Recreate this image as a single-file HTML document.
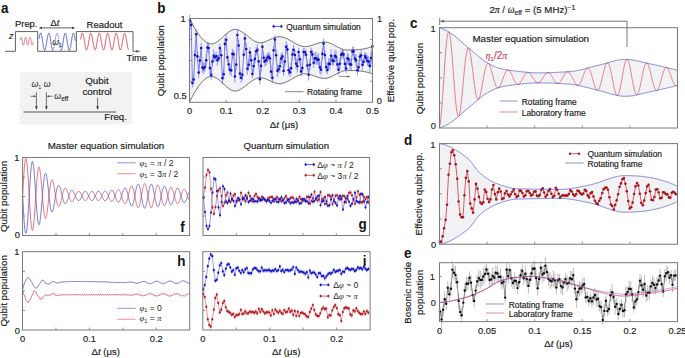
<!DOCTYPE html>
<html><head><meta charset="utf-8"><style>
html,body{margin:0;padding:0;background:#fff;width:685px;height:358px;overflow:hidden}
svg{display:block}
text{font-family:"Liberation Sans", sans-serif}
</style></head><body>
<svg width="685" height="358" viewBox="0 0 685 358">
<rect width="685" height="358" fill="#fff"/>
<text transform="translate(1.00,13.30) scale(0.9,1)" font-size="15" font-weight="bold" fill="#111">a</text>
<path d="M5,51.3 H15.4 V31.6 H37.7 V51.3 H76.4 V31.6 H133 V51.3 H138.5" fill="none" stroke="#606060" stroke-width="1"/>
<path d="M136.2,49.9 L140.6,51.3 L136.2,52.7 Z" fill="#606060"/>
<text x="15.00" y="27.20" font-size="9.4" text-anchor="start" fill="#1e1e1e" font-weight="normal" stroke="#1e1e1e" stroke-width="0.18" >Prep.</text>
<text x="86.60" y="28.00" font-size="9.5" text-anchor="start" fill="#1e1e1e" font-weight="normal" stroke="#1e1e1e" stroke-width="0.18" >Readout</text>
<text x="126.50" y="61.30" font-size="9.4" text-anchor="start" fill="#1e1e1e" font-weight="normal" stroke="#1e1e1e" stroke-width="0.18" >Time</text>
<text x="8.8" y="39.0" font-size="9.5" fill="#1e1e1e" font-style="italic">z</text>
<line x1="40.5" y1="27.9" x2="73.5" y2="27.9" stroke="#333" stroke-width="0.8"/>
<path d="M38.6,27.9 L42,26.7 L42,29.1 Z" fill="#333"/><path d="M75.4,27.9 L72,26.7 L72,29.1 Z" fill="#333"/>
<text x="50.6" y="25.6" font-size="9.3" fill="#1e1e1e" stroke="#1e1e1e" stroke-width="0.18">Δ<tspan font-style="italic">t</tspan></text>
<path d="M20.3,40.1 L20.4,39.6 L20.5,39.1 L20.6,38.7 L20.7,38.3 L20.8,38.0 L20.9,37.7 L20.9,37.5 L21.0,37.3 L21.1,37.2 L21.2,37.2 L21.3,37.3 L21.4,37.4 L21.5,37.6 L21.6,37.8 L21.7,38.1 L21.8,38.5 L21.9,38.9 L22.0,39.4 L22.1,39.9 L22.2,40.4 L22.2,40.9 L22.3,41.4 L22.4,42.0 L22.5,42.5 L22.6,43.0 L22.7,43.4 L22.8,43.8 L22.9,44.2 L23.0,44.5 L23.1,44.8 L23.2,45.0 L23.3,45.1 L23.4,45.2 L23.5,45.2 L23.5,45.1 L23.6,45.0 L23.7,44.8 L23.8,44.5 L23.9,44.1 L24.0,43.8 L24.1,43.3 L24.2,42.9 L24.3,42.4 L24.4,41.9 L24.5,41.3 L24.6,40.8 L24.7,40.3 L24.8,39.8 L24.8,39.3 L24.9,38.8 L25.0,38.4 L25.1,38.1 L25.2,37.8 L25.3,37.5 L25.4,37.4 L25.5,37.2 L25.6,37.2 L25.7,37.2 L25.8,37.3 L25.9,37.5 L26.0,37.7 L26.1,38.0 L26.1,38.4 L26.2,38.8 L26.3,39.2 L26.4,39.7 L26.5,40.2 L26.6,40.7 L26.7,41.2 L26.8,41.7 L26.9,42.3 L27.0,42.8 L27.1,43.2 L27.2,43.7 L27.3,44.1 L27.4,44.4 L27.4,44.7 L27.5,44.9 L27.6,45.1 L27.7,45.2 L27.8,45.2 L27.9,45.2 L28.0,45.0 L28.1,44.8 L28.2,44.6 L28.3,44.3 L28.4,43.9 L28.5,43.5 L28.6,43.1 L28.7,42.6 L28.7,42.1 L28.8,41.6 L28.9,41.0 L29.0,40.5 L29.1,40.0 L29.2,39.5 L29.3,39.0 L29.4,38.6 L29.5,38.2 L29.6,37.9 L29.7,37.6 L29.8,37.4 L29.9,37.3 L30.0,37.2 L30.0,37.2 L30.1,37.3 L30.2,37.4 L30.3,37.6 L30.4,37.9 L30.5,38.2 L30.6,38.6 L30.7,39.0 L30.8,39.5 L30.9,40.0 L31.0,40.5 L31.1,41.0 L31.2,41.5 L31.3,42.1 L31.3,42.6 L31.4,43.0 L31.5,43.5 L31.6,43.9 L31.7,44.3 L31.8,44.6 L31.9,44.8 L32.0,45.0 L32.1,45.1 L32.2,45.2 L32.3,45.2 L32.4,45.1 L32.5,44.9 L32.6,44.7 L32.6,44.4 L32.7,44.1 L32.8,43.7 L32.9,43.3 L33.0,42.8 L33.1,42.3 L33.2,41.8" fill="none" stroke="#d0505a" stroke-width="0.75" />
<path d="M39.0,38.9 L39.1,38.3 L39.2,37.8 L39.3,37.3 L39.4,36.8 L39.5,36.3 L39.5,35.9 L39.6,35.4 L39.7,35.1 L39.8,34.7 L39.9,34.4 L40.0,34.1 L40.1,33.8 L40.2,33.6 L40.3,33.5 L40.4,33.3 L40.5,33.3 L40.5,33.2 L40.6,33.2 L40.7,33.2 L40.8,33.3 L40.9,33.4 L41.0,33.6 L41.1,33.8 L41.2,34.0 L41.3,34.3 L41.4,34.6 L41.5,35.0 L41.5,35.4 L41.6,35.8 L41.7,36.2 L41.8,36.7 L41.9,37.2 L42.0,37.7 L42.1,38.2 L42.2,38.8 L42.3,39.4 L42.4,39.9 L42.5,40.5 L42.5,41.1 L42.6,41.7 L42.7,42.3 L42.8,42.9 L42.9,43.5 L43.0,44.1 L43.1,44.7 L43.2,45.2 L43.3,45.8 L43.4,46.3 L43.5,46.8 L43.5,47.3 L43.6,47.7 L43.7,48.1 L43.8,48.5 L43.9,48.9 L44.0,49.2 L44.1,49.5 L44.2,49.7 L44.3,50.0 L44.4,50.1 L44.5,50.3 L44.5,50.3 L44.6,50.4 L44.7,50.4 L44.8,50.4 L44.9,50.3 L45.0,50.2 L45.1,50.0 L45.2,49.8 L45.3,49.6 L45.4,49.3 L45.5,49.0 L45.6,48.6 L45.6,48.3 L45.7,47.8 L45.8,47.4 L45.9,46.9 L46.0,46.4 L46.1,45.9 L46.2,45.4 L46.3,44.8 L46.4,44.3 L46.5,43.7 L46.6,43.1 L46.6,42.5 L46.7,41.9 L46.8,41.3 L46.9,40.7 L47.0,40.1 L47.1,39.5 L47.2,39.0 L47.3,38.4 L47.4,37.9 L47.5,37.3 L47.6,36.8 L47.6,36.4 L47.7,35.9 L47.8,35.5 L47.9,35.1 L48.0,34.7 L48.1,34.4 L48.2,34.1 L48.3,33.9 L48.4,33.7 L48.5,33.5 L48.6,33.4 L48.6,33.3 L48.7,33.2 L48.8,33.2 L48.9,33.2 L49.0,33.3 L49.1,33.4 L49.2,33.6 L49.3,33.8 L49.4,34.0 L49.5,34.3 L49.6,34.6 L49.6,34.9 L49.7,35.3 L49.8,35.7 L49.9,36.2 L50.0,36.6 L50.1,37.1 L50.2,37.6 L50.3,38.2 L50.4,38.7 L50.5,39.3 L50.6,39.9 L50.6,40.5 L50.7,41.1 L50.8,41.6 L50.9,42.2 L51.0,42.8 L51.1,43.4 L51.2,44.0 L51.3,44.6 L51.4,45.2 L51.5,45.7 L51.6,46.2 L51.6,46.7 L51.7,47.2 L51.8,47.7 L51.9,48.1 L52.0,48.5 L52.1,48.8 L52.2,49.2 L52.3,49.5 L52.4,49.7 L52.5,49.9 L52.6,50.1 L52.6,50.2 L52.7,50.3" fill="none" stroke="#4448c4" stroke-width="0.9" />
<path d="M52.8,50.4 L52.9,50.4 L53.0,50.4 L53.1,50.3 L53.2,50.2 L53.3,50.0 L53.4,49.8 L53.5,49.6 L53.6,49.3 L53.6,49.0 L53.7,48.7 L53.8,48.3 L53.9,47.9 L54.0,47.5 L54.1,47.0 L54.2,46.5 L54.3,46.0 L54.4,45.5 L54.5,44.9 L54.6,44.3 L54.6,43.8 L54.7,43.2 L54.8,42.6 L54.9,42.0 L55.0,41.4 L55.1,40.8 L55.2,40.2 L55.3,39.6 L55.4,39.0 L55.5,38.5 L55.6,37.9 L55.6,37.4 L55.7,36.9 L55.8,36.4 L55.9,36.0 L56.0,35.5 L56.1,35.1 L56.2,34.8 L56.3,34.5 L56.4,34.2 L56.5,33.9 L56.6,33.7 L56.6,33.5 L56.7,33.4 L56.8,33.3 L56.9,33.2 L57.0,33.2 L57.1,33.2 L57.2,33.3 L57.3,33.4 L57.4,33.6 L57.5,33.7 L57.6,34.0 L57.7,34.2 L57.7,34.6 L57.8,34.9 L57.9,35.3 L58.0,35.7 L58.1,36.1 L58.2,36.6 L58.3,37.1 L58.4,37.6 L58.5,38.1 L58.6,38.6 L58.7,39.2 L58.7,39.8 L58.8,40.4 L58.9,41.0 L59.0,41.6 L59.1,42.2 L59.2,42.8 L59.3,43.4 L59.4,43.9 L59.5,44.5 L59.6,45.1 L59.7,45.6 L59.7,46.2 L59.8,46.7 L59.9,47.1 L60.0,47.6 L60.1,48.0 L60.2,48.4 L60.3,48.8 L60.4,49.1 L60.5,49.4" fill="none" stroke="#4448c4" stroke-width="0.9" stroke-dasharray="1.3,1"/>
<path d="M60.6,49.7 L60.7,49.9 L60.7,50.1 L60.8,50.2 L60.9,50.3 L61.0,50.4 L61.1,50.4 L61.2,50.4 L61.3,50.3 L61.4,50.2 L61.5,50.1 L61.6,49.9 L61.7,49.6 L61.7,49.4 L61.8,49.1 L61.9,48.7 L62.0,48.4 L62.1,48.0 L62.2,47.5 L62.3,47.1 L62.4,46.6 L62.5,46.1 L62.6,45.5 L62.7,45.0 L62.7,44.4 L62.8,43.8 L62.9,43.3 L63.0,42.7 L63.1,42.1 L63.2,41.5 L63.3,40.9 L63.4,40.3 L63.5,39.7 L63.6,39.1 L63.7,38.6 L63.7,38.0 L63.8,37.5 L63.9,37.0 L64.0,36.5 L64.1,36.0 L64.2,35.6 L64.3,35.2 L64.4,34.8 L64.5,34.5 L64.6,34.2 L64.7,33.9 L64.7,33.7 L64.8,33.5 L64.9,33.4 L65.0,33.3 L65.1,33.2 L65.2,33.2 L65.3,33.2 L65.4,33.3 L65.5,33.4 L65.6,33.5 L65.7,33.7 L65.7,33.9 L65.8,34.2 L65.9,34.5 L66.0,34.8 L66.1,35.2 L66.2,35.6 L66.3,36.0 L66.4,36.5 L66.5,37.0 L66.6,37.5 L66.7,38.0 L66.7,38.6 L66.8,39.1 L66.9,39.7 L67.0,40.3 L67.1,40.9 L67.2,41.5 L67.3,42.1 L67.4,42.7 L67.5,43.3 L67.6,43.9 L67.7,44.4 L67.7,45.0 L67.8,45.6 L67.9,46.1 L68.0,46.6 L68.1,47.1 L68.2,47.5 L68.3,48.0 L68.4,48.4 L68.5,48.7 L68.6,49.1 L68.7,49.4 L68.7,49.6 L68.8,49.9 L68.9,50.1 L69.0,50.2 L69.1,50.3 L69.2,50.4 L69.3,50.4 L69.4,50.4 L69.5,50.3 L69.6,50.2 L69.7,50.1 L69.8,49.9 L69.8,49.7 L69.9,49.4 L70.0,49.1 L70.1,48.8 L70.2,48.4 L70.3,48.0 L70.4,47.6 L70.5,47.1 L70.6,46.6 L70.7,46.1 L70.8,45.6 L70.8,45.1 L70.9,44.5 L71.0,43.9 L71.1,43.3 L71.2,42.7 L71.3,42.1 L71.4,41.5 L71.5,41.0 L71.6,40.4 L71.7,39.8 L71.8,39.2 L71.8,38.6 L71.9,38.1 L72.0,37.5 L72.1,37.0 L72.2,36.6 L72.3,36.1 L72.4,35.7 L72.5,35.3 L72.6,34.9 L72.7,34.5 L72.8,34.2 L72.8,34.0 L72.9,33.7 L73.0,33.6 L73.1,33.4 L73.2,33.3 L73.3,33.2 L73.4,33.2 L73.5,33.2 L73.6,33.3 L73.7,33.4 L73.8,33.5 L73.8,33.7 L73.9,33.9 L74.0,34.2 L74.1,34.5 L74.2,34.8 L74.3,35.2 L74.4,35.6 L74.5,36.0 L74.6,36.4 L74.7,36.9 L74.8,37.4 L74.8,38.0 L74.9,38.5 L75.0,39.1 L75.1,39.6 L75.2,40.2 L75.3,40.8" fill="none" stroke="#4448c4" stroke-width="0.9" />
<text x="52.2" y="45.2" font-size="8.6" fill="#1e1e1e" font-family="Liberation Serif" font-style="italic">ω<tspan font-size="5.5" dy="1.6" font-family="Liberation Sans" font-style="normal">1</tspan></text>
<path d="M80.6,39.5 L80.7,38.8 L80.8,38.1 L81.0,37.4 L81.1,36.8 L81.2,36.2 L81.3,35.6 L81.4,35.1 L81.6,34.7 L81.7,34.3 L81.8,33.9 L81.9,33.7 L82.0,33.4 L82.2,33.3 L82.3,33.2 L82.4,33.2 L82.5,33.3 L82.7,33.4 L82.8,33.6 L82.9,33.8 L83.0,34.1 L83.1,34.5 L83.3,34.9 L83.4,35.4 L83.5,36.0 L83.6,36.5 L83.7,37.2 L83.9,37.8 L84.0,38.5 L84.1,39.2 L84.2,40.0 L84.3,40.7 L84.5,41.5 L84.6,42.2 L84.7,43.0 L84.8,43.7 L84.9,44.4 L85.1,45.1 L85.2,45.8 L85.3,46.4 L85.4,47.0 L85.6,47.6 L85.7,48.1 L85.8,48.5 L85.9,48.9 L86.0,49.3 L86.2,49.5 L86.3,49.8 L86.4,49.9 L86.5,50.0 L86.6,50.0 L86.8,49.9 L86.9,49.8 L87.0,49.6 L87.1,49.4 L87.2,49.1 L87.4,48.7 L87.5,48.2 L87.6,47.8 L87.7,47.2 L87.8,46.6 L88.0,46.0 L88.1,45.4 L88.2,44.7 L88.3,44.0 L88.5,43.2 L88.6,42.5 L88.7,41.7 L88.8,41.0 L88.9,40.2 L89.1,39.5 L89.2,38.8 L89.3,38.1 L89.4,37.4 L89.5,36.8 L89.7,36.2 L89.8,35.6 L89.9,35.1 L90.0,34.7 L90.1,34.3 L90.3,33.9 L90.4,33.6 L90.5,33.4 L90.6,33.3 L90.7,33.2 L90.9,33.2 L91.0,33.3 L91.1,33.4 L91.2,33.6 L91.4,33.8 L91.5,34.2 L91.6,34.5 L91.7,35.0 L91.8,35.5 L92.0,36.0 L92.1,36.6 L92.2,37.2 L92.3,37.9 L92.4,38.5 L92.6,39.3 L92.7,40.0 L92.8,40.7 L92.9,41.5 L93.0,42.2 L93.2,43.0 L93.3,43.7 L93.4,44.5 L93.5,45.2 L93.6,45.8 L93.8,46.5 L93.9,47.0 L94.0,47.6 L94.1,48.1 L94.3,48.6 L94.4,48.9 L94.5,49.3 L94.6,49.6 L94.7,49.8 L94.9,49.9 L95.0,50.0 L95.1,50.0 L95.2,49.9 L95.3,49.8 L95.5,49.6 L95.6,49.4 L95.7,49.0 L95.8,48.7 L95.9,48.2 L96.1,47.7 L96.2,47.2 L96.3,46.6 L96.4,46.0 L96.5,45.3 L96.7,44.6 L96.8,43.9 L96.9,43.2 L97.0,42.4 L97.1,41.7 L97.3,40.9 L97.4,40.2 L97.5,39.4 L97.6,38.7 L97.8,38.0 L97.9,37.4 L98.0,36.7 L98.1,36.1 L98.2,35.6 L98.4,35.1 L98.5,34.6 L98.6,34.2 L98.7,33.9 L98.8,33.6 L99.0,33.4 L99.1,33.3 L99.2,33.2 L99.3,33.2 L99.4,33.3 L99.6,33.4 L99.7,33.6 L99.8,33.8 L99.9,34.2 L100.0,34.5 L100.2,35.0 L100.3,35.5 L100.4,36.0 L100.5,36.6 L100.7,37.2 L100.8,37.9 L100.9,38.6 L101.0,39.3 L101.1,40.0 L101.3,40.8 L101.4,41.5 L101.5,42.3 L101.6,43.0 L101.7,43.8 L101.9,44.5 L102.0,45.2 L102.1,45.9 L102.2,46.5 L102.3,47.1 L102.5,47.6 L102.6,48.1 L102.7,48.6 L102.8,49.0 L102.9,49.3 L103.1,49.6 L103.2,49.8 L103.3,49.9 L103.4,50.0 L103.6,50.0 L103.7,49.9 L103.8,49.8 L103.9,49.6 L104.0,49.3 L104.2,49.0 L104.3,48.6 L104.4,48.2 L104.5,47.7 L104.6,47.2 L104.8,46.6 L104.9,46.0 L105.0,45.3 L105.1,44.6 L105.2,43.9 L105.4,43.1 L105.5,42.4 L105.6,41.6 L105.7,40.9 L105.8,40.1 L106.0,39.4 L106.1,38.7 L106.2,38.0 L106.3,37.3 L106.5,36.7 L106.6,36.1 L106.7,35.6 L106.8,35.1 L106.9,34.6 L107.1,34.2 L107.2,33.9 L107.3,33.6 L107.4,33.4 L107.5,33.3 L107.7,33.2 L107.8,33.2 L107.9,33.3 L108.0,33.4 L108.1,33.6 L108.3,33.9 L108.4,34.2 L108.5,34.6 L108.6,35.0 L108.7,35.5 L108.9,36.0 L109.0,36.6 L109.1,37.3 L109.2,37.9 L109.4,38.6 L109.5,39.3 L109.6,40.1 L109.7,40.8 L109.8,41.6 L110.0,42.3 L110.1,43.1 L110.2,43.8 L110.3,44.5 L110.4,45.2 L110.6,45.9 L110.7,46.5 L110.8,47.1 L110.9,47.7 L111.0,48.2 L111.2,48.6 L111.3,49.0 L111.4,49.3 L111.5,49.6 L111.6,49.8 L111.8,49.9 L111.9,50.0 L112.0,50.0 L112.1,49.9 L112.3,49.8 L112.4,49.6 L112.5,49.3 L112.6,49.0 L112.7,48.6 L112.9,48.2 L113.0,47.7 L113.1,47.1 L113.2,46.5 L113.3,45.9 L113.5,45.3 L113.6,44.6 L113.7,43.8 L113.8,43.1 L113.9,42.4 L114.1,41.6 L114.2,40.9 L114.3,40.1 L114.4,39.4 L114.5,38.7 L114.7,38.0 L114.8,37.3 L114.9,36.7 L115.0,36.1 L115.1,35.5 L115.3,35.0 L115.4,34.6 L115.5,34.2 L115.6,33.9 L115.8,33.6 L115.9,33.4 L116.0,33.3 L116.1,33.2 L116.2,33.2 L116.4,33.3 L116.5,33.4 L116.6,33.6 L116.7,33.9 L116.8,34.2 L117.0,34.6 L117.1,35.0 L117.2,35.5 L117.3,36.1 L117.4,36.7 L117.6,37.3 L117.7,38.0 L117.8,38.7 L117.9,39.4 L118.0,40.1 L118.2,40.9 L118.3,41.6 L118.4,42.4 L118.5,43.1 L118.7,43.8 L118.8,44.6 L118.9,45.3 L119.0,45.9 L119.1,46.5 L119.3,47.1 L119.4,47.7 L119.5,48.2 L119.6,48.6 L119.7,49.0 L119.9,49.3 L120.0,49.6 L120.1,49.8 L120.2,49.9 L120.3,50.0 L120.5,50.0 L120.6,49.9 L120.7,49.8 L120.8,49.6 L120.9,49.3 L121.1,49.0 L121.2,48.6 L121.3,48.2 L121.4,47.7 L121.6,47.1 L121.7,46.5 L121.8,45.9 L121.9,45.2 L122.0,44.5 L122.2,43.8 L122.3,43.1 L122.4,42.3 L122.5,41.6 L122.6,40.8 L122.8,40.1 L122.9,39.3 L123.0,38.6 L123.1,37.9 L123.2,37.3 L123.4,36.6 L123.5,36.0 L123.6,35.5 L123.7,35.0 L123.8,34.6 L124.0,34.2 L124.1,33.9 L124.2,33.6 L124.3,33.4 L124.5,33.3 L124.6,33.2 L124.7,33.2 L124.8,33.3 L124.9,33.4 L125.1,33.6 L125.2,33.9 L125.3,34.2 L125.4,34.6 L125.5,35.1 L125.7,35.6 L125.8,36.1 L125.9,36.7 L126.0,37.3 L126.1,38.0 L126.3,38.7 L126.4,39.4 L126.5,40.1 L126.6,40.9 L126.7,41.6 L126.9,42.4 L127.0,43.1 L127.1,43.9 L127.2,44.6 L127.4,45.3 L127.5,46.0 L127.6,46.6 L127.7,47.2 L127.8,47.7 L128.0,48.2 L128.1,48.6 L128.2,49.0 L128.3,49.3 L128.4,49.6 L128.6,49.8 L128.7,49.9 L128.8,50.0" fill="none" stroke="#d83c4a" stroke-width="0.9" />
<rect x="19.5" y="71.8" width="112" height="52.8" fill="#f2f2f2"/>
<text x="31.5" y="87.2" font-size="8.8" fill="#1e1e1e" font-family="Liberation Serif" font-style="italic">ω<tspan font-size="5.5" dy="1.6" font-family="Liberation Sans" font-style="normal">1</tspan><tspan dy="-1.6"> ω</tspan></text>
<line x1="36.4" y1="92.3" x2="36.4" y2="107.3" stroke="#333" stroke-width="0.7"/>
<path d="M35.1,106.3 L36.4,110 L37.699999999999996,106.3 Z" fill="#333"/>
<line x1="46.4" y1="92.3" x2="46.4" y2="107.3" stroke="#333" stroke-width="0.7"/>
<path d="M45.1,106.3 L46.4,110 L47.699999999999996,106.3 Z" fill="#333"/>
<line x1="97.6" y1="97.7" x2="97.6" y2="107.3" stroke="#333" stroke-width="0.7"/>
<path d="M96.3,106.3 L97.6,110 L98.89999999999999,106.3 Z" fill="#333"/>
<line x1="30.5" y1="96.3" x2="34.5" y2="96.3" stroke="#333" stroke-width="0.6"/>
<path d="M33.6,95.3 L36.2,96.3 L33.6,97.3 Z" fill="#333"/>
<line x1="48.3" y1="96.3" x2="52.7" y2="96.3" stroke="#333" stroke-width="0.6"/>
<path d="M49.2,95.3 L46.6,96.3 L49.2,97.3 Z" fill="#333"/>
<text x="54.3" y="99.2" font-size="8.8" fill="#1e1e1e" font-family="Liberation Serif" font-style="italic">ω<tspan font-size="6.5" dy="1.8" font-family="Liberation Sans" font-style="normal" stroke="#1e1e1e" stroke-width="0.15">eff</tspan></text>
<line x1="23.6" y1="112" x2="116.3" y2="112" stroke="#8a8a8a" stroke-width="1.4"/>
<text x="85.20" y="83.90" font-size="9.8" text-anchor="start" fill="#1e1e1e" font-weight="normal" stroke="#1e1e1e" stroke-width="0.18" >Qubit</text>
<text x="82.40" y="95.40" font-size="9.8" text-anchor="start" fill="#1e1e1e" font-weight="normal" stroke="#1e1e1e" stroke-width="0.18" >control</text>
<text x="104.30" y="119.60" font-size="9.7" text-anchor="start" fill="#1e1e1e" font-weight="normal" stroke="#1e1e1e" stroke-width="0.18" >Freq.</text>
<path d="M189.5,18.4 L190.0,19.3 L190.4,20.2 L190.9,21.1 L191.3,22.0 L191.8,22.9 L192.3,23.7 L192.7,24.6 L193.2,25.4 L193.6,26.3 L194.1,27.1 L194.5,27.9 L195.0,28.6 L195.5,29.4 L195.9,30.1 L196.4,30.9 L196.8,31.6 L197.3,32.3 L197.8,33.0 L198.2,33.6 L198.7,34.3 L199.1,34.9 L199.6,35.5 L200.0,36.1 L200.5,36.7 L201.0,37.3 L201.4,37.8 L201.9,38.3 L202.3,38.8 L202.8,39.3 L203.3,39.7 L203.7,40.2 L204.2,40.6 L204.6,41.0 L205.1,41.3 L205.6,41.7 L206.0,42.0 L206.5,42.3 L206.9,42.6 L207.4,42.8 L207.8,43.0 L208.3,43.2 L208.8,43.4 L209.2,43.6 L209.7,43.7 L210.1,43.8 L210.6,43.8 L211.1,43.9 L211.5,43.9 L212.0,43.9 L212.4,43.8 L212.9,43.8 L213.3,43.6 L213.8,43.5 L214.3,43.3 L214.7,43.2 L215.2,42.9 L215.6,42.7 L216.1,42.4 L216.6,42.2 L217.0,41.9 L217.5,41.6 L217.9,41.2 L218.4,40.9 L218.9,40.5 L219.3,40.2 L219.8,39.8 L220.2,39.4 L220.7,39.0 L221.1,38.6 L221.6,38.2 L222.1,37.7 L222.5,37.3 L223.0,36.9 L223.4,36.5 L223.9,36.1 L224.4,35.6 L224.8,35.2 L225.3,34.8 L225.7,34.4 L226.2,34.0 L226.7,33.6 L227.1,33.2 L227.6,32.8 L228.0,32.5 L228.5,32.1 L228.9,31.8 L229.4,31.5 L229.9,31.2 L230.3,30.9 L230.8,30.6 L231.2,30.4 L231.7,30.2 L232.2,30.0 L232.6,29.8 L233.1,29.7 L233.5,29.6 L234.0,29.5 L234.4,29.4 L234.9,29.4 L235.4,29.4 L235.8,29.4 L236.3,29.5 L236.7,29.6 L237.2,29.7 L237.7,29.8 L238.1,30.0 L238.6,30.1 L239.0,30.3 L239.5,30.5 L240.0,30.8 L240.4,31.0 L240.9,31.3 L241.3,31.5 L241.8,31.8 L242.2,32.1 L242.7,32.4 L243.2,32.7 L243.6,33.1 L244.1,33.4 L244.5,33.7 L245.0,34.1 L245.5,34.4 L245.9,34.8 L246.4,35.2 L246.8,35.5 L247.3,35.9 L247.7,36.2 L248.2,36.6 L248.7,37.0 L249.1,37.3 L249.6,37.7 L250.0,38.1 L250.5,38.4 L251.0,38.7 L251.4,39.1 L251.9,39.4 L252.3,39.7 L252.8,40.0 L253.3,40.3 L253.7,40.6 L254.2,40.9 L254.6,41.1 L255.1,41.4 L255.5,41.6 L256.0,41.8 L256.5,42.0 L256.9,42.1 L257.4,42.3 L257.8,42.4 L258.3,42.5 L258.8,42.6 L259.2,42.7 L259.7,42.7 L260.1,42.7 L260.6,42.7 L261.0,42.6 L261.5,42.6 L262.0,42.5 L262.4,42.4 L262.9,42.3 L263.3,42.2 L263.8,42.1 L264.3,42.0 L264.7,41.8 L265.2,41.7 L265.6,41.5 L266.1,41.3 L266.6,41.1 L267.0,40.9 L267.5,40.7 L267.9,40.5 L268.4,40.3 L268.8,40.1 L269.3,39.9 L269.8,39.7 L270.2,39.5 L270.7,39.3 L271.1,39.1 L271.6,38.9 L272.1,38.7 L272.5,38.5 L273.0,38.3 L273.4,38.1 L273.9,37.9 L274.3,37.7 L274.8,37.6 L275.3,37.4 L275.7,37.3 L276.2,37.2 L276.6,37.0 L277.1,36.9 L277.6,36.9 L278.0,36.8 L278.5,36.7 L278.9,36.7 L279.4,36.7 L279.9,36.7 L280.3,36.7 L280.8,36.8 L281.2,36.8 L281.7,36.9 L282.1,37.0 L282.6,37.1 L283.1,37.2 L283.5,37.4 L284.0,37.5 L284.4,37.7 L284.9,37.8 L285.4,38.0 L285.8,38.2 L286.3,38.4 L286.7,38.6 L287.2,38.9 L287.7,39.1 L288.1,39.3 L288.6,39.6 L289.0,39.8 L289.5,40.1 L289.9,40.3 L290.4,40.6 L290.9,40.8 L291.3,41.1 L291.8,41.4 L292.2,41.6 L292.7,41.9 L293.2,42.2 L293.6,42.4 L294.1,42.7 L294.5,43.0 L295.0,43.2 L295.4,43.5 L295.9,43.7 L296.4,44.0 L296.8,44.2 L297.3,44.4 L297.7,44.6 L298.2,44.9 L298.7,45.1 L299.1,45.3 L299.6,45.4 L300.0,45.6 L300.5,45.8 L301.0,45.9 L301.4,46.1 L301.9,46.2 L302.3,46.3 L302.8,46.4 L303.2,46.5 L303.7,46.5 L304.2,46.6 L304.6,46.6 L305.1,46.6 L305.5,46.6 L306.0,46.6 L306.5,46.5 L306.9,46.5 L307.4,46.4 L307.8,46.3 L308.3,46.3 L308.7,46.2 L309.2,46.1 L309.7,45.9 L310.1,45.8 L310.6,45.7 L311.0,45.5 L311.5,45.4 L312.0,45.3 L312.4,45.1 L312.9,45.0 L313.3,44.8 L313.8,44.6 L314.3,44.5 L314.7,44.3 L315.2,44.2 L315.6,44.0 L316.1,43.8 L316.5,43.7 L317.0,43.5 L317.5,43.4 L317.9,43.2 L318.4,43.1 L318.8,42.9 L319.3,42.8 L319.8,42.7 L320.2,42.6 L320.7,42.5 L321.1,42.4 L321.6,42.3 L322.0,42.2 L322.5,42.1 L323.0,42.1 L323.4,42.0 L323.9,42.0 L324.3,42.0 L324.8,42.0 L325.3,42.0 L325.7,42.1 L326.2,42.1 L326.6,42.2 L327.1,42.3 L327.6,42.4 L328.0,42.5 L328.5,42.7 L328.9,42.8 L329.4,43.0 L329.8,43.1 L330.3,43.3 L330.8,43.5 L331.2,43.7 L331.7,43.9 L332.1,44.1 L332.6,44.4 L333.1,44.6 L333.5,44.8 L334.0,45.1 L334.4,45.3 L334.9,45.5 L335.3,45.8 L335.8,46.0 L336.3,46.3 L336.7,46.5 L337.2,46.8 L337.6,47.0 L338.1,47.2 L338.6,47.5 L339.0,47.7 L339.5,47.9 L339.9,48.1 L340.4,48.3 L340.9,48.5 L341.3,48.7 L341.8,48.9 L342.2,49.1 L342.7,49.2 L343.1,49.4 L343.6,49.5 L344.1,49.6 L344.5,49.7 L345.0,49.8 L345.4,49.9 L345.9,49.9 L346.4,50.0 L346.8,50.0 L347.3,50.0 L347.7,50.0 L348.2,50.0 L348.7,50.0 L349.1,50.0 L349.6,50.0 L350.0,50.0 L350.5,50.0 L350.9,50.0 L351.4,50.0 L351.9,50.0 L352.3,50.0 L352.8,49.9 L353.2,49.9 L353.7,49.9 L354.2,49.9 L354.6,49.9 L355.1,49.9 L355.5,49.8 L356.0,49.8 L356.4,49.8 L356.9,49.7 L357.4,49.7 L357.8,49.7 L358.3,49.6 L358.7,49.6 L359.2,49.5 L359.7,49.5 L360.1,49.4 L360.6,49.4 L361.0,49.3 L361.5,49.3 L362.0,49.2 L362.4,49.1 L362.9,49.1 L363.3,49.0 L363.8,48.9 L364.2,48.8 L364.7,48.7 L365.2,48.6 L365.6,48.5 L366.1,48.4 L366.5,48.3 L367.0,48.2 L367.5,48.1 L367.9,48.0 L368.4,47.8 L368.8,47.7 L369.3,47.6 L369.7,47.4 L370.2,47.3 L370.7,47.1 L371.1,46.9 L371.6,46.8 L372.0,46.6 L372.5,46.4 L372.5,74.0 L372.0,73.8 L371.6,73.6 L371.1,73.5 L370.7,73.3 L370.2,73.1 L369.7,73.0 L369.3,72.8 L368.8,72.7 L368.4,72.6 L367.9,72.4 L367.5,72.3 L367.0,72.2 L366.5,72.1 L366.1,72.0 L365.6,71.9 L365.2,71.8 L364.7,71.7 L364.2,71.6 L363.8,71.5 L363.3,71.4 L362.9,71.3 L362.4,71.3 L362.0,71.2 L361.5,71.1 L361.0,71.1 L360.6,71.0 L360.1,71.0 L359.7,70.9 L359.2,70.9 L358.7,70.8 L358.3,70.8 L357.8,70.7 L357.4,70.7 L356.9,70.7 L356.4,70.6 L356.0,70.6 L355.5,70.6 L355.1,70.5 L354.6,70.5 L354.2,70.5 L353.7,70.5 L353.2,70.5 L352.8,70.5 L352.3,70.4 L351.9,70.4 L351.4,70.4 L350.9,70.4 L350.5,70.4 L350.0,70.4 L349.6,70.4 L349.1,70.4 L348.7,70.4 L348.2,70.4 L347.7,70.4 L347.3,70.4 L346.8,70.4 L346.4,70.4 L345.9,70.5 L345.4,70.5 L345.0,70.6 L344.5,70.7 L344.1,70.8 L343.6,70.9 L343.1,71.0 L342.7,71.2 L342.2,71.3 L341.8,71.5 L341.3,71.7 L340.9,71.9 L340.4,72.1 L339.9,72.3 L339.5,72.5 L339.0,72.7 L338.6,72.9 L338.1,73.2 L337.6,73.4 L337.2,73.6 L336.7,73.9 L336.3,74.1 L335.8,74.4 L335.3,74.6 L334.9,74.9 L334.4,75.1 L334.0,75.3 L333.5,75.6 L333.1,75.8 L332.6,76.0 L332.1,76.3 L331.7,76.5 L331.2,76.7 L330.8,76.9 L330.3,77.1 L329.8,77.3 L329.4,77.4 L328.9,77.6 L328.5,77.7 L328.0,77.9 L327.6,78.0 L327.1,78.1 L326.6,78.2 L326.2,78.3 L325.7,78.3 L325.3,78.4 L324.8,78.4 L324.3,78.4 L323.9,78.4 L323.4,78.4 L323.0,78.3 L322.5,78.3 L322.0,78.2 L321.6,78.1 L321.1,78.0 L320.7,77.9 L320.2,77.8 L319.8,77.7 L319.3,77.6 L318.8,77.5 L318.4,77.3 L317.9,77.2 L317.5,77.0 L317.0,76.9 L316.5,76.7 L316.1,76.6 L315.6,76.4 L315.2,76.2 L314.7,76.1 L314.3,75.9 L313.8,75.8 L313.3,75.6 L312.9,75.4 L312.4,75.3 L312.0,75.1 L311.5,75.0 L311.0,74.9 L310.6,74.7 L310.1,74.6 L309.7,74.5 L309.2,74.3 L308.7,74.2 L308.3,74.1 L307.8,74.1 L307.4,74.0 L306.9,73.9 L306.5,73.9 L306.0,73.8 L305.5,73.8 L305.1,73.8 L304.6,73.8 L304.2,73.8 L303.7,73.9 L303.2,73.9 L302.8,74.0 L302.3,74.1 L301.9,74.2 L301.4,74.3 L301.0,74.5 L300.5,74.6 L300.0,74.8 L299.6,75.0 L299.1,75.1 L298.7,75.3 L298.2,75.5 L297.7,75.8 L297.3,76.0 L296.8,76.2 L296.4,76.4 L295.9,76.7 L295.4,76.9 L295.0,77.2 L294.5,77.4 L294.1,77.7 L293.6,78.0 L293.2,78.2 L292.7,78.5 L292.2,78.8 L291.8,79.0 L291.3,79.3 L290.9,79.6 L290.4,79.8 L289.9,80.1 L289.5,80.3 L289.0,80.6 L288.6,80.8 L288.1,81.1 L287.7,81.3 L287.2,81.5 L286.7,81.8 L286.3,82.0 L285.8,82.2 L285.4,82.4 L284.9,82.6 L284.4,82.7 L284.0,82.9 L283.5,83.0 L283.1,83.2 L282.6,83.3 L282.1,83.4 L281.7,83.5 L281.2,83.6 L280.8,83.6 L280.3,83.7 L279.9,83.7 L279.4,83.7 L278.9,83.7 L278.5,83.7 L278.0,83.6 L277.6,83.5 L277.1,83.5 L276.6,83.4 L276.2,83.2 L275.7,83.1 L275.3,83.0 L274.8,82.8 L274.3,82.7 L273.9,82.5 L273.4,82.3 L273.0,82.1 L272.5,81.9 L272.1,81.7 L271.6,81.5 L271.1,81.3 L270.7,81.1 L270.2,80.9 L269.8,80.7 L269.3,80.5 L268.8,80.3 L268.4,80.1 L267.9,79.9 L267.5,79.7 L267.0,79.5 L266.6,79.3 L266.1,79.1 L265.6,78.9 L265.2,78.7 L264.7,78.6 L264.3,78.4 L263.8,78.3 L263.3,78.2 L262.9,78.1 L262.4,78.0 L262.0,77.9 L261.5,77.8 L261.0,77.8 L260.6,77.7 L260.1,77.7 L259.7,77.7 L259.2,77.7 L258.8,77.8 L258.3,77.9 L257.8,78.0 L257.4,78.1 L256.9,78.3 L256.5,78.4 L256.0,78.6 L255.5,78.8 L255.1,79.0 L254.6,79.3 L254.2,79.5 L253.7,79.8 L253.3,80.1 L252.8,80.4 L252.3,80.7 L251.9,81.0 L251.4,81.3 L251.0,81.7 L250.5,82.0 L250.0,82.3 L249.6,82.7 L249.1,83.1 L248.7,83.4 L248.2,83.8 L247.7,84.2 L247.3,84.5 L246.8,84.9 L246.4,85.2 L245.9,85.6 L245.5,86.0 L245.0,86.3 L244.5,86.7 L244.1,87.0 L243.6,87.3 L243.2,87.7 L242.7,88.0 L242.2,88.3 L241.8,88.6 L241.3,88.9 L240.9,89.1 L240.4,89.4 L240.0,89.6 L239.5,89.9 L239.0,90.1 L238.6,90.3 L238.1,90.4 L237.7,90.6 L237.2,90.7 L236.7,90.8 L236.3,90.9 L235.8,91.0 L235.4,91.0 L234.9,91.0 L234.4,91.0 L234.0,90.9 L233.5,90.8 L233.1,90.7 L232.6,90.6 L232.2,90.4 L231.7,90.2 L231.2,90.0 L230.8,89.8 L230.3,89.5 L229.9,89.2 L229.4,88.9 L228.9,88.6 L228.5,88.3 L228.0,87.9 L227.6,87.6 L227.1,87.2 L226.7,86.8 L226.2,86.4 L225.7,86.0 L225.3,85.6 L224.8,85.2 L224.4,84.8 L223.9,84.3 L223.4,83.9 L223.0,83.5 L222.5,83.1 L222.1,82.7 L221.6,82.2 L221.1,81.8 L220.7,81.4 L220.2,81.0 L219.8,80.6 L219.3,80.2 L218.9,79.9 L218.4,79.5 L217.9,79.2 L217.5,78.8 L217.0,78.5 L216.6,78.2 L216.1,78.0 L215.6,77.7 L215.2,77.5 L214.7,77.2 L214.3,77.1 L213.8,76.9 L213.3,76.8 L212.9,76.6 L212.4,76.6 L212.0,76.5 L211.5,76.5 L211.1,76.5 L210.6,76.6 L210.1,76.6 L209.7,76.7 L209.2,76.8 L208.8,77.0 L208.3,77.2 L207.8,77.4 L207.4,77.6 L206.9,77.8 L206.5,78.1 L206.0,78.4 L205.6,78.7 L205.1,79.1 L204.6,79.4 L204.2,79.8 L203.7,80.2 L203.3,80.7 L202.8,81.1 L202.3,81.6 L201.9,82.1 L201.4,82.6 L201.0,83.1 L200.5,83.7 L200.0,84.3 L199.6,84.9 L199.1,85.5 L198.7,86.1 L198.2,86.8 L197.8,87.4 L197.3,88.1 L196.8,88.8 L196.4,89.5 L195.9,90.3 L195.5,91.0 L195.0,91.8 L194.5,92.5 L194.1,93.3 L193.6,94.1 L193.2,95.0 L192.7,95.8 L192.3,96.7 L191.8,97.5 L191.3,98.4 L190.9,99.3 L190.4,100.2 L190.0,101.1 L189.5,102.0 Z" fill="#f2f2f5" stroke="none"/>
<path d="M189.9,20.6 L191.2,25.0 L192.4,83.0 L193.7,79.6 L194.9,55.0 L196.2,34.3 L197.4,56.4 L198.7,72.6 L199.9,60.6 L201.2,48.1 L202.4,67.6 L203.7,68.4 L204.9,67.0 L206.2,60.2 L207.4,47.6 L208.7,48.0 L209.9,68.1 L211.2,74.9 L212.4,61.5 L213.7,55.8 L214.9,57.2 L216.2,56.3 L217.4,60.3 L218.7,58.2 L219.9,48.1 L221.2,55.2 L222.4,78.1 L223.7,74.2 L224.9,43.9 L226.2,39.8 L227.4,57.4 L228.7,64.2 L229.9,69.7 L231.2,70.5 L232.4,53.9 L233.7,54.2 L234.9,76.5 L236.2,64.6 L237.4,35.0 L238.7,45.5 L239.9,73.5 L241.2,77.8 L242.4,74.7 L243.7,54.8 L244.9,38.4 L246.2,49.0 L247.4,68.7 L248.7,64.8 L249.9,52.4 L251.2,60.3 L252.4,73.9 L253.7,66.1 L254.9,58.9 L256.1,51.2 L257.4,49.9 L258.6,61.4 L259.9,79.2 L261.1,65.9 L262.4,46.8 L263.6,57.7 L264.9,61.4 L266.1,60.3 L267.4,57.7 L268.6,56.5 L269.9,58.2 L271.1,71.6 L272.4,77.9 L273.6,50.2 L274.9,39.5 L276.1,55.2 L277.4,70.8 L278.6,69.3 L279.9,66.2 L281.1,58.6 L282.4,56.4 L283.6,70.9 L284.9,61.5 L286.1,46.8 L287.4,49.4 L288.6,70.2 L289.9,72.2 L291.1,68.2 L292.4,54.5 L293.6,49.8 L294.9,55.0 L296.1,63.8 L297.4,66.1 L298.6,52.0 L299.9,59.2 L301.1,71.4 L302.4,68.1 L303.6,52.1 L304.9,52.2 L306.1,54.7 L307.4,65.6 L308.6,74.7 L309.9,64.7 L311.1,51.8 L312.4,54.4 L313.6,62.8 L314.9,58.4 L316.1,58.2 L317.4,59.9 L318.6,59.6 L319.9,67.4 L321.1,69.8 L322.4,53.9 L323.6,43.6 L324.9,55.0 L326.1,67.0 L327.4,69.9 L328.6,63.9 L329.9,63.9 L331.1,55.7 L332.4,60.5 L333.6,61.1 L334.9,55.8 L336.1,56.9 L337.4,64.4 L338.6,69.8 L339.9,63.8 L341.1,54.7 L342.4,53.5 L343.6,54.6 L344.9,63.9 L346.1,68.5 L347.4,58.2 L348.6,59.2 L349.9,64.2 L351.1,64.6 L352.4,51.4 L353.6,51.4 L354.9,58.6 L356.1,60.3 L357.4,70.3 L358.6,67.2 L359.9,56.8 L361.1,55.3 L362.4,64.8 L363.6,61.8 L364.9,56.0 L366.1,57.9 L367.4,60.7 L368.6,61.6 L369.9,65.9 L371.1,58.0 L372.4,46.4" fill="none" stroke="#5a5ee6" stroke-width="0.8" />
<path d="M189.9,14.6V26.6M191.2,20.4V29.6M192.4,78.7V87.4M193.7,74.7V84.6M194.9,49.8V60.3M196.2,29.6V39.0M197.4,50.8V61.9M198.7,67.1V78.1M199.9,56.0V65.2M201.2,42.6V53.7M202.4,62.8V72.5M203.7,62.5V74.2M204.9,62.2V71.7M206.2,54.2V66.2M207.4,42.6V52.6M208.7,42.6V53.4M209.9,62.5V73.8M211.2,69.6V80.2M212.4,56.8V66.1M213.7,49.3V62.2M214.9,53.0V61.4M216.2,51.5V61.1M217.4,54.9V65.6M218.7,54.1V62.2M219.9,43.7V52.5M221.2,49.2V61.2M222.4,72.2V84.1M223.7,68.6V79.8M224.9,37.7V50.2M226.2,33.9V45.7M227.4,52.6V62.1M228.7,58.6V69.8M229.9,64.9V74.6M231.2,64.7V76.4M232.4,48.9V58.9M233.7,49.8V58.6M234.9,70.3V82.7M236.2,58.9V70.3M237.4,29.1V40.9M238.7,40.1V50.9M239.9,67.6V79.5M241.2,72.7V82.9M242.4,69.3V80.1M243.7,50.7V59.0M244.9,33.0V43.8M246.2,43.0V55.1M247.4,63.0V74.5M248.7,58.8V70.8M249.9,47.1V57.6M251.2,54.1V66.5M252.4,69.6V78.2M253.7,59.9V72.3M254.9,54.0V63.9M256.1,47.0V55.4M257.4,44.3V55.4M258.6,56.2V66.5M259.9,74.2V84.3M261.1,59.8V72.1M262.4,42.5V51.2M263.6,52.2V63.3M264.9,56.3V66.4M266.1,54.9V65.6M267.4,52.5V63.0M268.6,52.2V60.9M269.9,52.9V63.5M271.1,65.5V77.8M272.4,73.4V82.3M273.6,46.2V54.2M274.9,35.3V43.7M276.1,50.0V60.3M277.4,64.4V77.2M278.6,65.2V73.4M279.9,59.7V72.7M281.1,53.3V64.0M282.4,52.1V60.7M283.6,65.8V75.9M284.9,57.0V66.0M286.1,41.0V52.6M287.4,44.1V54.8M288.6,65.5V75.0M289.9,67.6V76.9M291.1,62.0V74.4M292.4,48.6V60.4M293.6,44.7V54.9M294.9,50.0V60.0M296.1,58.0V69.7M297.4,59.7V72.5M298.6,47.8V56.2M299.9,54.8V63.6M301.1,66.5V76.4M302.4,62.9V73.4M303.6,47.9V56.3M304.9,48.1V56.4M306.1,50.2V59.3M307.4,60.6V70.5M308.6,68.9V80.6M309.9,59.2V70.2M311.1,47.7V55.8M312.4,50.2V58.5M313.6,57.6V67.9M314.9,52.2V64.6M316.1,52.0V64.5M317.4,54.9V64.8M318.6,53.4V65.8M319.9,61.0V73.7M321.1,64.8V74.8M322.4,48.0V59.7M323.6,38.6V48.5M324.9,50.6V59.4M326.1,61.6V72.4M327.4,65.7V74.1M328.6,58.2V69.5M329.9,57.9V70.0M331.1,49.4V62.0M332.4,55.4V65.6M333.6,56.8V65.4M334.9,49.6V62.1M336.1,50.7V63.0M337.4,57.9V70.8M338.6,64.3V75.3M339.9,58.2V69.5M341.1,49.8V59.6M342.4,49.1V58.0M343.6,49.8V59.3M344.9,58.1V69.7M346.1,63.7V73.3M347.4,52.5V63.9M348.6,54.0V64.5M349.9,59.1V69.3M351.1,58.2V71.1M352.4,46.9V55.8M353.6,46.2V56.6M354.9,54.2V63.0M356.1,54.0V66.7M357.4,65.0V75.5M358.6,62.4V72.0M359.9,52.3V61.2M361.1,49.8V60.8M362.4,59.8V69.8M363.6,57.5V66.1M364.9,51.9V60.1M366.1,52.9V62.9M367.4,55.2V66.1M368.6,56.3V66.9M369.9,59.6V72.1M371.1,51.7V64.3M372.4,40.1V52.8" stroke="#7a7ef0" stroke-width="0.8" fill="none"/>
<g fill="#1212c0"><circle cx="189.9" cy="20.6" r="1.3"/><circle cx="191.2" cy="25.0" r="1.3"/><circle cx="192.4" cy="83.0" r="1.3"/><circle cx="193.7" cy="79.6" r="1.3"/><circle cx="194.9" cy="55.0" r="1.3"/><circle cx="196.2" cy="34.3" r="1.3"/><circle cx="197.4" cy="56.4" r="1.3"/><circle cx="198.7" cy="72.6" r="1.3"/><circle cx="199.9" cy="60.6" r="1.3"/><circle cx="201.2" cy="48.1" r="1.3"/><circle cx="202.4" cy="67.6" r="1.3"/><circle cx="203.7" cy="68.4" r="1.3"/><circle cx="204.9" cy="67.0" r="1.3"/><circle cx="206.2" cy="60.2" r="1.3"/><circle cx="207.4" cy="47.6" r="1.3"/><circle cx="208.7" cy="48.0" r="1.3"/><circle cx="209.9" cy="68.1" r="1.3"/><circle cx="211.2" cy="74.9" r="1.3"/><circle cx="212.4" cy="61.5" r="1.3"/><circle cx="213.7" cy="55.8" r="1.3"/><circle cx="214.9" cy="57.2" r="1.3"/><circle cx="216.2" cy="56.3" r="1.3"/><circle cx="217.4" cy="60.3" r="1.3"/><circle cx="218.7" cy="58.2" r="1.3"/><circle cx="219.9" cy="48.1" r="1.3"/><circle cx="221.2" cy="55.2" r="1.3"/><circle cx="222.4" cy="78.1" r="1.3"/><circle cx="223.7" cy="74.2" r="1.3"/><circle cx="224.9" cy="43.9" r="1.3"/><circle cx="226.2" cy="39.8" r="1.3"/><circle cx="227.4" cy="57.4" r="1.3"/><circle cx="228.7" cy="64.2" r="1.3"/><circle cx="229.9" cy="69.7" r="1.3"/><circle cx="231.2" cy="70.5" r="1.3"/><circle cx="232.4" cy="53.9" r="1.3"/><circle cx="233.7" cy="54.2" r="1.3"/><circle cx="234.9" cy="76.5" r="1.3"/><circle cx="236.2" cy="64.6" r="1.3"/><circle cx="237.4" cy="35.0" r="1.3"/><circle cx="238.7" cy="45.5" r="1.3"/><circle cx="239.9" cy="73.5" r="1.3"/><circle cx="241.2" cy="77.8" r="1.3"/><circle cx="242.4" cy="74.7" r="1.3"/><circle cx="243.7" cy="54.8" r="1.3"/><circle cx="244.9" cy="38.4" r="1.3"/><circle cx="246.2" cy="49.0" r="1.3"/><circle cx="247.4" cy="68.7" r="1.3"/><circle cx="248.7" cy="64.8" r="1.3"/><circle cx="249.9" cy="52.4" r="1.3"/><circle cx="251.2" cy="60.3" r="1.3"/><circle cx="252.4" cy="73.9" r="1.3"/><circle cx="253.7" cy="66.1" r="1.3"/><circle cx="254.9" cy="58.9" r="1.3"/><circle cx="256.1" cy="51.2" r="1.3"/><circle cx="257.4" cy="49.9" r="1.3"/><circle cx="258.6" cy="61.4" r="1.3"/><circle cx="259.9" cy="79.2" r="1.3"/><circle cx="261.1" cy="65.9" r="1.3"/><circle cx="262.4" cy="46.8" r="1.3"/><circle cx="263.6" cy="57.7" r="1.3"/><circle cx="264.9" cy="61.4" r="1.3"/><circle cx="266.1" cy="60.3" r="1.3"/><circle cx="267.4" cy="57.7" r="1.3"/><circle cx="268.6" cy="56.5" r="1.3"/><circle cx="269.9" cy="58.2" r="1.3"/><circle cx="271.1" cy="71.6" r="1.3"/><circle cx="272.4" cy="77.9" r="1.3"/><circle cx="273.6" cy="50.2" r="1.3"/><circle cx="274.9" cy="39.5" r="1.3"/><circle cx="276.1" cy="55.2" r="1.3"/><circle cx="277.4" cy="70.8" r="1.3"/><circle cx="278.6" cy="69.3" r="1.3"/><circle cx="279.9" cy="66.2" r="1.3"/><circle cx="281.1" cy="58.6" r="1.3"/><circle cx="282.4" cy="56.4" r="1.3"/><circle cx="283.6" cy="70.9" r="1.3"/><circle cx="284.9" cy="61.5" r="1.3"/><circle cx="286.1" cy="46.8" r="1.3"/><circle cx="287.4" cy="49.4" r="1.3"/><circle cx="288.6" cy="70.2" r="1.3"/><circle cx="289.9" cy="72.2" r="1.3"/><circle cx="291.1" cy="68.2" r="1.3"/><circle cx="292.4" cy="54.5" r="1.3"/><circle cx="293.6" cy="49.8" r="1.3"/><circle cx="294.9" cy="55.0" r="1.3"/><circle cx="296.1" cy="63.8" r="1.3"/><circle cx="297.4" cy="66.1" r="1.3"/><circle cx="298.6" cy="52.0" r="1.3"/><circle cx="299.9" cy="59.2" r="1.3"/><circle cx="301.1" cy="71.4" r="1.3"/><circle cx="302.4" cy="68.1" r="1.3"/><circle cx="303.6" cy="52.1" r="1.3"/><circle cx="304.9" cy="52.2" r="1.3"/><circle cx="306.1" cy="54.7" r="1.3"/><circle cx="307.4" cy="65.6" r="1.3"/><circle cx="308.6" cy="74.7" r="1.3"/><circle cx="309.9" cy="64.7" r="1.3"/><circle cx="311.1" cy="51.8" r="1.3"/><circle cx="312.4" cy="54.4" r="1.3"/><circle cx="313.6" cy="62.8" r="1.3"/><circle cx="314.9" cy="58.4" r="1.3"/><circle cx="316.1" cy="58.2" r="1.3"/><circle cx="317.4" cy="59.9" r="1.3"/><circle cx="318.6" cy="59.6" r="1.3"/><circle cx="319.9" cy="67.4" r="1.3"/><circle cx="321.1" cy="69.8" r="1.3"/><circle cx="322.4" cy="53.9" r="1.3"/><circle cx="323.6" cy="43.6" r="1.3"/><circle cx="324.9" cy="55.0" r="1.3"/><circle cx="326.1" cy="67.0" r="1.3"/><circle cx="327.4" cy="69.9" r="1.3"/><circle cx="328.6" cy="63.9" r="1.3"/><circle cx="329.9" cy="63.9" r="1.3"/><circle cx="331.1" cy="55.7" r="1.3"/><circle cx="332.4" cy="60.5" r="1.3"/><circle cx="333.6" cy="61.1" r="1.3"/><circle cx="334.9" cy="55.8" r="1.3"/><circle cx="336.1" cy="56.9" r="1.3"/><circle cx="337.4" cy="64.4" r="1.3"/><circle cx="338.6" cy="69.8" r="1.3"/><circle cx="339.9" cy="63.8" r="1.3"/><circle cx="341.1" cy="54.7" r="1.3"/><circle cx="342.4" cy="53.5" r="1.3"/><circle cx="343.6" cy="54.6" r="1.3"/><circle cx="344.9" cy="63.9" r="1.3"/><circle cx="346.1" cy="68.5" r="1.3"/><circle cx="347.4" cy="58.2" r="1.3"/><circle cx="348.6" cy="59.2" r="1.3"/><circle cx="349.9" cy="64.2" r="1.3"/><circle cx="351.1" cy="64.6" r="1.3"/><circle cx="352.4" cy="51.4" r="1.3"/><circle cx="353.6" cy="51.4" r="1.3"/><circle cx="354.9" cy="58.6" r="1.3"/><circle cx="356.1" cy="60.3" r="1.3"/><circle cx="357.4" cy="70.3" r="1.3"/><circle cx="358.6" cy="67.2" r="1.3"/><circle cx="359.9" cy="56.8" r="1.3"/><circle cx="361.1" cy="55.3" r="1.3"/><circle cx="362.4" cy="64.8" r="1.3"/><circle cx="363.6" cy="61.8" r="1.3"/><circle cx="364.9" cy="56.0" r="1.3"/><circle cx="366.1" cy="57.9" r="1.3"/><circle cx="367.4" cy="60.7" r="1.3"/><circle cx="368.6" cy="61.6" r="1.3"/><circle cx="369.9" cy="65.9" r="1.3"/><circle cx="371.1" cy="58.0" r="1.3"/><circle cx="372.4" cy="46.4" r="1.3"/></g>
<path d="M189.5,18.4 L190.0,19.3 L190.4,20.2 L190.9,21.1 L191.3,22.0 L191.8,22.9 L192.3,23.7 L192.7,24.6 L193.2,25.4 L193.6,26.3 L194.1,27.1 L194.5,27.9 L195.0,28.6 L195.5,29.4 L195.9,30.1 L196.4,30.9 L196.8,31.6 L197.3,32.3 L197.8,33.0 L198.2,33.6 L198.7,34.3 L199.1,34.9 L199.6,35.5 L200.0,36.1 L200.5,36.7 L201.0,37.3 L201.4,37.8 L201.9,38.3 L202.3,38.8 L202.8,39.3 L203.3,39.7 L203.7,40.2 L204.2,40.6 L204.6,41.0 L205.1,41.3 L205.6,41.7 L206.0,42.0 L206.5,42.3 L206.9,42.6 L207.4,42.8 L207.8,43.0 L208.3,43.2 L208.8,43.4 L209.2,43.6 L209.7,43.7 L210.1,43.8 L210.6,43.8 L211.1,43.9 L211.5,43.9 L212.0,43.9 L212.4,43.8 L212.9,43.8 L213.3,43.6 L213.8,43.5 L214.3,43.3 L214.7,43.2 L215.2,42.9 L215.6,42.7 L216.1,42.4 L216.6,42.2 L217.0,41.9 L217.5,41.6 L217.9,41.2 L218.4,40.9 L218.9,40.5 L219.3,40.2 L219.8,39.8 L220.2,39.4 L220.7,39.0 L221.1,38.6 L221.6,38.2 L222.1,37.7 L222.5,37.3 L223.0,36.9 L223.4,36.5 L223.9,36.1 L224.4,35.6 L224.8,35.2 L225.3,34.8 L225.7,34.4 L226.2,34.0 L226.7,33.6 L227.1,33.2 L227.6,32.8 L228.0,32.5 L228.5,32.1 L228.9,31.8 L229.4,31.5 L229.9,31.2 L230.3,30.9 L230.8,30.6 L231.2,30.4 L231.7,30.2 L232.2,30.0 L232.6,29.8 L233.1,29.7 L233.5,29.6 L234.0,29.5 L234.4,29.4 L234.9,29.4 L235.4,29.4 L235.8,29.4 L236.3,29.5 L236.7,29.6 L237.2,29.7 L237.7,29.8 L238.1,30.0 L238.6,30.1 L239.0,30.3 L239.5,30.5 L240.0,30.8 L240.4,31.0 L240.9,31.3 L241.3,31.5 L241.8,31.8 L242.2,32.1 L242.7,32.4 L243.2,32.7 L243.6,33.1 L244.1,33.4 L244.5,33.7 L245.0,34.1 L245.5,34.4 L245.9,34.8 L246.4,35.2 L246.8,35.5 L247.3,35.9 L247.7,36.2 L248.2,36.6 L248.7,37.0 L249.1,37.3 L249.6,37.7 L250.0,38.1 L250.5,38.4 L251.0,38.7 L251.4,39.1 L251.9,39.4 L252.3,39.7 L252.8,40.0 L253.3,40.3 L253.7,40.6 L254.2,40.9 L254.6,41.1 L255.1,41.4 L255.5,41.6 L256.0,41.8 L256.5,42.0 L256.9,42.1 L257.4,42.3 L257.8,42.4 L258.3,42.5 L258.8,42.6 L259.2,42.7 L259.7,42.7 L260.1,42.7 L260.6,42.7 L261.0,42.6 L261.5,42.6 L262.0,42.5 L262.4,42.4 L262.9,42.3 L263.3,42.2 L263.8,42.1 L264.3,42.0 L264.7,41.8 L265.2,41.7 L265.6,41.5 L266.1,41.3 L266.6,41.1 L267.0,40.9 L267.5,40.7 L267.9,40.5 L268.4,40.3 L268.8,40.1 L269.3,39.9 L269.8,39.7 L270.2,39.5 L270.7,39.3 L271.1,39.1 L271.6,38.9 L272.1,38.7 L272.5,38.5 L273.0,38.3 L273.4,38.1 L273.9,37.9 L274.3,37.7 L274.8,37.6 L275.3,37.4 L275.7,37.3 L276.2,37.2 L276.6,37.0 L277.1,36.9 L277.6,36.9 L278.0,36.8 L278.5,36.7 L278.9,36.7 L279.4,36.7 L279.9,36.7 L280.3,36.7 L280.8,36.8 L281.2,36.8 L281.7,36.9 L282.1,37.0 L282.6,37.1 L283.1,37.2 L283.5,37.4 L284.0,37.5 L284.4,37.7 L284.9,37.8 L285.4,38.0 L285.8,38.2 L286.3,38.4 L286.7,38.6 L287.2,38.9 L287.7,39.1 L288.1,39.3 L288.6,39.6 L289.0,39.8 L289.5,40.1 L289.9,40.3 L290.4,40.6 L290.9,40.8 L291.3,41.1 L291.8,41.4 L292.2,41.6 L292.7,41.9 L293.2,42.2 L293.6,42.4 L294.1,42.7 L294.5,43.0 L295.0,43.2 L295.4,43.5 L295.9,43.7 L296.4,44.0 L296.8,44.2 L297.3,44.4 L297.7,44.6 L298.2,44.9 L298.7,45.1 L299.1,45.3 L299.6,45.4 L300.0,45.6 L300.5,45.8 L301.0,45.9 L301.4,46.1 L301.9,46.2 L302.3,46.3 L302.8,46.4 L303.2,46.5 L303.7,46.5 L304.2,46.6 L304.6,46.6 L305.1,46.6 L305.5,46.6 L306.0,46.6 L306.5,46.5 L306.9,46.5 L307.4,46.4 L307.8,46.3 L308.3,46.3 L308.7,46.2 L309.2,46.1 L309.7,45.9 L310.1,45.8 L310.6,45.7 L311.0,45.5 L311.5,45.4 L312.0,45.3 L312.4,45.1 L312.9,45.0 L313.3,44.8 L313.8,44.6 L314.3,44.5 L314.7,44.3 L315.2,44.2 L315.6,44.0 L316.1,43.8 L316.5,43.7 L317.0,43.5 L317.5,43.4 L317.9,43.2 L318.4,43.1 L318.8,42.9 L319.3,42.8 L319.8,42.7 L320.2,42.6 L320.7,42.5 L321.1,42.4 L321.6,42.3 L322.0,42.2 L322.5,42.1 L323.0,42.1 L323.4,42.0 L323.9,42.0 L324.3,42.0 L324.8,42.0 L325.3,42.0 L325.7,42.1 L326.2,42.1 L326.6,42.2 L327.1,42.3 L327.6,42.4 L328.0,42.5 L328.5,42.7 L328.9,42.8 L329.4,43.0 L329.8,43.1 L330.3,43.3 L330.8,43.5 L331.2,43.7 L331.7,43.9 L332.1,44.1 L332.6,44.4 L333.1,44.6 L333.5,44.8 L334.0,45.1 L334.4,45.3 L334.9,45.5 L335.3,45.8 L335.8,46.0 L336.3,46.3 L336.7,46.5 L337.2,46.8 L337.6,47.0 L338.1,47.2 L338.6,47.5 L339.0,47.7 L339.5,47.9 L339.9,48.1 L340.4,48.3 L340.9,48.5 L341.3,48.7 L341.8,48.9 L342.2,49.1 L342.7,49.2 L343.1,49.4 L343.6,49.5 L344.1,49.6 L344.5,49.7 L345.0,49.8 L345.4,49.9 L345.9,49.9 L346.4,50.0 L346.8,50.0 L347.3,50.0 L347.7,50.0 L348.2,50.0 L348.7,50.0 L349.1,50.0 L349.6,50.0 L350.0,50.0 L350.5,50.0 L350.9,50.0 L351.4,50.0 L351.9,50.0 L352.3,50.0 L352.8,49.9 L353.2,49.9 L353.7,49.9 L354.2,49.9 L354.6,49.9 L355.1,49.9 L355.5,49.8 L356.0,49.8 L356.4,49.8 L356.9,49.7 L357.4,49.7 L357.8,49.7 L358.3,49.6 L358.7,49.6 L359.2,49.5 L359.7,49.5 L360.1,49.4 L360.6,49.4 L361.0,49.3 L361.5,49.3 L362.0,49.2 L362.4,49.1 L362.9,49.1 L363.3,49.0 L363.8,48.9 L364.2,48.8 L364.7,48.7 L365.2,48.6 L365.6,48.5 L366.1,48.4 L366.5,48.3 L367.0,48.2 L367.5,48.1 L367.9,48.0 L368.4,47.8 L368.8,47.7 L369.3,47.6 L369.7,47.4 L370.2,47.3 L370.7,47.1 L371.1,46.9 L371.6,46.8 L372.0,46.6 L372.5,46.4" fill="none" stroke="#3c3c3c" stroke-width="0.8" />
<path d="M189.5,102.0 L190.0,101.1 L190.4,100.2 L190.9,99.3 L191.3,98.4 L191.8,97.5 L192.3,96.7 L192.7,95.8 L193.2,95.0 L193.6,94.1 L194.1,93.3 L194.5,92.5 L195.0,91.8 L195.5,91.0 L195.9,90.3 L196.4,89.5 L196.8,88.8 L197.3,88.1 L197.8,87.4 L198.2,86.8 L198.7,86.1 L199.1,85.5 L199.6,84.9 L200.0,84.3 L200.5,83.7 L201.0,83.1 L201.4,82.6 L201.9,82.1 L202.3,81.6 L202.8,81.1 L203.3,80.7 L203.7,80.2 L204.2,79.8 L204.6,79.4 L205.1,79.1 L205.6,78.7 L206.0,78.4 L206.5,78.1 L206.9,77.8 L207.4,77.6 L207.8,77.4 L208.3,77.2 L208.8,77.0 L209.2,76.8 L209.7,76.7 L210.1,76.6 L210.6,76.6 L211.1,76.5 L211.5,76.5 L212.0,76.5 L212.4,76.6 L212.9,76.6 L213.3,76.8 L213.8,76.9 L214.3,77.1 L214.7,77.2 L215.2,77.5 L215.6,77.7 L216.1,78.0 L216.6,78.2 L217.0,78.5 L217.5,78.8 L217.9,79.2 L218.4,79.5 L218.9,79.9 L219.3,80.2 L219.8,80.6 L220.2,81.0 L220.7,81.4 L221.1,81.8 L221.6,82.2 L222.1,82.7 L222.5,83.1 L223.0,83.5 L223.4,83.9 L223.9,84.3 L224.4,84.8 L224.8,85.2 L225.3,85.6 L225.7,86.0 L226.2,86.4 L226.7,86.8 L227.1,87.2 L227.6,87.6 L228.0,87.9 L228.5,88.3 L228.9,88.6 L229.4,88.9 L229.9,89.2 L230.3,89.5 L230.8,89.8 L231.2,90.0 L231.7,90.2 L232.2,90.4 L232.6,90.6 L233.1,90.7 L233.5,90.8 L234.0,90.9 L234.4,91.0 L234.9,91.0 L235.4,91.0 L235.8,91.0 L236.3,90.9 L236.7,90.8 L237.2,90.7 L237.7,90.6 L238.1,90.4 L238.6,90.3 L239.0,90.1 L239.5,89.9 L240.0,89.6 L240.4,89.4 L240.9,89.1 L241.3,88.9 L241.8,88.6 L242.2,88.3 L242.7,88.0 L243.2,87.7 L243.6,87.3 L244.1,87.0 L244.5,86.7 L245.0,86.3 L245.5,86.0 L245.9,85.6 L246.4,85.2 L246.8,84.9 L247.3,84.5 L247.7,84.2 L248.2,83.8 L248.7,83.4 L249.1,83.1 L249.6,82.7 L250.0,82.3 L250.5,82.0 L251.0,81.7 L251.4,81.3 L251.9,81.0 L252.3,80.7 L252.8,80.4 L253.3,80.1 L253.7,79.8 L254.2,79.5 L254.6,79.3 L255.1,79.0 L255.5,78.8 L256.0,78.6 L256.5,78.4 L256.9,78.3 L257.4,78.1 L257.8,78.0 L258.3,77.9 L258.8,77.8 L259.2,77.7 L259.7,77.7 L260.1,77.7 L260.6,77.7 L261.0,77.8 L261.5,77.8 L262.0,77.9 L262.4,78.0 L262.9,78.1 L263.3,78.2 L263.8,78.3 L264.3,78.4 L264.7,78.6 L265.2,78.7 L265.6,78.9 L266.1,79.1 L266.6,79.3 L267.0,79.5 L267.5,79.7 L267.9,79.9 L268.4,80.1 L268.8,80.3 L269.3,80.5 L269.8,80.7 L270.2,80.9 L270.7,81.1 L271.1,81.3 L271.6,81.5 L272.1,81.7 L272.5,81.9 L273.0,82.1 L273.4,82.3 L273.9,82.5 L274.3,82.7 L274.8,82.8 L275.3,83.0 L275.7,83.1 L276.2,83.2 L276.6,83.4 L277.1,83.5 L277.6,83.5 L278.0,83.6 L278.5,83.7 L278.9,83.7 L279.4,83.7 L279.9,83.7 L280.3,83.7 L280.8,83.6 L281.2,83.6 L281.7,83.5 L282.1,83.4 L282.6,83.3 L283.1,83.2 L283.5,83.0 L284.0,82.9 L284.4,82.7 L284.9,82.6 L285.4,82.4 L285.8,82.2 L286.3,82.0 L286.7,81.8 L287.2,81.5 L287.7,81.3 L288.1,81.1 L288.6,80.8 L289.0,80.6 L289.5,80.3 L289.9,80.1 L290.4,79.8 L290.9,79.6 L291.3,79.3 L291.8,79.0 L292.2,78.8 L292.7,78.5 L293.2,78.2 L293.6,78.0 L294.1,77.7 L294.5,77.4 L295.0,77.2 L295.4,76.9 L295.9,76.7 L296.4,76.4 L296.8,76.2 L297.3,76.0 L297.7,75.8 L298.2,75.5 L298.7,75.3 L299.1,75.1 L299.6,75.0 L300.0,74.8 L300.5,74.6 L301.0,74.5 L301.4,74.3 L301.9,74.2 L302.3,74.1 L302.8,74.0 L303.2,73.9 L303.7,73.9 L304.2,73.8 L304.6,73.8 L305.1,73.8 L305.5,73.8 L306.0,73.8 L306.5,73.9 L306.9,73.9 L307.4,74.0 L307.8,74.1 L308.3,74.1 L308.7,74.2 L309.2,74.3 L309.7,74.5 L310.1,74.6 L310.6,74.7 L311.0,74.9 L311.5,75.0 L312.0,75.1 L312.4,75.3 L312.9,75.4 L313.3,75.6 L313.8,75.8 L314.3,75.9 L314.7,76.1 L315.2,76.2 L315.6,76.4 L316.1,76.6 L316.5,76.7 L317.0,76.9 L317.5,77.0 L317.9,77.2 L318.4,77.3 L318.8,77.5 L319.3,77.6 L319.8,77.7 L320.2,77.8 L320.7,77.9 L321.1,78.0 L321.6,78.1 L322.0,78.2 L322.5,78.3 L323.0,78.3 L323.4,78.4 L323.9,78.4 L324.3,78.4 L324.8,78.4 L325.3,78.4 L325.7,78.3 L326.2,78.3 L326.6,78.2 L327.1,78.1 L327.6,78.0 L328.0,77.9 L328.5,77.7 L328.9,77.6 L329.4,77.4 L329.8,77.3 L330.3,77.1 L330.8,76.9 L331.2,76.7 L331.7,76.5 L332.1,76.3 L332.6,76.0 L333.1,75.8 L333.5,75.6 L334.0,75.3 L334.4,75.1 L334.9,74.9 L335.3,74.6 L335.8,74.4 L336.3,74.1 L336.7,73.9 L337.2,73.6 L337.6,73.4 L338.1,73.2 L338.6,72.9 L339.0,72.7 L339.5,72.5 L339.9,72.3 L340.4,72.1 L340.9,71.9 L341.3,71.7 L341.8,71.5 L342.2,71.3 L342.7,71.2 L343.1,71.0 L343.6,70.9 L344.1,70.8 L344.5,70.7 L345.0,70.6 L345.4,70.5 L345.9,70.5 L346.4,70.4 L346.8,70.4 L347.3,70.4 L347.7,70.4 L348.2,70.4 L348.7,70.4 L349.1,70.4 L349.6,70.4 L350.0,70.4 L350.5,70.4 L350.9,70.4 L351.4,70.4 L351.9,70.4 L352.3,70.4 L352.8,70.5 L353.2,70.5 L353.7,70.5 L354.2,70.5 L354.6,70.5 L355.1,70.5 L355.5,70.6 L356.0,70.6 L356.4,70.6 L356.9,70.7 L357.4,70.7 L357.8,70.7 L358.3,70.8 L358.7,70.8 L359.2,70.9 L359.7,70.9 L360.1,71.0 L360.6,71.0 L361.0,71.1 L361.5,71.1 L362.0,71.2 L362.4,71.3 L362.9,71.3 L363.3,71.4 L363.8,71.5 L364.2,71.6 L364.7,71.7 L365.2,71.8 L365.6,71.9 L366.1,72.0 L366.5,72.1 L367.0,72.2 L367.5,72.3 L367.9,72.4 L368.4,72.6 L368.8,72.7 L369.3,72.8 L369.7,73.0 L370.2,73.1 L370.7,73.3 L371.1,73.5 L371.6,73.6 L372.0,73.8 L372.5,74.0" fill="none" stroke="#3c3c3c" stroke-width="0.8" />
<rect x="189.50" y="18.50" width="183.00" height="83.80" fill="none" stroke="#7a7a7a" stroke-width="1.0"/>
<line x1="226.10" y1="102.30" x2="226.10" y2="99.80" stroke="#7a7a7a" stroke-width="0.8"/>
<line x1="262.70" y1="102.30" x2="262.70" y2="99.80" stroke="#7a7a7a" stroke-width="0.8"/>
<line x1="299.30" y1="102.30" x2="299.30" y2="99.80" stroke="#7a7a7a" stroke-width="0.8"/>
<line x1="335.90" y1="102.30" x2="335.90" y2="99.80" stroke="#7a7a7a" stroke-width="0.8"/>
<line x1="189.50" y1="39.45" x2="192.00" y2="39.45" stroke="#7a7a7a" stroke-width="0.8"/>
<line x1="372.50" y1="39.45" x2="370.00" y2="39.45" stroke="#7a7a7a" stroke-width="0.8"/>
<line x1="189.50" y1="60.40" x2="192.00" y2="60.40" stroke="#7a7a7a" stroke-width="0.8"/>
<line x1="372.50" y1="60.40" x2="370.00" y2="60.40" stroke="#7a7a7a" stroke-width="0.8"/>
<line x1="189.50" y1="81.35" x2="192.00" y2="81.35" stroke="#7a7a7a" stroke-width="0.8"/>
<line x1="372.50" y1="81.35" x2="370.00" y2="81.35" stroke="#7a7a7a" stroke-width="0.8"/>
<text x="189.50" y="114.00" font-size="9.3" text-anchor="middle" fill="#1e1e1e" font-weight="normal" stroke="#1e1e1e" stroke-width="0.18" >0</text>
<text x="226.10" y="114.00" font-size="9.3" text-anchor="middle" fill="#1e1e1e" font-weight="normal" stroke="#1e1e1e" stroke-width="0.18" >0.1</text>
<text x="262.70" y="114.00" font-size="9.3" text-anchor="middle" fill="#1e1e1e" font-weight="normal" stroke="#1e1e1e" stroke-width="0.18" >0.2</text>
<text x="299.30" y="114.00" font-size="9.3" text-anchor="middle" fill="#1e1e1e" font-weight="normal" stroke="#1e1e1e" stroke-width="0.18" >0.3</text>
<text x="335.90" y="114.00" font-size="9.3" text-anchor="middle" fill="#1e1e1e" font-weight="normal" stroke="#1e1e1e" stroke-width="0.18" >0.4</text>
<text x="372.50" y="114.00" font-size="9.3" text-anchor="middle" fill="#1e1e1e" font-weight="normal" stroke="#1e1e1e" stroke-width="0.18" >0.5</text>
<text x="284" y="127.6" font-size="9.6" text-anchor="middle" fill="#1e1e1e" stroke="#1e1e1e" stroke-width="0.18">Δ<tspan font-style="italic">t</tspan> (μs)</text>
<text x="185.60" y="22.00" font-size="9.3" text-anchor="end" fill="#1e1e1e" font-weight="normal" stroke="#1e1e1e" stroke-width="0.18" >1</text>
<text x="186.80" y="98.60" font-size="9.3" text-anchor="end" fill="#1e1e1e" font-weight="normal" stroke="#1e1e1e" stroke-width="0.18" >0.5</text>
<text x="377.00" y="21.80" font-size="9.3" text-anchor="start" fill="#1e1e1e" font-weight="normal" stroke="#1e1e1e" stroke-width="0.18" >1</text>
<text x="376.80" y="104.40" font-size="9.3" text-anchor="start" fill="#1e1e1e" font-weight="normal" stroke="#1e1e1e" stroke-width="0.18" >0</text>
<text x="0" y="0" font-size="9.75" text-anchor="middle" fill="#1e1e1e" stroke="#1e1e1e" stroke-width="0.18" transform="translate(163.60,60.75) rotate(-90)">Qubit population</text>
<text x="0" y="0" font-size="9.8" text-anchor="middle" fill="#1e1e1e" stroke="#1e1e1e" stroke-width="0.18" transform="translate(393.60,60.65) rotate(-90)">Effective qubit pop.</text>
<text transform="translate(157.30,12.60) scale(0.9,1)" font-size="15" font-weight="bold" fill="#111">b</text>
<line x1="273" y1="26.4" x2="282" y2="26.4" stroke="#1212c0" stroke-width="0.7"/>
<line x1="273.6" y1="24.7" x2="273.6" y2="28.1" stroke="#1212c0" stroke-width="0.6"/>
<line x1="281.4" y1="24.7" x2="281.4" y2="28.1" stroke="#1212c0" stroke-width="0.6"/>
<g fill="#1212c0"><circle cx="273.6" cy="26.4" r="1.15"/><circle cx="281.4" cy="26.4" r="1.15"/></g>
<text x="286.30" y="29.60" font-size="8.4" text-anchor="start" fill="#1e1e1e" font-weight="normal" stroke="#1e1e1e" stroke-width="0.18" >Quantum simulation</text>
<line x1="285" y1="91.7" x2="303.5" y2="91.7" stroke="#555" stroke-width="0.7"/>
<text x="307.00" y="95.00" font-size="8.4" text-anchor="start" fill="#1e1e1e" font-weight="normal" stroke="#1e1e1e" stroke-width="0.18" >Rotating frame</text>
<line x1="339" y1="76.5" x2="348.5" y2="76.5" stroke="#555" stroke-width="0.6"/>
<path d="M347.3,75.4 L350.5,76.5 L347.3,77.6 Z" fill="#555"/>
<path d="M439.5,27.7 L439.7,27.8 L439.8,27.8 L440.0,27.9 L440.2,27.9 L440.4,28.0 L440.5,28.1 L440.7,28.1 L440.9,28.2 L441.0,28.3 L441.2,28.3 L441.4,28.4 L441.5,28.5 L441.7,28.5 L441.9,28.6 L442.1,28.7 L442.2,28.7 L442.4,28.8 L442.6,28.9 L442.7,28.9 L442.9,29.0 L443.1,29.1 L443.2,29.2 L443.4,29.2 L443.6,29.3 L443.8,29.4 L443.9,29.5 L444.1,29.5 L444.3,29.6 L444.4,29.7 L444.6,29.8 L444.8,29.9 L444.9,29.9 L445.1,30.0 L445.3,30.1 L445.5,30.2 L445.6,30.3 L445.8,30.4 L446.0,30.4 L446.1,30.5 L446.3,30.6 L446.5,30.7 L446.6,30.8 L446.8,30.9 L447.0,31.0 L447.2,31.0 L447.3,31.1 L447.5,31.2 L447.7,31.3 L447.8,31.4 L448.0,31.5 L448.2,31.6 L448.3,31.7 L448.5,31.8 L448.7,31.9 L448.9,32.0 L449.0,32.1 L449.2,32.2 L449.4,32.3 L449.5,32.4 L449.7,32.5 L449.9,32.6 L450.0,32.7 L450.2,32.8 L450.4,32.9 L450.6,33.0 L450.7,33.1 L450.9,33.2 L451.1,33.4 L451.2,33.5 L451.4,33.6 L451.6,33.7 L451.7,33.8 L451.9,33.9 L452.1,34.1 L452.3,34.2 L452.4,34.3 L452.6,34.4 L452.8,34.6 L452.9,34.7 L453.1,34.8 L453.3,34.9 L453.4,35.1 L453.6,35.2 L453.8,35.3 L454.0,35.5 L454.1,35.6 L454.3,35.7 L454.5,35.9 L454.6,36.0 L454.8,36.1 L455.0,36.3 L455.2,36.4 L455.3,36.5 L455.5,36.7 L455.7,36.8 L455.8,37.0 L456.0,37.1 L456.2,37.2 L456.3,37.4 L456.5,37.5 L456.7,37.7 L456.9,37.8 L457.0,38.0 L457.2,38.1 L457.4,38.3 L457.5,38.4 L457.7,38.6 L457.9,38.7 L458.0,38.8 L458.2,39.0 L458.4,39.1 L458.6,39.3 L458.7,39.4 L458.9,39.6 L459.1,39.7 L459.2,39.9 L459.4,40.0 L459.6,40.2 L459.7,40.3 L459.9,40.5 L460.1,40.6 L460.3,40.8 L460.4,41.0 L460.6,41.1 L460.8,41.3 L460.9,41.4 L461.1,41.6 L461.3,41.7 L461.4,41.9 L461.6,42.0 L461.8,42.2 L462.0,42.3 L462.1,42.5 L462.3,42.6 L462.5,42.8 L462.6,42.9 L462.8,43.1 L463.0,43.2 L463.1,43.4 L463.3,43.5 L463.5,43.7 L463.7,43.8 L463.8,44.0 L464.0,44.1 L464.2,44.3 L464.3,44.4 L464.5,44.6 L464.7,44.7 L464.8,44.9 L465.0,45.0 L465.2,45.2 L465.4,45.3 L465.5,45.5 L465.7,45.6 L465.9,45.8 L466.0,45.9 L466.2,46.1 L466.4,46.2 L466.5,46.4 L466.7,46.5 L466.9,46.7 L467.1,46.8 L467.2,46.9 L467.4,47.1 L467.6,47.2 L467.7,47.4 L467.9,47.5 L468.1,47.6 L468.3,47.8 L468.4,47.9 L468.6,48.1 L468.8,48.2 L468.9,48.3 L469.1,48.5 L469.3,48.6 L469.4,48.7 L469.6,48.9 L469.8,49.0 L470.0,49.2 L470.1,49.3 L470.3,49.5 L470.5,49.6 L470.6,49.7 L470.8,49.9 L471.0,50.0 L471.1,50.2 L471.3,50.3 L471.5,50.5 L471.7,50.6 L471.8,50.7 L472.0,50.9 L472.2,51.0 L472.3,51.2 L472.5,51.3 L472.7,51.5 L472.8,51.6 L473.0,51.8 L473.2,51.9 L473.4,52.1 L473.5,52.2 L473.7,52.3 L473.9,52.5 L474.0,52.6 L474.2,52.8 L474.4,52.9 L474.5,53.1 L474.7,53.2 L474.9,53.4 L475.1,53.5 L475.2,53.7 L475.4,53.8 L475.6,54.0 L475.7,54.1 L475.9,54.3 L476.1,54.4 L476.2,54.6 L476.4,54.7 L476.6,54.8 L476.8,55.0 L476.9,55.1 L477.1,55.3 L477.3,55.4 L477.4,55.6 L477.6,55.7 L477.8,55.9 L477.9,56.0 L478.1,56.1 L478.3,56.3 L478.5,56.4 L478.6,56.6 L478.8,56.7 L479.0,56.9 L479.1,57.0 L479.3,57.1 L479.5,57.3 L479.6,57.4 L479.8,57.6 L480.0,57.7 L480.2,57.8 L480.3,58.0 L480.5,58.1 L480.7,58.2 L480.8,58.4 L481.0,58.5 L481.2,58.6 L481.3,58.8 L481.5,58.9 L481.7,59.0 L481.9,59.2 L482.0,59.3 L482.2,59.4 L482.4,59.6 L482.5,59.7 L482.7,59.8 L482.9,59.9 L483.1,60.1 L483.2,60.2 L483.4,60.3 L483.6,60.4 L483.7,60.5 L483.9,60.7 L484.1,60.8 L484.2,60.9 L484.4,61.0 L484.6,61.1 L484.8,61.2 L484.9,61.4 L485.1,61.5 L485.3,61.6 L485.4,61.7 L485.6,61.8 L485.8,61.9 L485.9,62.0 L486.1,62.1 L486.3,62.2 L486.5,62.3 L486.6,62.4 L486.8,62.5 L487.0,62.6 L487.1,62.7 L487.3,62.8 L487.5,62.9 L487.6,63.0 L487.8,63.1 L488.0,63.2 L488.2,63.3 L488.3,63.4 L488.5,63.5 L488.7,63.6 L488.8,63.7 L489.0,63.8 L489.2,63.8 L489.3,63.9 L489.5,64.0 L489.7,64.1 L489.9,64.2 L490.0,64.3 L490.2,64.4 L490.4,64.5 L490.5,64.6 L490.7,64.7 L490.9,64.8 L491.0,64.8 L491.2,64.9 L491.4,65.0 L491.6,65.1 L491.7,65.2 L491.9,65.3 L492.1,65.4 L492.2,65.4 L492.4,65.5 L492.6,65.6 L492.7,65.7 L492.9,65.8 L493.1,65.9 L493.3,65.9 L493.4,66.0 L493.6,66.1 L493.8,66.2 L493.9,66.3 L494.1,66.3 L494.3,66.4 L494.4,66.5 L494.6,66.6 L494.8,66.6 L495.0,66.7 L495.1,66.8 L495.3,66.9 L495.5,66.9 L495.6,67.0 L495.8,67.1 L496.0,67.1 L496.2,67.2 L496.3,67.3 L496.5,67.3 L496.7,67.4 L496.8,67.5 L497.0,67.5 L497.2,67.6 L497.3,67.6 L497.5,67.7 L497.7,67.8 L497.9,67.8 L498.0,67.9 L498.2,67.9 L498.4,68.0 L498.5,68.0 L498.7,68.1 L498.9,68.1 L499.0,68.2 L499.2,68.2 L499.4,68.3 L499.6,68.3 L499.7,68.4 L499.9,68.4 L500.1,68.5 L500.2,68.5 L500.4,68.5 L500.6,68.6 L500.7,68.6 L500.9,68.7 L501.1,68.7 L501.3,68.7 L501.4,68.8 L501.6,68.8 L501.8,68.9 L501.9,68.9 L502.1,68.9 L502.3,69.0 L502.4,69.0 L502.6,69.1 L502.8,69.1 L503.0,69.1 L503.1,69.2 L503.3,69.2 L503.5,69.2 L503.6,69.3 L503.8,69.3 L504.0,69.3 L504.1,69.4 L504.3,69.4 L504.5,69.4 L504.7,69.5 L504.8,69.5 L505.0,69.5 L505.2,69.6 L505.3,69.6 L505.5,69.6 L505.7,69.7 L505.8,69.7 L506.0,69.7 L506.2,69.7 L506.4,69.8 L506.5,69.8 L506.7,69.8 L506.9,69.9 L507.0,69.9 L507.2,69.9 L507.4,70.0 L507.5,70.0 L507.7,70.0 L507.9,70.0 L508.1,70.1 L508.2,70.1 L508.4,70.1 L508.6,70.1 L508.7,70.2 L508.9,70.2 L509.1,70.2 L509.2,70.2 L509.4,70.3 L509.6,70.3 L509.8,70.3 L509.9,70.4 L510.1,70.4 L510.3,70.4 L510.4,70.4 L510.6,70.4 L510.8,70.5 L511.0,70.5 L511.1,70.5 L511.3,70.5 L511.5,70.6 L511.6,70.6 L511.8,70.6 L512.0,70.6 L512.1,70.7 L512.3,70.7 L512.5,70.7 L512.7,70.7 L512.8,70.7 L513.0,70.8 L513.2,70.8 L513.3,70.8 L513.5,70.8 L513.7,70.8 L513.8,70.9 L514.0,70.9 L514.2,70.9 L514.4,70.9 L514.5,70.9 L514.7,71.0 L514.9,71.0 L515.0,71.0 L515.2,71.0 L515.4,71.0 L515.5,71.1 L515.7,71.1 L515.9,71.1 L516.1,71.1 L516.2,71.1 L516.4,71.2 L516.6,71.2 L516.7,71.2 L516.9,71.2 L517.1,71.2 L517.2,71.3 L517.4,71.3 L517.6,71.3 L517.8,71.3 L517.9,71.3 L518.1,71.3 L518.3,71.4 L518.4,71.4 L518.6,71.4 L518.8,71.4 L518.9,71.4 L519.1,71.5 L519.3,71.5 L519.5,71.5 L519.6,71.5 L519.8,71.5 L520.0,71.6 L520.1,71.6 L520.3,71.6 L520.5,71.6 L520.6,71.6 L520.8,71.7 L521.0,71.7 L521.2,71.7 L521.3,71.7 L521.5,71.7 L521.7,71.7 L521.8,71.8 L522.0,71.8 L522.2,71.8 L522.3,71.8 L522.5,71.8 L522.7,71.9 L522.9,71.9 L523.0,71.9 L523.2,71.9 L523.4,71.9 L523.5,71.9 L523.7,72.0 L523.9,72.0 L524.1,72.0 L524.2,72.0 L524.4,72.0 L524.6,72.1 L524.7,72.1 L524.9,72.1 L525.1,72.1 L525.2,72.1 L525.4,72.1 L525.6,72.2 L525.8,72.2 L525.9,72.2 L526.1,72.2 L526.3,72.2 L526.4,72.2 L526.6,72.3 L526.8,72.3 L526.9,72.3 L527.1,72.3 L527.3,72.3 L527.5,72.3 L527.6,72.3 L527.8,72.4 L528.0,72.4 L528.1,72.4 L528.3,72.4 L528.5,72.4 L528.6,72.4 L528.8,72.4 L529.0,72.5 L529.2,72.5 L529.3,72.5 L529.5,72.5 L529.7,72.5 L529.8,72.5 L530.0,72.5 L530.2,72.6 L530.3,72.6 L530.5,72.6 L530.7,72.6 L530.9,72.6 L531.0,72.6 L531.2,72.6 L531.4,72.6 L531.5,72.6 L531.7,72.7 L531.9,72.7 L532.0,72.7 L532.2,72.7 L532.4,72.7 L532.6,72.7 L532.7,72.7 L532.9,72.7 L533.1,72.7 L533.2,72.7 L533.4,72.7 L533.6,72.8 L533.7,72.8 L533.9,72.8 L534.1,72.8 L534.3,72.8 L534.4,72.8 L534.6,72.8 L534.8,72.8 L534.9,72.8 L535.1,72.8 L535.3,72.8 L535.4,72.8 L535.6,72.8 L535.8,72.8 L536.0,72.8 L536.1,72.8 L536.3,72.8 L536.5,72.8 L536.6,72.8 L536.8,72.8 L537.0,72.8 L537.1,72.8 L537.3,72.8 L537.5,72.8 L537.7,72.8 L537.8,72.8 L538.0,72.8 L538.2,72.8 L538.3,72.8 L538.5,72.8 L538.7,72.8 L538.9,72.8 L539.0,72.8 L539.2,72.8 L539.4,72.8 L539.5,72.8 L539.7,72.8 L539.9,72.8 L540.0,72.8 L540.2,72.8 L540.4,72.8 L540.6,72.8 L540.7,72.8 L540.9,72.8 L541.1,72.8 L541.2,72.8 L541.4,72.8 L541.6,72.8 L541.7,72.8 L541.9,72.8 L542.1,72.8 L542.3,72.8 L542.4,72.8 L542.6,72.8 L542.8,72.8 L542.9,72.8 L543.1,72.8 L543.3,72.8 L543.4,72.8 L543.6,72.8 L543.8,72.8 L544.0,72.8 L544.1,72.8 L544.3,72.8 L544.5,72.8 L544.6,72.8 L544.8,72.8 L545.0,72.8 L545.1,72.8 L545.3,72.8 L545.5,72.8 L545.7,72.8 L545.8,72.8 L546.0,72.7 L546.2,72.7 L546.3,72.7 L546.5,72.7 L546.7,72.7 L546.8,72.7 L547.0,72.7 L547.2,72.7 L547.4,72.7 L547.5,72.7 L547.7,72.7 L547.9,72.7 L548.0,72.7 L548.2,72.7 L548.4,72.7 L548.5,72.7 L548.7,72.7 L548.9,72.7 L549.1,72.7 L549.2,72.7 L549.4,72.6 L549.6,72.6 L549.7,72.6 L549.9,72.6 L550.1,72.6 L550.2,72.6 L550.4,72.6 L550.6,72.6 L550.8,72.6 L550.9,72.6 L551.1,72.6 L551.3,72.6 L551.4,72.6 L551.6,72.6 L551.8,72.6 L552.0,72.6 L552.1,72.6 L552.3,72.5 L552.5,72.5 L552.6,72.5 L552.8,72.5 L553.0,72.5 L553.1,72.5 L553.3,72.5 L553.5,72.5 L553.7,72.5 L553.8,72.5 L554.0,72.5 L554.2,72.5 L554.3,72.5 L554.5,72.5 L554.7,72.4 L554.8,72.4 L555.0,72.4 L555.2,72.4 L555.4,72.4 L555.5,72.4 L555.7,72.4 L555.9,72.4 L556.0,72.4 L556.2,72.4 L556.4,72.4 L556.5,72.4 L556.7,72.3 L556.9,72.3 L557.1,72.3 L557.2,72.3 L557.4,72.3 L557.6,72.3 L557.7,72.3 L557.9,72.3 L558.1,72.3 L558.2,72.3 L558.4,72.3 L558.6,72.3 L558.8,72.2 L558.9,72.2 L559.1,72.2 L559.3,72.2 L559.4,72.2 L559.6,72.2 L559.8,72.2 L559.9,72.2 L560.1,72.2 L560.3,72.2 L560.5,72.2 L560.6,72.1 L560.8,72.1 L561.0,72.1 L561.1,72.1 L561.3,72.1 L561.5,72.1 L561.6,72.1 L561.8,72.1 L562.0,72.1 L562.2,72.1 L562.3,72.0 L562.5,72.0 L562.7,72.0 L562.8,72.0 L563.0,72.0 L563.2,72.0 L563.3,72.0 L563.5,72.0 L563.7,72.0 L563.9,72.0 L564.0,71.9 L564.2,71.9 L564.4,71.9 L564.5,71.9 L564.7,71.9 L564.9,71.9 L565.0,71.9 L565.2,71.9 L565.4,71.9 L565.6,71.8 L565.7,71.8 L565.9,71.8 L566.1,71.8 L566.2,71.8 L566.4,71.8 L566.6,71.8 L566.8,71.8 L566.9,71.8 L567.1,71.7 L567.3,71.7 L567.4,71.7 L567.6,71.7 L567.8,71.7 L567.9,71.7 L568.1,71.7 L568.3,71.7 L568.5,71.7 L568.6,71.6 L568.8,71.6 L569.0,71.6 L569.1,71.6 L569.3,71.6 L569.5,71.6 L569.6,71.6 L569.8,71.6 L570.0,71.6 L570.2,71.5 L570.3,71.5 L570.5,71.5 L570.7,71.5 L570.8,71.5 L571.0,71.5 L571.2,71.5 L571.3,71.4 L571.5,71.4 L571.7,71.4 L571.9,71.4 L572.0,71.4 L572.2,71.3 L572.4,71.3 L572.5,71.3 L572.7,71.3 L572.9,71.3 L573.0,71.2 L573.2,71.2 L573.4,71.2 L573.6,71.2 L573.7,71.2 L573.9,71.1 L574.1,71.1 L574.2,71.1 L574.4,71.0 L574.6,71.0 L574.7,71.0 L574.9,71.0 L575.1,70.9 L575.3,70.9 L575.4,70.9 L575.6,70.9 L575.8,70.8 L575.9,70.8 L576.1,70.8 L576.3,70.7 L576.4,70.7 L576.6,70.7 L576.8,70.6 L577.0,70.6 L577.1,70.6 L577.3,70.5 L577.5,70.5 L577.6,70.5 L577.8,70.4 L578.0,70.4 L578.1,70.4 L578.3,70.3 L578.5,70.3 L578.7,70.3 L578.8,70.2 L579.0,70.2 L579.2,70.1 L579.3,70.1 L579.5,70.1 L579.7,70.0 L579.9,70.0 L580.0,70.0 L580.2,69.9 L580.4,69.9 L580.5,69.8 L580.7,69.8 L580.9,69.8 L581.0,69.7 L581.2,69.7 L581.4,69.6 L581.6,69.6 L581.7,69.6 L581.9,69.5 L582.1,69.5 L582.2,69.4 L582.4,69.4 L582.6,69.3 L582.7,69.3 L582.9,69.3 L583.1,69.2 L583.3,69.2 L583.4,69.1 L583.6,69.1 L583.8,69.0 L583.9,69.0 L584.1,69.0 L584.3,68.9 L584.4,68.9 L584.6,68.8 L584.8,68.8 L585.0,68.7 L585.1,68.7 L585.3,68.6 L585.5,68.6 L585.6,68.5 L585.8,68.5 L586.0,68.5 L586.1,68.4 L586.3,68.4 L586.5,68.3 L586.7,68.3 L586.8,68.2 L587.0,68.2 L587.2,68.1 L587.3,68.1 L587.5,68.0 L587.7,68.0 L587.8,68.0 L588.0,67.9 L588.2,67.9 L588.4,67.8 L588.5,67.8 L588.7,67.7 L588.9,67.7 L589.0,67.6 L589.2,67.6 L589.4,67.5 L589.5,67.5 L589.7,67.4 L589.9,67.4 L590.1,67.3 L590.2,67.3 L590.4,67.3 L590.6,67.2 L590.7,67.2 L590.9,67.1 L591.1,67.1 L591.2,67.0 L591.4,67.0 L591.6,66.9 L591.8,66.9 L591.9,66.8 L592.1,66.8 L592.3,66.8 L592.4,66.7 L592.6,66.7 L592.8,66.6 L592.9,66.6 L593.1,66.5 L593.3,66.5 L593.5,66.4 L593.6,66.4 L593.8,66.4 L594.0,66.3 L594.1,66.3 L594.3,66.2 L594.5,66.2 L594.7,66.1 L594.8,66.1 L595.0,66.1 L595.2,66.0 L595.3,66.0 L595.5,65.9 L595.7,65.9 L595.8,65.8 L596.0,65.8 L596.2,65.8 L596.4,65.7 L596.5,65.7 L596.7,65.6 L596.9,65.6 L597.0,65.6 L597.2,65.5 L597.4,65.5 L597.5,65.5 L597.7,65.4 L597.9,65.4 L598.1,65.3 L598.2,65.3 L598.4,65.3 L598.6,65.2 L598.7,65.2 L598.9,65.1 L599.1,65.1 L599.2,65.1 L599.4,65.0 L599.6,65.0 L599.8,64.9 L599.9,64.9 L600.1,64.9 L600.3,64.8 L600.4,64.8 L600.6,64.7 L600.8,64.7 L600.9,64.6 L601.1,64.6 L601.3,64.6 L601.5,64.5 L601.6,64.5 L601.8,64.4 L602.0,64.4 L602.1,64.3 L602.3,64.3 L602.5,64.2 L602.6,64.2 L602.8,64.1 L603.0,64.1 L603.2,64.0 L603.3,64.0 L603.5,63.9 L603.7,63.9 L603.8,63.9 L604.0,63.8 L604.2,63.8 L604.3,63.7 L604.5,63.7 L604.7,63.6 L604.9,63.6 L605.0,63.5 L605.2,63.5 L605.4,63.4 L605.5,63.4 L605.7,63.3 L605.9,63.3 L606.0,63.2 L606.2,63.2 L606.4,63.1 L606.6,63.1 L606.7,63.0 L606.9,63.0 L607.1,62.9 L607.2,62.9 L607.4,62.8 L607.6,62.8 L607.8,62.7 L607.9,62.7 L608.1,62.6 L608.3,62.6 L608.4,62.5 L608.6,62.5 L608.8,62.4 L608.9,62.4 L609.1,62.3 L609.3,62.3 L609.5,62.2 L609.6,62.2 L609.8,62.1 L610.0,62.1 L610.1,62.0 L610.3,62.0 L610.5,61.9 L610.6,61.9 L610.8,61.8 L611.0,61.8 L611.2,61.7 L611.3,61.7 L611.5,61.7 L611.7,61.6 L611.8,61.6 L612.0,61.5 L612.2,61.5 L612.3,61.4 L612.5,61.4 L612.7,61.3 L612.9,61.3 L613.0,61.2 L613.2,61.2 L613.4,61.2 L613.5,61.1 L613.7,61.1 L613.9,61.0 L614.0,61.0 L614.2,60.9 L614.4,60.9 L614.6,60.9 L614.7,60.8 L614.9,60.8 L615.1,60.7 L615.2,60.7 L615.4,60.7 L615.6,60.6 L615.7,60.6 L615.9,60.5 L616.1,60.5 L616.3,60.5 L616.4,60.4 L616.6,60.4 L616.8,60.4 L616.9,60.3 L617.1,60.3 L617.3,60.2 L617.4,60.2 L617.6,60.2 L617.8,60.1 L618.0,60.1 L618.1,60.1 L618.3,60.1 L618.5,60.0 L618.6,60.0 L618.8,60.0 L619.0,59.9 L619.1,59.9 L619.3,59.9 L619.5,59.8 L619.7,59.8 L619.8,59.8 L620.0,59.8 L620.2,59.7 L620.3,59.7 L620.5,59.7 L620.7,59.7 L620.8,59.7 L621.0,59.6 L621.2,59.6 L621.4,59.6 L621.5,59.6 L621.7,59.6 L621.9,59.5 L622.0,59.5 L622.2,59.5 L622.4,59.5 L622.6,59.5 L622.7,59.5 L622.9,59.4 L623.1,59.4 L623.2,59.4 L623.4,59.4 L623.6,59.4 L623.7,59.4 L623.9,59.4 L624.1,59.4 L624.3,59.4 L624.4,59.4 L624.6,59.4 L624.8,59.4 L624.9,59.4 L625.1,59.4 L625.3,59.4 L625.4,59.4 L625.6,59.4 L625.8,59.4 L626.0,59.4 L626.1,59.4 L626.3,59.4 L626.5,59.4 L626.6,59.4 L626.8,59.4 L627.0,59.4 L627.1,59.4 L627.3,59.4 L627.5,59.4 L627.7,59.4 L627.8,59.4 L628.0,59.4 L628.2,59.5 L628.3,59.5 L628.5,59.5 L628.7,59.5 L628.8,59.5 L629.0,59.5 L629.2,59.5 L629.4,59.6 L629.5,59.6 L629.7,59.6 L629.9,59.6 L630.0,59.6 L630.2,59.6 L630.4,59.7 L630.5,59.7 L630.7,59.7 L630.9,59.7 L631.1,59.7 L631.2,59.8 L631.4,59.8 L631.6,59.8 L631.7,59.8 L631.9,59.9 L632.1,59.9 L632.2,59.9 L632.4,59.9 L632.6,60.0 L632.8,60.0 L632.9,60.0 L633.1,60.1 L633.3,60.1 L633.4,60.1 L633.6,60.1 L633.8,60.2 L633.9,60.2 L634.1,60.2 L634.3,60.3 L634.5,60.3 L634.6,60.3 L634.8,60.4 L635.0,60.4 L635.1,60.4 L635.3,60.5 L635.5,60.5 L635.7,60.5 L635.8,60.6 L636.0,60.6 L636.2,60.6 L636.3,60.7 L636.5,60.7 L636.7,60.7 L636.8,60.8 L637.0,60.8 L637.2,60.9 L637.4,60.9 L637.5,60.9 L637.7,61.0 L637.9,61.0 L638.0,61.0 L638.2,61.1 L638.4,61.1 L638.5,61.2 L638.7,61.2 L638.9,61.2 L639.1,61.3 L639.2,61.3 L639.4,61.4 L639.6,61.4 L639.7,61.4 L639.9,61.5 L640.1,61.5 L640.2,61.6 L640.4,61.6 L640.6,61.6 L640.8,61.7 L640.9,61.7 L641.1,61.8 L641.3,61.8 L641.4,61.8 L641.6,61.9 L641.8,61.9 L641.9,62.0 L642.1,62.0 L642.3,62.1 L642.5,62.1 L642.6,62.1 L642.8,62.2 L643.0,62.2 L643.1,62.3 L643.3,62.3 L643.5,62.3 L643.6,62.4 L643.8,62.4 L644.0,62.5 L644.2,62.5 L644.3,62.6 L644.5,62.6 L644.7,62.6 L644.8,62.7 L645.0,62.7 L645.2,62.8 L645.3,62.8 L645.5,62.8 L645.7,62.9 L645.9,62.9 L646.0,63.0 L646.2,63.0 L646.4,63.0 L646.5,63.1 L646.7,63.1 L646.9,63.2 L647.0,63.2 L647.2,63.2 L647.4,63.3 L647.6,63.3 L647.7,63.4 L647.9,63.4 L648.1,63.4 L648.2,63.5 L648.4,63.5 L648.6,63.5 L648.7,63.6 L648.9,63.6 L649.1,63.7 L649.3,63.7 L649.4,63.7 L649.6,63.8 L649.8,63.8 L649.9,63.8 L650.1,63.9 L650.3,63.9 L650.5,63.9 L650.6,64.0 L650.8,64.0 L651.0,64.0 L651.1,64.1 L651.3,64.1 L651.5,64.2 L651.6,64.2 L651.8,64.2 L652.0,64.3 L652.2,64.3 L652.3,64.3 L652.5,64.4 L652.7,64.4 L652.8,64.4 L653.0,64.5 L653.2,64.5 L653.3,64.6 L653.5,64.6 L653.7,64.6 L653.9,64.7 L654.0,64.7 L654.2,64.7 L654.4,64.8 L654.5,64.8 L654.7,64.8 L654.9,64.9 L655.0,64.9 L655.2,65.0 L655.4,65.0 L655.6,65.0 L655.7,65.1 L655.9,65.1 L656.1,65.1 L656.2,65.2 L656.4,65.2 L656.6,65.3 L656.7,65.3 L656.9,65.3 L657.1,65.4 L657.3,65.4 L657.4,65.4 L657.6,65.5 L657.8,65.5 L657.9,65.6 L658.1,65.6 L658.3,65.6 L658.4,65.7 L658.6,65.7 L658.8,65.7 L659.0,65.8 L659.1,65.8 L659.3,65.9 L659.5,65.9 L659.6,65.9 L659.8,66.0 L660.0,66.0 L660.1,66.1 L660.3,66.1 L660.5,66.1 L660.7,66.2 L660.8,66.2 L661.0,66.3 L661.2,66.3 L661.3,66.3 L661.5,66.4 L661.7,66.4 L661.8,66.5 L662.0,66.5 L662.2,66.5 L662.4,66.6 L662.5,66.6 L662.7,66.7 L662.9,66.7 L663.0,66.7 L663.2,66.8 L663.4,66.8 L663.6,66.9 L663.7,66.9 L663.9,66.9 L664.1,67.0 L664.2,67.0 L664.4,67.1 L664.6,67.1 L664.7,67.1 L664.9,67.2 L665.1,67.2 L665.3,67.3 L665.4,67.3 L665.6,67.3 L665.8,67.4 L665.9,67.4 L666.1,67.5 L666.3,67.5 L666.4,67.5 L666.6,67.6 L666.8,67.6 L667.0,67.7 L667.1,67.7 L667.3,67.8 L667.5,67.8 L667.6,67.8 L667.8,67.9 L668.0,67.9 L668.1,68.0 L668.3,68.0 L668.5,68.0 L668.7,68.1 L668.8,68.1 L669.0,68.2 L669.2,68.2 L669.3,68.3 L669.5,68.3 L669.7,68.3 L669.8,68.4 L670.0,68.4 L670.2,68.5 L670.4,68.5 L670.5,68.6 L670.7,68.6 L670.9,68.6 L671.0,68.7 L671.2,68.7 L671.4,68.8 L671.5,68.8 L671.7,68.9 L671.9,68.9 L672.1,68.9 L672.2,69.0 L672.4,69.0 L672.6,69.1 L672.7,69.1 L672.9,69.2 L673.1,69.2 L673.2,69.2 L673.4,69.3 L673.6,69.3 L673.8,69.4 L673.9,69.4 L674.1,69.5 L674.3,69.5 L674.4,69.5 L674.6,69.6 L674.8,69.6 L674.9,69.7 L675.1,69.7 L675.3,69.8 L675.5,69.8 L675.6,69.9 L675.8,69.9 L676.0,69.9 L676.1,70.0 L676.3,70.0 L676.5,70.1 L676.6,70.1 L676.8,70.2 L677.0,70.2 L677.2,70.3 L677.3,70.3 L677.5,70.3 L677.5,85.3 L677.3,85.4 L677.2,85.4 L677.0,85.5 L676.8,85.5 L676.6,85.6 L676.5,85.6 L676.3,85.7 L676.1,85.7 L676.0,85.8 L675.8,85.8 L675.6,85.8 L675.5,85.9 L675.3,85.9 L675.1,86.0 L674.9,86.0 L674.8,86.1 L674.6,86.1 L674.4,86.2 L674.3,86.2 L674.1,86.2 L673.9,86.3 L673.8,86.3 L673.6,86.4 L673.4,86.4 L673.2,86.5 L673.1,86.5 L672.9,86.5 L672.7,86.6 L672.6,86.6 L672.4,86.7 L672.2,86.7 L672.1,86.8 L671.9,86.8 L671.7,86.8 L671.5,86.9 L671.4,86.9 L671.2,87.0 L671.0,87.0 L670.9,87.1 L670.7,87.1 L670.5,87.1 L670.4,87.2 L670.2,87.2 L670.0,87.3 L669.8,87.3 L669.7,87.4 L669.5,87.4 L669.3,87.4 L669.2,87.5 L669.0,87.5 L668.8,87.6 L668.7,87.6 L668.5,87.7 L668.3,87.7 L668.1,87.7 L668.0,87.8 L667.8,87.8 L667.6,87.9 L667.5,87.9 L667.3,87.9 L667.1,88.0 L667.0,88.0 L666.8,88.1 L666.6,88.1 L666.4,88.2 L666.3,88.2 L666.1,88.2 L665.9,88.3 L665.8,88.3 L665.6,88.4 L665.4,88.4 L665.3,88.4 L665.1,88.5 L664.9,88.5 L664.7,88.6 L664.6,88.6 L664.4,88.6 L664.2,88.7 L664.1,88.7 L663.9,88.8 L663.7,88.8 L663.6,88.8 L663.4,88.9 L663.2,88.9 L663.0,89.0 L662.9,89.0 L662.7,89.0 L662.5,89.1 L662.4,89.1 L662.2,89.2 L662.0,89.2 L661.8,89.2 L661.7,89.3 L661.5,89.3 L661.3,89.4 L661.2,89.4 L661.0,89.4 L660.8,89.5 L660.7,89.5 L660.5,89.6 L660.3,89.6 L660.1,89.6 L660.0,89.7 L659.8,89.7 L659.6,89.8 L659.5,89.8 L659.3,89.8 L659.1,89.9 L659.0,89.9 L658.8,90.0 L658.6,90.0 L658.4,90.0 L658.3,90.1 L658.1,90.1 L657.9,90.1 L657.8,90.2 L657.6,90.2 L657.4,90.3 L657.3,90.3 L657.1,90.3 L656.9,90.4 L656.7,90.4 L656.6,90.4 L656.4,90.5 L656.2,90.5 L656.1,90.6 L655.9,90.6 L655.7,90.6 L655.6,90.7 L655.4,90.7 L655.2,90.7 L655.0,90.8 L654.9,90.8 L654.7,90.9 L654.5,90.9 L654.4,90.9 L654.2,91.0 L654.0,91.0 L653.9,91.0 L653.7,91.1 L653.5,91.1 L653.3,91.1 L653.2,91.2 L653.0,91.2 L652.8,91.3 L652.7,91.3 L652.5,91.3 L652.3,91.4 L652.2,91.4 L652.0,91.4 L651.8,91.5 L651.6,91.5 L651.5,91.5 L651.3,91.6 L651.1,91.6 L651.0,91.7 L650.8,91.7 L650.6,91.7 L650.5,91.8 L650.3,91.8 L650.1,91.8 L649.9,91.9 L649.8,91.9 L649.6,91.9 L649.4,92.0 L649.3,92.0 L649.1,92.0 L648.9,92.1 L648.7,92.1 L648.6,92.2 L648.4,92.2 L648.2,92.2 L648.1,92.3 L647.9,92.3 L647.7,92.3 L647.6,92.4 L647.4,92.4 L647.2,92.5 L647.0,92.5 L646.9,92.5 L646.7,92.6 L646.5,92.6 L646.4,92.7 L646.2,92.7 L646.0,92.7 L645.9,92.8 L645.7,92.8 L645.5,92.9 L645.3,92.9 L645.2,92.9 L645.0,93.0 L644.8,93.0 L644.7,93.1 L644.5,93.1 L644.3,93.1 L644.2,93.2 L644.0,93.2 L643.8,93.3 L643.6,93.3 L643.5,93.4 L643.3,93.4 L643.1,93.4 L643.0,93.5 L642.8,93.5 L642.6,93.6 L642.5,93.6 L642.3,93.6 L642.1,93.7 L641.9,93.7 L641.8,93.8 L641.6,93.8 L641.4,93.9 L641.3,93.9 L641.1,93.9 L640.9,94.0 L640.8,94.0 L640.6,94.1 L640.4,94.1 L640.2,94.1 L640.1,94.2 L639.9,94.2 L639.7,94.3 L639.6,94.3 L639.4,94.3 L639.2,94.4 L639.1,94.4 L638.9,94.5 L638.7,94.5 L638.5,94.5 L638.4,94.6 L638.2,94.6 L638.0,94.7 L637.9,94.7 L637.7,94.7 L637.5,94.8 L637.4,94.8 L637.2,94.8 L637.0,94.9 L636.8,94.9 L636.7,95.0 L636.5,95.0 L636.3,95.0 L636.2,95.1 L636.0,95.1 L635.8,95.1 L635.7,95.2 L635.5,95.2 L635.3,95.2 L635.1,95.3 L635.0,95.3 L634.8,95.3 L634.6,95.4 L634.5,95.4 L634.3,95.4 L634.1,95.5 L633.9,95.5 L633.8,95.5 L633.6,95.6 L633.4,95.6 L633.3,95.6 L633.1,95.6 L632.9,95.7 L632.8,95.7 L632.6,95.7 L632.4,95.8 L632.2,95.8 L632.1,95.8 L631.9,95.8 L631.7,95.9 L631.6,95.9 L631.4,95.9 L631.2,95.9 L631.1,96.0 L630.9,96.0 L630.7,96.0 L630.5,96.0 L630.4,96.0 L630.2,96.1 L630.0,96.1 L629.9,96.1 L629.7,96.1 L629.5,96.1 L629.4,96.1 L629.2,96.2 L629.0,96.2 L628.8,96.2 L628.7,96.2 L628.5,96.2 L628.3,96.2 L628.2,96.2 L628.0,96.3 L627.8,96.3 L627.7,96.3 L627.5,96.3 L627.3,96.3 L627.1,96.3 L627.0,96.3 L626.8,96.3 L626.6,96.3 L626.5,96.3 L626.3,96.3 L626.1,96.3 L626.0,96.3 L625.8,96.3 L625.6,96.3 L625.4,96.3 L625.3,96.3 L625.1,96.3 L624.9,96.3 L624.8,96.3 L624.6,96.3 L624.4,96.3 L624.3,96.3 L624.1,96.3 L623.9,96.3 L623.7,96.3 L623.6,96.3 L623.4,96.3 L623.2,96.3 L623.1,96.3 L622.9,96.3 L622.7,96.2 L622.6,96.2 L622.4,96.2 L622.2,96.2 L622.0,96.2 L621.9,96.2 L621.7,96.1 L621.5,96.1 L621.4,96.1 L621.2,96.1 L621.0,96.1 L620.8,96.0 L620.7,96.0 L620.5,96.0 L620.3,96.0 L620.2,96.0 L620.0,95.9 L619.8,95.9 L619.7,95.9 L619.5,95.9 L619.3,95.8 L619.1,95.8 L619.0,95.8 L618.8,95.7 L618.6,95.7 L618.5,95.7 L618.3,95.6 L618.1,95.6 L618.0,95.6 L617.8,95.6 L617.6,95.5 L617.4,95.5 L617.3,95.5 L617.1,95.4 L616.9,95.4 L616.8,95.3 L616.6,95.3 L616.4,95.3 L616.3,95.2 L616.1,95.2 L615.9,95.2 L615.7,95.1 L615.6,95.1 L615.4,95.0 L615.2,95.0 L615.1,95.0 L614.9,94.9 L614.7,94.9 L614.6,94.8 L614.4,94.8 L614.2,94.8 L614.0,94.7 L613.9,94.7 L613.7,94.6 L613.5,94.6 L613.4,94.5 L613.2,94.5 L613.0,94.5 L612.9,94.4 L612.7,94.4 L612.5,94.3 L612.3,94.3 L612.2,94.2 L612.0,94.2 L611.8,94.1 L611.7,94.1 L611.5,94.0 L611.3,94.0 L611.2,94.0 L611.0,93.9 L610.8,93.9 L610.6,93.8 L610.5,93.8 L610.3,93.7 L610.1,93.7 L610.0,93.6 L609.8,93.6 L609.6,93.5 L609.5,93.5 L609.3,93.4 L609.1,93.4 L608.9,93.3 L608.8,93.3 L608.6,93.2 L608.4,93.2 L608.3,93.1 L608.1,93.1 L607.9,93.0 L607.8,93.0 L607.6,92.9 L607.4,92.9 L607.2,92.8 L607.1,92.8 L606.9,92.7 L606.7,92.7 L606.6,92.6 L606.4,92.6 L606.2,92.5 L606.0,92.5 L605.9,92.4 L605.7,92.4 L605.5,92.3 L605.4,92.3 L605.2,92.2 L605.0,92.2 L604.9,92.1 L604.7,92.1 L604.5,92.0 L604.3,92.0 L604.2,91.9 L604.0,91.9 L603.8,91.8 L603.7,91.8 L603.5,91.8 L603.3,91.7 L603.2,91.7 L603.0,91.6 L602.8,91.6 L602.6,91.5 L602.5,91.5 L602.3,91.4 L602.1,91.4 L602.0,91.3 L601.8,91.3 L601.6,91.2 L601.5,91.2 L601.3,91.1 L601.1,91.1 L600.9,91.1 L600.8,91.0 L600.6,91.0 L600.4,90.9 L600.3,90.9 L600.1,90.8 L599.9,90.8 L599.8,90.8 L599.6,90.7 L599.4,90.7 L599.2,90.6 L599.1,90.6 L598.9,90.6 L598.7,90.5 L598.6,90.5 L598.4,90.4 L598.2,90.4 L598.1,90.4 L597.9,90.3 L597.7,90.3 L597.5,90.2 L597.4,90.2 L597.2,90.2 L597.0,90.1 L596.9,90.1 L596.7,90.1 L596.5,90.0 L596.4,90.0 L596.2,89.9 L596.0,89.9 L595.8,89.9 L595.7,89.8 L595.5,89.8 L595.3,89.7 L595.2,89.7 L595.0,89.6 L594.8,89.6 L594.7,89.6 L594.5,89.5 L594.3,89.5 L594.1,89.4 L594.0,89.4 L593.8,89.3 L593.6,89.3 L593.5,89.3 L593.3,89.2 L593.1,89.2 L592.9,89.1 L592.8,89.1 L592.6,89.0 L592.4,89.0 L592.3,88.9 L592.1,88.9 L591.9,88.9 L591.8,88.8 L591.6,88.8 L591.4,88.7 L591.2,88.7 L591.1,88.6 L590.9,88.6 L590.7,88.5 L590.6,88.5 L590.4,88.4 L590.2,88.4 L590.1,88.4 L589.9,88.3 L589.7,88.3 L589.5,88.2 L589.4,88.2 L589.2,88.1 L589.0,88.1 L588.9,88.0 L588.7,88.0 L588.5,87.9 L588.4,87.9 L588.2,87.8 L588.0,87.8 L587.8,87.7 L587.7,87.7 L587.5,87.7 L587.3,87.6 L587.2,87.6 L587.0,87.5 L586.8,87.5 L586.7,87.4 L586.5,87.4 L586.3,87.3 L586.1,87.3 L586.0,87.2 L585.8,87.2 L585.6,87.2 L585.5,87.1 L585.3,87.1 L585.1,87.0 L585.0,87.0 L584.8,86.9 L584.6,86.9 L584.4,86.8 L584.3,86.8 L584.1,86.7 L583.9,86.7 L583.8,86.7 L583.6,86.6 L583.4,86.6 L583.3,86.5 L583.1,86.5 L582.9,86.4 L582.7,86.4 L582.6,86.4 L582.4,86.3 L582.2,86.3 L582.1,86.2 L581.9,86.2 L581.7,86.1 L581.6,86.1 L581.4,86.1 L581.2,86.0 L581.0,86.0 L580.9,85.9 L580.7,85.9 L580.5,85.9 L580.4,85.8 L580.2,85.8 L580.0,85.7 L579.9,85.7 L579.7,85.7 L579.5,85.6 L579.3,85.6 L579.2,85.6 L579.0,85.5 L578.8,85.5 L578.7,85.4 L578.5,85.4 L578.3,85.4 L578.1,85.3 L578.0,85.3 L577.8,85.3 L577.6,85.2 L577.5,85.2 L577.3,85.2 L577.1,85.1 L577.0,85.1 L576.8,85.1 L576.6,85.0 L576.4,85.0 L576.3,85.0 L576.1,84.9 L575.9,84.9 L575.8,84.9 L575.6,84.8 L575.4,84.8 L575.3,84.8 L575.1,84.8 L574.9,84.7 L574.7,84.7 L574.6,84.7 L574.4,84.7 L574.2,84.6 L574.1,84.6 L573.9,84.6 L573.7,84.5 L573.6,84.5 L573.4,84.5 L573.2,84.5 L573.0,84.5 L572.9,84.4 L572.7,84.4 L572.5,84.4 L572.4,84.4 L572.2,84.4 L572.0,84.3 L571.9,84.3 L571.7,84.3 L571.5,84.3 L571.3,84.3 L571.2,84.2 L571.0,84.2 L570.8,84.2 L570.7,84.2 L570.5,84.2 L570.3,84.2 L570.2,84.2 L570.0,84.1 L569.8,84.1 L569.6,84.1 L569.5,84.1 L569.3,84.1 L569.1,84.1 L569.0,84.1 L568.8,84.1 L568.6,84.1 L568.5,84.0 L568.3,84.0 L568.1,84.0 L567.9,84.0 L567.8,84.0 L567.6,84.0 L567.4,84.0 L567.3,84.0 L567.1,84.0 L566.9,83.9 L566.8,83.9 L566.6,83.9 L566.4,83.9 L566.2,83.9 L566.1,83.9 L565.9,83.9 L565.7,83.9 L565.6,83.9 L565.4,83.8 L565.2,83.8 L565.0,83.8 L564.9,83.8 L564.7,83.8 L564.5,83.8 L564.4,83.8 L564.2,83.8 L564.0,83.8 L563.9,83.7 L563.7,83.7 L563.5,83.7 L563.3,83.7 L563.2,83.7 L563.0,83.7 L562.8,83.7 L562.7,83.7 L562.5,83.7 L562.3,83.7 L562.2,83.6 L562.0,83.6 L561.8,83.6 L561.6,83.6 L561.5,83.6 L561.3,83.6 L561.1,83.6 L561.0,83.6 L560.8,83.6 L560.6,83.6 L560.5,83.5 L560.3,83.5 L560.1,83.5 L559.9,83.5 L559.8,83.5 L559.6,83.5 L559.4,83.5 L559.3,83.5 L559.1,83.5 L558.9,83.5 L558.8,83.5 L558.6,83.4 L558.4,83.4 L558.2,83.4 L558.1,83.4 L557.9,83.4 L557.7,83.4 L557.6,83.4 L557.4,83.4 L557.2,83.4 L557.1,83.4 L556.9,83.4 L556.7,83.4 L556.5,83.3 L556.4,83.3 L556.2,83.3 L556.0,83.3 L555.9,83.3 L555.7,83.3 L555.5,83.3 L555.4,83.3 L555.2,83.3 L555.0,83.3 L554.8,83.3 L554.7,83.3 L554.5,83.2 L554.3,83.2 L554.2,83.2 L554.0,83.2 L553.8,83.2 L553.7,83.2 L553.5,83.2 L553.3,83.2 L553.1,83.2 L553.0,83.2 L552.8,83.2 L552.6,83.2 L552.5,83.2 L552.3,83.2 L552.1,83.1 L552.0,83.1 L551.8,83.1 L551.6,83.1 L551.4,83.1 L551.3,83.1 L551.1,83.1 L550.9,83.1 L550.8,83.1 L550.6,83.1 L550.4,83.1 L550.2,83.1 L550.1,83.1 L549.9,83.1 L549.7,83.1 L549.6,83.1 L549.4,83.1 L549.2,83.0 L549.1,83.0 L548.9,83.0 L548.7,83.0 L548.5,83.0 L548.4,83.0 L548.2,83.0 L548.0,83.0 L547.9,83.0 L547.7,83.0 L547.5,83.0 L547.4,83.0 L547.2,83.0 L547.0,83.0 L546.8,83.0 L546.7,83.0 L546.5,83.0 L546.3,83.0 L546.2,83.0 L546.0,83.0 L545.8,82.9 L545.7,82.9 L545.5,82.9 L545.3,82.9 L545.1,82.9 L545.0,82.9 L544.8,82.9 L544.6,82.9 L544.5,82.9 L544.3,82.9 L544.1,82.9 L544.0,82.9 L543.8,82.9 L543.6,82.9 L543.4,82.9 L543.3,82.9 L543.1,82.9 L542.9,82.9 L542.8,82.9 L542.6,82.9 L542.4,82.9 L542.3,82.9 L542.1,82.9 L541.9,82.9 L541.7,82.9 L541.6,82.9 L541.4,82.9 L541.2,82.9 L541.1,82.9 L540.9,82.9 L540.7,82.9 L540.6,82.9 L540.4,82.9 L540.2,82.9 L540.0,82.9 L539.9,82.9 L539.7,82.9 L539.5,82.9 L539.4,82.9 L539.2,82.9 L539.0,82.9 L538.9,82.9 L538.7,82.9 L538.5,82.9 L538.3,82.9 L538.2,82.9 L538.0,82.9 L537.8,82.9 L537.7,82.9 L537.5,82.9 L537.3,82.9 L537.1,82.9 L537.0,82.9 L536.8,82.9 L536.6,82.9 L536.5,82.9 L536.3,82.9 L536.1,82.9 L536.0,82.9 L535.8,82.9 L535.6,82.9 L535.4,82.9 L535.3,82.9 L535.1,82.9 L534.9,82.9 L534.8,82.9 L534.6,82.9 L534.4,82.9 L534.3,82.9 L534.1,82.9 L533.9,82.9 L533.7,82.9 L533.6,82.9 L533.4,83.0 L533.2,83.0 L533.1,83.0 L532.9,83.0 L532.7,83.0 L532.6,83.0 L532.4,83.0 L532.2,83.0 L532.0,83.0 L531.9,83.0 L531.7,83.0 L531.5,83.1 L531.4,83.1 L531.2,83.1 L531.0,83.1 L530.9,83.1 L530.7,83.1 L530.5,83.1 L530.3,83.1 L530.2,83.1 L530.0,83.2 L529.8,83.2 L529.7,83.2 L529.5,83.2 L529.3,83.2 L529.2,83.2 L529.0,83.2 L528.8,83.3 L528.6,83.3 L528.5,83.3 L528.3,83.3 L528.1,83.3 L528.0,83.3 L527.8,83.3 L527.6,83.4 L527.5,83.4 L527.3,83.4 L527.1,83.4 L526.9,83.4 L526.8,83.4 L526.6,83.4 L526.4,83.5 L526.3,83.5 L526.1,83.5 L525.9,83.5 L525.8,83.5 L525.6,83.5 L525.4,83.6 L525.2,83.6 L525.1,83.6 L524.9,83.6 L524.7,83.6 L524.6,83.6 L524.4,83.7 L524.2,83.7 L524.1,83.7 L523.9,83.7 L523.7,83.7 L523.5,83.8 L523.4,83.8 L523.2,83.8 L523.0,83.8 L522.9,83.8 L522.7,83.8 L522.5,83.9 L522.3,83.9 L522.2,83.9 L522.0,83.9 L521.8,83.9 L521.7,84.0 L521.5,84.0 L521.3,84.0 L521.2,84.0 L521.0,84.0 L520.8,84.0 L520.6,84.1 L520.5,84.1 L520.3,84.1 L520.1,84.1 L520.0,84.1 L519.8,84.2 L519.6,84.2 L519.5,84.2 L519.3,84.2 L519.1,84.2 L518.9,84.3 L518.8,84.3 L518.6,84.3 L518.4,84.3 L518.3,84.3 L518.1,84.4 L517.9,84.4 L517.8,84.4 L517.6,84.4 L517.4,84.4 L517.2,84.4 L517.1,84.5 L516.9,84.5 L516.7,84.5 L516.6,84.5 L516.4,84.5 L516.2,84.6 L516.1,84.6 L515.9,84.6 L515.7,84.6 L515.5,84.6 L515.4,84.7 L515.2,84.7 L515.0,84.7 L514.9,84.7 L514.7,84.7 L514.5,84.8 L514.4,84.8 L514.2,84.8 L514.0,84.8 L513.8,84.8 L513.7,84.9 L513.5,84.9 L513.3,84.9 L513.2,84.9 L513.0,84.9 L512.8,85.0 L512.7,85.0 L512.5,85.0 L512.3,85.0 L512.1,85.0 L512.0,85.1 L511.8,85.1 L511.6,85.1 L511.5,85.1 L511.3,85.2 L511.1,85.2 L511.0,85.2 L510.8,85.2 L510.6,85.3 L510.4,85.3 L510.3,85.3 L510.1,85.3 L509.9,85.3 L509.8,85.4 L509.6,85.4 L509.4,85.4 L509.2,85.5 L509.1,85.5 L508.9,85.5 L508.7,85.5 L508.6,85.6 L508.4,85.6 L508.2,85.6 L508.1,85.6 L507.9,85.7 L507.7,85.7 L507.5,85.7 L507.4,85.7 L507.2,85.8 L507.0,85.8 L506.9,85.8 L506.7,85.9 L506.5,85.9 L506.4,85.9 L506.2,86.0 L506.0,86.0 L505.8,86.0 L505.7,86.0 L505.5,86.1 L505.3,86.1 L505.2,86.1 L505.0,86.2 L504.8,86.2 L504.7,86.2 L504.5,86.3 L504.3,86.3 L504.1,86.3 L504.0,86.4 L503.8,86.4 L503.6,86.4 L503.5,86.5 L503.3,86.5 L503.1,86.5 L503.0,86.6 L502.8,86.6 L502.6,86.6 L502.4,86.7 L502.3,86.7 L502.1,86.8 L501.9,86.8 L501.8,86.8 L501.6,86.9 L501.4,86.9 L501.3,87.0 L501.1,87.0 L500.9,87.0 L500.7,87.1 L500.6,87.1 L500.4,87.2 L500.2,87.2 L500.1,87.2 L499.9,87.3 L499.7,87.3 L499.6,87.4 L499.4,87.4 L499.2,87.5 L499.0,87.5 L498.9,87.6 L498.7,87.6 L498.5,87.7 L498.4,87.7 L498.2,87.8 L498.0,87.8 L497.9,87.9 L497.7,87.9 L497.5,88.0 L497.3,88.1 L497.2,88.1 L497.0,88.2 L496.8,88.2 L496.7,88.3 L496.5,88.4 L496.3,88.4 L496.2,88.5 L496.0,88.6 L495.8,88.6 L495.6,88.7 L495.5,88.8 L495.3,88.8 L495.1,88.9 L495.0,89.0 L494.8,89.1 L494.6,89.1 L494.4,89.2 L494.3,89.3 L494.1,89.4 L493.9,89.4 L493.8,89.5 L493.6,89.6 L493.4,89.7 L493.3,89.8 L493.1,89.8 L492.9,89.9 L492.7,90.0 L492.6,90.1 L492.4,90.2 L492.2,90.3 L492.1,90.3 L491.9,90.4 L491.7,90.5 L491.6,90.6 L491.4,90.7 L491.2,90.8 L491.0,90.9 L490.9,90.9 L490.7,91.0 L490.5,91.1 L490.4,91.2 L490.2,91.3 L490.0,91.4 L489.9,91.5 L489.7,91.6 L489.5,91.7 L489.3,91.8 L489.2,91.9 L489.0,91.9 L488.8,92.0 L488.7,92.1 L488.5,92.2 L488.3,92.3 L488.2,92.4 L488.0,92.5 L487.8,92.6 L487.6,92.7 L487.5,92.8 L487.3,92.9 L487.1,93.0 L487.0,93.1 L486.8,93.2 L486.6,93.3 L486.5,93.4 L486.3,93.5 L486.1,93.6 L485.9,93.7 L485.8,93.8 L485.6,93.9 L485.4,94.0 L485.3,94.1 L485.1,94.2 L484.9,94.3 L484.8,94.5 L484.6,94.6 L484.4,94.7 L484.2,94.8 L484.1,94.9 L483.9,95.0 L483.7,95.2 L483.6,95.3 L483.4,95.4 L483.2,95.5 L483.1,95.6 L482.9,95.8 L482.7,95.9 L482.5,96.0 L482.4,96.1 L482.2,96.3 L482.0,96.4 L481.9,96.5 L481.7,96.7 L481.5,96.8 L481.3,96.9 L481.2,97.1 L481.0,97.2 L480.8,97.3 L480.7,97.5 L480.5,97.6 L480.3,97.7 L480.2,97.9 L480.0,98.0 L479.8,98.1 L479.6,98.3 L479.5,98.4 L479.3,98.6 L479.1,98.7 L479.0,98.8 L478.8,99.0 L478.6,99.1 L478.5,99.3 L478.3,99.4 L478.1,99.6 L477.9,99.7 L477.8,99.8 L477.6,100.0 L477.4,100.1 L477.3,100.3 L477.1,100.4 L476.9,100.6 L476.8,100.7 L476.6,100.9 L476.4,101.0 L476.2,101.1 L476.1,101.3 L475.9,101.4 L475.7,101.6 L475.6,101.7 L475.4,101.9 L475.2,102.0 L475.1,102.2 L474.9,102.3 L474.7,102.5 L474.5,102.6 L474.4,102.8 L474.2,102.9 L474.0,103.1 L473.9,103.2 L473.7,103.4 L473.5,103.5 L473.4,103.6 L473.2,103.8 L473.0,103.9 L472.8,104.1 L472.7,104.2 L472.5,104.4 L472.3,104.5 L472.2,104.7 L472.0,104.8 L471.8,105.0 L471.7,105.1 L471.5,105.2 L471.3,105.4 L471.1,105.5 L471.0,105.7 L470.8,105.8 L470.6,106.0 L470.5,106.1 L470.3,106.2 L470.1,106.4 L470.0,106.5 L469.8,106.7 L469.6,106.8 L469.4,107.0 L469.3,107.1 L469.1,107.2 L468.9,107.4 L468.8,107.5 L468.6,107.6 L468.4,107.8 L468.3,107.9 L468.1,108.1 L467.9,108.2 L467.7,108.3 L467.6,108.5 L467.4,108.6 L467.2,108.8 L467.1,108.9 L466.9,109.0 L466.7,109.2 L466.5,109.3 L466.4,109.5 L466.2,109.6 L466.0,109.8 L465.9,109.9 L465.7,110.1 L465.5,110.2 L465.4,110.4 L465.2,110.5 L465.0,110.7 L464.8,110.8 L464.7,111.0 L464.5,111.1 L464.3,111.3 L464.2,111.4 L464.0,111.6 L463.8,111.7 L463.7,111.9 L463.5,112.0 L463.3,112.2 L463.1,112.3 L463.0,112.5 L462.8,112.6 L462.6,112.8 L462.5,112.9 L462.3,113.1 L462.1,113.2 L462.0,113.4 L461.8,113.5 L461.6,113.7 L461.4,113.8 L461.3,114.0 L461.1,114.1 L460.9,114.3 L460.8,114.4 L460.6,114.6 L460.4,114.7 L460.3,114.9 L460.1,115.1 L459.9,115.2 L459.7,115.4 L459.6,115.5 L459.4,115.7 L459.2,115.8 L459.1,116.0 L458.9,116.1 L458.7,116.3 L458.6,116.4 L458.4,116.6 L458.2,116.7 L458.0,116.9 L457.9,117.0 L457.7,117.1 L457.5,117.3 L457.4,117.4 L457.2,117.6 L457.0,117.7 L456.9,117.9 L456.7,118.0 L456.5,118.2 L456.3,118.3 L456.2,118.5 L456.0,118.6 L455.8,118.7 L455.7,118.9 L455.5,119.0 L455.3,119.2 L455.2,119.3 L455.0,119.4 L454.8,119.6 L454.6,119.7 L454.5,119.8 L454.3,120.0 L454.1,120.1 L454.0,120.2 L453.8,120.4 L453.6,120.5 L453.4,120.6 L453.3,120.8 L453.1,120.9 L452.9,121.0 L452.8,121.1 L452.6,121.3 L452.4,121.4 L452.3,121.5 L452.1,121.6 L451.9,121.8 L451.7,121.9 L451.6,122.0 L451.4,122.1 L451.2,122.2 L451.1,122.3 L450.9,122.5 L450.7,122.6 L450.6,122.7 L450.4,122.8 L450.2,122.9 L450.0,123.0 L449.9,123.1 L449.7,123.2 L449.5,123.3 L449.4,123.4 L449.2,123.5 L449.0,123.6 L448.9,123.7 L448.7,123.8 L448.5,123.9 L448.3,124.0 L448.2,124.1 L448.0,124.2 L447.8,124.3 L447.7,124.4 L447.5,124.5 L447.3,124.6 L447.2,124.7 L447.0,124.7 L446.8,124.8 L446.6,124.9 L446.5,125.0 L446.3,125.1 L446.1,125.2 L446.0,125.3 L445.8,125.3 L445.6,125.4 L445.5,125.5 L445.3,125.6 L445.1,125.7 L444.9,125.8 L444.8,125.8 L444.6,125.9 L444.4,126.0 L444.3,126.1 L444.1,126.2 L443.9,126.2 L443.8,126.3 L443.6,126.4 L443.4,126.5 L443.2,126.5 L443.1,126.6 L442.9,126.7 L442.7,126.8 L442.6,126.8 L442.4,126.9 L442.2,127.0 L442.1,127.0 L441.9,127.1 L441.7,127.2 L441.5,127.2 L441.4,127.3 L441.2,127.4 L441.0,127.4 L440.9,127.5 L440.7,127.6 L440.5,127.6 L440.4,127.7 L440.2,127.8 L440.0,127.8 L439.8,127.9 L439.7,127.9 L439.5,128.0 Z" fill="#f2f2f5" stroke="none"/>
<path d="M439.5,127.1 L439.7,126.5 L439.8,125.7 L440.0,124.8 L440.2,123.7 L440.4,122.5 L440.5,121.2 L440.7,119.8 L440.9,118.2 L441.0,116.5 L441.2,114.7 L441.4,112.9 L441.5,110.9 L441.7,108.8 L441.9,106.7 L442.1,104.4 L442.2,102.1 L442.4,99.7 L442.6,97.3 L442.7,94.8 L442.9,92.3 L443.1,89.8 L443.2,87.2 L443.4,84.6 L443.6,82.0 L443.8,79.3 L443.9,76.7 L444.1,74.1 L444.3,71.5 L444.4,69.0 L444.6,66.5 L444.8,64.0 L444.9,61.6 L445.1,59.2 L445.3,56.9 L445.5,54.6 L445.6,52.5 L445.8,50.4 L446.0,48.4 L446.1,46.5 L446.3,44.7 L446.5,43.0 L446.6,41.4 L446.8,39.9 L447.0,38.5 L447.2,37.3 L447.3,36.2 L447.5,35.2 L447.7,34.3 L447.8,33.6 L448.0,33.0 L448.2,32.5 L448.3,32.2 L448.5,32.0 L448.7,31.9 L448.9,32.0 L449.0,32.2 L449.2,32.5 L449.4,33.0 L449.5,33.6 L449.7,34.4 L449.9,35.2 L450.0,36.2 L450.2,37.3 L450.4,38.5 L450.6,39.8 L450.7,41.2 L450.9,42.8 L451.1,44.4 L451.2,46.1 L451.4,47.9 L451.6,49.8 L451.7,51.7 L451.9,53.7 L452.1,55.8 L452.3,58.0 L452.4,60.1 L452.6,62.3 L452.8,64.6 L452.9,66.9 L453.1,69.2 L453.3,71.5 L453.4,73.8 L453.6,76.1 L453.8,78.4 L454.0,80.7 L454.1,82.9 L454.3,85.2 L454.5,87.4 L454.6,89.5 L454.8,91.6 L455.0,93.7 L455.2,95.7 L455.3,97.6 L455.5,99.5 L455.7,101.2 L455.8,102.9 L456.0,104.5 L456.2,106.1 L456.3,107.5 L456.5,108.8 L456.7,110.1 L456.9,111.2 L457.0,112.2 L457.2,113.1 L457.4,113.9 L457.5,114.6 L457.7,115.2 L457.9,115.7 L458.0,116.0 L458.2,116.2 L458.4,116.4 L458.6,116.4 L458.7,116.3 L458.9,116.0 L459.1,115.7 L459.2,115.3 L459.4,114.7 L459.6,114.1 L459.7,113.3 L459.9,112.5 L460.1,111.5 L460.3,110.5 L460.4,109.4 L460.6,108.1 L460.8,106.9 L460.9,105.5 L461.1,104.1 L461.3,102.6 L461.4,101.0 L461.6,99.4 L461.8,97.7 L462.0,96.0 L462.1,94.3 L462.3,92.5 L462.5,90.7 L462.6,88.9 L462.8,87.0 L463.0,85.2 L463.1,83.3 L463.3,81.5 L463.5,79.6 L463.7,77.8 L463.8,75.9 L464.0,74.1 L464.2,72.4 L464.3,70.6 L464.5,68.9 L464.7,67.2 L464.8,65.6 L465.0,64.1 L465.2,62.5 L465.4,61.1 L465.5,59.7 L465.7,58.4 L465.9,57.1 L466.0,55.9 L466.2,54.8 L466.4,53.8 L466.5,52.8 L466.7,51.9 L466.9,51.1 L467.1,50.4 L467.2,49.8 L467.4,49.3 L467.6,48.8 L467.7,48.5 L467.9,48.2 L468.1,48.1 L468.3,48.0 L468.4,48.0 L468.6,48.1 L468.8,48.2 L468.9,48.5 L469.1,48.8 L469.3,49.3 L469.4,49.8 L469.6,50.4 L469.8,51.0 L470.0,51.8 L470.1,52.6 L470.3,53.4 L470.5,54.4 L470.6,55.4 L470.8,56.4 L471.0,57.5 L471.1,58.7 L471.3,59.9 L471.5,61.1 L471.7,62.4 L471.8,63.7 L472.0,65.1 L472.2,66.4 L472.3,67.8 L472.5,69.2 L472.7,70.6 L472.8,72.0 L473.0,73.4 L473.2,74.8 L473.4,76.2 L473.5,77.6 L473.7,79.0 L473.9,80.4 L474.0,81.7 L474.2,83.0 L474.4,84.3 L474.5,85.5 L474.7,86.7 L474.9,87.9 L475.1,89.0 L475.2,90.1 L475.4,91.1 L475.6,92.1 L475.7,93.0 L475.9,93.9 L476.1,94.7 L476.2,95.4 L476.4,96.1 L476.6,96.7 L476.8,97.3 L476.9,97.8 L477.1,98.2 L477.3,98.6 L477.4,98.9 L477.6,99.1 L477.8,99.3 L477.9,99.4 L478.1,99.4 L478.3,99.4 L478.5,99.3 L478.6,99.1 L478.8,98.9 L479.0,98.6 L479.1,98.3 L479.3,97.9 L479.5,97.4 L479.6,96.9 L479.8,96.4 L480.0,95.8 L480.2,95.2 L480.3,94.5 L480.5,93.8 L480.7,93.0 L480.8,92.2 L481.0,91.4 L481.2,90.5 L481.3,89.6 L481.5,88.7 L481.7,87.8 L481.9,86.9 L482.0,85.9 L482.2,85.0 L482.4,84.0 L482.5,83.0 L482.7,82.0 L482.9,81.1 L483.1,80.1 L483.2,79.1 L483.4,78.2 L483.6,77.2 L483.7,76.3 L483.9,75.4 L484.1,74.5 L484.2,73.6 L484.4,72.8 L484.6,72.0 L484.8,71.2 L484.9,70.4 L485.1,69.7 L485.3,69.0 L485.4,68.3 L485.6,67.7 L485.8,67.1 L485.9,66.6 L486.1,66.1 L486.3,65.6 L486.5,65.2 L486.6,64.8 L486.8,64.5 L487.0,64.2 L487.1,63.9 L487.3,63.7 L487.5,63.5 L487.6,63.4 L487.8,63.3 L488.0,63.3 L488.2,63.3 L488.3,63.4 L488.5,63.5 L488.7,63.6 L488.8,63.8 L489.0,64.0 L489.2,64.3 L489.3,64.6 L489.5,64.9 L489.7,65.2 L489.9,65.6 L490.0,66.1 L490.2,66.5 L490.4,67.0 L490.5,67.5 L490.7,68.0 L490.9,68.6 L491.0,69.2 L491.2,69.8 L491.4,70.4 L491.6,71.0 L491.7,71.6 L491.9,72.3 L492.1,72.9 L492.2,73.6 L492.4,74.2 L492.6,74.9 L492.7,75.5 L492.9,76.2 L493.1,76.9 L493.3,77.5 L493.4,78.1 L493.6,78.8 L493.8,79.4 L493.9,80.0 L494.1,80.6 L494.3,81.2 L494.4,81.7 L494.6,82.3 L494.8,82.8 L495.0,83.3 L495.1,83.8 L495.3,84.2 L495.5,84.7 L495.6,85.1 L495.8,85.4 L496.0,85.8 L496.2,86.1 L496.3,86.4 L496.5,86.7 L496.7,86.9 L496.8,87.1 L497.0,87.3 L497.2,87.5 L497.3,87.6 L497.5,87.7 L497.7,87.7 L497.9,87.8 L498.0,87.8 L498.2,87.8 L498.4,87.7 L498.5,87.6 L498.7,87.5 L498.9,87.4 L499.0,87.2 L499.2,87.1 L499.4,86.9 L499.6,86.6 L499.7,86.4 L499.9,86.1 L500.1,85.8 L500.2,85.5 L500.4,85.2 L500.6,84.8 L500.7,84.4 L500.9,84.0 L501.1,83.6 L501.3,83.2 L501.4,82.8 L501.6,82.4 L501.8,81.9 L501.9,81.5 L502.1,81.0 L502.3,80.6 L502.4,80.1 L502.6,79.6 L502.8,79.1 L503.0,78.7 L503.1,78.2 L503.3,77.7 L503.5,77.3 L503.6,76.8 L503.8,76.3 L504.0,75.9 L504.1,75.5 L504.3,75.0 L504.5,74.6 L504.7,74.2 L504.8,73.8 L505.0,73.5 L505.2,73.1 L505.3,72.8 L505.5,72.5 L505.7,72.1 L505.8,71.9 L506.0,71.6 L506.2,71.3 L506.4,71.1 L506.5,70.9 L506.7,70.7 L506.9,70.6 L507.0,70.4 L507.2,70.3 L507.4,70.2 L507.5,70.1 L507.7,70.1 L507.9,70.1 L508.1,70.1 L508.2,70.1 L508.4,70.1 L508.6,70.2 L508.7,70.3 L508.9,70.4 L509.1,70.5 L509.2,70.7 L509.4,70.8 L509.6,71.0 L509.8,71.2 L509.9,71.5 L510.1,71.7 L510.3,72.0 L510.4,72.2 L510.6,72.5 L510.8,72.8 L511.0,73.1 L511.1,73.4 L511.3,73.8 L511.5,74.1 L511.6,74.5 L511.8,74.8 L512.0,75.2 L512.1,75.6 L512.3,76.0 L512.5,76.3 L512.7,76.7 L512.8,77.1 L513.0,77.5 L513.2,77.9 L513.3,78.3 L513.5,78.6 L513.7,79.0 L513.8,79.4 L514.0,79.7 L514.2,80.1 L514.4,80.4 L514.5,80.8 L514.7,81.1 L514.9,81.4 L515.0,81.7 L515.2,82.0 L515.4,82.3 L515.5,82.5 L515.7,82.8 L515.9,83.0 L516.1,83.2 L516.2,83.4 L516.4,83.6 L516.6,83.7 L516.7,83.9 L516.9,84.0 L517.1,84.1 L517.2,84.2 L517.4,84.3 L517.6,84.3 L517.8,84.4 L517.9,84.4 L518.1,84.4 L518.3,84.3 L518.4,84.3 L518.6,84.2 L518.8,84.1 L518.9,84.0 L519.1,83.9 L519.3,83.8 L519.5,83.6 L519.6,83.5 L519.8,83.3 L520.0,83.1 L520.1,82.9 L520.3,82.6 L520.5,82.4 L520.6,82.1 L520.8,81.9 L521.0,81.6 L521.2,81.3 L521.3,81.0 L521.5,80.7 L521.7,80.4 L521.8,80.1 L522.0,79.8 L522.2,79.5 L522.3,79.2 L522.5,78.9 L522.7,78.5 L522.9,78.2 L523.0,77.9 L523.2,77.6 L523.4,77.3 L523.5,76.9 L523.7,76.6 L523.9,76.3 L524.1,76.0 L524.2,75.7 L524.4,75.5 L524.6,75.2 L524.7,74.9 L524.9,74.7 L525.1,74.4 L525.2,74.2 L525.4,74.0 L525.6,73.8 L525.8,73.6 L525.9,73.4 L526.1,73.2 L526.3,73.1 L526.4,72.9 L526.6,72.8 L526.8,72.7 L526.9,72.6 L527.1,72.5 L527.3,72.5 L527.5,72.4 L527.6,72.4 L527.8,72.4 L528.0,72.4 L528.1,72.4 L528.3,72.4 L528.5,72.5 L528.6,72.5 L528.8,72.6 L529.0,72.7 L529.2,72.8 L529.3,73.0 L529.5,73.1 L529.7,73.2 L529.8,73.4 L530.0,73.6 L530.2,73.8 L530.3,74.0 L530.5,74.2 L530.7,74.4 L530.9,74.6 L531.0,74.8 L531.2,75.1 L531.4,75.3 L531.5,75.6 L531.7,75.9 L531.9,76.1 L532.0,76.4 L532.2,76.7 L532.4,76.9 L532.6,77.2 L532.7,77.5 L532.9,77.8 L533.1,78.0 L533.2,78.3 L533.4,78.6 L533.6,78.9 L533.7,79.1 L533.9,79.4 L534.1,79.6 L534.3,79.9 L534.4,80.1 L534.6,80.4 L534.8,80.6 L534.9,80.8 L535.1,81.0 L535.3,81.2 L535.4,81.4 L535.6,81.6 L535.8,81.8 L536.0,81.9 L536.1,82.1 L536.3,82.2 L536.5,82.4 L536.6,82.5 L536.8,82.6 L537.0,82.6 L537.1,82.7 L537.3,82.8 L537.5,82.8 L537.7,82.8 L537.8,82.8 L538.0,82.8 L538.2,82.8 L538.3,82.8 L538.5,82.8 L538.7,82.7 L538.9,82.6 L539.0,82.5 L539.2,82.4 L539.4,82.3 L539.5,82.2 L539.7,82.1 L539.9,81.9 L540.0,81.7 L540.2,81.6 L540.4,81.4 L540.6,81.2 L540.7,81.0 L540.9,80.8 L541.1,80.5 L541.2,80.3 L541.4,80.1 L541.6,79.8 L541.7,79.6 L541.9,79.3 L542.1,79.1 L542.3,78.8 L542.4,78.5 L542.6,78.3 L542.8,78.0 L542.9,77.7 L543.1,77.4 L543.3,77.2 L543.4,76.9 L543.6,76.6 L543.8,76.4 L544.0,76.1 L544.1,75.9 L544.3,75.6 L544.5,75.4 L544.6,75.1 L544.8,74.9 L545.0,74.7 L545.1,74.5 L545.3,74.3 L545.5,74.1 L545.7,73.9 L545.8,73.7 L546.0,73.6 L546.2,73.4 L546.3,73.3 L546.5,73.2 L546.7,73.1 L546.8,73.0 L547.0,72.9 L547.2,72.8 L547.4,72.8 L547.5,72.7 L547.7,72.7 L547.9,72.7 L548.0,72.7 L548.2,72.7 L548.4,72.8 L548.5,72.8 L548.7,72.9 L548.9,73.0 L549.1,73.1 L549.2,73.2 L549.4,73.3 L549.6,73.4 L549.7,73.6 L549.9,73.8 L550.1,73.9 L550.2,74.1 L550.4,74.3 L550.6,74.5 L550.8,74.8 L550.9,75.0 L551.1,75.2 L551.3,75.5 L551.4,75.7 L551.6,76.0 L551.8,76.2 L552.0,76.5 L552.1,76.8 L552.3,77.1 L552.5,77.4 L552.6,77.6 L552.8,77.9 L553.0,78.2 L553.1,78.5 L553.3,78.8 L553.5,79.1 L553.7,79.4 L553.8,79.6 L554.0,79.9 L554.2,80.2 L554.3,80.4 L554.5,80.7 L554.7,80.9 L554.8,81.2 L555.0,81.4 L555.2,81.6 L555.4,81.8 L555.5,82.0 L555.7,82.2 L555.9,82.4 L556.0,82.6 L556.2,82.7 L556.4,82.9 L556.5,83.0 L556.7,83.1 L556.9,83.2 L557.1,83.3 L557.2,83.3 L557.4,83.4 L557.6,83.4 L557.7,83.4 L557.9,83.4 L558.1,83.4 L558.2,83.3 L558.4,83.3 L558.6,83.2 L558.8,83.1 L558.9,83.0 L559.1,82.9 L559.3,82.8 L559.4,82.7 L559.6,82.5 L559.8,82.3 L559.9,82.1 L560.1,81.9 L560.3,81.7 L560.5,81.5 L560.6,81.3 L560.8,81.0 L561.0,80.8 L561.1,80.5 L561.3,80.2 L561.5,79.9 L561.6,79.7 L561.8,79.4 L562.0,79.1 L562.2,78.8 L562.3,78.4 L562.5,78.1 L562.7,77.8 L562.8,77.5 L563.0,77.2 L563.2,76.9 L563.3,76.6 L563.5,76.3 L563.7,75.9 L563.9,75.6 L564.0,75.3 L564.2,75.1 L564.4,74.8 L564.5,74.5 L564.7,74.2 L564.9,74.0 L565.0,73.7 L565.2,73.5 L565.4,73.3 L565.6,73.1 L565.7,72.9 L565.9,72.7 L566.1,72.5 L566.2,72.4 L566.4,72.2 L566.6,72.1 L566.8,72.0 L566.9,71.9 L567.1,71.8 L567.3,71.8 L567.4,71.7 L567.6,71.7 L567.8,71.7 L567.9,71.7 L568.1,71.8 L568.3,71.8 L568.5,71.9 L568.6,72.0 L568.8,72.1 L569.0,72.2 L569.1,72.3 L569.3,72.5 L569.5,72.7 L569.6,72.8 L569.8,73.1 L570.0,73.3 L570.2,73.5 L570.3,73.7 L570.5,74.0 L570.7,74.3 L570.8,74.6 L571.0,74.8 L571.2,75.1 L571.3,75.5 L571.5,75.8 L571.7,76.1 L571.9,76.4 L572.0,76.8 L572.2,77.1 L572.4,77.5 L572.5,77.8 L572.7,78.2 L572.9,78.5 L573.0,78.9 L573.2,79.2 L573.4,79.6 L573.6,79.9 L573.7,80.3 L573.9,80.6 L574.1,81.0 L574.2,81.3 L574.4,81.6 L574.6,81.9 L574.7,82.2 L574.9,82.5 L575.1,82.8 L575.3,83.1 L575.4,83.4 L575.6,83.6 L575.8,83.8 L575.9,84.1 L576.1,84.3 L576.3,84.4 L576.4,84.6 L576.6,84.8 L576.8,84.9 L577.0,85.0 L577.1,85.1 L577.3,85.1 L577.5,85.2 L577.6,85.2 L577.8,85.2 L578.0,85.2 L578.1,85.2 L578.3,85.1 L578.5,85.0 L578.7,84.9 L578.8,84.8 L579.0,84.7 L579.2,84.5 L579.3,84.3 L579.5,84.1 L579.7,83.9 L579.9,83.6 L580.0,83.4 L580.2,83.1 L580.4,82.8 L580.5,82.4 L580.7,82.1 L580.9,81.7 L581.0,81.4 L581.2,81.0 L581.4,80.6 L581.6,80.2 L581.7,79.8 L581.9,79.3 L582.1,78.9 L582.2,78.4 L582.4,78.0 L582.6,77.5 L582.7,77.1 L582.9,76.6 L583.1,76.1 L583.3,75.7 L583.4,75.2 L583.6,74.7 L583.8,74.3 L583.9,73.8 L584.1,73.4 L584.3,73.0 L584.4,72.5 L584.6,72.1 L584.8,71.7 L585.0,71.3 L585.1,71.0 L585.3,70.6 L585.5,70.3 L585.6,70.0 L585.8,69.7 L586.0,69.4 L586.1,69.1 L586.3,68.9 L586.5,68.7 L586.7,68.5 L586.8,68.4 L587.0,68.3 L587.2,68.2 L587.3,68.1 L587.5,68.0 L587.7,68.0 L587.8,68.0 L588.0,68.1 L588.2,68.2 L588.4,68.3 L588.5,68.4 L588.7,68.6 L588.9,68.8 L589.0,69.0 L589.2,69.2 L589.4,69.5 L589.5,69.8 L589.7,70.1 L589.9,70.5 L590.1,70.9 L590.2,71.3 L590.4,71.7 L590.6,72.1 L590.7,72.6 L590.9,73.1 L591.1,73.6 L591.2,74.1 L591.4,74.7 L591.6,75.2 L591.8,75.8 L591.9,76.4 L592.1,77.0 L592.3,77.6 L592.4,78.2 L592.6,78.8 L592.8,79.4 L592.9,80.0 L593.1,80.6 L593.3,81.2 L593.5,81.8 L593.6,82.4 L593.8,83.0 L594.0,83.5 L594.1,84.1 L594.3,84.6 L594.5,85.1 L594.7,85.7 L594.8,86.1 L595.0,86.6 L595.2,87.1 L595.3,87.5 L595.5,87.9 L595.7,88.2 L595.8,88.6 L596.0,88.9 L596.2,89.2 L596.4,89.4 L596.5,89.6 L596.7,89.8 L596.9,90.0 L597.0,90.1 L597.2,90.2 L597.4,90.2 L597.5,90.2 L597.7,90.2 L597.9,90.1 L598.1,90.0 L598.2,89.9 L598.4,89.7 L598.6,89.5 L598.7,89.2 L598.9,88.9 L599.1,88.6 L599.2,88.3 L599.4,87.9 L599.6,87.5 L599.8,87.0 L599.9,86.6 L600.1,86.1 L600.3,85.5 L600.4,85.0 L600.6,84.4 L600.8,83.8 L600.9,83.2 L601.1,82.5 L601.3,81.9 L601.5,81.2 L601.6,80.5 L601.8,79.8 L602.0,79.1 L602.1,78.3 L602.3,77.6 L602.5,76.9 L602.6,76.1 L602.8,75.4 L603.0,74.7 L603.2,73.9 L603.3,73.2 L603.5,72.5 L603.7,71.8 L603.8,71.1 L604.0,70.4 L604.2,69.8 L604.3,69.1 L604.5,68.5 L604.7,67.9 L604.9,67.3 L605.0,66.8 L605.2,66.3 L605.4,65.8 L605.5,65.3 L605.7,64.9 L605.9,64.5 L606.0,64.2 L606.2,63.9 L606.4,63.6 L606.6,63.4 L606.7,63.2 L606.9,63.0 L607.1,62.9 L607.2,62.9 L607.4,62.9 L607.6,62.9 L607.8,63.0 L607.9,63.1 L608.1,63.2 L608.3,63.4 L608.4,63.7 L608.6,64.0 L608.8,64.3 L608.9,64.7 L609.1,65.1 L609.3,65.6 L609.5,66.0 L609.6,66.6 L609.8,67.2 L610.0,67.8 L610.1,68.4 L610.3,69.1 L610.5,69.8 L610.6,70.5 L610.8,71.3 L611.0,72.0 L611.2,72.8 L611.3,73.7 L611.5,74.5 L611.7,75.3 L611.8,76.2 L612.0,77.1 L612.2,78.0 L612.3,78.9 L612.5,79.7 L612.7,80.6 L612.9,81.5 L613.0,82.4 L613.2,83.3 L613.4,84.1 L613.5,85.0 L613.7,85.8 L613.9,86.6 L614.0,87.4 L614.2,88.2 L614.4,88.9 L614.6,89.6 L614.7,90.3 L614.9,90.9 L615.1,91.5 L615.2,92.1 L615.4,92.6 L615.6,93.1 L615.7,93.6 L615.9,94.0 L616.1,94.3 L616.3,94.6 L616.4,94.9 L616.6,95.1 L616.8,95.3 L616.9,95.4 L617.1,95.4 L617.3,95.4 L617.4,95.4 L617.6,95.3 L617.8,95.1 L618.0,94.9 L618.1,94.7 L618.3,94.4 L618.5,94.0 L618.6,93.6 L618.8,93.2 L619.0,92.7 L619.1,92.1 L619.3,91.6 L619.5,90.9 L619.7,90.3 L619.8,89.5 L620.0,88.8 L620.2,88.0 L620.3,87.2 L620.5,86.4 L620.7,85.5 L620.8,84.6 L621.0,83.7 L621.2,82.8 L621.4,81.8 L621.5,80.9 L621.7,79.9 L621.9,78.9 L622.0,77.9 L622.2,76.9 L622.4,75.9 L622.6,74.9 L622.7,74.0 L622.9,73.0 L623.1,72.0 L623.2,71.1 L623.4,70.2 L623.6,69.3 L623.7,68.4 L623.9,67.6 L624.1,66.7 L624.3,66.0 L624.4,65.2 L624.6,64.5 L624.8,63.8 L624.9,63.2 L625.1,62.6 L625.3,62.1 L625.4,61.6 L625.6,61.1 L625.8,60.7 L626.0,60.4 L626.1,60.1 L626.3,59.8 L626.5,59.6 L626.6,59.5 L626.8,59.4 L627.0,59.4 L627.1,59.4 L627.3,59.5 L627.5,59.6 L627.7,59.8 L627.8,60.1 L628.0,60.3 L628.2,60.7 L628.3,61.1 L628.5,61.5 L628.7,62.0 L628.8,62.6 L629.0,63.1 L629.2,63.8 L629.4,64.4 L629.5,65.1 L629.7,65.9 L629.9,66.6 L630.0,67.4 L630.2,68.3 L630.4,69.1 L630.5,70.0 L630.7,70.9 L630.9,71.9 L631.1,72.8 L631.2,73.7 L631.4,74.7 L631.6,75.7 L631.7,76.6 L631.9,77.6 L632.1,78.6 L632.2,79.5 L632.4,80.5 L632.6,81.4 L632.8,82.4 L632.9,83.3 L633.1,84.2 L633.3,85.1 L633.4,85.9 L633.6,86.7 L633.8,87.5 L633.9,88.3 L634.1,89.0 L634.3,89.7 L634.5,90.4 L634.6,91.0 L634.8,91.6 L635.0,92.1 L635.1,92.6 L635.3,93.1 L635.5,93.5 L635.7,93.8 L635.8,94.1 L636.0,94.4 L636.2,94.6 L636.3,94.7 L636.5,94.9 L636.7,94.9 L636.8,94.9 L637.0,94.9 L637.2,94.8 L637.4,94.6 L637.5,94.4 L637.7,94.2 L637.9,93.9 L638.0,93.6 L638.2,93.2 L638.4,92.8 L638.5,92.3 L638.7,91.8 L638.9,91.3 L639.1,90.7 L639.2,90.1 L639.4,89.4 L639.6,88.8 L639.7,88.1 L639.9,87.3 L640.1,86.6 L640.2,85.8 L640.4,85.0 L640.6,84.2 L640.8,83.4 L640.9,82.5 L641.1,81.7 L641.3,80.8 L641.4,80.0 L641.6,79.1 L641.8,78.2 L641.9,77.4 L642.1,76.5 L642.3,75.7 L642.5,74.8 L642.6,74.0 L642.8,73.2 L643.0,72.4 L643.1,71.7 L643.3,70.9 L643.5,70.2 L643.6,69.5 L643.8,68.8 L644.0,68.2 L644.2,67.6 L644.3,67.0 L644.5,66.5 L644.7,66.0 L644.8,65.5 L645.0,65.1 L645.2,64.7 L645.3,64.4 L645.5,64.1 L645.7,63.8 L645.9,63.6 L646.0,63.4 L646.2,63.3 L646.4,63.2 L646.5,63.1 L646.7,63.1 L646.9,63.2 L647.0,63.2 L647.2,63.4 L647.4,63.5 L647.6,63.7 L647.7,64.0 L647.9,64.3 L648.1,64.6 L648.2,64.9 L648.4,65.3 L648.6,65.8 L648.7,66.2 L648.9,66.7 L649.1,67.2 L649.3,67.8 L649.4,68.4 L649.6,69.0 L649.8,69.6 L649.9,70.2 L650.1,70.9 L650.3,71.6 L650.5,72.3 L650.6,73.0 L650.8,73.7 L651.0,74.4 L651.1,75.2 L651.3,75.9 L651.5,76.6 L651.6,77.4 L651.8,78.1 L652.0,78.8 L652.2,79.6 L652.3,80.3 L652.5,81.0 L652.7,81.7 L652.8,82.4 L653.0,83.0 L653.2,83.7 L653.3,84.3 L653.5,84.9 L653.7,85.5 L653.9,86.0 L654.0,86.5 L654.2,87.0 L654.4,87.5 L654.5,87.9 L654.7,88.3 L654.9,88.7 L655.0,89.0 L655.2,89.3 L655.4,89.6 L655.6,89.8 L655.7,90.0 L655.9,90.2 L656.1,90.3 L656.2,90.4 L656.4,90.4 L656.6,90.4 L656.7,90.4 L656.9,90.3 L657.1,90.2 L657.3,90.1 L657.4,89.9 L657.6,89.7 L657.8,89.5 L657.9,89.2 L658.1,88.9 L658.3,88.6 L658.4,88.2 L658.6,87.8 L658.8,87.4 L659.0,86.9 L659.1,86.5 L659.3,86.0 L659.5,85.5 L659.6,84.9 L659.8,84.4 L660.0,83.8 L660.1,83.3 L660.3,82.7 L660.5,82.1 L660.7,81.5 L660.8,80.9 L661.0,80.2 L661.2,79.6 L661.3,79.0 L661.5,78.4 L661.7,77.7 L661.8,77.1 L662.0,76.5 L662.2,75.9 L662.4,75.3 L662.5,74.8 L662.7,74.2 L662.9,73.6 L663.0,73.1 L663.2,72.6 L663.4,72.1 L663.6,71.6 L663.7,71.2 L663.9,70.7 L664.1,70.3 L664.2,69.9 L664.4,69.6 L664.6,69.2 L664.7,68.9 L664.9,68.7 L665.1,68.4 L665.3,68.2 L665.4,68.0 L665.6,67.9 L665.8,67.7 L665.9,67.7 L666.1,67.6 L666.3,67.6 L666.4,67.6 L666.6,67.6 L666.8,67.6 L667.0,67.7 L667.1,67.8 L667.3,68.0 L667.5,68.2 L667.6,68.4 L667.8,68.6 L668.0,68.8 L668.1,69.1 L668.3,69.4 L668.5,69.7 L668.7,70.1 L668.8,70.4 L669.0,70.8 L669.2,71.2 L669.3,71.6 L669.5,72.1 L669.7,72.5 L669.8,73.0 L670.0,73.4 L670.2,73.9 L670.4,74.4 L670.5,74.9 L670.7,75.4 L670.9,75.9 L671.0,76.4 L671.2,76.9 L671.4,77.3 L671.5,77.8 L671.7,78.3 L671.9,78.8 L672.1,79.3 L672.2,79.7 L672.4,80.2 L672.6,80.6 L672.7,81.1 L672.9,81.5 L673.1,81.9 L673.2,82.3 L673.4,82.6 L673.6,83.0 L673.8,83.3 L673.9,83.6 L674.1,83.9 L674.3,84.2 L674.4,84.4 L674.6,84.7 L674.8,84.9 L674.9,85.0 L675.1,85.2 L675.3,85.3 L675.5,85.5 L675.6,85.5 L675.8,85.6 L676.0,85.6 L676.1,85.7 L676.3,85.6 L676.5,85.6 L676.6,85.6 L676.8,85.5 L677.0,85.4 L677.2,85.3 L677.3,85.1 L677.5,85.0" fill="none" stroke="#d83c4a" stroke-width="0.65" />
<path d="M439.5,27.7 L439.7,27.8 L439.8,27.8 L440.0,27.9 L440.2,27.9 L440.4,28.0 L440.5,28.1 L440.7,28.1 L440.9,28.2 L441.0,28.3 L441.2,28.3 L441.4,28.4 L441.5,28.5 L441.7,28.5 L441.9,28.6 L442.1,28.7 L442.2,28.7 L442.4,28.8 L442.6,28.9 L442.7,28.9 L442.9,29.0 L443.1,29.1 L443.2,29.2 L443.4,29.2 L443.6,29.3 L443.8,29.4 L443.9,29.5 L444.1,29.5 L444.3,29.6 L444.4,29.7 L444.6,29.8 L444.8,29.9 L444.9,29.9 L445.1,30.0 L445.3,30.1 L445.5,30.2 L445.6,30.3 L445.8,30.4 L446.0,30.4 L446.1,30.5 L446.3,30.6 L446.5,30.7 L446.6,30.8 L446.8,30.9 L447.0,31.0 L447.2,31.0 L447.3,31.1 L447.5,31.2 L447.7,31.3 L447.8,31.4 L448.0,31.5 L448.2,31.6 L448.3,31.7 L448.5,31.8 L448.7,31.9 L448.9,32.0 L449.0,32.1 L449.2,32.2 L449.4,32.3 L449.5,32.4 L449.7,32.5 L449.9,32.6 L450.0,32.7 L450.2,32.8 L450.4,32.9 L450.6,33.0 L450.7,33.1 L450.9,33.2 L451.1,33.4 L451.2,33.5 L451.4,33.6 L451.6,33.7 L451.7,33.8 L451.9,33.9 L452.1,34.1 L452.3,34.2 L452.4,34.3 L452.6,34.4 L452.8,34.6 L452.9,34.7 L453.1,34.8 L453.3,34.9 L453.4,35.1 L453.6,35.2 L453.8,35.3 L454.0,35.5 L454.1,35.6 L454.3,35.7 L454.5,35.9 L454.6,36.0 L454.8,36.1 L455.0,36.3 L455.2,36.4 L455.3,36.5 L455.5,36.7 L455.7,36.8 L455.8,37.0 L456.0,37.1 L456.2,37.2 L456.3,37.4 L456.5,37.5 L456.7,37.7 L456.9,37.8 L457.0,38.0 L457.2,38.1 L457.4,38.3 L457.5,38.4 L457.7,38.6 L457.9,38.7 L458.0,38.8 L458.2,39.0 L458.4,39.1 L458.6,39.3 L458.7,39.4 L458.9,39.6 L459.1,39.7 L459.2,39.9 L459.4,40.0 L459.6,40.2 L459.7,40.3 L459.9,40.5 L460.1,40.6 L460.3,40.8 L460.4,41.0 L460.6,41.1 L460.8,41.3 L460.9,41.4 L461.1,41.6 L461.3,41.7 L461.4,41.9 L461.6,42.0 L461.8,42.2 L462.0,42.3 L462.1,42.5 L462.3,42.6 L462.5,42.8 L462.6,42.9 L462.8,43.1 L463.0,43.2 L463.1,43.4 L463.3,43.5 L463.5,43.7 L463.7,43.8 L463.8,44.0 L464.0,44.1 L464.2,44.3 L464.3,44.4 L464.5,44.6 L464.7,44.7 L464.8,44.9 L465.0,45.0 L465.2,45.2 L465.4,45.3 L465.5,45.5 L465.7,45.6 L465.9,45.8 L466.0,45.9 L466.2,46.1 L466.4,46.2 L466.5,46.4 L466.7,46.5 L466.9,46.7 L467.1,46.8 L467.2,46.9 L467.4,47.1 L467.6,47.2 L467.7,47.4 L467.9,47.5 L468.1,47.6 L468.3,47.8 L468.4,47.9 L468.6,48.1 L468.8,48.2 L468.9,48.3 L469.1,48.5 L469.3,48.6 L469.4,48.7 L469.6,48.9 L469.8,49.0 L470.0,49.2 L470.1,49.3 L470.3,49.5 L470.5,49.6 L470.6,49.7 L470.8,49.9 L471.0,50.0 L471.1,50.2 L471.3,50.3 L471.5,50.5 L471.7,50.6 L471.8,50.7 L472.0,50.9 L472.2,51.0 L472.3,51.2 L472.5,51.3 L472.7,51.5 L472.8,51.6 L473.0,51.8 L473.2,51.9 L473.4,52.1 L473.5,52.2 L473.7,52.3 L473.9,52.5 L474.0,52.6 L474.2,52.8 L474.4,52.9 L474.5,53.1 L474.7,53.2 L474.9,53.4 L475.1,53.5 L475.2,53.7 L475.4,53.8 L475.6,54.0 L475.7,54.1 L475.9,54.3 L476.1,54.4 L476.2,54.6 L476.4,54.7 L476.6,54.8 L476.8,55.0 L476.9,55.1 L477.1,55.3 L477.3,55.4 L477.4,55.6 L477.6,55.7 L477.8,55.9 L477.9,56.0 L478.1,56.1 L478.3,56.3 L478.5,56.4 L478.6,56.6 L478.8,56.7 L479.0,56.9 L479.1,57.0 L479.3,57.1 L479.5,57.3 L479.6,57.4 L479.8,57.6 L480.0,57.7 L480.2,57.8 L480.3,58.0 L480.5,58.1 L480.7,58.2 L480.8,58.4 L481.0,58.5 L481.2,58.6 L481.3,58.8 L481.5,58.9 L481.7,59.0 L481.9,59.2 L482.0,59.3 L482.2,59.4 L482.4,59.6 L482.5,59.7 L482.7,59.8 L482.9,59.9 L483.1,60.1 L483.2,60.2 L483.4,60.3 L483.6,60.4 L483.7,60.5 L483.9,60.7 L484.1,60.8 L484.2,60.9 L484.4,61.0 L484.6,61.1 L484.8,61.2 L484.9,61.4 L485.1,61.5 L485.3,61.6 L485.4,61.7 L485.6,61.8 L485.8,61.9 L485.9,62.0 L486.1,62.1 L486.3,62.2 L486.5,62.3 L486.6,62.4 L486.8,62.5 L487.0,62.6 L487.1,62.7 L487.3,62.8 L487.5,62.9 L487.6,63.0 L487.8,63.1 L488.0,63.2 L488.2,63.3 L488.3,63.4 L488.5,63.5 L488.7,63.6 L488.8,63.7 L489.0,63.8 L489.2,63.8 L489.3,63.9 L489.5,64.0 L489.7,64.1 L489.9,64.2 L490.0,64.3 L490.2,64.4 L490.4,64.5 L490.5,64.6 L490.7,64.7 L490.9,64.8 L491.0,64.8 L491.2,64.9 L491.4,65.0 L491.6,65.1 L491.7,65.2 L491.9,65.3 L492.1,65.4 L492.2,65.4 L492.4,65.5 L492.6,65.6 L492.7,65.7 L492.9,65.8 L493.1,65.9 L493.3,65.9 L493.4,66.0 L493.6,66.1 L493.8,66.2 L493.9,66.3 L494.1,66.3 L494.3,66.4 L494.4,66.5 L494.6,66.6 L494.8,66.6 L495.0,66.7 L495.1,66.8 L495.3,66.9 L495.5,66.9 L495.6,67.0 L495.8,67.1 L496.0,67.1 L496.2,67.2 L496.3,67.3 L496.5,67.3 L496.7,67.4 L496.8,67.5 L497.0,67.5 L497.2,67.6 L497.3,67.6 L497.5,67.7 L497.7,67.8 L497.9,67.8 L498.0,67.9 L498.2,67.9 L498.4,68.0 L498.5,68.0 L498.7,68.1 L498.9,68.1 L499.0,68.2 L499.2,68.2 L499.4,68.3 L499.6,68.3 L499.7,68.4 L499.9,68.4 L500.1,68.5 L500.2,68.5 L500.4,68.5 L500.6,68.6 L500.7,68.6 L500.9,68.7 L501.1,68.7 L501.3,68.7 L501.4,68.8 L501.6,68.8 L501.8,68.9 L501.9,68.9 L502.1,68.9 L502.3,69.0 L502.4,69.0 L502.6,69.1 L502.8,69.1 L503.0,69.1 L503.1,69.2 L503.3,69.2 L503.5,69.2 L503.6,69.3 L503.8,69.3 L504.0,69.3 L504.1,69.4 L504.3,69.4 L504.5,69.4 L504.7,69.5 L504.8,69.5 L505.0,69.5 L505.2,69.6 L505.3,69.6 L505.5,69.6 L505.7,69.7 L505.8,69.7 L506.0,69.7 L506.2,69.7 L506.4,69.8 L506.5,69.8 L506.7,69.8 L506.9,69.9 L507.0,69.9 L507.2,69.9 L507.4,70.0 L507.5,70.0 L507.7,70.0 L507.9,70.0 L508.1,70.1 L508.2,70.1 L508.4,70.1 L508.6,70.1 L508.7,70.2 L508.9,70.2 L509.1,70.2 L509.2,70.2 L509.4,70.3 L509.6,70.3 L509.8,70.3 L509.9,70.4 L510.1,70.4 L510.3,70.4 L510.4,70.4 L510.6,70.4 L510.8,70.5 L511.0,70.5 L511.1,70.5 L511.3,70.5 L511.5,70.6 L511.6,70.6 L511.8,70.6 L512.0,70.6 L512.1,70.7 L512.3,70.7 L512.5,70.7 L512.7,70.7 L512.8,70.7 L513.0,70.8 L513.2,70.8 L513.3,70.8 L513.5,70.8 L513.7,70.8 L513.8,70.9 L514.0,70.9 L514.2,70.9 L514.4,70.9 L514.5,70.9 L514.7,71.0 L514.9,71.0 L515.0,71.0 L515.2,71.0 L515.4,71.0 L515.5,71.1 L515.7,71.1 L515.9,71.1 L516.1,71.1 L516.2,71.1 L516.4,71.2 L516.6,71.2 L516.7,71.2 L516.9,71.2 L517.1,71.2 L517.2,71.3 L517.4,71.3 L517.6,71.3 L517.8,71.3 L517.9,71.3 L518.1,71.3 L518.3,71.4 L518.4,71.4 L518.6,71.4 L518.8,71.4 L518.9,71.4 L519.1,71.5 L519.3,71.5 L519.5,71.5 L519.6,71.5 L519.8,71.5 L520.0,71.6 L520.1,71.6 L520.3,71.6 L520.5,71.6 L520.6,71.6 L520.8,71.7 L521.0,71.7 L521.2,71.7 L521.3,71.7 L521.5,71.7 L521.7,71.7 L521.8,71.8 L522.0,71.8 L522.2,71.8 L522.3,71.8 L522.5,71.8 L522.7,71.9 L522.9,71.9 L523.0,71.9 L523.2,71.9 L523.4,71.9 L523.5,71.9 L523.7,72.0 L523.9,72.0 L524.1,72.0 L524.2,72.0 L524.4,72.0 L524.6,72.1 L524.7,72.1 L524.9,72.1 L525.1,72.1 L525.2,72.1 L525.4,72.1 L525.6,72.2 L525.8,72.2 L525.9,72.2 L526.1,72.2 L526.3,72.2 L526.4,72.2 L526.6,72.3 L526.8,72.3 L526.9,72.3 L527.1,72.3 L527.3,72.3 L527.5,72.3 L527.6,72.3 L527.8,72.4 L528.0,72.4 L528.1,72.4 L528.3,72.4 L528.5,72.4 L528.6,72.4 L528.8,72.4 L529.0,72.5 L529.2,72.5 L529.3,72.5 L529.5,72.5 L529.7,72.5 L529.8,72.5 L530.0,72.5 L530.2,72.6 L530.3,72.6 L530.5,72.6 L530.7,72.6 L530.9,72.6 L531.0,72.6 L531.2,72.6 L531.4,72.6 L531.5,72.6 L531.7,72.7 L531.9,72.7 L532.0,72.7 L532.2,72.7 L532.4,72.7 L532.6,72.7 L532.7,72.7 L532.9,72.7 L533.1,72.7 L533.2,72.7 L533.4,72.7 L533.6,72.8 L533.7,72.8 L533.9,72.8 L534.1,72.8 L534.3,72.8 L534.4,72.8 L534.6,72.8 L534.8,72.8 L534.9,72.8 L535.1,72.8 L535.3,72.8 L535.4,72.8 L535.6,72.8 L535.8,72.8 L536.0,72.8 L536.1,72.8 L536.3,72.8 L536.5,72.8 L536.6,72.8 L536.8,72.8 L537.0,72.8 L537.1,72.8 L537.3,72.8 L537.5,72.8 L537.7,72.8 L537.8,72.8 L538.0,72.8 L538.2,72.8 L538.3,72.8 L538.5,72.8 L538.7,72.8 L538.9,72.8 L539.0,72.8 L539.2,72.8 L539.4,72.8 L539.5,72.8 L539.7,72.8 L539.9,72.8 L540.0,72.8 L540.2,72.8 L540.4,72.8 L540.6,72.8 L540.7,72.8 L540.9,72.8 L541.1,72.8 L541.2,72.8 L541.4,72.8 L541.6,72.8 L541.7,72.8 L541.9,72.8 L542.1,72.8 L542.3,72.8 L542.4,72.8 L542.6,72.8 L542.8,72.8 L542.9,72.8 L543.1,72.8 L543.3,72.8 L543.4,72.8 L543.6,72.8 L543.8,72.8 L544.0,72.8 L544.1,72.8 L544.3,72.8 L544.5,72.8 L544.6,72.8 L544.8,72.8 L545.0,72.8 L545.1,72.8 L545.3,72.8 L545.5,72.8 L545.7,72.8 L545.8,72.8 L546.0,72.7 L546.2,72.7 L546.3,72.7 L546.5,72.7 L546.7,72.7 L546.8,72.7 L547.0,72.7 L547.2,72.7 L547.4,72.7 L547.5,72.7 L547.7,72.7 L547.9,72.7 L548.0,72.7 L548.2,72.7 L548.4,72.7 L548.5,72.7 L548.7,72.7 L548.9,72.7 L549.1,72.7 L549.2,72.7 L549.4,72.6 L549.6,72.6 L549.7,72.6 L549.9,72.6 L550.1,72.6 L550.2,72.6 L550.4,72.6 L550.6,72.6 L550.8,72.6 L550.9,72.6 L551.1,72.6 L551.3,72.6 L551.4,72.6 L551.6,72.6 L551.8,72.6 L552.0,72.6 L552.1,72.6 L552.3,72.5 L552.5,72.5 L552.6,72.5 L552.8,72.5 L553.0,72.5 L553.1,72.5 L553.3,72.5 L553.5,72.5 L553.7,72.5 L553.8,72.5 L554.0,72.5 L554.2,72.5 L554.3,72.5 L554.5,72.5 L554.7,72.4 L554.8,72.4 L555.0,72.4 L555.2,72.4 L555.4,72.4 L555.5,72.4 L555.7,72.4 L555.9,72.4 L556.0,72.4 L556.2,72.4 L556.4,72.4 L556.5,72.4 L556.7,72.3 L556.9,72.3 L557.1,72.3 L557.2,72.3 L557.4,72.3 L557.6,72.3 L557.7,72.3 L557.9,72.3 L558.1,72.3 L558.2,72.3 L558.4,72.3 L558.6,72.3 L558.8,72.2 L558.9,72.2 L559.1,72.2 L559.3,72.2 L559.4,72.2 L559.6,72.2 L559.8,72.2 L559.9,72.2 L560.1,72.2 L560.3,72.2 L560.5,72.2 L560.6,72.1 L560.8,72.1 L561.0,72.1 L561.1,72.1 L561.3,72.1 L561.5,72.1 L561.6,72.1 L561.8,72.1 L562.0,72.1 L562.2,72.1 L562.3,72.0 L562.5,72.0 L562.7,72.0 L562.8,72.0 L563.0,72.0 L563.2,72.0 L563.3,72.0 L563.5,72.0 L563.7,72.0 L563.9,72.0 L564.0,71.9 L564.2,71.9 L564.4,71.9 L564.5,71.9 L564.7,71.9 L564.9,71.9 L565.0,71.9 L565.2,71.9 L565.4,71.9 L565.6,71.8 L565.7,71.8 L565.9,71.8 L566.1,71.8 L566.2,71.8 L566.4,71.8 L566.6,71.8 L566.8,71.8 L566.9,71.8 L567.1,71.7 L567.3,71.7 L567.4,71.7 L567.6,71.7 L567.8,71.7 L567.9,71.7 L568.1,71.7 L568.3,71.7 L568.5,71.7 L568.6,71.6 L568.8,71.6 L569.0,71.6 L569.1,71.6 L569.3,71.6 L569.5,71.6 L569.6,71.6 L569.8,71.6 L570.0,71.6 L570.2,71.5 L570.3,71.5 L570.5,71.5 L570.7,71.5 L570.8,71.5 L571.0,71.5 L571.2,71.5 L571.3,71.4 L571.5,71.4 L571.7,71.4 L571.9,71.4 L572.0,71.4 L572.2,71.3 L572.4,71.3 L572.5,71.3 L572.7,71.3 L572.9,71.3 L573.0,71.2 L573.2,71.2 L573.4,71.2 L573.6,71.2 L573.7,71.2 L573.9,71.1 L574.1,71.1 L574.2,71.1 L574.4,71.0 L574.6,71.0 L574.7,71.0 L574.9,71.0 L575.1,70.9 L575.3,70.9 L575.4,70.9 L575.6,70.9 L575.8,70.8 L575.9,70.8 L576.1,70.8 L576.3,70.7 L576.4,70.7 L576.6,70.7 L576.8,70.6 L577.0,70.6 L577.1,70.6 L577.3,70.5 L577.5,70.5 L577.6,70.5 L577.8,70.4 L578.0,70.4 L578.1,70.4 L578.3,70.3 L578.5,70.3 L578.7,70.3 L578.8,70.2 L579.0,70.2 L579.2,70.1 L579.3,70.1 L579.5,70.1 L579.7,70.0 L579.9,70.0 L580.0,70.0 L580.2,69.9 L580.4,69.9 L580.5,69.8 L580.7,69.8 L580.9,69.8 L581.0,69.7 L581.2,69.7 L581.4,69.6 L581.6,69.6 L581.7,69.6 L581.9,69.5 L582.1,69.5 L582.2,69.4 L582.4,69.4 L582.6,69.3 L582.7,69.3 L582.9,69.3 L583.1,69.2 L583.3,69.2 L583.4,69.1 L583.6,69.1 L583.8,69.0 L583.9,69.0 L584.1,69.0 L584.3,68.9 L584.4,68.9 L584.6,68.8 L584.8,68.8 L585.0,68.7 L585.1,68.7 L585.3,68.6 L585.5,68.6 L585.6,68.5 L585.8,68.5 L586.0,68.5 L586.1,68.4 L586.3,68.4 L586.5,68.3 L586.7,68.3 L586.8,68.2 L587.0,68.2 L587.2,68.1 L587.3,68.1 L587.5,68.0 L587.7,68.0 L587.8,68.0 L588.0,67.9 L588.2,67.9 L588.4,67.8 L588.5,67.8 L588.7,67.7 L588.9,67.7 L589.0,67.6 L589.2,67.6 L589.4,67.5 L589.5,67.5 L589.7,67.4 L589.9,67.4 L590.1,67.3 L590.2,67.3 L590.4,67.3 L590.6,67.2 L590.7,67.2 L590.9,67.1 L591.1,67.1 L591.2,67.0 L591.4,67.0 L591.6,66.9 L591.8,66.9 L591.9,66.8 L592.1,66.8 L592.3,66.8 L592.4,66.7 L592.6,66.7 L592.8,66.6 L592.9,66.6 L593.1,66.5 L593.3,66.5 L593.5,66.4 L593.6,66.4 L593.8,66.4 L594.0,66.3 L594.1,66.3 L594.3,66.2 L594.5,66.2 L594.7,66.1 L594.8,66.1 L595.0,66.1 L595.2,66.0 L595.3,66.0 L595.5,65.9 L595.7,65.9 L595.8,65.8 L596.0,65.8 L596.2,65.8 L596.4,65.7 L596.5,65.7 L596.7,65.6 L596.9,65.6 L597.0,65.6 L597.2,65.5 L597.4,65.5 L597.5,65.5 L597.7,65.4 L597.9,65.4 L598.1,65.3 L598.2,65.3 L598.4,65.3 L598.6,65.2 L598.7,65.2 L598.9,65.1 L599.1,65.1 L599.2,65.1 L599.4,65.0 L599.6,65.0 L599.8,64.9 L599.9,64.9 L600.1,64.9 L600.3,64.8 L600.4,64.8 L600.6,64.7 L600.8,64.7 L600.9,64.6 L601.1,64.6 L601.3,64.6 L601.5,64.5 L601.6,64.5 L601.8,64.4 L602.0,64.4 L602.1,64.3 L602.3,64.3 L602.5,64.2 L602.6,64.2 L602.8,64.1 L603.0,64.1 L603.2,64.0 L603.3,64.0 L603.5,63.9 L603.7,63.9 L603.8,63.9 L604.0,63.8 L604.2,63.8 L604.3,63.7 L604.5,63.7 L604.7,63.6 L604.9,63.6 L605.0,63.5 L605.2,63.5 L605.4,63.4 L605.5,63.4 L605.7,63.3 L605.9,63.3 L606.0,63.2 L606.2,63.2 L606.4,63.1 L606.6,63.1 L606.7,63.0 L606.9,63.0 L607.1,62.9 L607.2,62.9 L607.4,62.8 L607.6,62.8 L607.8,62.7 L607.9,62.7 L608.1,62.6 L608.3,62.6 L608.4,62.5 L608.6,62.5 L608.8,62.4 L608.9,62.4 L609.1,62.3 L609.3,62.3 L609.5,62.2 L609.6,62.2 L609.8,62.1 L610.0,62.1 L610.1,62.0 L610.3,62.0 L610.5,61.9 L610.6,61.9 L610.8,61.8 L611.0,61.8 L611.2,61.7 L611.3,61.7 L611.5,61.7 L611.7,61.6 L611.8,61.6 L612.0,61.5 L612.2,61.5 L612.3,61.4 L612.5,61.4 L612.7,61.3 L612.9,61.3 L613.0,61.2 L613.2,61.2 L613.4,61.2 L613.5,61.1 L613.7,61.1 L613.9,61.0 L614.0,61.0 L614.2,60.9 L614.4,60.9 L614.6,60.9 L614.7,60.8 L614.9,60.8 L615.1,60.7 L615.2,60.7 L615.4,60.7 L615.6,60.6 L615.7,60.6 L615.9,60.5 L616.1,60.5 L616.3,60.5 L616.4,60.4 L616.6,60.4 L616.8,60.4 L616.9,60.3 L617.1,60.3 L617.3,60.2 L617.4,60.2 L617.6,60.2 L617.8,60.1 L618.0,60.1 L618.1,60.1 L618.3,60.1 L618.5,60.0 L618.6,60.0 L618.8,60.0 L619.0,59.9 L619.1,59.9 L619.3,59.9 L619.5,59.8 L619.7,59.8 L619.8,59.8 L620.0,59.8 L620.2,59.7 L620.3,59.7 L620.5,59.7 L620.7,59.7 L620.8,59.7 L621.0,59.6 L621.2,59.6 L621.4,59.6 L621.5,59.6 L621.7,59.6 L621.9,59.5 L622.0,59.5 L622.2,59.5 L622.4,59.5 L622.6,59.5 L622.7,59.5 L622.9,59.4 L623.1,59.4 L623.2,59.4 L623.4,59.4 L623.6,59.4 L623.7,59.4 L623.9,59.4 L624.1,59.4 L624.3,59.4 L624.4,59.4 L624.6,59.4 L624.8,59.4 L624.9,59.4 L625.1,59.4 L625.3,59.4 L625.4,59.4 L625.6,59.4 L625.8,59.4 L626.0,59.4 L626.1,59.4 L626.3,59.4 L626.5,59.4 L626.6,59.4 L626.8,59.4 L627.0,59.4 L627.1,59.4 L627.3,59.4 L627.5,59.4 L627.7,59.4 L627.8,59.4 L628.0,59.4 L628.2,59.5 L628.3,59.5 L628.5,59.5 L628.7,59.5 L628.8,59.5 L629.0,59.5 L629.2,59.5 L629.4,59.6 L629.5,59.6 L629.7,59.6 L629.9,59.6 L630.0,59.6 L630.2,59.6 L630.4,59.7 L630.5,59.7 L630.7,59.7 L630.9,59.7 L631.1,59.7 L631.2,59.8 L631.4,59.8 L631.6,59.8 L631.7,59.8 L631.9,59.9 L632.1,59.9 L632.2,59.9 L632.4,59.9 L632.6,60.0 L632.8,60.0 L632.9,60.0 L633.1,60.1 L633.3,60.1 L633.4,60.1 L633.6,60.1 L633.8,60.2 L633.9,60.2 L634.1,60.2 L634.3,60.3 L634.5,60.3 L634.6,60.3 L634.8,60.4 L635.0,60.4 L635.1,60.4 L635.3,60.5 L635.5,60.5 L635.7,60.5 L635.8,60.6 L636.0,60.6 L636.2,60.6 L636.3,60.7 L636.5,60.7 L636.7,60.7 L636.8,60.8 L637.0,60.8 L637.2,60.9 L637.4,60.9 L637.5,60.9 L637.7,61.0 L637.9,61.0 L638.0,61.0 L638.2,61.1 L638.4,61.1 L638.5,61.2 L638.7,61.2 L638.9,61.2 L639.1,61.3 L639.2,61.3 L639.4,61.4 L639.6,61.4 L639.7,61.4 L639.9,61.5 L640.1,61.5 L640.2,61.6 L640.4,61.6 L640.6,61.6 L640.8,61.7 L640.9,61.7 L641.1,61.8 L641.3,61.8 L641.4,61.8 L641.6,61.9 L641.8,61.9 L641.9,62.0 L642.1,62.0 L642.3,62.1 L642.5,62.1 L642.6,62.1 L642.8,62.2 L643.0,62.2 L643.1,62.3 L643.3,62.3 L643.5,62.3 L643.6,62.4 L643.8,62.4 L644.0,62.5 L644.2,62.5 L644.3,62.6 L644.5,62.6 L644.7,62.6 L644.8,62.7 L645.0,62.7 L645.2,62.8 L645.3,62.8 L645.5,62.8 L645.7,62.9 L645.9,62.9 L646.0,63.0 L646.2,63.0 L646.4,63.0 L646.5,63.1 L646.7,63.1 L646.9,63.2 L647.0,63.2 L647.2,63.2 L647.4,63.3 L647.6,63.3 L647.7,63.4 L647.9,63.4 L648.1,63.4 L648.2,63.5 L648.4,63.5 L648.6,63.5 L648.7,63.6 L648.9,63.6 L649.1,63.7 L649.3,63.7 L649.4,63.7 L649.6,63.8 L649.8,63.8 L649.9,63.8 L650.1,63.9 L650.3,63.9 L650.5,63.9 L650.6,64.0 L650.8,64.0 L651.0,64.0 L651.1,64.1 L651.3,64.1 L651.5,64.2 L651.6,64.2 L651.8,64.2 L652.0,64.3 L652.2,64.3 L652.3,64.3 L652.5,64.4 L652.7,64.4 L652.8,64.4 L653.0,64.5 L653.2,64.5 L653.3,64.6 L653.5,64.6 L653.7,64.6 L653.9,64.7 L654.0,64.7 L654.2,64.7 L654.4,64.8 L654.5,64.8 L654.7,64.8 L654.9,64.9 L655.0,64.9 L655.2,65.0 L655.4,65.0 L655.6,65.0 L655.7,65.1 L655.9,65.1 L656.1,65.1 L656.2,65.2 L656.4,65.2 L656.6,65.3 L656.7,65.3 L656.9,65.3 L657.1,65.4 L657.3,65.4 L657.4,65.4 L657.6,65.5 L657.8,65.5 L657.9,65.6 L658.1,65.6 L658.3,65.6 L658.4,65.7 L658.6,65.7 L658.8,65.7 L659.0,65.8 L659.1,65.8 L659.3,65.9 L659.5,65.9 L659.6,65.9 L659.8,66.0 L660.0,66.0 L660.1,66.1 L660.3,66.1 L660.5,66.1 L660.7,66.2 L660.8,66.2 L661.0,66.3 L661.2,66.3 L661.3,66.3 L661.5,66.4 L661.7,66.4 L661.8,66.5 L662.0,66.5 L662.2,66.5 L662.4,66.6 L662.5,66.6 L662.7,66.7 L662.9,66.7 L663.0,66.7 L663.2,66.8 L663.4,66.8 L663.6,66.9 L663.7,66.9 L663.9,66.9 L664.1,67.0 L664.2,67.0 L664.4,67.1 L664.6,67.1 L664.7,67.1 L664.9,67.2 L665.1,67.2 L665.3,67.3 L665.4,67.3 L665.6,67.3 L665.8,67.4 L665.9,67.4 L666.1,67.5 L666.3,67.5 L666.4,67.5 L666.6,67.6 L666.8,67.6 L667.0,67.7 L667.1,67.7 L667.3,67.8 L667.5,67.8 L667.6,67.8 L667.8,67.9 L668.0,67.9 L668.1,68.0 L668.3,68.0 L668.5,68.0 L668.7,68.1 L668.8,68.1 L669.0,68.2 L669.2,68.2 L669.3,68.3 L669.5,68.3 L669.7,68.3 L669.8,68.4 L670.0,68.4 L670.2,68.5 L670.4,68.5 L670.5,68.6 L670.7,68.6 L670.9,68.6 L671.0,68.7 L671.2,68.7 L671.4,68.8 L671.5,68.8 L671.7,68.9 L671.9,68.9 L672.1,68.9 L672.2,69.0 L672.4,69.0 L672.6,69.1 L672.7,69.1 L672.9,69.2 L673.1,69.2 L673.2,69.2 L673.4,69.3 L673.6,69.3 L673.8,69.4 L673.9,69.4 L674.1,69.5 L674.3,69.5 L674.4,69.5 L674.6,69.6 L674.8,69.6 L674.9,69.7 L675.1,69.7 L675.3,69.8 L675.5,69.8 L675.6,69.9 L675.8,69.9 L676.0,69.9 L676.1,70.0 L676.3,70.0 L676.5,70.1 L676.6,70.1 L676.8,70.2 L677.0,70.2 L677.2,70.3 L677.3,70.3 L677.5,70.3" fill="none" stroke="#3e42c0" stroke-width="0.65" />
<path d="M439.5,128.0 L439.7,127.9 L439.8,127.9 L440.0,127.8 L440.2,127.8 L440.4,127.7 L440.5,127.6 L440.7,127.6 L440.9,127.5 L441.0,127.4 L441.2,127.4 L441.4,127.3 L441.5,127.2 L441.7,127.2 L441.9,127.1 L442.1,127.0 L442.2,127.0 L442.4,126.9 L442.6,126.8 L442.7,126.8 L442.9,126.7 L443.1,126.6 L443.2,126.5 L443.4,126.5 L443.6,126.4 L443.8,126.3 L443.9,126.2 L444.1,126.2 L444.3,126.1 L444.4,126.0 L444.6,125.9 L444.8,125.8 L444.9,125.8 L445.1,125.7 L445.3,125.6 L445.5,125.5 L445.6,125.4 L445.8,125.3 L446.0,125.3 L446.1,125.2 L446.3,125.1 L446.5,125.0 L446.6,124.9 L446.8,124.8 L447.0,124.7 L447.2,124.7 L447.3,124.6 L447.5,124.5 L447.7,124.4 L447.8,124.3 L448.0,124.2 L448.2,124.1 L448.3,124.0 L448.5,123.9 L448.7,123.8 L448.9,123.7 L449.0,123.6 L449.2,123.5 L449.4,123.4 L449.5,123.3 L449.7,123.2 L449.9,123.1 L450.0,123.0 L450.2,122.9 L450.4,122.8 L450.6,122.7 L450.7,122.6 L450.9,122.5 L451.1,122.3 L451.2,122.2 L451.4,122.1 L451.6,122.0 L451.7,121.9 L451.9,121.8 L452.1,121.6 L452.3,121.5 L452.4,121.4 L452.6,121.3 L452.8,121.1 L452.9,121.0 L453.1,120.9 L453.3,120.8 L453.4,120.6 L453.6,120.5 L453.8,120.4 L454.0,120.2 L454.1,120.1 L454.3,120.0 L454.5,119.8 L454.6,119.7 L454.8,119.6 L455.0,119.4 L455.2,119.3 L455.3,119.2 L455.5,119.0 L455.7,118.9 L455.8,118.7 L456.0,118.6 L456.2,118.5 L456.3,118.3 L456.5,118.2 L456.7,118.0 L456.9,117.9 L457.0,117.7 L457.2,117.6 L457.4,117.4 L457.5,117.3 L457.7,117.1 L457.9,117.0 L458.0,116.9 L458.2,116.7 L458.4,116.6 L458.6,116.4 L458.7,116.3 L458.9,116.1 L459.1,116.0 L459.2,115.8 L459.4,115.7 L459.6,115.5 L459.7,115.4 L459.9,115.2 L460.1,115.1 L460.3,114.9 L460.4,114.7 L460.6,114.6 L460.8,114.4 L460.9,114.3 L461.1,114.1 L461.3,114.0 L461.4,113.8 L461.6,113.7 L461.8,113.5 L462.0,113.4 L462.1,113.2 L462.3,113.1 L462.5,112.9 L462.6,112.8 L462.8,112.6 L463.0,112.5 L463.1,112.3 L463.3,112.2 L463.5,112.0 L463.7,111.9 L463.8,111.7 L464.0,111.6 L464.2,111.4 L464.3,111.3 L464.5,111.1 L464.7,111.0 L464.8,110.8 L465.0,110.7 L465.2,110.5 L465.4,110.4 L465.5,110.2 L465.7,110.1 L465.9,109.9 L466.0,109.8 L466.2,109.6 L466.4,109.5 L466.5,109.3 L466.7,109.2 L466.9,109.0 L467.1,108.9 L467.2,108.8 L467.4,108.6 L467.6,108.5 L467.7,108.3 L467.9,108.2 L468.1,108.1 L468.3,107.9 L468.4,107.8 L468.6,107.6 L468.8,107.5 L468.9,107.4 L469.1,107.2 L469.3,107.1 L469.4,107.0 L469.6,106.8 L469.8,106.7 L470.0,106.5 L470.1,106.4 L470.3,106.2 L470.5,106.1 L470.6,106.0 L470.8,105.8 L471.0,105.7 L471.1,105.5 L471.3,105.4 L471.5,105.2 L471.7,105.1 L471.8,105.0 L472.0,104.8 L472.2,104.7 L472.3,104.5 L472.5,104.4 L472.7,104.2 L472.8,104.1 L473.0,103.9 L473.2,103.8 L473.4,103.6 L473.5,103.5 L473.7,103.4 L473.9,103.2 L474.0,103.1 L474.2,102.9 L474.4,102.8 L474.5,102.6 L474.7,102.5 L474.9,102.3 L475.1,102.2 L475.2,102.0 L475.4,101.9 L475.6,101.7 L475.7,101.6 L475.9,101.4 L476.1,101.3 L476.2,101.1 L476.4,101.0 L476.6,100.9 L476.8,100.7 L476.9,100.6 L477.1,100.4 L477.3,100.3 L477.4,100.1 L477.6,100.0 L477.8,99.8 L477.9,99.7 L478.1,99.6 L478.3,99.4 L478.5,99.3 L478.6,99.1 L478.8,99.0 L479.0,98.8 L479.1,98.7 L479.3,98.6 L479.5,98.4 L479.6,98.3 L479.8,98.1 L480.0,98.0 L480.2,97.9 L480.3,97.7 L480.5,97.6 L480.7,97.5 L480.8,97.3 L481.0,97.2 L481.2,97.1 L481.3,96.9 L481.5,96.8 L481.7,96.7 L481.9,96.5 L482.0,96.4 L482.2,96.3 L482.4,96.1 L482.5,96.0 L482.7,95.9 L482.9,95.8 L483.1,95.6 L483.2,95.5 L483.4,95.4 L483.6,95.3 L483.7,95.2 L483.9,95.0 L484.1,94.9 L484.2,94.8 L484.4,94.7 L484.6,94.6 L484.8,94.5 L484.9,94.3 L485.1,94.2 L485.3,94.1 L485.4,94.0 L485.6,93.9 L485.8,93.8 L485.9,93.7 L486.1,93.6 L486.3,93.5 L486.5,93.4 L486.6,93.3 L486.8,93.2 L487.0,93.1 L487.1,93.0 L487.3,92.9 L487.5,92.8 L487.6,92.7 L487.8,92.6 L488.0,92.5 L488.2,92.4 L488.3,92.3 L488.5,92.2 L488.7,92.1 L488.8,92.0 L489.0,91.9 L489.2,91.9 L489.3,91.8 L489.5,91.7 L489.7,91.6 L489.9,91.5 L490.0,91.4 L490.2,91.3 L490.4,91.2 L490.5,91.1 L490.7,91.0 L490.9,90.9 L491.0,90.9 L491.2,90.8 L491.4,90.7 L491.6,90.6 L491.7,90.5 L491.9,90.4 L492.1,90.3 L492.2,90.3 L492.4,90.2 L492.6,90.1 L492.7,90.0 L492.9,89.9 L493.1,89.8 L493.3,89.8 L493.4,89.7 L493.6,89.6 L493.8,89.5 L493.9,89.4 L494.1,89.4 L494.3,89.3 L494.4,89.2 L494.6,89.1 L494.8,89.1 L495.0,89.0 L495.1,88.9 L495.3,88.8 L495.5,88.8 L495.6,88.7 L495.8,88.6 L496.0,88.6 L496.2,88.5 L496.3,88.4 L496.5,88.4 L496.7,88.3 L496.8,88.2 L497.0,88.2 L497.2,88.1 L497.3,88.1 L497.5,88.0 L497.7,87.9 L497.9,87.9 L498.0,87.8 L498.2,87.8 L498.4,87.7 L498.5,87.7 L498.7,87.6 L498.9,87.6 L499.0,87.5 L499.2,87.5 L499.4,87.4 L499.6,87.4 L499.7,87.3 L499.9,87.3 L500.1,87.2 L500.2,87.2 L500.4,87.2 L500.6,87.1 L500.7,87.1 L500.9,87.0 L501.1,87.0 L501.3,87.0 L501.4,86.9 L501.6,86.9 L501.8,86.8 L501.9,86.8 L502.1,86.8 L502.3,86.7 L502.4,86.7 L502.6,86.6 L502.8,86.6 L503.0,86.6 L503.1,86.5 L503.3,86.5 L503.5,86.5 L503.6,86.4 L503.8,86.4 L504.0,86.4 L504.1,86.3 L504.3,86.3 L504.5,86.3 L504.7,86.2 L504.8,86.2 L505.0,86.2 L505.2,86.1 L505.3,86.1 L505.5,86.1 L505.7,86.0 L505.8,86.0 L506.0,86.0 L506.2,86.0 L506.4,85.9 L506.5,85.9 L506.7,85.9 L506.9,85.8 L507.0,85.8 L507.2,85.8 L507.4,85.7 L507.5,85.7 L507.7,85.7 L507.9,85.7 L508.1,85.6 L508.2,85.6 L508.4,85.6 L508.6,85.6 L508.7,85.5 L508.9,85.5 L509.1,85.5 L509.2,85.5 L509.4,85.4 L509.6,85.4 L509.8,85.4 L509.9,85.3 L510.1,85.3 L510.3,85.3 L510.4,85.3 L510.6,85.3 L510.8,85.2 L511.0,85.2 L511.1,85.2 L511.3,85.2 L511.5,85.1 L511.6,85.1 L511.8,85.1 L512.0,85.1 L512.1,85.0 L512.3,85.0 L512.5,85.0 L512.7,85.0 L512.8,85.0 L513.0,84.9 L513.2,84.9 L513.3,84.9 L513.5,84.9 L513.7,84.9 L513.8,84.8 L514.0,84.8 L514.2,84.8 L514.4,84.8 L514.5,84.8 L514.7,84.7 L514.9,84.7 L515.0,84.7 L515.2,84.7 L515.4,84.7 L515.5,84.6 L515.7,84.6 L515.9,84.6 L516.1,84.6 L516.2,84.6 L516.4,84.5 L516.6,84.5 L516.7,84.5 L516.9,84.5 L517.1,84.5 L517.2,84.4 L517.4,84.4 L517.6,84.4 L517.8,84.4 L517.9,84.4 L518.1,84.4 L518.3,84.3 L518.4,84.3 L518.6,84.3 L518.8,84.3 L518.9,84.3 L519.1,84.2 L519.3,84.2 L519.5,84.2 L519.6,84.2 L519.8,84.2 L520.0,84.1 L520.1,84.1 L520.3,84.1 L520.5,84.1 L520.6,84.1 L520.8,84.0 L521.0,84.0 L521.2,84.0 L521.3,84.0 L521.5,84.0 L521.7,84.0 L521.8,83.9 L522.0,83.9 L522.2,83.9 L522.3,83.9 L522.5,83.9 L522.7,83.8 L522.9,83.8 L523.0,83.8 L523.2,83.8 L523.4,83.8 L523.5,83.8 L523.7,83.7 L523.9,83.7 L524.1,83.7 L524.2,83.7 L524.4,83.7 L524.6,83.6 L524.7,83.6 L524.9,83.6 L525.1,83.6 L525.2,83.6 L525.4,83.6 L525.6,83.5 L525.8,83.5 L525.9,83.5 L526.1,83.5 L526.3,83.5 L526.4,83.5 L526.6,83.4 L526.8,83.4 L526.9,83.4 L527.1,83.4 L527.3,83.4 L527.5,83.4 L527.6,83.4 L527.8,83.3 L528.0,83.3 L528.1,83.3 L528.3,83.3 L528.5,83.3 L528.6,83.3 L528.8,83.3 L529.0,83.2 L529.2,83.2 L529.3,83.2 L529.5,83.2 L529.7,83.2 L529.8,83.2 L530.0,83.2 L530.2,83.1 L530.3,83.1 L530.5,83.1 L530.7,83.1 L530.9,83.1 L531.0,83.1 L531.2,83.1 L531.4,83.1 L531.5,83.1 L531.7,83.0 L531.9,83.0 L532.0,83.0 L532.2,83.0 L532.4,83.0 L532.6,83.0 L532.7,83.0 L532.9,83.0 L533.1,83.0 L533.2,83.0 L533.4,83.0 L533.6,82.9 L533.7,82.9 L533.9,82.9 L534.1,82.9 L534.3,82.9 L534.4,82.9 L534.6,82.9 L534.8,82.9 L534.9,82.9 L535.1,82.9 L535.3,82.9 L535.4,82.9 L535.6,82.9 L535.8,82.9 L536.0,82.9 L536.1,82.9 L536.3,82.9 L536.5,82.9 L536.6,82.9 L536.8,82.9 L537.0,82.9 L537.1,82.9 L537.3,82.9 L537.5,82.9 L537.7,82.9 L537.8,82.9 L538.0,82.9 L538.2,82.9 L538.3,82.9 L538.5,82.9 L538.7,82.9 L538.9,82.9 L539.0,82.9 L539.2,82.9 L539.4,82.9 L539.5,82.9 L539.7,82.9 L539.9,82.9 L540.0,82.9 L540.2,82.9 L540.4,82.9 L540.6,82.9 L540.7,82.9 L540.9,82.9 L541.1,82.9 L541.2,82.9 L541.4,82.9 L541.6,82.9 L541.7,82.9 L541.9,82.9 L542.1,82.9 L542.3,82.9 L542.4,82.9 L542.6,82.9 L542.8,82.9 L542.9,82.9 L543.1,82.9 L543.3,82.9 L543.4,82.9 L543.6,82.9 L543.8,82.9 L544.0,82.9 L544.1,82.9 L544.3,82.9 L544.5,82.9 L544.6,82.9 L544.8,82.9 L545.0,82.9 L545.1,82.9 L545.3,82.9 L545.5,82.9 L545.7,82.9 L545.8,82.9 L546.0,83.0 L546.2,83.0 L546.3,83.0 L546.5,83.0 L546.7,83.0 L546.8,83.0 L547.0,83.0 L547.2,83.0 L547.4,83.0 L547.5,83.0 L547.7,83.0 L547.9,83.0 L548.0,83.0 L548.2,83.0 L548.4,83.0 L548.5,83.0 L548.7,83.0 L548.9,83.0 L549.1,83.0 L549.2,83.0 L549.4,83.1 L549.6,83.1 L549.7,83.1 L549.9,83.1 L550.1,83.1 L550.2,83.1 L550.4,83.1 L550.6,83.1 L550.8,83.1 L550.9,83.1 L551.1,83.1 L551.3,83.1 L551.4,83.1 L551.6,83.1 L551.8,83.1 L552.0,83.1 L552.1,83.1 L552.3,83.2 L552.5,83.2 L552.6,83.2 L552.8,83.2 L553.0,83.2 L553.1,83.2 L553.3,83.2 L553.5,83.2 L553.7,83.2 L553.8,83.2 L554.0,83.2 L554.2,83.2 L554.3,83.2 L554.5,83.2 L554.7,83.3 L554.8,83.3 L555.0,83.3 L555.2,83.3 L555.4,83.3 L555.5,83.3 L555.7,83.3 L555.9,83.3 L556.0,83.3 L556.2,83.3 L556.4,83.3 L556.5,83.3 L556.7,83.4 L556.9,83.4 L557.1,83.4 L557.2,83.4 L557.4,83.4 L557.6,83.4 L557.7,83.4 L557.9,83.4 L558.1,83.4 L558.2,83.4 L558.4,83.4 L558.6,83.4 L558.8,83.5 L558.9,83.5 L559.1,83.5 L559.3,83.5 L559.4,83.5 L559.6,83.5 L559.8,83.5 L559.9,83.5 L560.1,83.5 L560.3,83.5 L560.5,83.5 L560.6,83.6 L560.8,83.6 L561.0,83.6 L561.1,83.6 L561.3,83.6 L561.5,83.6 L561.6,83.6 L561.8,83.6 L562.0,83.6 L562.2,83.6 L562.3,83.7 L562.5,83.7 L562.7,83.7 L562.8,83.7 L563.0,83.7 L563.2,83.7 L563.3,83.7 L563.5,83.7 L563.7,83.7 L563.9,83.7 L564.0,83.8 L564.2,83.8 L564.4,83.8 L564.5,83.8 L564.7,83.8 L564.9,83.8 L565.0,83.8 L565.2,83.8 L565.4,83.8 L565.6,83.9 L565.7,83.9 L565.9,83.9 L566.1,83.9 L566.2,83.9 L566.4,83.9 L566.6,83.9 L566.8,83.9 L566.9,83.9 L567.1,84.0 L567.3,84.0 L567.4,84.0 L567.6,84.0 L567.8,84.0 L567.9,84.0 L568.1,84.0 L568.3,84.0 L568.5,84.0 L568.6,84.1 L568.8,84.1 L569.0,84.1 L569.1,84.1 L569.3,84.1 L569.5,84.1 L569.6,84.1 L569.8,84.1 L570.0,84.1 L570.2,84.2 L570.3,84.2 L570.5,84.2 L570.7,84.2 L570.8,84.2 L571.0,84.2 L571.2,84.2 L571.3,84.3 L571.5,84.3 L571.7,84.3 L571.9,84.3 L572.0,84.3 L572.2,84.4 L572.4,84.4 L572.5,84.4 L572.7,84.4 L572.9,84.4 L573.0,84.5 L573.2,84.5 L573.4,84.5 L573.6,84.5 L573.7,84.5 L573.9,84.6 L574.1,84.6 L574.2,84.6 L574.4,84.7 L574.6,84.7 L574.7,84.7 L574.9,84.7 L575.1,84.8 L575.3,84.8 L575.4,84.8 L575.6,84.8 L575.8,84.9 L575.9,84.9 L576.1,84.9 L576.3,85.0 L576.4,85.0 L576.6,85.0 L576.8,85.1 L577.0,85.1 L577.1,85.1 L577.3,85.2 L577.5,85.2 L577.6,85.2 L577.8,85.3 L578.0,85.3 L578.1,85.3 L578.3,85.4 L578.5,85.4 L578.7,85.4 L578.8,85.5 L579.0,85.5 L579.2,85.6 L579.3,85.6 L579.5,85.6 L579.7,85.7 L579.9,85.7 L580.0,85.7 L580.2,85.8 L580.4,85.8 L580.5,85.9 L580.7,85.9 L580.9,85.9 L581.0,86.0 L581.2,86.0 L581.4,86.1 L581.6,86.1 L581.7,86.1 L581.9,86.2 L582.1,86.2 L582.2,86.3 L582.4,86.3 L582.6,86.4 L582.7,86.4 L582.9,86.4 L583.1,86.5 L583.3,86.5 L583.4,86.6 L583.6,86.6 L583.8,86.7 L583.9,86.7 L584.1,86.7 L584.3,86.8 L584.4,86.8 L584.6,86.9 L584.8,86.9 L585.0,87.0 L585.1,87.0 L585.3,87.1 L585.5,87.1 L585.6,87.2 L585.8,87.2 L586.0,87.2 L586.1,87.3 L586.3,87.3 L586.5,87.4 L586.7,87.4 L586.8,87.5 L587.0,87.5 L587.2,87.6 L587.3,87.6 L587.5,87.7 L587.7,87.7 L587.8,87.7 L588.0,87.8 L588.2,87.8 L588.4,87.9 L588.5,87.9 L588.7,88.0 L588.9,88.0 L589.0,88.1 L589.2,88.1 L589.4,88.2 L589.5,88.2 L589.7,88.3 L589.9,88.3 L590.1,88.4 L590.2,88.4 L590.4,88.4 L590.6,88.5 L590.7,88.5 L590.9,88.6 L591.1,88.6 L591.2,88.7 L591.4,88.7 L591.6,88.8 L591.8,88.8 L591.9,88.9 L592.1,88.9 L592.3,88.9 L592.4,89.0 L592.6,89.0 L592.8,89.1 L592.9,89.1 L593.1,89.2 L593.3,89.2 L593.5,89.3 L593.6,89.3 L593.8,89.3 L594.0,89.4 L594.1,89.4 L594.3,89.5 L594.5,89.5 L594.7,89.6 L594.8,89.6 L595.0,89.6 L595.2,89.7 L595.3,89.7 L595.5,89.8 L595.7,89.8 L595.8,89.9 L596.0,89.9 L596.2,89.9 L596.4,90.0 L596.5,90.0 L596.7,90.1 L596.9,90.1 L597.0,90.1 L597.2,90.2 L597.4,90.2 L597.5,90.2 L597.7,90.3 L597.9,90.3 L598.1,90.4 L598.2,90.4 L598.4,90.4 L598.6,90.5 L598.7,90.5 L598.9,90.6 L599.1,90.6 L599.2,90.6 L599.4,90.7 L599.6,90.7 L599.8,90.8 L599.9,90.8 L600.1,90.8 L600.3,90.9 L600.4,90.9 L600.6,91.0 L600.8,91.0 L600.9,91.1 L601.1,91.1 L601.3,91.1 L601.5,91.2 L601.6,91.2 L601.8,91.3 L602.0,91.3 L602.1,91.4 L602.3,91.4 L602.5,91.5 L602.6,91.5 L602.8,91.6 L603.0,91.6 L603.2,91.7 L603.3,91.7 L603.5,91.8 L603.7,91.8 L603.8,91.8 L604.0,91.9 L604.2,91.9 L604.3,92.0 L604.5,92.0 L604.7,92.1 L604.9,92.1 L605.0,92.2 L605.2,92.2 L605.4,92.3 L605.5,92.3 L605.7,92.4 L605.9,92.4 L606.0,92.5 L606.2,92.5 L606.4,92.6 L606.6,92.6 L606.7,92.7 L606.9,92.7 L607.1,92.8 L607.2,92.8 L607.4,92.9 L607.6,92.9 L607.8,93.0 L607.9,93.0 L608.1,93.1 L608.3,93.1 L608.4,93.2 L608.6,93.2 L608.8,93.3 L608.9,93.3 L609.1,93.4 L609.3,93.4 L609.5,93.5 L609.6,93.5 L609.8,93.6 L610.0,93.6 L610.1,93.7 L610.3,93.7 L610.5,93.8 L610.6,93.8 L610.8,93.9 L611.0,93.9 L611.2,94.0 L611.3,94.0 L611.5,94.0 L611.7,94.1 L611.8,94.1 L612.0,94.2 L612.2,94.2 L612.3,94.3 L612.5,94.3 L612.7,94.4 L612.9,94.4 L613.0,94.5 L613.2,94.5 L613.4,94.5 L613.5,94.6 L613.7,94.6 L613.9,94.7 L614.0,94.7 L614.2,94.8 L614.4,94.8 L614.6,94.8 L614.7,94.9 L614.9,94.9 L615.1,95.0 L615.2,95.0 L615.4,95.0 L615.6,95.1 L615.7,95.1 L615.9,95.2 L616.1,95.2 L616.3,95.2 L616.4,95.3 L616.6,95.3 L616.8,95.3 L616.9,95.4 L617.1,95.4 L617.3,95.5 L617.4,95.5 L617.6,95.5 L617.8,95.6 L618.0,95.6 L618.1,95.6 L618.3,95.6 L618.5,95.7 L618.6,95.7 L618.8,95.7 L619.0,95.8 L619.1,95.8 L619.3,95.8 L619.5,95.9 L619.7,95.9 L619.8,95.9 L620.0,95.9 L620.2,96.0 L620.3,96.0 L620.5,96.0 L620.7,96.0 L620.8,96.0 L621.0,96.1 L621.2,96.1 L621.4,96.1 L621.5,96.1 L621.7,96.1 L621.9,96.2 L622.0,96.2 L622.2,96.2 L622.4,96.2 L622.6,96.2 L622.7,96.2 L622.9,96.3 L623.1,96.3 L623.2,96.3 L623.4,96.3 L623.6,96.3 L623.7,96.3 L623.9,96.3 L624.1,96.3 L624.3,96.3 L624.4,96.3 L624.6,96.3 L624.8,96.3 L624.9,96.3 L625.1,96.3 L625.3,96.3 L625.4,96.3 L625.6,96.3 L625.8,96.3 L626.0,96.3 L626.1,96.3 L626.3,96.3 L626.5,96.3 L626.6,96.3 L626.8,96.3 L627.0,96.3 L627.1,96.3 L627.3,96.3 L627.5,96.3 L627.7,96.3 L627.8,96.3 L628.0,96.3 L628.2,96.2 L628.3,96.2 L628.5,96.2 L628.7,96.2 L628.8,96.2 L629.0,96.2 L629.2,96.2 L629.4,96.1 L629.5,96.1 L629.7,96.1 L629.9,96.1 L630.0,96.1 L630.2,96.1 L630.4,96.0 L630.5,96.0 L630.7,96.0 L630.9,96.0 L631.1,96.0 L631.2,95.9 L631.4,95.9 L631.6,95.9 L631.7,95.9 L631.9,95.8 L632.1,95.8 L632.2,95.8 L632.4,95.8 L632.6,95.7 L632.8,95.7 L632.9,95.7 L633.1,95.6 L633.3,95.6 L633.4,95.6 L633.6,95.6 L633.8,95.5 L633.9,95.5 L634.1,95.5 L634.3,95.4 L634.5,95.4 L634.6,95.4 L634.8,95.3 L635.0,95.3 L635.1,95.3 L635.3,95.2 L635.5,95.2 L635.7,95.2 L635.8,95.1 L636.0,95.1 L636.2,95.1 L636.3,95.0 L636.5,95.0 L636.7,95.0 L636.8,94.9 L637.0,94.9 L637.2,94.8 L637.4,94.8 L637.5,94.8 L637.7,94.7 L637.9,94.7 L638.0,94.7 L638.2,94.6 L638.4,94.6 L638.5,94.5 L638.7,94.5 L638.9,94.5 L639.1,94.4 L639.2,94.4 L639.4,94.3 L639.6,94.3 L639.7,94.3 L639.9,94.2 L640.1,94.2 L640.2,94.1 L640.4,94.1 L640.6,94.1 L640.8,94.0 L640.9,94.0 L641.1,93.9 L641.3,93.9 L641.4,93.9 L641.6,93.8 L641.8,93.8 L641.9,93.7 L642.1,93.7 L642.3,93.6 L642.5,93.6 L642.6,93.6 L642.8,93.5 L643.0,93.5 L643.1,93.4 L643.3,93.4 L643.5,93.4 L643.6,93.3 L643.8,93.3 L644.0,93.2 L644.2,93.2 L644.3,93.1 L644.5,93.1 L644.7,93.1 L644.8,93.0 L645.0,93.0 L645.2,92.9 L645.3,92.9 L645.5,92.9 L645.7,92.8 L645.9,92.8 L646.0,92.7 L646.2,92.7 L646.4,92.7 L646.5,92.6 L646.7,92.6 L646.9,92.5 L647.0,92.5 L647.2,92.5 L647.4,92.4 L647.6,92.4 L647.7,92.3 L647.9,92.3 L648.1,92.3 L648.2,92.2 L648.4,92.2 L648.6,92.2 L648.7,92.1 L648.9,92.1 L649.1,92.0 L649.3,92.0 L649.4,92.0 L649.6,91.9 L649.8,91.9 L649.9,91.9 L650.1,91.8 L650.3,91.8 L650.5,91.8 L650.6,91.7 L650.8,91.7 L651.0,91.7 L651.1,91.6 L651.3,91.6 L651.5,91.5 L651.6,91.5 L651.8,91.5 L652.0,91.4 L652.2,91.4 L652.3,91.4 L652.5,91.3 L652.7,91.3 L652.8,91.3 L653.0,91.2 L653.2,91.2 L653.3,91.1 L653.5,91.1 L653.7,91.1 L653.9,91.0 L654.0,91.0 L654.2,91.0 L654.4,90.9 L654.5,90.9 L654.7,90.9 L654.9,90.8 L655.0,90.8 L655.2,90.7 L655.4,90.7 L655.6,90.7 L655.7,90.6 L655.9,90.6 L656.1,90.6 L656.2,90.5 L656.4,90.5 L656.6,90.4 L656.7,90.4 L656.9,90.4 L657.1,90.3 L657.3,90.3 L657.4,90.3 L657.6,90.2 L657.8,90.2 L657.9,90.1 L658.1,90.1 L658.3,90.1 L658.4,90.0 L658.6,90.0 L658.8,90.0 L659.0,89.9 L659.1,89.9 L659.3,89.8 L659.5,89.8 L659.6,89.8 L659.8,89.7 L660.0,89.7 L660.1,89.6 L660.3,89.6 L660.5,89.6 L660.7,89.5 L660.8,89.5 L661.0,89.4 L661.2,89.4 L661.3,89.4 L661.5,89.3 L661.7,89.3 L661.8,89.2 L662.0,89.2 L662.2,89.2 L662.4,89.1 L662.5,89.1 L662.7,89.0 L662.9,89.0 L663.0,89.0 L663.2,88.9 L663.4,88.9 L663.6,88.8 L663.7,88.8 L663.9,88.8 L664.1,88.7 L664.2,88.7 L664.4,88.6 L664.6,88.6 L664.7,88.6 L664.9,88.5 L665.1,88.5 L665.3,88.4 L665.4,88.4 L665.6,88.4 L665.8,88.3 L665.9,88.3 L666.1,88.2 L666.3,88.2 L666.4,88.2 L666.6,88.1 L666.8,88.1 L667.0,88.0 L667.1,88.0 L667.3,87.9 L667.5,87.9 L667.6,87.9 L667.8,87.8 L668.0,87.8 L668.1,87.7 L668.3,87.7 L668.5,87.7 L668.7,87.6 L668.8,87.6 L669.0,87.5 L669.2,87.5 L669.3,87.4 L669.5,87.4 L669.7,87.4 L669.8,87.3 L670.0,87.3 L670.2,87.2 L670.4,87.2 L670.5,87.1 L670.7,87.1 L670.9,87.1 L671.0,87.0 L671.2,87.0 L671.4,86.9 L671.5,86.9 L671.7,86.8 L671.9,86.8 L672.1,86.8 L672.2,86.7 L672.4,86.7 L672.6,86.6 L672.7,86.6 L672.9,86.5 L673.1,86.5 L673.2,86.5 L673.4,86.4 L673.6,86.4 L673.8,86.3 L673.9,86.3 L674.1,86.2 L674.3,86.2 L674.4,86.2 L674.6,86.1 L674.8,86.1 L674.9,86.0 L675.1,86.0 L675.3,85.9 L675.5,85.9 L675.6,85.8 L675.8,85.8 L676.0,85.8 L676.1,85.7 L676.3,85.7 L676.5,85.6 L676.6,85.6 L676.8,85.5 L677.0,85.5 L677.2,85.4 L677.3,85.4 L677.5,85.3" fill="none" stroke="#3e42c0" stroke-width="0.65" />
<rect x="439.50" y="27.70" width="238.00" height="100.30" fill="none" stroke="#7a7a7a" stroke-width="1.0"/>
<line x1="487.10" y1="128.00" x2="487.10" y2="125.50" stroke="#7a7a7a" stroke-width="0.8"/>
<line x1="534.70" y1="128.00" x2="534.70" y2="125.50" stroke="#7a7a7a" stroke-width="0.8"/>
<line x1="582.30" y1="128.00" x2="582.30" y2="125.50" stroke="#7a7a7a" stroke-width="0.8"/>
<line x1="629.90" y1="128.00" x2="629.90" y2="125.50" stroke="#7a7a7a" stroke-width="0.8"/>
<line x1="439.50" y1="52.77" x2="442.00" y2="52.77" stroke="#7a7a7a" stroke-width="0.8"/>
<line x1="439.50" y1="77.85" x2="442.00" y2="77.85" stroke="#7a7a7a" stroke-width="0.8"/>
<line x1="439.50" y1="102.92" x2="442.00" y2="102.92" stroke="#7a7a7a" stroke-width="0.8"/>
<text transform="translate(410.00,27.70) scale(0.9,1)" font-size="15" font-weight="bold" fill="#111">c</text>
<text x="435.60" y="31.60" font-size="9.3" text-anchor="end" fill="#1e1e1e" font-weight="normal" stroke="#1e1e1e" stroke-width="0.18" >1</text>
<text x="436.00" y="129.30" font-size="9.3" text-anchor="end" fill="#1e1e1e" font-weight="normal" stroke="#1e1e1e" stroke-width="0.18" >0</text>
<text x="0" y="0" font-size="9.8" text-anchor="middle" fill="#1e1e1e" stroke="#1e1e1e" stroke-width="0.18" transform="translate(423.00,78.60) rotate(-90)">Qubit population</text>
<text x="472.50" y="41.90" font-size="9.75" text-anchor="start" fill="#1e1e1e" font-weight="normal" stroke="#1e1e1e" stroke-width="0.18" >Master equation simulation</text>
<text x="485.6" y="59.0" font-size="10" fill="#cf3c4a" stroke="#cf3c4a" stroke-width="0.12"><tspan font-family="Liberation Serif" font-style="italic">η</tspan><tspan font-size="6" dy="1.8">1</tspan><tspan dy="-1.8">/2</tspan><tspan font-family="Liberation Serif" font-style="italic">π</tspan></text>
<line x1="499.6" y1="101" x2="517.6" y2="101" stroke="#4448c4" stroke-width="0.6"/>
<text x="521.80" y="104.80" font-size="8.4" text-anchor="start" fill="#1e1e1e" font-weight="normal" stroke="#1e1e1e" stroke-width="0.18" >Rotating frame</text>
<line x1="499.6" y1="112" x2="517.6" y2="112" stroke="#d83c4a" stroke-width="0.6"/>
<text x="521.80" y="115.80" font-size="8.4" text-anchor="start" fill="#1e1e1e" font-weight="normal" stroke="#1e1e1e" stroke-width="0.18" >Laboratory frame</text>
<line x1="440.5" y1="21.2" x2="627" y2="21.2" stroke="#555" stroke-width="0.8"/>
<line x1="439.7" y1="18.2" x2="439.7" y2="25" stroke="#555" stroke-width="0.8"/>
<path d="M440,21.2 L444,19.9 L444,22.5 Z" fill="#555"/>
<line x1="627" y1="20.8" x2="627" y2="47" stroke="#555" stroke-width="0.8"/>
<text x="489.4" y="13.2" font-size="9.7" fill="#1e1e1e" stroke="#1e1e1e" stroke-width="0.18">2<tspan font-family="Liberation Serif" font-style="italic">π</tspan> / <tspan font-family="Liberation Serif" font-style="italic">ω</tspan><tspan font-size="6.8" dy="2">eff</tspan><tspan dy="-2"> = (5 MHz)</tspan><tspan font-size="6.8" dy="-3.6">−1</tspan></text>
<path d="M439.5,143.6 L439.8,143.6 L440.1,143.7 L440.4,143.7 L440.7,143.8 L441.0,143.8 L441.3,143.9 L441.6,143.9 L441.9,144.0 L442.2,144.1 L442.5,144.1 L442.8,144.2 L443.1,144.3 L443.4,144.3 L443.7,144.4 L444.0,144.5 L444.3,144.6 L444.6,144.7 L444.9,144.8 L445.2,144.9 L445.5,145.0 L445.8,145.1 L446.1,145.2 L446.4,145.3 L446.6,145.4 L446.9,145.5 L447.2,145.6 L447.5,145.8 L447.8,145.9 L448.1,146.0 L448.4,146.1 L448.7,146.3 L449.0,146.4 L449.3,146.5 L449.6,146.7 L449.9,146.8 L450.2,147.0 L450.5,147.1 L450.8,147.2 L451.1,147.4 L451.4,147.5 L451.7,147.7 L452.0,147.9 L452.3,148.0 L452.6,148.2 L452.9,148.3 L453.2,148.5 L453.5,148.7 L453.8,148.8 L454.1,149.0 L454.4,149.2 L454.7,149.4 L455.0,149.5 L455.3,149.7 L455.6,149.9 L455.9,150.1 L456.2,150.2 L456.5,150.4 L456.8,150.6 L457.1,150.8 L457.4,151.0 L457.7,151.2 L458.0,151.4 L458.3,151.6 L458.6,151.8 L458.9,152.0 L459.2,152.1 L459.5,152.3 L459.8,152.5 L460.1,152.7 L460.4,152.9 L460.6,153.1 L460.9,153.3 L461.2,153.6 L461.5,153.8 L461.8,154.0 L462.1,154.2 L462.4,154.4 L462.7,154.6 L463.0,154.8 L463.3,155.0 L463.6,155.2 L463.9,155.4 L464.2,155.6 L464.5,155.8 L464.8,156.1 L465.1,156.3 L465.4,156.5 L465.7,156.7 L466.0,156.9 L466.3,157.1 L466.6,157.4 L466.9,157.6 L467.2,157.9 L467.5,158.1 L467.8,158.4 L468.1,158.7 L468.4,159.0 L468.7,159.3 L469.0,159.6 L469.3,159.9 L469.6,160.3 L469.9,160.6 L470.2,161.0 L470.5,161.3 L470.8,161.7 L471.1,162.0 L471.4,162.4 L471.7,162.8 L472.0,163.2 L472.3,163.5 L472.6,163.9 L472.9,164.3 L473.2,164.7 L473.5,165.1 L473.8,165.5 L474.1,165.9 L474.4,166.3 L474.6,166.7 L474.9,167.0 L475.2,167.4 L475.5,167.8 L475.8,168.2 L476.1,168.6 L476.4,169.0 L476.7,169.4 L477.0,169.7 L477.3,170.1 L477.6,170.5 L477.9,170.8 L478.2,171.2 L478.5,171.5 L478.8,171.9 L479.1,172.2 L479.4,172.5 L479.7,172.8 L480.0,173.1 L480.3,173.4 L480.6,173.7 L480.9,174.0 L481.2,174.2 L481.5,174.5 L481.8,174.7 L482.1,175.0 L482.4,175.2 L482.7,175.4 L483.0,175.6 L483.3,175.9 L483.6,176.1 L483.9,176.3 L484.2,176.5 L484.5,176.7 L484.8,176.9 L485.1,177.2 L485.4,177.4 L485.7,177.6 L486.0,177.8 L486.3,178.0 L486.6,178.2 L486.9,178.4 L487.2,178.6 L487.5,178.8 L487.8,179.0 L488.1,179.1 L488.4,179.3 L488.6,179.5 L488.9,179.7 L489.2,179.9 L489.5,180.1 L489.8,180.2 L490.1,180.4 L490.4,180.6 L490.7,180.8 L491.0,180.9 L491.3,181.1 L491.6,181.2 L491.9,181.4 L492.2,181.6 L492.5,181.7 L492.8,181.9 L493.1,182.0 L493.4,182.2 L493.7,182.3 L494.0,182.5 L494.3,182.6 L494.6,182.7 L494.9,182.9 L495.2,183.0 L495.5,183.1 L495.8,183.2 L496.1,183.4 L496.4,183.5 L496.7,183.6 L497.0,183.7 L497.3,183.8 L497.6,183.9 L497.9,184.0 L498.2,184.1 L498.5,184.3 L498.8,184.4 L499.1,184.5 L499.4,184.6 L499.7,184.7 L500.0,184.8 L500.3,184.9 L500.6,185.0 L500.9,185.1 L501.2,185.2 L501.5,185.3 L501.8,185.4 L502.1,185.5 L502.4,185.6 L502.6,185.7 L502.9,185.8 L503.2,185.9 L503.5,186.0 L503.8,186.1 L504.1,186.2 L504.4,186.3 L504.7,186.4 L505.0,186.5 L505.3,186.6 L505.6,186.7 L505.9,186.7 L506.2,186.8 L506.5,186.9 L506.8,187.0 L507.1,187.1 L507.4,187.2 L507.7,187.3 L508.0,187.3 L508.3,187.4 L508.6,187.5 L508.9,187.6 L509.2,187.6 L509.5,187.7 L509.8,187.8 L510.1,187.8 L510.4,187.9 L510.7,187.9 L511.0,188.0 L511.3,188.1 L511.6,188.1 L511.9,188.2 L512.2,188.2 L512.5,188.3 L512.8,188.3 L513.1,188.3 L513.4,188.4 L513.7,188.4 L514.0,188.5 L514.3,188.5 L514.6,188.5 L514.9,188.5 L515.2,188.6 L515.5,188.6 L515.8,188.6 L516.1,188.6 L516.4,188.6 L516.6,188.6 L516.9,188.6 L517.2,188.6 L517.5,188.7 L517.8,188.7 L518.1,188.7 L518.4,188.7 L518.7,188.7 L519.0,188.7 L519.3,188.7 L519.6,188.7 L519.9,188.7 L520.2,188.8 L520.5,188.8 L520.8,188.8 L521.1,188.8 L521.4,188.8 L521.7,188.8 L522.0,188.8 L522.3,188.8 L522.6,188.8 L522.9,188.8 L523.2,188.9 L523.5,188.9 L523.8,188.9 L524.1,188.9 L524.4,188.9 L524.7,188.9 L525.0,188.9 L525.3,188.9 L525.6,188.9 L525.9,188.9 L526.2,188.9 L526.5,188.9 L526.8,189.0 L527.1,189.0 L527.4,189.0 L527.7,189.0 L528.0,189.0 L528.3,189.0 L528.6,189.0 L528.9,189.0 L529.2,189.0 L529.5,189.0 L529.8,189.0 L530.1,189.0 L530.4,189.1 L530.6,189.1 L530.9,189.1 L531.2,189.1 L531.5,189.1 L531.8,189.1 L532.1,189.1 L532.4,189.1 L532.7,189.1 L533.0,189.1 L533.3,189.1 L533.6,189.1 L533.9,189.1 L534.2,189.1 L534.5,189.1 L534.8,189.2 L535.1,189.2 L535.4,189.2 L535.7,189.2 L536.0,189.2 L536.3,189.2 L536.6,189.2 L536.9,189.2 L537.2,189.2 L537.5,189.2 L537.8,189.2 L538.1,189.2 L538.4,189.2 L538.7,189.2 L539.0,189.2 L539.3,189.2 L539.6,189.2 L539.9,189.2 L540.2,189.2 L540.5,189.3 L540.8,189.3 L541.1,189.3 L541.4,189.3 L541.7,189.3 L542.0,189.3 L542.3,189.3 L542.6,189.3 L542.9,189.3 L543.2,189.3 L543.5,189.3 L543.8,189.3 L544.1,189.3 L544.4,189.3 L544.6,189.3 L544.9,189.3 L545.2,189.3 L545.5,189.3 L545.8,189.3 L546.1,189.3 L546.4,189.3 L546.7,189.3 L547.0,189.3 L547.3,189.3 L547.6,189.3 L547.9,189.3 L548.2,189.3 L548.5,189.4 L548.8,189.4 L549.1,189.4 L549.4,189.4 L549.7,189.4 L550.0,189.4 L550.3,189.4 L550.6,189.4 L550.9,189.4 L551.2,189.4 L551.5,189.4 L551.8,189.4 L552.1,189.4 L552.4,189.4 L552.7,189.4 L553.0,189.4 L553.3,189.4 L553.6,189.4 L553.9,189.4 L554.2,189.4 L554.5,189.4 L554.8,189.4 L555.1,189.4 L555.4,189.4 L555.7,189.4 L556.0,189.4 L556.3,189.4 L556.6,189.4 L556.9,189.4 L557.2,189.4 L557.5,189.4 L557.8,189.4 L558.1,189.4 L558.4,189.4 L558.6,189.4 L558.9,189.4 L559.2,189.4 L559.5,189.4 L559.8,189.4 L560.1,189.4 L560.4,189.4 L560.7,189.4 L561.0,189.4 L561.3,189.4 L561.6,189.4 L561.9,189.4 L562.2,189.4 L562.5,189.3 L562.8,189.3 L563.1,189.3 L563.4,189.3 L563.7,189.3 L564.0,189.3 L564.3,189.2 L564.6,189.2 L564.9,189.2 L565.2,189.2 L565.5,189.2 L565.8,189.1 L566.1,189.1 L566.4,189.1 L566.7,189.1 L567.0,189.0 L567.3,189.0 L567.6,189.0 L567.9,188.9 L568.2,188.9 L568.5,188.9 L568.8,188.8 L569.1,188.8 L569.4,188.7 L569.7,188.7 L570.0,188.7 L570.3,188.6 L570.6,188.6 L570.9,188.5 L571.2,188.5 L571.5,188.5 L571.8,188.4 L572.1,188.4 L572.4,188.3 L572.6,188.3 L572.9,188.2 L573.2,188.2 L573.5,188.1 L573.8,188.1 L574.1,188.0 L574.4,188.0 L574.7,187.9 L575.0,187.9 L575.3,187.8 L575.6,187.8 L575.9,187.7 L576.2,187.6 L576.5,187.6 L576.8,187.5 L577.1,187.5 L577.4,187.4 L577.7,187.4 L578.0,187.3 L578.3,187.3 L578.6,187.2 L578.9,187.1 L579.2,187.1 L579.5,187.0 L579.8,187.0 L580.1,186.9 L580.4,186.8 L580.7,186.8 L581.0,186.7 L581.3,186.7 L581.6,186.6 L581.9,186.5 L582.2,186.5 L582.5,186.4 L582.8,186.4 L583.1,186.3 L583.4,186.2 L583.7,186.2 L584.0,186.1 L584.3,186.1 L584.6,186.0 L584.9,185.9 L585.2,185.9 L585.5,185.8 L585.8,185.7 L586.1,185.7 L586.4,185.6 L586.6,185.6 L586.9,185.5 L587.2,185.4 L587.5,185.4 L587.8,185.3 L588.1,185.3 L588.4,185.2 L588.7,185.1 L589.0,185.1 L589.3,185.0 L589.6,185.0 L589.9,184.9 L590.2,184.9 L590.5,184.8 L590.8,184.7 L591.1,184.7 L591.4,184.6 L591.7,184.5 L592.0,184.5 L592.3,184.4 L592.6,184.3 L592.9,184.2 L593.2,184.2 L593.5,184.1 L593.8,184.0 L594.1,183.9 L594.4,183.8 L594.7,183.8 L595.0,183.7 L595.3,183.6 L595.6,183.5 L595.9,183.4 L596.2,183.3 L596.5,183.2 L596.8,183.1 L597.1,183.0 L597.4,182.9 L597.7,182.8 L598.0,182.7 L598.3,182.6 L598.6,182.5 L598.9,182.4 L599.2,182.3 L599.5,182.2 L599.8,182.1 L600.1,182.0 L600.4,181.9 L600.6,181.8 L600.9,181.7 L601.2,181.6 L601.5,181.5 L601.8,181.4 L602.1,181.3 L602.4,181.1 L602.7,181.0 L603.0,180.9 L603.3,180.8 L603.6,180.7 L603.9,180.6 L604.2,180.5 L604.5,180.4 L604.8,180.3 L605.1,180.2 L605.4,180.1 L605.7,179.9 L606.0,179.8 L606.3,179.7 L606.6,179.6 L606.9,179.5 L607.2,179.4 L607.5,179.3 L607.8,179.2 L608.1,179.1 L608.4,179.0 L608.7,178.9 L609.0,178.8 L609.3,178.7 L609.6,178.6 L609.9,178.5 L610.2,178.4 L610.5,178.3 L610.8,178.2 L611.1,178.1 L611.4,178.0 L611.7,177.9 L612.0,177.8 L612.3,177.7 L612.6,177.6 L612.9,177.5 L613.2,177.4 L613.5,177.4 L613.8,177.3 L614.1,177.2 L614.4,177.1 L614.6,177.0 L614.9,176.9 L615.2,176.9 L615.5,176.8 L615.8,176.7 L616.1,176.6 L616.4,176.6 L616.7,176.5 L617.0,176.4 L617.3,176.4 L617.6,176.3 L617.9,176.3 L618.2,176.2 L618.5,176.1 L618.8,176.1 L619.1,176.0 L619.4,176.0 L619.7,176.0 L620.0,175.9 L620.3,175.9 L620.6,175.8 L620.9,175.8 L621.2,175.8 L621.5,175.7 L621.8,175.7 L622.1,175.7 L622.4,175.7 L622.7,175.6 L623.0,175.6 L623.3,175.6 L623.6,175.6 L623.9,175.6 L624.2,175.6 L624.5,175.6 L624.8,175.6 L625.1,175.6 L625.4,175.6 L625.7,175.6 L626.0,175.6 L626.3,175.6 L626.6,175.6 L626.9,175.6 L627.2,175.6 L627.5,175.6 L627.8,175.6 L628.1,175.6 L628.4,175.6 L628.6,175.6 L628.9,175.6 L629.2,175.7 L629.5,175.7 L629.8,175.7 L630.1,175.7 L630.4,175.7 L630.7,175.7 L631.0,175.7 L631.3,175.7 L631.6,175.7 L631.9,175.7 L632.2,175.8 L632.5,175.8 L632.8,175.8 L633.1,175.8 L633.4,175.8 L633.7,175.8 L634.0,175.8 L634.3,175.8 L634.6,175.9 L634.9,175.9 L635.2,175.9 L635.5,175.9 L635.8,175.9 L636.1,176.0 L636.4,176.0 L636.7,176.0 L637.0,176.0 L637.3,176.0 L637.6,176.1 L637.9,176.1 L638.2,176.1 L638.5,176.1 L638.8,176.1 L639.1,176.2 L639.4,176.2 L639.7,176.2 L640.0,176.2 L640.3,176.3 L640.6,176.3 L640.9,176.3 L641.2,176.4 L641.5,176.4 L641.8,176.4 L642.1,176.5 L642.4,176.5 L642.6,176.5 L642.9,176.5 L643.2,176.6 L643.5,176.6 L643.8,176.7 L644.1,176.7 L644.4,176.7 L644.7,176.8 L645.0,176.8 L645.3,176.8 L645.6,176.9 L645.9,176.9 L646.2,177.0 L646.5,177.0 L646.8,177.0 L647.1,177.1 L647.4,177.1 L647.7,177.2 L648.0,177.2 L648.3,177.3 L648.6,177.3 L648.9,177.4 L649.2,177.4 L649.5,177.5 L649.8,177.5 L650.1,177.6 L650.4,177.6 L650.7,177.7 L651.0,177.7 L651.3,177.8 L651.6,177.8 L651.9,177.9 L652.2,177.9 L652.5,178.0 L652.8,178.1 L653.1,178.1 L653.4,178.2 L653.7,178.2 L654.0,178.3 L654.3,178.4 L654.6,178.4 L654.9,178.5 L655.2,178.6 L655.5,178.6 L655.8,178.7 L656.1,178.8 L656.4,178.8 L656.6,178.9 L656.9,179.0 L657.2,179.0 L657.5,179.1 L657.8,179.2 L658.1,179.3 L658.4,179.3 L658.7,179.4 L659.0,179.5 L659.3,179.6 L659.6,179.6 L659.9,179.7 L660.2,179.8 L660.5,179.9 L660.8,180.0 L661.1,180.0 L661.4,180.1 L661.7,180.2 L662.0,180.3 L662.3,180.4 L662.6,180.5 L662.9,180.6 L663.2,180.7 L663.5,180.8 L663.8,180.8 L664.1,180.9 L664.4,181.0 L664.7,181.1 L665.0,181.2 L665.3,181.3 L665.6,181.4 L665.9,181.5 L666.2,181.6 L666.5,181.7 L666.8,181.8 L667.1,181.9 L667.4,182.0 L667.7,182.1 L668.0,182.3 L668.3,182.4 L668.6,182.5 L668.9,182.6 L669.2,182.7 L669.5,182.8 L669.8,182.9 L670.1,183.0 L670.4,183.2 L670.6,183.3 L670.9,183.4 L671.2,183.5 L671.5,183.6 L671.8,183.8 L672.1,183.9 L672.4,184.0 L672.7,184.1 L673.0,184.3 L673.3,184.4 L673.6,184.5 L673.9,184.6 L674.2,184.8 L674.5,184.9 L674.8,185.0 L675.1,185.2 L675.4,185.3 L675.7,185.4 L676.0,185.6 L676.3,185.7 L676.6,185.9 L676.9,186.0 L677.2,186.2 L677.5,186.3 L677.5,201.5 L677.2,201.6 L676.9,201.8 L676.6,201.9 L676.3,202.1 L676.0,202.2 L675.7,202.4 L675.4,202.5 L675.1,202.6 L674.8,202.8 L674.5,202.9 L674.2,203.0 L673.9,203.2 L673.6,203.3 L673.3,203.4 L673.0,203.5 L672.7,203.7 L672.4,203.8 L672.1,203.9 L671.8,204.0 L671.5,204.2 L671.2,204.3 L670.9,204.4 L670.6,204.5 L670.4,204.6 L670.1,204.8 L669.8,204.9 L669.5,205.0 L669.2,205.1 L668.9,205.2 L668.6,205.3 L668.3,205.4 L668.0,205.5 L667.7,205.7 L667.4,205.8 L667.1,205.9 L666.8,206.0 L666.5,206.1 L666.2,206.2 L665.9,206.3 L665.6,206.4 L665.3,206.5 L665.0,206.6 L664.7,206.7 L664.4,206.8 L664.1,206.9 L663.8,207.0 L663.5,207.0 L663.2,207.1 L662.9,207.2 L662.6,207.3 L662.3,207.4 L662.0,207.5 L661.7,207.6 L661.4,207.7 L661.1,207.8 L660.8,207.8 L660.5,207.9 L660.2,208.0 L659.9,208.1 L659.6,208.2 L659.3,208.2 L659.0,208.3 L658.7,208.4 L658.4,208.5 L658.1,208.5 L657.8,208.6 L657.5,208.7 L657.2,208.8 L656.9,208.8 L656.6,208.9 L656.4,209.0 L656.1,209.0 L655.8,209.1 L655.5,209.2 L655.2,209.2 L654.9,209.3 L654.6,209.4 L654.3,209.4 L654.0,209.5 L653.7,209.6 L653.4,209.6 L653.1,209.7 L652.8,209.7 L652.5,209.8 L652.2,209.9 L651.9,209.9 L651.6,210.0 L651.3,210.0 L651.0,210.1 L650.7,210.1 L650.4,210.2 L650.1,210.2 L649.8,210.3 L649.5,210.3 L649.2,210.4 L648.9,210.4 L648.6,210.5 L648.3,210.5 L648.0,210.6 L647.7,210.6 L647.4,210.7 L647.1,210.7 L646.8,210.8 L646.5,210.8 L646.2,210.8 L645.9,210.9 L645.6,210.9 L645.3,211.0 L645.0,211.0 L644.7,211.0 L644.4,211.1 L644.1,211.1 L643.8,211.1 L643.5,211.2 L643.2,211.2 L642.9,211.3 L642.6,211.3 L642.4,211.3 L642.1,211.3 L641.8,211.4 L641.5,211.4 L641.2,211.4 L640.9,211.5 L640.6,211.5 L640.3,211.5 L640.0,211.6 L639.7,211.6 L639.4,211.6 L639.1,211.6 L638.8,211.7 L638.5,211.7 L638.2,211.7 L637.9,211.7 L637.6,211.7 L637.3,211.8 L637.0,211.8 L636.7,211.8 L636.4,211.8 L636.1,211.8 L635.8,211.9 L635.5,211.9 L635.2,211.9 L634.9,211.9 L634.6,211.9 L634.3,212.0 L634.0,212.0 L633.7,212.0 L633.4,212.0 L633.1,212.0 L632.8,212.0 L632.5,212.0 L632.2,212.0 L631.9,212.1 L631.6,212.1 L631.3,212.1 L631.0,212.1 L630.7,212.1 L630.4,212.1 L630.1,212.1 L629.8,212.1 L629.5,212.1 L629.2,212.1 L628.9,212.2 L628.6,212.2 L628.4,212.2 L628.1,212.2 L627.8,212.2 L627.5,212.2 L627.2,212.2 L626.9,212.2 L626.6,212.2 L626.3,212.2 L626.0,212.2 L625.7,212.2 L625.4,212.2 L625.1,212.2 L624.8,212.2 L624.5,212.2 L624.2,212.2 L623.9,212.2 L623.6,212.2 L623.3,212.2 L623.0,212.2 L622.7,212.2 L622.4,212.1 L622.1,212.1 L621.8,212.1 L621.5,212.1 L621.2,212.0 L620.9,212.0 L620.6,212.0 L620.3,211.9 L620.0,211.9 L619.7,211.8 L619.4,211.8 L619.1,211.8 L618.8,211.7 L618.5,211.7 L618.2,211.6 L617.9,211.5 L617.6,211.5 L617.3,211.4 L617.0,211.4 L616.7,211.3 L616.4,211.2 L616.1,211.2 L615.8,211.1 L615.5,211.0 L615.2,210.9 L614.9,210.9 L614.6,210.8 L614.4,210.7 L614.1,210.6 L613.8,210.5 L613.5,210.4 L613.2,210.4 L612.9,210.3 L612.6,210.2 L612.3,210.1 L612.0,210.0 L611.7,209.9 L611.4,209.8 L611.1,209.7 L610.8,209.6 L610.5,209.5 L610.2,209.4 L609.9,209.3 L609.6,209.2 L609.3,209.1 L609.0,209.0 L608.7,208.9 L608.4,208.8 L608.1,208.7 L607.8,208.6 L607.5,208.5 L607.2,208.4 L606.9,208.3 L606.6,208.2 L606.3,208.1 L606.0,208.0 L605.7,207.9 L605.4,207.7 L605.1,207.6 L604.8,207.5 L604.5,207.4 L604.2,207.3 L603.9,207.2 L603.6,207.1 L603.3,207.0 L603.0,206.9 L602.7,206.8 L602.4,206.7 L602.1,206.5 L601.8,206.4 L601.5,206.3 L601.2,206.2 L600.9,206.1 L600.6,206.0 L600.4,205.9 L600.1,205.8 L599.8,205.7 L599.5,205.6 L599.2,205.5 L598.9,205.4 L598.6,205.3 L598.3,205.2 L598.0,205.1 L597.7,205.0 L597.4,204.9 L597.1,204.8 L596.8,204.7 L596.5,204.6 L596.2,204.5 L595.9,204.4 L595.6,204.3 L595.3,204.2 L595.0,204.1 L594.7,204.0 L594.4,204.0 L594.1,203.9 L593.8,203.8 L593.5,203.7 L593.2,203.6 L592.9,203.6 L592.6,203.5 L592.3,203.4 L592.0,203.3 L591.7,203.3 L591.4,203.2 L591.1,203.1 L590.8,203.1 L590.5,203.0 L590.2,202.9 L589.9,202.9 L589.6,202.8 L589.3,202.8 L589.0,202.7 L588.7,202.7 L588.4,202.6 L588.1,202.5 L587.8,202.5 L587.5,202.4 L587.2,202.4 L586.9,202.3 L586.6,202.2 L586.4,202.2 L586.1,202.1 L585.8,202.1 L585.5,202.0 L585.2,201.9 L584.9,201.9 L584.6,201.8 L584.3,201.7 L584.0,201.7 L583.7,201.6 L583.4,201.6 L583.1,201.5 L582.8,201.4 L582.5,201.4 L582.2,201.3 L581.9,201.3 L581.6,201.2 L581.3,201.1 L581.0,201.1 L580.7,201.0 L580.4,201.0 L580.1,200.9 L579.8,200.8 L579.5,200.8 L579.2,200.7 L578.9,200.7 L578.6,200.6 L578.3,200.5 L578.0,200.5 L577.7,200.4 L577.4,200.4 L577.1,200.3 L576.8,200.3 L576.5,200.2 L576.2,200.2 L575.9,200.1 L575.6,200.0 L575.3,200.0 L575.0,199.9 L574.7,199.9 L574.4,199.8 L574.1,199.8 L573.8,199.7 L573.5,199.7 L573.2,199.6 L572.9,199.6 L572.6,199.5 L572.4,199.5 L572.1,199.4 L571.8,199.4 L571.5,199.3 L571.2,199.3 L570.9,199.3 L570.6,199.2 L570.3,199.2 L570.0,199.1 L569.7,199.1 L569.4,199.1 L569.1,199.0 L568.8,199.0 L568.5,198.9 L568.2,198.9 L567.9,198.9 L567.6,198.8 L567.3,198.8 L567.0,198.8 L566.7,198.7 L566.4,198.7 L566.1,198.7 L565.8,198.7 L565.5,198.6 L565.2,198.6 L564.9,198.6 L564.6,198.6 L564.3,198.6 L564.0,198.5 L563.7,198.5 L563.4,198.5 L563.1,198.5 L562.8,198.5 L562.5,198.5 L562.2,198.4 L561.9,198.4 L561.6,198.4 L561.3,198.4 L561.0,198.4 L560.7,198.4 L560.4,198.4 L560.1,198.4 L559.8,198.4 L559.5,198.4 L559.2,198.4 L558.9,198.4 L558.6,198.4 L558.4,198.4 L558.1,198.4 L557.8,198.4 L557.5,198.4 L557.2,198.4 L556.9,198.4 L556.6,198.4 L556.3,198.4 L556.0,198.4 L555.7,198.4 L555.4,198.4 L555.1,198.4 L554.8,198.4 L554.5,198.4 L554.2,198.4 L553.9,198.4 L553.6,198.4 L553.3,198.4 L553.0,198.4 L552.7,198.4 L552.4,198.4 L552.1,198.4 L551.8,198.4 L551.5,198.4 L551.2,198.4 L550.9,198.4 L550.6,198.4 L550.3,198.4 L550.0,198.4 L549.7,198.4 L549.4,198.4 L549.1,198.4 L548.8,198.4 L548.5,198.4 L548.2,198.5 L547.9,198.5 L547.6,198.5 L547.3,198.5 L547.0,198.5 L546.7,198.5 L546.4,198.5 L546.1,198.5 L545.8,198.5 L545.5,198.5 L545.2,198.5 L544.9,198.5 L544.6,198.5 L544.4,198.5 L544.1,198.5 L543.8,198.5 L543.5,198.5 L543.2,198.5 L542.9,198.5 L542.6,198.5 L542.3,198.5 L542.0,198.5 L541.7,198.5 L541.4,198.5 L541.1,198.5 L540.8,198.5 L540.5,198.5 L540.2,198.6 L539.9,198.6 L539.6,198.6 L539.3,198.6 L539.0,198.6 L538.7,198.6 L538.4,198.6 L538.1,198.6 L537.8,198.6 L537.5,198.6 L537.2,198.6 L536.9,198.6 L536.6,198.6 L536.3,198.6 L536.0,198.6 L535.7,198.6 L535.4,198.6 L535.1,198.6 L534.8,198.6 L534.5,198.7 L534.2,198.7 L533.9,198.7 L533.6,198.7 L533.3,198.7 L533.0,198.7 L532.7,198.7 L532.4,198.7 L532.1,198.7 L531.8,198.7 L531.5,198.7 L531.2,198.7 L530.9,198.7 L530.6,198.7 L530.4,198.7 L530.1,198.8 L529.8,198.8 L529.5,198.8 L529.2,198.8 L528.9,198.8 L528.6,198.8 L528.3,198.8 L528.0,198.8 L527.7,198.8 L527.4,198.8 L527.1,198.8 L526.8,198.8 L526.5,198.9 L526.2,198.9 L525.9,198.9 L525.6,198.9 L525.3,198.9 L525.0,198.9 L524.7,198.9 L524.4,198.9 L524.1,198.9 L523.8,198.9 L523.5,198.9 L523.2,198.9 L522.9,199.0 L522.6,199.0 L522.3,199.0 L522.0,199.0 L521.7,199.0 L521.4,199.0 L521.1,199.0 L520.8,199.0 L520.5,199.0 L520.2,199.0 L519.9,199.1 L519.6,199.1 L519.3,199.1 L519.0,199.1 L518.7,199.1 L518.4,199.1 L518.1,199.1 L517.8,199.1 L517.5,199.1 L517.2,199.2 L516.9,199.2 L516.6,199.2 L516.4,199.2 L516.1,199.2 L515.8,199.2 L515.5,199.2 L515.2,199.2 L514.9,199.3 L514.6,199.3 L514.3,199.3 L514.0,199.3 L513.7,199.4 L513.4,199.4 L513.1,199.5 L512.8,199.5 L512.5,199.5 L512.2,199.6 L511.9,199.6 L511.6,199.7 L511.3,199.7 L511.0,199.8 L510.7,199.9 L510.4,199.9 L510.1,200.0 L509.8,200.0 L509.5,200.1 L509.2,200.2 L508.9,200.2 L508.6,200.3 L508.3,200.4 L508.0,200.5 L507.7,200.5 L507.4,200.6 L507.1,200.7 L506.8,200.8 L506.5,200.9 L506.2,201.0 L505.9,201.1 L505.6,201.1 L505.3,201.2 L505.0,201.3 L504.7,201.4 L504.4,201.5 L504.1,201.6 L503.8,201.7 L503.5,201.8 L503.2,201.9 L502.9,202.0 L502.6,202.1 L502.4,202.2 L502.1,202.3 L501.8,202.4 L501.5,202.5 L501.2,202.6 L500.9,202.7 L500.6,202.8 L500.3,202.9 L500.0,203.0 L499.7,203.1 L499.4,203.2 L499.1,203.3 L498.8,203.4 L498.5,203.5 L498.2,203.7 L497.9,203.8 L497.6,203.9 L497.3,204.0 L497.0,204.1 L496.7,204.2 L496.4,204.3 L496.1,204.4 L495.8,204.6 L495.5,204.7 L495.2,204.8 L494.9,204.9 L494.6,205.1 L494.3,205.2 L494.0,205.3 L493.7,205.5 L493.4,205.6 L493.1,205.8 L492.8,205.9 L492.5,206.1 L492.2,206.2 L491.9,206.4 L491.6,206.6 L491.3,206.7 L491.0,206.9 L490.7,207.0 L490.4,207.2 L490.1,207.4 L489.8,207.6 L489.5,207.7 L489.2,207.9 L488.9,208.1 L488.6,208.3 L488.4,208.5 L488.1,208.7 L487.8,208.8 L487.5,209.0 L487.2,209.2 L486.9,209.4 L486.6,209.6 L486.3,209.8 L486.0,210.0 L485.7,210.2 L485.4,210.4 L485.1,210.6 L484.8,210.9 L484.5,211.1 L484.2,211.3 L483.9,211.5 L483.6,211.7 L483.3,211.9 L483.0,212.2 L482.7,212.4 L482.4,212.6 L482.1,212.8 L481.8,213.1 L481.5,213.3 L481.2,213.6 L480.9,213.8 L480.6,214.1 L480.3,214.4 L480.0,214.7 L479.7,215.0 L479.4,215.3 L479.1,215.6 L478.8,215.9 L478.5,216.3 L478.2,216.6 L477.9,217.0 L477.6,217.3 L477.3,217.7 L477.0,218.1 L476.7,218.4 L476.4,218.8 L476.1,219.2 L475.8,219.6 L475.5,220.0 L475.2,220.4 L474.9,220.8 L474.6,221.1 L474.4,221.5 L474.1,221.9 L473.8,222.3 L473.5,222.7 L473.2,223.1 L472.9,223.5 L472.6,223.9 L472.3,224.3 L472.0,224.6 L471.7,225.0 L471.4,225.4 L471.1,225.8 L470.8,226.1 L470.5,226.5 L470.2,226.8 L469.9,227.2 L469.6,227.5 L469.3,227.9 L469.0,228.2 L468.7,228.5 L468.4,228.8 L468.1,229.1 L467.8,229.4 L467.5,229.7 L467.2,229.9 L466.9,230.2 L466.6,230.4 L466.3,230.7 L466.0,230.9 L465.7,231.1 L465.4,231.3 L465.1,231.5 L464.8,231.7 L464.5,232.0 L464.2,232.2 L463.9,232.4 L463.6,232.6 L463.3,232.8 L463.0,233.0 L462.7,233.2 L462.4,233.4 L462.1,233.6 L461.8,233.8 L461.5,234.0 L461.2,234.2 L460.9,234.5 L460.6,234.7 L460.4,234.9 L460.1,235.1 L459.8,235.3 L459.5,235.5 L459.2,235.7 L458.9,235.8 L458.6,236.0 L458.3,236.2 L458.0,236.4 L457.7,236.6 L457.4,236.8 L457.1,237.0 L456.8,237.2 L456.5,237.4 L456.2,237.6 L455.9,237.7 L455.6,237.9 L455.3,238.1 L455.0,238.3 L454.7,238.4 L454.4,238.6 L454.1,238.8 L453.8,239.0 L453.5,239.1 L453.2,239.3 L452.9,239.5 L452.6,239.6 L452.3,239.8 L452.0,239.9 L451.7,240.1 L451.4,240.3 L451.1,240.4 L450.8,240.6 L450.5,240.7 L450.2,240.8 L449.9,241.0 L449.6,241.1 L449.3,241.3 L449.0,241.4 L448.7,241.5 L448.4,241.7 L448.1,241.8 L447.8,241.9 L447.5,242.0 L447.2,242.2 L446.9,242.3 L446.6,242.4 L446.4,242.5 L446.1,242.6 L445.8,242.7 L445.5,242.8 L445.2,242.9 L444.9,243.0 L444.6,243.1 L444.3,243.2 L444.0,243.3 L443.7,243.4 L443.4,243.5 L443.1,243.5 L442.8,243.6 L442.5,243.7 L442.2,243.7 L441.9,243.8 L441.6,243.9 L441.3,243.9 L441.0,244.0 L440.7,244.0 L440.4,244.1 L440.1,244.1 L439.8,244.2 L439.5,244.2 Z" fill="#f2f2f5" stroke="none"/>
<path d="M439.8,241.9 L441.2,241.6 L442.7,236.3 L444.1,228.3 L445.6,219.9 L447.0,204.7 L448.5,174.8 L449.9,163.7 L451.4,152.2 L452.8,150.2 L454.3,155.3 L455.7,164.2 L457.2,178.7 L458.6,201.5 L460.1,214.6 L461.5,217.3 L463.0,217.3 L464.4,195.3 L465.9,177.9 L467.3,171.1 L468.8,181.4 L470.2,203.6 L471.7,208.4 L473.1,212.7 L474.6,199.4 L476.0,183.9 L477.5,188.8 L478.9,196.9 L480.4,202.5 L481.8,204.0 L483.3,202.3 L484.7,189.5 L486.2,191.9 L487.6,198.7 L489.1,202.0 L490.5,199.4 L492.0,189.5 L493.4,185.0 L494.9,194.1 L496.3,199.4 L497.8,192.3 L499.2,188.6 L500.7,191.5 L502.1,199.1 L503.6,198.3 L505.0,193.2 L506.5,191.0 L507.9,194.5 L509.4,196.4 L510.8,194.2 L512.3,191.7 L513.7,189.6 L515.2,194.2 L516.6,197.1 L518.1,196.0 L519.5,190.6 L521.0,190.9 L522.4,193.0 L523.9,196.4 L525.3,195.2 L526.8,191.3 L528.2,190.8 L529.7,192.9 L531.1,195.6 L532.6,194.6 L534.0,191.8 L535.5,191.4 L536.9,195.7 L538.4,196.3 L539.8,194.9 L541.3,189.7 L542.7,188.2 L544.2,192.5 L545.6,196.8 L547.1,194.8 L548.5,191.1 L550.0,189.1 L551.4,193.7 L552.9,197.1 L554.3,195.8 L555.8,187.8 L557.2,189.7 L558.7,193.7 L560.1,197.8 L561.6,196.0 L563.0,195.0 L564.5,195.7 L565.9,195.4 L567.4,195.8 L568.8,194.0 L570.3,190.3 L571.7,191.5 L573.2,194.4 L574.6,196.0 L576.1,194.2 L577.5,190.6 L579.0,191.4 L580.4,193.3 L581.9,194.4 L583.3,193.5 L584.8,189.9 L586.2,190.9 L587.7,195.4 L589.1,197.4 L590.6,193.3 L592.0,192.1 L593.5,196.6 L594.9,200.8 L596.4,203.1 L597.8,204.2 L599.3,200.7 L600.7,198.3 L602.2,193.0 L603.6,189.2 L605.1,187.9 L606.5,187.6 L608.0,189.7 L609.4,197.3 L610.9,204.5 L612.3,206.0 L613.8,209.6 L615.2,205.0 L616.7,200.2 L618.1,194.2 L619.6,186.8 L621.0,183.4 L622.5,179.3 L623.9,178.1 L625.4,183.7 L626.8,191.2 L628.3,201.1 L629.7,208.5 L631.2,207.3 L632.6,202.6 L634.1,194.0 L635.5,186.4 L637.0,183.0 L638.4,185.5 L639.9,193.8 L641.3,202.9 L642.8,205.2 L644.2,200.5 L645.7,193.1 L647.1,186.5 L648.6,184.8 L650.0,191.2 L651.5,199.8 L652.9,200.2 L654.4,197.0 L655.8,189.5 L657.3,189.2 L658.7,192.5 L660.2,198.2 L661.6,197.9 L663.1,192.2 L664.5,192.6 L666.0,194.3 L667.4,194.4 L668.9,197.4 L670.3,197.8 L671.8,192.8 L673.2,191.8 L674.7,192.7 L676.1,194.3" fill="none" stroke="#c83840" stroke-width="0.8" />
<g fill="#a8141c"><circle cx="439.8" cy="241.9" r="1.3"/><circle cx="441.2" cy="241.6" r="1.3"/><circle cx="442.7" cy="236.3" r="1.3"/><circle cx="444.1" cy="228.3" r="1.3"/><circle cx="445.6" cy="219.9" r="1.3"/><circle cx="447.0" cy="204.7" r="1.3"/><circle cx="448.5" cy="174.8" r="1.3"/><circle cx="449.9" cy="163.7" r="1.3"/><circle cx="451.4" cy="152.2" r="1.3"/><circle cx="452.8" cy="150.2" r="1.3"/><circle cx="454.3" cy="155.3" r="1.3"/><circle cx="455.7" cy="164.2" r="1.3"/><circle cx="457.2" cy="178.7" r="1.3"/><circle cx="458.6" cy="201.5" r="1.3"/><circle cx="460.1" cy="214.6" r="1.3"/><circle cx="461.5" cy="217.3" r="1.3"/><circle cx="463.0" cy="217.3" r="1.3"/><circle cx="464.4" cy="195.3" r="1.3"/><circle cx="465.9" cy="177.9" r="1.3"/><circle cx="467.3" cy="171.1" r="1.3"/><circle cx="468.8" cy="181.4" r="1.3"/><circle cx="470.2" cy="203.6" r="1.3"/><circle cx="471.7" cy="208.4" r="1.3"/><circle cx="473.1" cy="212.7" r="1.3"/><circle cx="474.6" cy="199.4" r="1.3"/><circle cx="476.0" cy="183.9" r="1.3"/><circle cx="477.5" cy="188.8" r="1.3"/><circle cx="478.9" cy="196.9" r="1.3"/><circle cx="480.4" cy="202.5" r="1.3"/><circle cx="481.8" cy="204.0" r="1.3"/><circle cx="483.3" cy="202.3" r="1.3"/><circle cx="484.7" cy="189.5" r="1.3"/><circle cx="486.2" cy="191.9" r="1.3"/><circle cx="487.6" cy="198.7" r="1.3"/><circle cx="489.1" cy="202.0" r="1.3"/><circle cx="490.5" cy="199.4" r="1.3"/><circle cx="492.0" cy="189.5" r="1.3"/><circle cx="493.4" cy="185.0" r="1.3"/><circle cx="494.9" cy="194.1" r="1.3"/><circle cx="496.3" cy="199.4" r="1.3"/><circle cx="497.8" cy="192.3" r="1.3"/><circle cx="499.2" cy="188.6" r="1.3"/><circle cx="500.7" cy="191.5" r="1.3"/><circle cx="502.1" cy="199.1" r="1.3"/><circle cx="503.6" cy="198.3" r="1.3"/><circle cx="505.0" cy="193.2" r="1.3"/><circle cx="506.5" cy="191.0" r="1.3"/><circle cx="507.9" cy="194.5" r="1.3"/><circle cx="509.4" cy="196.4" r="1.3"/><circle cx="510.8" cy="194.2" r="1.3"/><circle cx="512.3" cy="191.7" r="1.3"/><circle cx="513.7" cy="189.6" r="1.3"/><circle cx="515.2" cy="194.2" r="1.3"/><circle cx="516.6" cy="197.1" r="1.3"/><circle cx="518.1" cy="196.0" r="1.3"/><circle cx="519.5" cy="190.6" r="1.3"/><circle cx="521.0" cy="190.9" r="1.3"/><circle cx="522.4" cy="193.0" r="1.3"/><circle cx="523.9" cy="196.4" r="1.3"/><circle cx="525.3" cy="195.2" r="1.3"/><circle cx="526.8" cy="191.3" r="1.3"/><circle cx="528.2" cy="190.8" r="1.3"/><circle cx="529.7" cy="192.9" r="1.3"/><circle cx="531.1" cy="195.6" r="1.3"/><circle cx="532.6" cy="194.6" r="1.3"/><circle cx="534.0" cy="191.8" r="1.3"/><circle cx="535.5" cy="191.4" r="1.3"/><circle cx="536.9" cy="195.7" r="1.3"/><circle cx="538.4" cy="196.3" r="1.3"/><circle cx="539.8" cy="194.9" r="1.3"/><circle cx="541.3" cy="189.7" r="1.3"/><circle cx="542.7" cy="188.2" r="1.3"/><circle cx="544.2" cy="192.5" r="1.3"/><circle cx="545.6" cy="196.8" r="1.3"/><circle cx="547.1" cy="194.8" r="1.3"/><circle cx="548.5" cy="191.1" r="1.3"/><circle cx="550.0" cy="189.1" r="1.3"/><circle cx="551.4" cy="193.7" r="1.3"/><circle cx="552.9" cy="197.1" r="1.3"/><circle cx="554.3" cy="195.8" r="1.3"/><circle cx="555.8" cy="187.8" r="1.3"/><circle cx="557.2" cy="189.7" r="1.3"/><circle cx="558.7" cy="193.7" r="1.3"/><circle cx="560.1" cy="197.8" r="1.3"/><circle cx="561.6" cy="196.0" r="1.3"/><circle cx="563.0" cy="195.0" r="1.3"/><circle cx="564.5" cy="195.7" r="1.3"/><circle cx="565.9" cy="195.4" r="1.3"/><circle cx="567.4" cy="195.8" r="1.3"/><circle cx="568.8" cy="194.0" r="1.3"/><circle cx="570.3" cy="190.3" r="1.3"/><circle cx="571.7" cy="191.5" r="1.3"/><circle cx="573.2" cy="194.4" r="1.3"/><circle cx="574.6" cy="196.0" r="1.3"/><circle cx="576.1" cy="194.2" r="1.3"/><circle cx="577.5" cy="190.6" r="1.3"/><circle cx="579.0" cy="191.4" r="1.3"/><circle cx="580.4" cy="193.3" r="1.3"/><circle cx="581.9" cy="194.4" r="1.3"/><circle cx="583.3" cy="193.5" r="1.3"/><circle cx="584.8" cy="189.9" r="1.3"/><circle cx="586.2" cy="190.9" r="1.3"/><circle cx="587.7" cy="195.4" r="1.3"/><circle cx="589.1" cy="197.4" r="1.3"/><circle cx="590.6" cy="193.3" r="1.3"/><circle cx="592.0" cy="192.1" r="1.3"/><circle cx="593.5" cy="196.6" r="1.3"/><circle cx="594.9" cy="200.8" r="1.3"/><circle cx="596.4" cy="203.1" r="1.3"/><circle cx="597.8" cy="204.2" r="1.3"/><circle cx="599.3" cy="200.7" r="1.3"/><circle cx="600.7" cy="198.3" r="1.3"/><circle cx="602.2" cy="193.0" r="1.3"/><circle cx="603.6" cy="189.2" r="1.3"/><circle cx="605.1" cy="187.9" r="1.3"/><circle cx="606.5" cy="187.6" r="1.3"/><circle cx="608.0" cy="189.7" r="1.3"/><circle cx="609.4" cy="197.3" r="1.3"/><circle cx="610.9" cy="204.5" r="1.3"/><circle cx="612.3" cy="206.0" r="1.3"/><circle cx="613.8" cy="209.6" r="1.3"/><circle cx="615.2" cy="205.0" r="1.3"/><circle cx="616.7" cy="200.2" r="1.3"/><circle cx="618.1" cy="194.2" r="1.3"/><circle cx="619.6" cy="186.8" r="1.3"/><circle cx="621.0" cy="183.4" r="1.3"/><circle cx="622.5" cy="179.3" r="1.3"/><circle cx="623.9" cy="178.1" r="1.3"/><circle cx="625.4" cy="183.7" r="1.3"/><circle cx="626.8" cy="191.2" r="1.3"/><circle cx="628.3" cy="201.1" r="1.3"/><circle cx="629.7" cy="208.5" r="1.3"/><circle cx="631.2" cy="207.3" r="1.3"/><circle cx="632.6" cy="202.6" r="1.3"/><circle cx="634.1" cy="194.0" r="1.3"/><circle cx="635.5" cy="186.4" r="1.3"/><circle cx="637.0" cy="183.0" r="1.3"/><circle cx="638.4" cy="185.5" r="1.3"/><circle cx="639.9" cy="193.8" r="1.3"/><circle cx="641.3" cy="202.9" r="1.3"/><circle cx="642.8" cy="205.2" r="1.3"/><circle cx="644.2" cy="200.5" r="1.3"/><circle cx="645.7" cy="193.1" r="1.3"/><circle cx="647.1" cy="186.5" r="1.3"/><circle cx="648.6" cy="184.8" r="1.3"/><circle cx="650.0" cy="191.2" r="1.3"/><circle cx="651.5" cy="199.8" r="1.3"/><circle cx="652.9" cy="200.2" r="1.3"/><circle cx="654.4" cy="197.0" r="1.3"/><circle cx="655.8" cy="189.5" r="1.3"/><circle cx="657.3" cy="189.2" r="1.3"/><circle cx="658.7" cy="192.5" r="1.3"/><circle cx="660.2" cy="198.2" r="1.3"/><circle cx="661.6" cy="197.9" r="1.3"/><circle cx="663.1" cy="192.2" r="1.3"/><circle cx="664.5" cy="192.6" r="1.3"/><circle cx="666.0" cy="194.3" r="1.3"/><circle cx="667.4" cy="194.4" r="1.3"/><circle cx="668.9" cy="197.4" r="1.3"/><circle cx="670.3" cy="197.8" r="1.3"/><circle cx="671.8" cy="192.8" r="1.3"/><circle cx="673.2" cy="191.8" r="1.3"/><circle cx="674.7" cy="192.7" r="1.3"/><circle cx="676.1" cy="194.3" r="1.3"/></g>
<path d="M439.5,143.6 L439.8,143.6 L440.1,143.7 L440.4,143.7 L440.7,143.8 L441.0,143.8 L441.3,143.9 L441.6,143.9 L441.9,144.0 L442.2,144.1 L442.5,144.1 L442.8,144.2 L443.1,144.3 L443.4,144.3 L443.7,144.4 L444.0,144.5 L444.3,144.6 L444.6,144.7 L444.9,144.8 L445.2,144.9 L445.5,145.0 L445.8,145.1 L446.1,145.2 L446.4,145.3 L446.6,145.4 L446.9,145.5 L447.2,145.6 L447.5,145.8 L447.8,145.9 L448.1,146.0 L448.4,146.1 L448.7,146.3 L449.0,146.4 L449.3,146.5 L449.6,146.7 L449.9,146.8 L450.2,147.0 L450.5,147.1 L450.8,147.2 L451.1,147.4 L451.4,147.5 L451.7,147.7 L452.0,147.9 L452.3,148.0 L452.6,148.2 L452.9,148.3 L453.2,148.5 L453.5,148.7 L453.8,148.8 L454.1,149.0 L454.4,149.2 L454.7,149.4 L455.0,149.5 L455.3,149.7 L455.6,149.9 L455.9,150.1 L456.2,150.2 L456.5,150.4 L456.8,150.6 L457.1,150.8 L457.4,151.0 L457.7,151.2 L458.0,151.4 L458.3,151.6 L458.6,151.8 L458.9,152.0 L459.2,152.1 L459.5,152.3 L459.8,152.5 L460.1,152.7 L460.4,152.9 L460.6,153.1 L460.9,153.3 L461.2,153.6 L461.5,153.8 L461.8,154.0 L462.1,154.2 L462.4,154.4 L462.7,154.6 L463.0,154.8 L463.3,155.0 L463.6,155.2 L463.9,155.4 L464.2,155.6 L464.5,155.8 L464.8,156.1 L465.1,156.3 L465.4,156.5 L465.7,156.7 L466.0,156.9 L466.3,157.1 L466.6,157.4 L466.9,157.6 L467.2,157.9 L467.5,158.1 L467.8,158.4 L468.1,158.7 L468.4,159.0 L468.7,159.3 L469.0,159.6 L469.3,159.9 L469.6,160.3 L469.9,160.6 L470.2,161.0 L470.5,161.3 L470.8,161.7 L471.1,162.0 L471.4,162.4 L471.7,162.8 L472.0,163.2 L472.3,163.5 L472.6,163.9 L472.9,164.3 L473.2,164.7 L473.5,165.1 L473.8,165.5 L474.1,165.9 L474.4,166.3 L474.6,166.7 L474.9,167.0 L475.2,167.4 L475.5,167.8 L475.8,168.2 L476.1,168.6 L476.4,169.0 L476.7,169.4 L477.0,169.7 L477.3,170.1 L477.6,170.5 L477.9,170.8 L478.2,171.2 L478.5,171.5 L478.8,171.9 L479.1,172.2 L479.4,172.5 L479.7,172.8 L480.0,173.1 L480.3,173.4 L480.6,173.7 L480.9,174.0 L481.2,174.2 L481.5,174.5 L481.8,174.7 L482.1,175.0 L482.4,175.2 L482.7,175.4 L483.0,175.6 L483.3,175.9 L483.6,176.1 L483.9,176.3 L484.2,176.5 L484.5,176.7 L484.8,176.9 L485.1,177.2 L485.4,177.4 L485.7,177.6 L486.0,177.8 L486.3,178.0 L486.6,178.2 L486.9,178.4 L487.2,178.6 L487.5,178.8 L487.8,179.0 L488.1,179.1 L488.4,179.3 L488.6,179.5 L488.9,179.7 L489.2,179.9 L489.5,180.1 L489.8,180.2 L490.1,180.4 L490.4,180.6 L490.7,180.8 L491.0,180.9 L491.3,181.1 L491.6,181.2 L491.9,181.4 L492.2,181.6 L492.5,181.7 L492.8,181.9 L493.1,182.0 L493.4,182.2 L493.7,182.3 L494.0,182.5 L494.3,182.6 L494.6,182.7 L494.9,182.9 L495.2,183.0 L495.5,183.1 L495.8,183.2 L496.1,183.4 L496.4,183.5 L496.7,183.6 L497.0,183.7 L497.3,183.8 L497.6,183.9 L497.9,184.0 L498.2,184.1 L498.5,184.3 L498.8,184.4 L499.1,184.5 L499.4,184.6 L499.7,184.7 L500.0,184.8 L500.3,184.9 L500.6,185.0 L500.9,185.1 L501.2,185.2 L501.5,185.3 L501.8,185.4 L502.1,185.5 L502.4,185.6 L502.6,185.7 L502.9,185.8 L503.2,185.9 L503.5,186.0 L503.8,186.1 L504.1,186.2 L504.4,186.3 L504.7,186.4 L505.0,186.5 L505.3,186.6 L505.6,186.7 L505.9,186.7 L506.2,186.8 L506.5,186.9 L506.8,187.0 L507.1,187.1 L507.4,187.2 L507.7,187.3 L508.0,187.3 L508.3,187.4 L508.6,187.5 L508.9,187.6 L509.2,187.6 L509.5,187.7 L509.8,187.8 L510.1,187.8 L510.4,187.9 L510.7,187.9 L511.0,188.0 L511.3,188.1 L511.6,188.1 L511.9,188.2 L512.2,188.2 L512.5,188.3 L512.8,188.3 L513.1,188.3 L513.4,188.4 L513.7,188.4 L514.0,188.5 L514.3,188.5 L514.6,188.5 L514.9,188.5 L515.2,188.6 L515.5,188.6 L515.8,188.6 L516.1,188.6 L516.4,188.6 L516.6,188.6 L516.9,188.6 L517.2,188.6 L517.5,188.7 L517.8,188.7 L518.1,188.7 L518.4,188.7 L518.7,188.7 L519.0,188.7 L519.3,188.7 L519.6,188.7 L519.9,188.7 L520.2,188.8 L520.5,188.8 L520.8,188.8 L521.1,188.8 L521.4,188.8 L521.7,188.8 L522.0,188.8 L522.3,188.8 L522.6,188.8 L522.9,188.8 L523.2,188.9 L523.5,188.9 L523.8,188.9 L524.1,188.9 L524.4,188.9 L524.7,188.9 L525.0,188.9 L525.3,188.9 L525.6,188.9 L525.9,188.9 L526.2,188.9 L526.5,188.9 L526.8,189.0 L527.1,189.0 L527.4,189.0 L527.7,189.0 L528.0,189.0 L528.3,189.0 L528.6,189.0 L528.9,189.0 L529.2,189.0 L529.5,189.0 L529.8,189.0 L530.1,189.0 L530.4,189.1 L530.6,189.1 L530.9,189.1 L531.2,189.1 L531.5,189.1 L531.8,189.1 L532.1,189.1 L532.4,189.1 L532.7,189.1 L533.0,189.1 L533.3,189.1 L533.6,189.1 L533.9,189.1 L534.2,189.1 L534.5,189.1 L534.8,189.2 L535.1,189.2 L535.4,189.2 L535.7,189.2 L536.0,189.2 L536.3,189.2 L536.6,189.2 L536.9,189.2 L537.2,189.2 L537.5,189.2 L537.8,189.2 L538.1,189.2 L538.4,189.2 L538.7,189.2 L539.0,189.2 L539.3,189.2 L539.6,189.2 L539.9,189.2 L540.2,189.2 L540.5,189.3 L540.8,189.3 L541.1,189.3 L541.4,189.3 L541.7,189.3 L542.0,189.3 L542.3,189.3 L542.6,189.3 L542.9,189.3 L543.2,189.3 L543.5,189.3 L543.8,189.3 L544.1,189.3 L544.4,189.3 L544.6,189.3 L544.9,189.3 L545.2,189.3 L545.5,189.3 L545.8,189.3 L546.1,189.3 L546.4,189.3 L546.7,189.3 L547.0,189.3 L547.3,189.3 L547.6,189.3 L547.9,189.3 L548.2,189.3 L548.5,189.4 L548.8,189.4 L549.1,189.4 L549.4,189.4 L549.7,189.4 L550.0,189.4 L550.3,189.4 L550.6,189.4 L550.9,189.4 L551.2,189.4 L551.5,189.4 L551.8,189.4 L552.1,189.4 L552.4,189.4 L552.7,189.4 L553.0,189.4 L553.3,189.4 L553.6,189.4 L553.9,189.4 L554.2,189.4 L554.5,189.4 L554.8,189.4 L555.1,189.4 L555.4,189.4 L555.7,189.4 L556.0,189.4 L556.3,189.4 L556.6,189.4 L556.9,189.4 L557.2,189.4 L557.5,189.4 L557.8,189.4 L558.1,189.4 L558.4,189.4 L558.6,189.4 L558.9,189.4 L559.2,189.4 L559.5,189.4 L559.8,189.4 L560.1,189.4 L560.4,189.4 L560.7,189.4 L561.0,189.4 L561.3,189.4 L561.6,189.4 L561.9,189.4 L562.2,189.4 L562.5,189.3 L562.8,189.3 L563.1,189.3 L563.4,189.3 L563.7,189.3 L564.0,189.3 L564.3,189.2 L564.6,189.2 L564.9,189.2 L565.2,189.2 L565.5,189.2 L565.8,189.1 L566.1,189.1 L566.4,189.1 L566.7,189.1 L567.0,189.0 L567.3,189.0 L567.6,189.0 L567.9,188.9 L568.2,188.9 L568.5,188.9 L568.8,188.8 L569.1,188.8 L569.4,188.7 L569.7,188.7 L570.0,188.7 L570.3,188.6 L570.6,188.6 L570.9,188.5 L571.2,188.5 L571.5,188.5 L571.8,188.4 L572.1,188.4 L572.4,188.3 L572.6,188.3 L572.9,188.2 L573.2,188.2 L573.5,188.1 L573.8,188.1 L574.1,188.0 L574.4,188.0 L574.7,187.9 L575.0,187.9 L575.3,187.8 L575.6,187.8 L575.9,187.7 L576.2,187.6 L576.5,187.6 L576.8,187.5 L577.1,187.5 L577.4,187.4 L577.7,187.4 L578.0,187.3 L578.3,187.3 L578.6,187.2 L578.9,187.1 L579.2,187.1 L579.5,187.0 L579.8,187.0 L580.1,186.9 L580.4,186.8 L580.7,186.8 L581.0,186.7 L581.3,186.7 L581.6,186.6 L581.9,186.5 L582.2,186.5 L582.5,186.4 L582.8,186.4 L583.1,186.3 L583.4,186.2 L583.7,186.2 L584.0,186.1 L584.3,186.1 L584.6,186.0 L584.9,185.9 L585.2,185.9 L585.5,185.8 L585.8,185.7 L586.1,185.7 L586.4,185.6 L586.6,185.6 L586.9,185.5 L587.2,185.4 L587.5,185.4 L587.8,185.3 L588.1,185.3 L588.4,185.2 L588.7,185.1 L589.0,185.1 L589.3,185.0 L589.6,185.0 L589.9,184.9 L590.2,184.9 L590.5,184.8 L590.8,184.7 L591.1,184.7 L591.4,184.6 L591.7,184.5 L592.0,184.5 L592.3,184.4 L592.6,184.3 L592.9,184.2 L593.2,184.2 L593.5,184.1 L593.8,184.0 L594.1,183.9 L594.4,183.8 L594.7,183.8 L595.0,183.7 L595.3,183.6 L595.6,183.5 L595.9,183.4 L596.2,183.3 L596.5,183.2 L596.8,183.1 L597.1,183.0 L597.4,182.9 L597.7,182.8 L598.0,182.7 L598.3,182.6 L598.6,182.5 L598.9,182.4 L599.2,182.3 L599.5,182.2 L599.8,182.1 L600.1,182.0 L600.4,181.9 L600.6,181.8 L600.9,181.7 L601.2,181.6 L601.5,181.5 L601.8,181.4 L602.1,181.3 L602.4,181.1 L602.7,181.0 L603.0,180.9 L603.3,180.8 L603.6,180.7 L603.9,180.6 L604.2,180.5 L604.5,180.4 L604.8,180.3 L605.1,180.2 L605.4,180.1 L605.7,179.9 L606.0,179.8 L606.3,179.7 L606.6,179.6 L606.9,179.5 L607.2,179.4 L607.5,179.3 L607.8,179.2 L608.1,179.1 L608.4,179.0 L608.7,178.9 L609.0,178.8 L609.3,178.7 L609.6,178.6 L609.9,178.5 L610.2,178.4 L610.5,178.3 L610.8,178.2 L611.1,178.1 L611.4,178.0 L611.7,177.9 L612.0,177.8 L612.3,177.7 L612.6,177.6 L612.9,177.5 L613.2,177.4 L613.5,177.4 L613.8,177.3 L614.1,177.2 L614.4,177.1 L614.6,177.0 L614.9,176.9 L615.2,176.9 L615.5,176.8 L615.8,176.7 L616.1,176.6 L616.4,176.6 L616.7,176.5 L617.0,176.4 L617.3,176.4 L617.6,176.3 L617.9,176.3 L618.2,176.2 L618.5,176.1 L618.8,176.1 L619.1,176.0 L619.4,176.0 L619.7,176.0 L620.0,175.9 L620.3,175.9 L620.6,175.8 L620.9,175.8 L621.2,175.8 L621.5,175.7 L621.8,175.7 L622.1,175.7 L622.4,175.7 L622.7,175.6 L623.0,175.6 L623.3,175.6 L623.6,175.6 L623.9,175.6 L624.2,175.6 L624.5,175.6 L624.8,175.6 L625.1,175.6 L625.4,175.6 L625.7,175.6 L626.0,175.6 L626.3,175.6 L626.6,175.6 L626.9,175.6 L627.2,175.6 L627.5,175.6 L627.8,175.6 L628.1,175.6 L628.4,175.6 L628.6,175.6 L628.9,175.6 L629.2,175.7 L629.5,175.7 L629.8,175.7 L630.1,175.7 L630.4,175.7 L630.7,175.7 L631.0,175.7 L631.3,175.7 L631.6,175.7 L631.9,175.7 L632.2,175.8 L632.5,175.8 L632.8,175.8 L633.1,175.8 L633.4,175.8 L633.7,175.8 L634.0,175.8 L634.3,175.8 L634.6,175.9 L634.9,175.9 L635.2,175.9 L635.5,175.9 L635.8,175.9 L636.1,176.0 L636.4,176.0 L636.7,176.0 L637.0,176.0 L637.3,176.0 L637.6,176.1 L637.9,176.1 L638.2,176.1 L638.5,176.1 L638.8,176.1 L639.1,176.2 L639.4,176.2 L639.7,176.2 L640.0,176.2 L640.3,176.3 L640.6,176.3 L640.9,176.3 L641.2,176.4 L641.5,176.4 L641.8,176.4 L642.1,176.5 L642.4,176.5 L642.6,176.5 L642.9,176.5 L643.2,176.6 L643.5,176.6 L643.8,176.7 L644.1,176.7 L644.4,176.7 L644.7,176.8 L645.0,176.8 L645.3,176.8 L645.6,176.9 L645.9,176.9 L646.2,177.0 L646.5,177.0 L646.8,177.0 L647.1,177.1 L647.4,177.1 L647.7,177.2 L648.0,177.2 L648.3,177.3 L648.6,177.3 L648.9,177.4 L649.2,177.4 L649.5,177.5 L649.8,177.5 L650.1,177.6 L650.4,177.6 L650.7,177.7 L651.0,177.7 L651.3,177.8 L651.6,177.8 L651.9,177.9 L652.2,177.9 L652.5,178.0 L652.8,178.1 L653.1,178.1 L653.4,178.2 L653.7,178.2 L654.0,178.3 L654.3,178.4 L654.6,178.4 L654.9,178.5 L655.2,178.6 L655.5,178.6 L655.8,178.7 L656.1,178.8 L656.4,178.8 L656.6,178.9 L656.9,179.0 L657.2,179.0 L657.5,179.1 L657.8,179.2 L658.1,179.3 L658.4,179.3 L658.7,179.4 L659.0,179.5 L659.3,179.6 L659.6,179.6 L659.9,179.7 L660.2,179.8 L660.5,179.9 L660.8,180.0 L661.1,180.0 L661.4,180.1 L661.7,180.2 L662.0,180.3 L662.3,180.4 L662.6,180.5 L662.9,180.6 L663.2,180.7 L663.5,180.8 L663.8,180.8 L664.1,180.9 L664.4,181.0 L664.7,181.1 L665.0,181.2 L665.3,181.3 L665.6,181.4 L665.9,181.5 L666.2,181.6 L666.5,181.7 L666.8,181.8 L667.1,181.9 L667.4,182.0 L667.7,182.1 L668.0,182.3 L668.3,182.4 L668.6,182.5 L668.9,182.6 L669.2,182.7 L669.5,182.8 L669.8,182.9 L670.1,183.0 L670.4,183.2 L670.6,183.3 L670.9,183.4 L671.2,183.5 L671.5,183.6 L671.8,183.8 L672.1,183.9 L672.4,184.0 L672.7,184.1 L673.0,184.3 L673.3,184.4 L673.6,184.5 L673.9,184.6 L674.2,184.8 L674.5,184.9 L674.8,185.0 L675.1,185.2 L675.4,185.3 L675.7,185.4 L676.0,185.6 L676.3,185.7 L676.6,185.9 L676.9,186.0 L677.2,186.2 L677.5,186.3" fill="none" stroke="#3e42c0" stroke-width="0.65" />
<path d="M439.5,244.2 L439.8,244.2 L440.1,244.1 L440.4,244.1 L440.7,244.0 L441.0,244.0 L441.3,243.9 L441.6,243.9 L441.9,243.8 L442.2,243.7 L442.5,243.7 L442.8,243.6 L443.1,243.5 L443.4,243.5 L443.7,243.4 L444.0,243.3 L444.3,243.2 L444.6,243.1 L444.9,243.0 L445.2,242.9 L445.5,242.8 L445.8,242.7 L446.1,242.6 L446.4,242.5 L446.6,242.4 L446.9,242.3 L447.2,242.2 L447.5,242.0 L447.8,241.9 L448.1,241.8 L448.4,241.7 L448.7,241.5 L449.0,241.4 L449.3,241.3 L449.6,241.1 L449.9,241.0 L450.2,240.8 L450.5,240.7 L450.8,240.6 L451.1,240.4 L451.4,240.3 L451.7,240.1 L452.0,239.9 L452.3,239.8 L452.6,239.6 L452.9,239.5 L453.2,239.3 L453.5,239.1 L453.8,239.0 L454.1,238.8 L454.4,238.6 L454.7,238.4 L455.0,238.3 L455.3,238.1 L455.6,237.9 L455.9,237.7 L456.2,237.6 L456.5,237.4 L456.8,237.2 L457.1,237.0 L457.4,236.8 L457.7,236.6 L458.0,236.4 L458.3,236.2 L458.6,236.0 L458.9,235.8 L459.2,235.7 L459.5,235.5 L459.8,235.3 L460.1,235.1 L460.4,234.9 L460.6,234.7 L460.9,234.5 L461.2,234.2 L461.5,234.0 L461.8,233.8 L462.1,233.6 L462.4,233.4 L462.7,233.2 L463.0,233.0 L463.3,232.8 L463.6,232.6 L463.9,232.4 L464.2,232.2 L464.5,232.0 L464.8,231.7 L465.1,231.5 L465.4,231.3 L465.7,231.1 L466.0,230.9 L466.3,230.7 L466.6,230.4 L466.9,230.2 L467.2,229.9 L467.5,229.7 L467.8,229.4 L468.1,229.1 L468.4,228.8 L468.7,228.5 L469.0,228.2 L469.3,227.9 L469.6,227.5 L469.9,227.2 L470.2,226.8 L470.5,226.5 L470.8,226.1 L471.1,225.8 L471.4,225.4 L471.7,225.0 L472.0,224.6 L472.3,224.3 L472.6,223.9 L472.9,223.5 L473.2,223.1 L473.5,222.7 L473.8,222.3 L474.1,221.9 L474.4,221.5 L474.6,221.1 L474.9,220.8 L475.2,220.4 L475.5,220.0 L475.8,219.6 L476.1,219.2 L476.4,218.8 L476.7,218.4 L477.0,218.1 L477.3,217.7 L477.6,217.3 L477.9,217.0 L478.2,216.6 L478.5,216.3 L478.8,215.9 L479.1,215.6 L479.4,215.3 L479.7,215.0 L480.0,214.7 L480.3,214.4 L480.6,214.1 L480.9,213.8 L481.2,213.6 L481.5,213.3 L481.8,213.1 L482.1,212.8 L482.4,212.6 L482.7,212.4 L483.0,212.2 L483.3,211.9 L483.6,211.7 L483.9,211.5 L484.2,211.3 L484.5,211.1 L484.8,210.9 L485.1,210.6 L485.4,210.4 L485.7,210.2 L486.0,210.0 L486.3,209.8 L486.6,209.6 L486.9,209.4 L487.2,209.2 L487.5,209.0 L487.8,208.8 L488.1,208.7 L488.4,208.5 L488.6,208.3 L488.9,208.1 L489.2,207.9 L489.5,207.7 L489.8,207.6 L490.1,207.4 L490.4,207.2 L490.7,207.0 L491.0,206.9 L491.3,206.7 L491.6,206.6 L491.9,206.4 L492.2,206.2 L492.5,206.1 L492.8,205.9 L493.1,205.8 L493.4,205.6 L493.7,205.5 L494.0,205.3 L494.3,205.2 L494.6,205.1 L494.9,204.9 L495.2,204.8 L495.5,204.7 L495.8,204.6 L496.1,204.4 L496.4,204.3 L496.7,204.2 L497.0,204.1 L497.3,204.0 L497.6,203.9 L497.9,203.8 L498.2,203.7 L498.5,203.5 L498.8,203.4 L499.1,203.3 L499.4,203.2 L499.7,203.1 L500.0,203.0 L500.3,202.9 L500.6,202.8 L500.9,202.7 L501.2,202.6 L501.5,202.5 L501.8,202.4 L502.1,202.3 L502.4,202.2 L502.6,202.1 L502.9,202.0 L503.2,201.9 L503.5,201.8 L503.8,201.7 L504.1,201.6 L504.4,201.5 L504.7,201.4 L505.0,201.3 L505.3,201.2 L505.6,201.1 L505.9,201.1 L506.2,201.0 L506.5,200.9 L506.8,200.8 L507.1,200.7 L507.4,200.6 L507.7,200.5 L508.0,200.5 L508.3,200.4 L508.6,200.3 L508.9,200.2 L509.2,200.2 L509.5,200.1 L509.8,200.0 L510.1,200.0 L510.4,199.9 L510.7,199.9 L511.0,199.8 L511.3,199.7 L511.6,199.7 L511.9,199.6 L512.2,199.6 L512.5,199.5 L512.8,199.5 L513.1,199.5 L513.4,199.4 L513.7,199.4 L514.0,199.3 L514.3,199.3 L514.6,199.3 L514.9,199.3 L515.2,199.2 L515.5,199.2 L515.8,199.2 L516.1,199.2 L516.4,199.2 L516.6,199.2 L516.9,199.2 L517.2,199.2 L517.5,199.1 L517.8,199.1 L518.1,199.1 L518.4,199.1 L518.7,199.1 L519.0,199.1 L519.3,199.1 L519.6,199.1 L519.9,199.1 L520.2,199.0 L520.5,199.0 L520.8,199.0 L521.1,199.0 L521.4,199.0 L521.7,199.0 L522.0,199.0 L522.3,199.0 L522.6,199.0 L522.9,199.0 L523.2,198.9 L523.5,198.9 L523.8,198.9 L524.1,198.9 L524.4,198.9 L524.7,198.9 L525.0,198.9 L525.3,198.9 L525.6,198.9 L525.9,198.9 L526.2,198.9 L526.5,198.9 L526.8,198.8 L527.1,198.8 L527.4,198.8 L527.7,198.8 L528.0,198.8 L528.3,198.8 L528.6,198.8 L528.9,198.8 L529.2,198.8 L529.5,198.8 L529.8,198.8 L530.1,198.8 L530.4,198.7 L530.6,198.7 L530.9,198.7 L531.2,198.7 L531.5,198.7 L531.8,198.7 L532.1,198.7 L532.4,198.7 L532.7,198.7 L533.0,198.7 L533.3,198.7 L533.6,198.7 L533.9,198.7 L534.2,198.7 L534.5,198.7 L534.8,198.6 L535.1,198.6 L535.4,198.6 L535.7,198.6 L536.0,198.6 L536.3,198.6 L536.6,198.6 L536.9,198.6 L537.2,198.6 L537.5,198.6 L537.8,198.6 L538.1,198.6 L538.4,198.6 L538.7,198.6 L539.0,198.6 L539.3,198.6 L539.6,198.6 L539.9,198.6 L540.2,198.6 L540.5,198.5 L540.8,198.5 L541.1,198.5 L541.4,198.5 L541.7,198.5 L542.0,198.5 L542.3,198.5 L542.6,198.5 L542.9,198.5 L543.2,198.5 L543.5,198.5 L543.8,198.5 L544.1,198.5 L544.4,198.5 L544.6,198.5 L544.9,198.5 L545.2,198.5 L545.5,198.5 L545.8,198.5 L546.1,198.5 L546.4,198.5 L546.7,198.5 L547.0,198.5 L547.3,198.5 L547.6,198.5 L547.9,198.5 L548.2,198.5 L548.5,198.4 L548.8,198.4 L549.1,198.4 L549.4,198.4 L549.7,198.4 L550.0,198.4 L550.3,198.4 L550.6,198.4 L550.9,198.4 L551.2,198.4 L551.5,198.4 L551.8,198.4 L552.1,198.4 L552.4,198.4 L552.7,198.4 L553.0,198.4 L553.3,198.4 L553.6,198.4 L553.9,198.4 L554.2,198.4 L554.5,198.4 L554.8,198.4 L555.1,198.4 L555.4,198.4 L555.7,198.4 L556.0,198.4 L556.3,198.4 L556.6,198.4 L556.9,198.4 L557.2,198.4 L557.5,198.4 L557.8,198.4 L558.1,198.4 L558.4,198.4 L558.6,198.4 L558.9,198.4 L559.2,198.4 L559.5,198.4 L559.8,198.4 L560.1,198.4 L560.4,198.4 L560.7,198.4 L561.0,198.4 L561.3,198.4 L561.6,198.4 L561.9,198.4 L562.2,198.4 L562.5,198.5 L562.8,198.5 L563.1,198.5 L563.4,198.5 L563.7,198.5 L564.0,198.5 L564.3,198.6 L564.6,198.6 L564.9,198.6 L565.2,198.6 L565.5,198.6 L565.8,198.7 L566.1,198.7 L566.4,198.7 L566.7,198.7 L567.0,198.8 L567.3,198.8 L567.6,198.8 L567.9,198.9 L568.2,198.9 L568.5,198.9 L568.8,199.0 L569.1,199.0 L569.4,199.1 L569.7,199.1 L570.0,199.1 L570.3,199.2 L570.6,199.2 L570.9,199.3 L571.2,199.3 L571.5,199.3 L571.8,199.4 L572.1,199.4 L572.4,199.5 L572.6,199.5 L572.9,199.6 L573.2,199.6 L573.5,199.7 L573.8,199.7 L574.1,199.8 L574.4,199.8 L574.7,199.9 L575.0,199.9 L575.3,200.0 L575.6,200.0 L575.9,200.1 L576.2,200.2 L576.5,200.2 L576.8,200.3 L577.1,200.3 L577.4,200.4 L577.7,200.4 L578.0,200.5 L578.3,200.5 L578.6,200.6 L578.9,200.7 L579.2,200.7 L579.5,200.8 L579.8,200.8 L580.1,200.9 L580.4,201.0 L580.7,201.0 L581.0,201.1 L581.3,201.1 L581.6,201.2 L581.9,201.3 L582.2,201.3 L582.5,201.4 L582.8,201.4 L583.1,201.5 L583.4,201.6 L583.7,201.6 L584.0,201.7 L584.3,201.7 L584.6,201.8 L584.9,201.9 L585.2,201.9 L585.5,202.0 L585.8,202.1 L586.1,202.1 L586.4,202.2 L586.6,202.2 L586.9,202.3 L587.2,202.4 L587.5,202.4 L587.8,202.5 L588.1,202.5 L588.4,202.6 L588.7,202.7 L589.0,202.7 L589.3,202.8 L589.6,202.8 L589.9,202.9 L590.2,202.9 L590.5,203.0 L590.8,203.1 L591.1,203.1 L591.4,203.2 L591.7,203.3 L592.0,203.3 L592.3,203.4 L592.6,203.5 L592.9,203.6 L593.2,203.6 L593.5,203.7 L593.8,203.8 L594.1,203.9 L594.4,204.0 L594.7,204.0 L595.0,204.1 L595.3,204.2 L595.6,204.3 L595.9,204.4 L596.2,204.5 L596.5,204.6 L596.8,204.7 L597.1,204.8 L597.4,204.9 L597.7,205.0 L598.0,205.1 L598.3,205.2 L598.6,205.3 L598.9,205.4 L599.2,205.5 L599.5,205.6 L599.8,205.7 L600.1,205.8 L600.4,205.9 L600.6,206.0 L600.9,206.1 L601.2,206.2 L601.5,206.3 L601.8,206.4 L602.1,206.5 L602.4,206.7 L602.7,206.8 L603.0,206.9 L603.3,207.0 L603.6,207.1 L603.9,207.2 L604.2,207.3 L604.5,207.4 L604.8,207.5 L605.1,207.6 L605.4,207.7 L605.7,207.9 L606.0,208.0 L606.3,208.1 L606.6,208.2 L606.9,208.3 L607.2,208.4 L607.5,208.5 L607.8,208.6 L608.1,208.7 L608.4,208.8 L608.7,208.9 L609.0,209.0 L609.3,209.1 L609.6,209.2 L609.9,209.3 L610.2,209.4 L610.5,209.5 L610.8,209.6 L611.1,209.7 L611.4,209.8 L611.7,209.9 L612.0,210.0 L612.3,210.1 L612.6,210.2 L612.9,210.3 L613.2,210.4 L613.5,210.4 L613.8,210.5 L614.1,210.6 L614.4,210.7 L614.6,210.8 L614.9,210.9 L615.2,210.9 L615.5,211.0 L615.8,211.1 L616.1,211.2 L616.4,211.2 L616.7,211.3 L617.0,211.4 L617.3,211.4 L617.6,211.5 L617.9,211.5 L618.2,211.6 L618.5,211.7 L618.8,211.7 L619.1,211.8 L619.4,211.8 L619.7,211.8 L620.0,211.9 L620.3,211.9 L620.6,212.0 L620.9,212.0 L621.2,212.0 L621.5,212.1 L621.8,212.1 L622.1,212.1 L622.4,212.1 L622.7,212.2 L623.0,212.2 L623.3,212.2 L623.6,212.2 L623.9,212.2 L624.2,212.2 L624.5,212.2 L624.8,212.2 L625.1,212.2 L625.4,212.2 L625.7,212.2 L626.0,212.2 L626.3,212.2 L626.6,212.2 L626.9,212.2 L627.2,212.2 L627.5,212.2 L627.8,212.2 L628.1,212.2 L628.4,212.2 L628.6,212.2 L628.9,212.2 L629.2,212.1 L629.5,212.1 L629.8,212.1 L630.1,212.1 L630.4,212.1 L630.7,212.1 L631.0,212.1 L631.3,212.1 L631.6,212.1 L631.9,212.1 L632.2,212.0 L632.5,212.0 L632.8,212.0 L633.1,212.0 L633.4,212.0 L633.7,212.0 L634.0,212.0 L634.3,212.0 L634.6,211.9 L634.9,211.9 L635.2,211.9 L635.5,211.9 L635.8,211.9 L636.1,211.8 L636.4,211.8 L636.7,211.8 L637.0,211.8 L637.3,211.8 L637.6,211.7 L637.9,211.7 L638.2,211.7 L638.5,211.7 L638.8,211.7 L639.1,211.6 L639.4,211.6 L639.7,211.6 L640.0,211.6 L640.3,211.5 L640.6,211.5 L640.9,211.5 L641.2,211.4 L641.5,211.4 L641.8,211.4 L642.1,211.3 L642.4,211.3 L642.6,211.3 L642.9,211.3 L643.2,211.2 L643.5,211.2 L643.8,211.1 L644.1,211.1 L644.4,211.1 L644.7,211.0 L645.0,211.0 L645.3,211.0 L645.6,210.9 L645.9,210.9 L646.2,210.8 L646.5,210.8 L646.8,210.8 L647.1,210.7 L647.4,210.7 L647.7,210.6 L648.0,210.6 L648.3,210.5 L648.6,210.5 L648.9,210.4 L649.2,210.4 L649.5,210.3 L649.8,210.3 L650.1,210.2 L650.4,210.2 L650.7,210.1 L651.0,210.1 L651.3,210.0 L651.6,210.0 L651.9,209.9 L652.2,209.9 L652.5,209.8 L652.8,209.7 L653.1,209.7 L653.4,209.6 L653.7,209.6 L654.0,209.5 L654.3,209.4 L654.6,209.4 L654.9,209.3 L655.2,209.2 L655.5,209.2 L655.8,209.1 L656.1,209.0 L656.4,209.0 L656.6,208.9 L656.9,208.8 L657.2,208.8 L657.5,208.7 L657.8,208.6 L658.1,208.5 L658.4,208.5 L658.7,208.4 L659.0,208.3 L659.3,208.2 L659.6,208.2 L659.9,208.1 L660.2,208.0 L660.5,207.9 L660.8,207.8 L661.1,207.8 L661.4,207.7 L661.7,207.6 L662.0,207.5 L662.3,207.4 L662.6,207.3 L662.9,207.2 L663.2,207.1 L663.5,207.0 L663.8,207.0 L664.1,206.9 L664.4,206.8 L664.7,206.7 L665.0,206.6 L665.3,206.5 L665.6,206.4 L665.9,206.3 L666.2,206.2 L666.5,206.1 L666.8,206.0 L667.1,205.9 L667.4,205.8 L667.7,205.7 L668.0,205.5 L668.3,205.4 L668.6,205.3 L668.9,205.2 L669.2,205.1 L669.5,205.0 L669.8,204.9 L670.1,204.8 L670.4,204.6 L670.6,204.5 L670.9,204.4 L671.2,204.3 L671.5,204.2 L671.8,204.0 L672.1,203.9 L672.4,203.8 L672.7,203.7 L673.0,203.5 L673.3,203.4 L673.6,203.3 L673.9,203.2 L674.2,203.0 L674.5,202.9 L674.8,202.8 L675.1,202.6 L675.4,202.5 L675.7,202.4 L676.0,202.2 L676.3,202.1 L676.6,201.9 L676.9,201.8 L677.2,201.6 L677.5,201.5" fill="none" stroke="#3e42c0" stroke-width="0.65" />
<rect x="439.50" y="143.60" width="238.00" height="100.60" fill="none" stroke="#7a7a7a" stroke-width="1.0"/>
<line x1="487.10" y1="244.20" x2="487.10" y2="241.70" stroke="#7a7a7a" stroke-width="0.8"/>
<line x1="534.70" y1="244.20" x2="534.70" y2="241.70" stroke="#7a7a7a" stroke-width="0.8"/>
<line x1="582.30" y1="244.20" x2="582.30" y2="241.70" stroke="#7a7a7a" stroke-width="0.8"/>
<line x1="629.90" y1="244.20" x2="629.90" y2="241.70" stroke="#7a7a7a" stroke-width="0.8"/>
<line x1="439.50" y1="168.75" x2="442.00" y2="168.75" stroke="#7a7a7a" stroke-width="0.8"/>
<line x1="439.50" y1="193.90" x2="442.00" y2="193.90" stroke="#7a7a7a" stroke-width="0.8"/>
<line x1="439.50" y1="219.05" x2="442.00" y2="219.05" stroke="#7a7a7a" stroke-width="0.8"/>
<text transform="translate(404.00,145.10) scale(0.9,1)" font-size="15" font-weight="bold" fill="#111">d</text>
<text x="435.40" y="148.40" font-size="9.3" text-anchor="end" fill="#1e1e1e" font-weight="normal" stroke="#1e1e1e" stroke-width="0.18" >1</text>
<text x="436.20" y="247.60" font-size="9.3" text-anchor="end" fill="#1e1e1e" font-weight="normal" stroke="#1e1e1e" stroke-width="0.18" >0</text>
<text x="0" y="0" font-size="9.8" text-anchor="middle" fill="#1e1e1e" stroke="#1e1e1e" stroke-width="0.18" transform="translate(422.40,193.80) rotate(-90)">Effective qubit pop.</text>
<line x1="569.5" y1="153.7" x2="579.5" y2="153.7" stroke="#b01a20" stroke-width="0.7"/>
<g fill="#b01a20"><circle cx="570.0" cy="153.7" r="1.2"/><circle cx="579.0" cy="153.7" r="1.2"/></g>
<text x="587.50" y="157.00" font-size="8.4" text-anchor="start" fill="#1e1e1e" font-weight="normal" stroke="#1e1e1e" stroke-width="0.18" >Quantum simulation</text>
<line x1="565" y1="163" x2="583.6" y2="163" stroke="#4448c4" stroke-width="0.6"/>
<text x="587.50" y="166.70" font-size="8.4" text-anchor="start" fill="#1e1e1e" font-weight="normal" stroke="#1e1e1e" stroke-width="0.18" >Rotating frame</text>
<path d="M440.0,306.5V316.5M441.6,311.1V327.9M443.1,301.8V317.5M444.7,291.2V307.2M446.2,297.7V310.0M447.8,281.2V294.5M449.3,288.5V299.9M450.9,281.4V296.3M452.4,261.3V278.0M454.0,264.6V280.8M455.5,266.2V283.6M457.1,276.2V288.3M458.6,293.1V308.7M460.2,306.4V317.4M461.7,308.1V322.4M463.3,297.1V308.0M464.8,283.4V297.7M466.4,276.6V291.0M467.9,277.4V290.2M469.5,271.4V284.2M471.0,274.9V290.6M472.6,288.2V302.0M474.1,294.3V307.5M475.7,285.2V296.1M477.2,275.2V287.5M478.8,269.6V286.4M480.3,271.0V288.8M481.9,273.4V286.4M483.4,268.0V284.9M485.0,265.5V282.5M486.5,263.6V275.3M488.1,267.6V279.8M489.6,272.2V287.7M491.2,273.1V285.6M492.7,267.0V284.7M494.3,271.3V284.2M495.8,264.8V280.6M497.4,265.7V281.3M498.9,271.1V282.8M500.5,268.4V285.3M502.0,276.8V289.5M503.6,276.2V287.1M505.1,292.4V302.8M506.7,262.7V276.3M508.2,268.6V283.7M509.8,263.9V276.1M511.3,269.9V286.6M512.9,277.0V289.1M514.4,272.4V289.2M516.0,275.9V286.2M517.5,282.0V294.1M519.1,276.7V288.0M520.6,268.5V282.1M522.2,264.4V277.2M523.7,271.6V284.8M525.3,265.4V282.2M526.8,271.8V286.5M528.4,278.5V293.4M529.9,273.1V286.2M531.5,265.1V281.5M533.0,261.7V275.7M534.6,260.6V276.5M536.1,269.4V286.7M537.7,280.8V295.7M539.2,272.3V285.8M540.8,261.7V273.8M542.3,266.0V283.3M543.9,265.1V281.2M545.4,257.4V273.8M547.0,266.1V277.9M548.5,272.3V285.8M550.1,272.0V289.1M551.6,275.4V287.3M553.2,270.6V287.1M554.7,273.3V287.6M556.3,281.7V293.4M557.8,273.9V286.9M559.4,273.8V284.4M560.9,278.4V293.8M562.5,279.6V295.4M564.0,277.3V287.5M565.6,272.8V285.3M567.1,275.4V291.5M568.7,277.2V288.8M570.2,271.1V285.4M571.8,271.1V287.5M573.3,267.8V282.3M574.9,283.1V294.1M576.4,290.6V307.9M578.0,284.1V300.0M579.5,281.4V296.0M581.1,281.9V294.6M582.6,278.0V292.7M584.2,277.3V290.5M585.7,292.0V302.9M587.3,291.5V302.4M588.8,295.8V306.2M590.4,292.5V303.9M591.9,295.4V307.4M593.5,289.9V305.0M595.0,287.6V302.2M596.6,292.1V306.8M598.1,290.5V307.1M599.7,300.8V311.6M601.2,300.6V313.7M602.8,314.6V325.3M604.3,304.2V317.5M605.9,295.4V306.1M607.4,305.9V316.4M609.0,303.6V314.5M610.5,288.8V301.9M612.1,284.2V300.3M613.6,290.9V303.2M615.2,298.9V314.8M616.7,298.0V309.8M618.3,307.8V320.1M619.8,302.1V315.9M621.4,299.4V310.0M622.9,304.2V317.8M624.5,302.8V317.5M626.0,285.9V302.5M627.6,286.8V297.2M629.1,280.6V297.0M630.7,281.6V296.2M632.2,287.1V301.7M633.8,302.3V312.7M635.3,292.9V309.9M636.9,293.4V305.6M638.4,284.9V299.3M640.0,273.5V287.8M641.5,276.6V293.8M643.1,282.4V297.2M644.6,275.0V293.0M646.2,289.7V301.5M647.7,285.3V300.6M649.3,285.3V299.9M650.8,279.3V293.4M652.4,275.5V290.5M653.9,277.6V292.0M655.5,281.7V294.4M657.0,276.9V292.1M658.6,275.1V285.7M660.1,268.7V282.5M661.7,277.3V291.0M663.2,285.7V297.4M664.8,269.0V283.5M666.3,265.5V280.9M667.9,266.6V277.6M669.4,271.5V283.9M671.0,269.9V280.4M672.5,277.4V292.2M674.1,270.3V281.0M675.6,269.5V281.3" stroke="#b0b0b0" stroke-width="0.85" fill="none"/>
<path d="M440.0,311.5 L441.6,319.5 L443.1,309.7 L444.7,299.2 L446.2,303.8 L447.8,287.8 L449.3,294.2 L450.9,288.8 L452.4,269.6 L454.0,272.7 L455.5,274.9 L457.1,282.2 L458.6,300.9 L460.2,311.9 L461.7,315.3 L463.3,302.6 L464.8,290.5 L466.4,283.8 L467.9,283.8 L469.5,277.8 L471.0,282.7 L472.6,295.1 L474.1,300.9 L475.7,290.6 L477.2,281.3 L478.8,278.0 L480.3,279.9 L481.9,279.9 L483.4,276.5 L485.0,274.0 L486.5,269.4 L488.1,273.7 L489.6,280.0 L491.2,279.4 L492.7,275.9 L494.3,277.7 L495.8,272.7 L497.4,273.5 L498.9,276.9 L500.5,276.8 L502.0,283.1 L503.6,281.6 L505.1,297.6 L506.7,269.5 L508.2,276.2 L509.8,270.0 L511.3,278.2 L512.9,283.0 L514.4,280.8 L516.0,281.0 L517.5,288.1 L519.1,282.3 L520.6,275.3 L522.2,270.8 L523.7,278.2 L525.3,273.8 L526.8,279.1 L528.4,285.9 L529.9,279.7 L531.5,273.3 L533.0,268.7 L534.6,268.5 L536.1,278.0 L537.7,288.2 L539.2,279.0 L540.8,267.8 L542.3,274.6 L543.9,273.2 L545.4,265.6 L547.0,272.0 L548.5,279.0 L550.1,280.6 L551.6,281.3 L553.2,278.9 L554.7,280.4 L556.3,287.6 L557.8,280.4 L559.4,279.1 L560.9,286.1 L562.5,287.5 L564.0,282.4 L565.6,279.1 L567.1,283.5 L568.7,283.0 L570.2,278.2 L571.8,279.3 L573.3,275.1 L574.9,288.6 L576.4,299.3 L578.0,292.1 L579.5,288.7 L581.1,288.3 L582.6,285.4 L584.2,283.9 L585.7,297.5 L587.3,296.9 L588.8,301.0 L590.4,298.2 L591.9,301.4 L593.5,297.5 L595.0,294.9 L596.6,299.5 L598.1,298.8 L599.7,306.2 L601.2,307.1 L602.8,320.0 L604.3,310.9 L605.9,300.8 L607.4,311.1 L609.0,309.0 L610.5,295.3 L612.1,292.2 L613.6,297.1 L615.2,306.8 L616.7,303.9 L618.3,314.0 L619.8,309.0 L621.4,304.7 L622.9,311.0 L624.5,310.2 L626.0,294.2 L627.6,292.0 L629.1,288.8 L630.7,288.9 L632.2,294.4 L633.8,307.5 L635.3,301.4 L636.9,299.5 L638.4,292.1 L640.0,280.7 L641.5,285.2 L643.1,289.8 L644.6,284.0 L646.2,295.6 L647.7,292.9 L649.3,292.6 L650.8,286.4 L652.4,283.0 L653.9,284.8 L655.5,288.1 L657.0,284.5 L658.6,280.4 L660.1,275.6 L661.7,284.2 L663.2,291.5 L664.8,276.3 L666.3,273.2 L667.9,272.1 L669.4,277.7 L671.0,275.2 L672.5,284.8 L674.1,275.6 L675.6,275.4" fill="none" stroke="#505050" stroke-width="0.6" />
<g fill="#111"><circle cx="440.0" cy="311.5" r="1.2"/><circle cx="441.6" cy="319.5" r="1.2"/><circle cx="443.1" cy="309.7" r="1.2"/><circle cx="444.7" cy="299.2" r="1.2"/><circle cx="446.2" cy="303.8" r="1.2"/><circle cx="447.8" cy="287.8" r="1.2"/><circle cx="449.3" cy="294.2" r="1.2"/><circle cx="450.9" cy="288.8" r="1.2"/><circle cx="452.4" cy="269.6" r="1.2"/><circle cx="454.0" cy="272.7" r="1.2"/><circle cx="455.5" cy="274.9" r="1.2"/><circle cx="457.1" cy="282.2" r="1.2"/><circle cx="458.6" cy="300.9" r="1.2"/><circle cx="460.2" cy="311.9" r="1.2"/><circle cx="461.7" cy="315.3" r="1.2"/><circle cx="463.3" cy="302.6" r="1.2"/><circle cx="464.8" cy="290.5" r="1.2"/><circle cx="466.4" cy="283.8" r="1.2"/><circle cx="467.9" cy="283.8" r="1.2"/><circle cx="469.5" cy="277.8" r="1.2"/><circle cx="471.0" cy="282.7" r="1.2"/><circle cx="472.6" cy="295.1" r="1.2"/><circle cx="474.1" cy="300.9" r="1.2"/><circle cx="475.7" cy="290.6" r="1.2"/><circle cx="477.2" cy="281.3" r="1.2"/><circle cx="478.8" cy="278.0" r="1.2"/><circle cx="480.3" cy="279.9" r="1.2"/><circle cx="481.9" cy="279.9" r="1.2"/><circle cx="483.4" cy="276.5" r="1.2"/><circle cx="485.0" cy="274.0" r="1.2"/><circle cx="486.5" cy="269.4" r="1.2"/><circle cx="488.1" cy="273.7" r="1.2"/><circle cx="489.6" cy="280.0" r="1.2"/><circle cx="491.2" cy="279.4" r="1.2"/><circle cx="492.7" cy="275.9" r="1.2"/><circle cx="494.3" cy="277.7" r="1.2"/><circle cx="495.8" cy="272.7" r="1.2"/><circle cx="497.4" cy="273.5" r="1.2"/><circle cx="498.9" cy="276.9" r="1.2"/><circle cx="500.5" cy="276.8" r="1.2"/><circle cx="502.0" cy="283.1" r="1.2"/><circle cx="503.6" cy="281.6" r="1.2"/><circle cx="505.1" cy="297.6" r="1.2"/><circle cx="506.7" cy="269.5" r="1.2"/><circle cx="508.2" cy="276.2" r="1.2"/><circle cx="509.8" cy="270.0" r="1.2"/><circle cx="511.3" cy="278.2" r="1.2"/><circle cx="512.9" cy="283.0" r="1.2"/><circle cx="514.4" cy="280.8" r="1.2"/><circle cx="516.0" cy="281.0" r="1.2"/><circle cx="517.5" cy="288.1" r="1.2"/><circle cx="519.1" cy="282.3" r="1.2"/><circle cx="520.6" cy="275.3" r="1.2"/><circle cx="522.2" cy="270.8" r="1.2"/><circle cx="523.7" cy="278.2" r="1.2"/><circle cx="525.3" cy="273.8" r="1.2"/><circle cx="526.8" cy="279.1" r="1.2"/><circle cx="528.4" cy="285.9" r="1.2"/><circle cx="529.9" cy="279.7" r="1.2"/><circle cx="531.5" cy="273.3" r="1.2"/><circle cx="533.0" cy="268.7" r="1.2"/><circle cx="534.6" cy="268.5" r="1.2"/><circle cx="536.1" cy="278.0" r="1.2"/><circle cx="537.7" cy="288.2" r="1.2"/><circle cx="539.2" cy="279.0" r="1.2"/><circle cx="540.8" cy="267.8" r="1.2"/><circle cx="542.3" cy="274.6" r="1.2"/><circle cx="543.9" cy="273.2" r="1.2"/><circle cx="545.4" cy="265.6" r="1.2"/><circle cx="547.0" cy="272.0" r="1.2"/><circle cx="548.5" cy="279.0" r="1.2"/><circle cx="550.1" cy="280.6" r="1.2"/><circle cx="551.6" cy="281.3" r="1.2"/><circle cx="553.2" cy="278.9" r="1.2"/><circle cx="554.7" cy="280.4" r="1.2"/><circle cx="556.3" cy="287.6" r="1.2"/><circle cx="557.8" cy="280.4" r="1.2"/><circle cx="559.4" cy="279.1" r="1.2"/><circle cx="560.9" cy="286.1" r="1.2"/><circle cx="562.5" cy="287.5" r="1.2"/><circle cx="564.0" cy="282.4" r="1.2"/><circle cx="565.6" cy="279.1" r="1.2"/><circle cx="567.1" cy="283.5" r="1.2"/><circle cx="568.7" cy="283.0" r="1.2"/><circle cx="570.2" cy="278.2" r="1.2"/><circle cx="571.8" cy="279.3" r="1.2"/><circle cx="573.3" cy="275.1" r="1.2"/><circle cx="574.9" cy="288.6" r="1.2"/><circle cx="576.4" cy="299.3" r="1.2"/><circle cx="578.0" cy="292.1" r="1.2"/><circle cx="579.5" cy="288.7" r="1.2"/><circle cx="581.1" cy="288.3" r="1.2"/><circle cx="582.6" cy="285.4" r="1.2"/><circle cx="584.2" cy="283.9" r="1.2"/><circle cx="585.7" cy="297.5" r="1.2"/><circle cx="587.3" cy="296.9" r="1.2"/><circle cx="588.8" cy="301.0" r="1.2"/><circle cx="590.4" cy="298.2" r="1.2"/><circle cx="591.9" cy="301.4" r="1.2"/><circle cx="593.5" cy="297.5" r="1.2"/><circle cx="595.0" cy="294.9" r="1.2"/><circle cx="596.6" cy="299.5" r="1.2"/><circle cx="598.1" cy="298.8" r="1.2"/><circle cx="599.7" cy="306.2" r="1.2"/><circle cx="601.2" cy="307.1" r="1.2"/><circle cx="602.8" cy="320.0" r="1.2"/><circle cx="604.3" cy="310.9" r="1.2"/><circle cx="605.9" cy="300.8" r="1.2"/><circle cx="607.4" cy="311.1" r="1.2"/><circle cx="609.0" cy="309.0" r="1.2"/><circle cx="610.5" cy="295.3" r="1.2"/><circle cx="612.1" cy="292.2" r="1.2"/><circle cx="613.6" cy="297.1" r="1.2"/><circle cx="615.2" cy="306.8" r="1.2"/><circle cx="616.7" cy="303.9" r="1.2"/><circle cx="618.3" cy="314.0" r="1.2"/><circle cx="619.8" cy="309.0" r="1.2"/><circle cx="621.4" cy="304.7" r="1.2"/><circle cx="622.9" cy="311.0" r="1.2"/><circle cx="624.5" cy="310.2" r="1.2"/><circle cx="626.0" cy="294.2" r="1.2"/><circle cx="627.6" cy="292.0" r="1.2"/><circle cx="629.1" cy="288.8" r="1.2"/><circle cx="630.7" cy="288.9" r="1.2"/><circle cx="632.2" cy="294.4" r="1.2"/><circle cx="633.8" cy="307.5" r="1.2"/><circle cx="635.3" cy="301.4" r="1.2"/><circle cx="636.9" cy="299.5" r="1.2"/><circle cx="638.4" cy="292.1" r="1.2"/><circle cx="640.0" cy="280.7" r="1.2"/><circle cx="641.5" cy="285.2" r="1.2"/><circle cx="643.1" cy="289.8" r="1.2"/><circle cx="644.6" cy="284.0" r="1.2"/><circle cx="646.2" cy="295.6" r="1.2"/><circle cx="647.7" cy="292.9" r="1.2"/><circle cx="649.3" cy="292.6" r="1.2"/><circle cx="650.8" cy="286.4" r="1.2"/><circle cx="652.4" cy="283.0" r="1.2"/><circle cx="653.9" cy="284.8" r="1.2"/><circle cx="655.5" cy="288.1" r="1.2"/><circle cx="657.0" cy="284.5" r="1.2"/><circle cx="658.6" cy="280.4" r="1.2"/><circle cx="660.1" cy="275.6" r="1.2"/><circle cx="661.7" cy="284.2" r="1.2"/><circle cx="663.2" cy="291.5" r="1.2"/><circle cx="664.8" cy="276.3" r="1.2"/><circle cx="666.3" cy="273.2" r="1.2"/><circle cx="667.9" cy="272.1" r="1.2"/><circle cx="669.4" cy="277.7" r="1.2"/><circle cx="671.0" cy="275.2" r="1.2"/><circle cx="672.5" cy="284.8" r="1.2"/><circle cx="674.1" cy="275.6" r="1.2"/><circle cx="675.6" cy="275.4" r="1.2"/></g>
<path d="M439.5,302.5 L440.0,302.5 L440.5,302.4 L440.9,302.4 L441.4,302.3 L441.9,302.3 L442.4,302.3 L442.8,302.2 L443.3,302.2 L443.8,302.1 L444.3,302.0 L444.7,302.0 L445.2,301.9 L445.7,301.8 L446.2,301.8 L446.7,301.7 L447.1,301.6 L447.6,301.6 L448.1,301.5 L448.6,301.4 L449.0,301.3 L449.5,301.2 L450.0,301.1 L450.5,301.1 L450.9,301.0 L451.4,300.9 L451.9,300.8 L452.4,300.7 L452.9,300.6 L453.3,300.5 L453.8,300.4 L454.3,300.3 L454.8,300.2 L455.2,300.1 L455.7,300.0 L456.2,299.9 L456.7,299.7 L457.1,299.6 L457.6,299.5 L458.1,299.4 L458.6,299.3 L459.1,299.2 L459.5,299.1 L460.0,298.9 L460.5,298.8 L461.0,298.7 L461.4,298.6 L461.9,298.5 L462.4,298.3 L462.9,298.2 L463.3,298.1 L463.8,298.0 L464.3,297.9 L464.8,297.7 L465.3,297.6 L465.7,297.5 L466.2,297.3 L466.7,297.2 L467.2,297.0 L467.6,296.9 L468.1,296.7 L468.6,296.6 L469.1,296.4 L469.5,296.2 L470.0,296.1 L470.5,295.9 L471.0,295.7 L471.5,295.5 L471.9,295.3 L472.4,295.2 L472.9,295.0 L473.4,294.8 L473.8,294.6 L474.3,294.4 L474.8,294.2 L475.3,294.0 L475.7,293.8 L476.2,293.6 L476.7,293.3 L477.2,293.1 L477.7,292.9 L478.1,292.7 L478.6,292.5 L479.1,292.3 L479.6,292.0 L480.0,291.8 L480.5,291.6 L481.0,291.4 L481.5,291.1 L481.9,290.9 L482.4,290.7 L482.9,290.4 L483.4,290.2 L483.9,290.0 L484.3,289.7 L484.8,289.5 L485.3,289.3 L485.8,289.0 L486.2,288.8 L486.7,288.5 L487.2,288.3 L487.7,288.1 L488.1,287.8 L488.6,287.5 L489.1,287.2 L489.6,286.9 L490.1,286.6 L490.5,286.3 L491.0,286.0 L491.5,285.7 L492.0,285.4 L492.4,285.1 L492.9,284.8 L493.4,284.4 L493.9,284.1 L494.3,283.8 L494.8,283.5 L495.3,283.3 L495.8,283.0 L496.3,282.7 L496.7,282.5 L497.2,282.2 L497.7,282.0 L498.2,281.8 L498.6,281.6 L499.1,281.4 L499.6,281.3 L500.1,281.1 L500.6,280.9 L501.0,280.7 L501.5,280.6 L502.0,280.4 L502.5,280.3 L502.9,280.1 L503.4,279.9 L503.9,279.8 L504.4,279.7 L504.8,279.5 L505.3,279.4 L505.8,279.2 L506.3,279.1 L506.8,279.0 L507.2,278.9 L507.7,278.8 L508.2,278.7 L508.7,278.5 L509.1,278.4 L509.6,278.4 L510.1,278.3 L510.6,278.2 L511.0,278.1 L511.5,278.0 L512.0,278.0 L512.5,277.9 L513.0,277.8 L513.4,277.8 L513.9,277.7 L514.4,277.7 L514.9,277.6 L515.3,277.5 L515.8,277.5 L516.3,277.4 L516.8,277.4 L517.2,277.3 L517.7,277.3 L518.2,277.2 L518.7,277.2 L519.2,277.1 L519.6,277.1 L520.1,277.0 L520.6,277.0 L521.1,276.9 L521.5,276.9 L522.0,276.8 L522.5,276.8 L523.0,276.7 L523.4,276.7 L523.9,276.7 L524.4,276.6 L524.9,276.6 L525.4,276.6 L525.8,276.6 L526.3,276.5 L526.8,276.5 L527.3,276.5 L527.7,276.5 L528.2,276.4 L528.7,276.4 L529.2,276.4 L529.6,276.4 L530.1,276.4 L530.6,276.4 L531.1,276.4 L531.6,276.4 L532.0,276.4 L532.5,276.4 L533.0,276.4 L533.5,276.5 L533.9,276.5 L534.4,276.5 L534.9,276.5 L535.4,276.6 L535.8,276.6 L536.3,276.6 L536.8,276.7 L537.3,276.7 L537.8,276.8 L538.2,276.8 L538.7,276.9 L539.2,276.9 L539.7,277.0 L540.1,277.0 L540.6,277.1 L541.1,277.2 L541.6,277.2 L542.0,277.3 L542.5,277.4 L543.0,277.5 L543.5,277.5 L544.0,277.6 L544.4,277.7 L544.9,277.8 L545.4,277.8 L545.9,277.9 L546.3,278.0 L546.8,278.1 L547.3,278.2 L547.8,278.3 L548.2,278.3 L548.7,278.4 L549.2,278.5 L549.7,278.6 L550.2,278.7 L550.6,278.8 L551.1,278.9 L551.6,279.0 L552.1,279.1 L552.5,279.1 L553.0,279.2 L553.5,279.3 L554.0,279.4 L554.4,279.5 L554.9,279.6 L555.4,279.7 L555.9,279.8 L556.4,279.9 L556.8,279.9 L557.3,280.0 L557.8,280.1 L558.3,280.2 L558.7,280.3 L559.2,280.5 L559.7,280.6 L560.2,280.7 L560.6,280.8 L561.1,280.9 L561.6,281.0 L562.1,281.1 L562.6,281.3 L563.0,281.4 L563.5,281.5 L564.0,281.7 L564.5,281.8 L564.9,281.9 L565.4,282.1 L565.9,282.2 L566.4,282.3 L566.8,282.5 L567.3,282.6 L567.8,282.7 L568.3,282.9 L568.8,283.0 L569.2,283.2 L569.7,283.3 L570.2,283.5 L570.7,283.6 L571.1,283.8 L571.6,283.9 L572.1,284.0 L572.6,284.2 L573.0,284.3 L573.5,284.5 L574.0,284.6 L574.5,284.8 L575.0,284.9 L575.4,285.1 L575.9,285.2 L576.4,285.3 L576.9,285.5 L577.3,285.6 L577.8,285.8 L578.3,285.9 L578.8,286.0 L579.2,286.2 L579.7,286.3 L580.2,286.4 L580.7,286.6 L581.2,286.7 L581.6,286.8 L582.1,287.0 L582.6,287.1 L583.1,287.2 L583.5,287.4 L584.0,287.5 L584.5,287.6 L585.0,287.8 L585.4,287.9 L585.9,288.1 L586.4,288.2 L586.9,288.3 L587.4,288.5 L587.8,288.6 L588.3,288.8 L588.8,288.9 L589.3,289.1 L589.7,289.2 L590.2,289.3 L590.7,289.5 L591.2,289.6 L591.6,289.8 L592.1,289.9 L592.6,290.0 L593.1,290.2 L593.6,290.3 L594.0,290.5 L594.5,290.6 L595.0,290.7 L595.5,290.9 L595.9,291.0 L596.4,291.2 L596.9,291.3 L597.4,291.4 L597.8,291.6 L598.3,291.7 L598.8,291.8 L599.3,291.9 L599.8,292.1 L600.2,292.2 L600.7,292.3 L601.2,292.4 L601.7,292.6 L602.1,292.7 L602.6,292.8 L603.1,292.9 L603.6,293.0 L604.0,293.1 L604.5,293.3 L605.0,293.4 L605.5,293.5 L606.0,293.6 L606.4,293.7 L606.9,293.8 L607.4,293.9 L607.9,293.9 L608.3,294.0 L608.8,294.1 L609.3,294.2 L609.8,294.3 L610.2,294.4 L610.7,294.5 L611.2,294.5 L611.7,294.6 L612.2,294.7 L612.6,294.8 L613.1,294.9 L613.6,295.0 L614.1,295.1 L614.5,295.2 L615.0,295.2 L615.5,295.3 L616.0,295.4 L616.4,295.5 L616.9,295.5 L617.4,295.6 L617.9,295.7 L618.4,295.7 L618.8,295.8 L619.3,295.8 L619.8,295.9 L620.3,295.9 L620.7,295.9 L621.2,296.0 L621.7,296.0 L622.2,296.0 L622.7,296.0 L623.1,296.0 L623.6,296.0 L624.1,296.0 L624.6,295.9 L625.0,295.9 L625.5,295.9 L626.0,295.9 L626.5,295.9 L626.9,295.8 L627.4,295.8 L627.9,295.8 L628.4,295.7 L628.9,295.7 L629.3,295.7 L629.8,295.6 L630.3,295.6 L630.8,295.6 L631.2,295.5 L631.7,295.5 L632.2,295.4 L632.7,295.4 L633.1,295.3 L633.6,295.3 L634.1,295.2 L634.6,295.2 L635.1,295.1 L635.5,295.1 L636.0,295.0 L636.5,295.0 L637.0,294.9 L637.4,294.8 L637.9,294.8 L638.4,294.7 L638.9,294.7 L639.3,294.6 L639.8,294.6 L640.3,294.5 L640.8,294.4 L641.3,294.4 L641.7,294.3 L642.2,294.3 L642.7,294.2 L643.2,294.2 L643.6,294.1 L644.1,294.1 L644.6,294.0 L645.1,293.9 L645.5,293.9 L646.0,293.8 L646.5,293.8 L647.0,293.7 L647.5,293.7 L647.9,293.6 L648.4,293.5 L648.9,293.5 L649.4,293.4 L649.8,293.3 L650.3,293.3 L650.8,293.2 L651.3,293.1 L651.7,293.1 L652.2,293.0 L652.7,292.9 L653.2,292.9 L653.7,292.8 L654.1,292.7 L654.6,292.7 L655.1,292.6 L655.6,292.5 L656.0,292.4 L656.5,292.4 L657.0,292.3 L657.5,292.2 L657.9,292.1 L658.4,292.1 L658.9,292.0 L659.4,291.9 L659.9,291.8 L660.3,291.7 L660.8,291.7 L661.3,291.6 L661.8,291.5 L662.2,291.4 L662.7,291.3 L663.2,291.2 L663.7,291.2 L664.1,291.1 L664.6,291.0 L665.1,290.9 L665.6,290.8 L666.1,290.7 L666.5,290.6 L667.0,290.5 L667.5,290.5 L668.0,290.4 L668.4,290.3 L668.9,290.2 L669.4,290.1 L669.9,290.0 L670.3,289.9 L670.8,289.8 L671.3,289.7 L671.8,289.6 L672.3,289.5 L672.7,289.4 L673.2,289.3 L673.7,289.2 L674.2,289.1 L674.6,289.0 L675.1,288.9 L675.6,288.8 L676.1,288.7 L676.5,288.6 L677.0,288.5 L677.5,288.4" fill="none" stroke="#d83c4a" stroke-width="0.8" />
<path d="M439.5,302.5 L440.0,302.5 L440.5,302.4 L440.9,302.4 L441.4,302.3 L441.9,302.3 L442.4,302.3 L442.8,302.2 L443.3,302.2 L443.8,302.1 L444.3,302.0 L444.7,302.0 L445.2,301.9 L445.7,301.8 L446.2,301.8 L446.7,301.7 L447.1,301.6 L447.6,301.6 L448.1,301.5 L448.6,301.4 L449.0,301.3 L449.5,301.2 L450.0,301.1 L450.5,301.1 L450.9,301.0 L451.4,300.9 L451.9,300.8 L452.4,300.7 L452.9,300.6 L453.3,300.5 L453.8,300.4 L454.3,300.3 L454.8,300.2 L455.2,300.1 L455.7,300.0 L456.2,299.9 L456.7,299.7 L457.1,299.6 L457.6,299.5 L458.1,299.4 L458.6,299.3 L459.1,299.2 L459.5,299.1 L460.0,298.9 L460.5,298.8 L461.0,298.7 L461.4,298.6 L461.9,298.5 L462.4,298.3 L462.9,298.2 L463.3,298.1 L463.8,298.0 L464.3,297.9 L464.8,297.7 L465.3,297.6 L465.7,297.5 L466.2,297.3 L466.7,297.2 L467.2,297.0 L467.6,296.9 L468.1,296.7 L468.6,296.6 L469.1,296.4 L469.5,296.2 L470.0,296.1 L470.5,295.9 L471.0,295.7 L471.5,295.5 L471.9,295.3 L472.4,295.2 L472.9,295.0 L473.4,294.8 L473.8,294.6 L474.3,294.4 L474.8,294.2 L475.3,294.0 L475.7,293.8 L476.2,293.6 L476.7,293.3 L477.2,293.1 L477.7,292.9 L478.1,292.7 L478.6,292.5 L479.1,292.3 L479.6,292.0 L480.0,291.8 L480.5,291.6 L481.0,291.4 L481.5,291.1 L481.9,290.9 L482.4,290.7 L482.9,290.4 L483.4,290.2 L483.9,290.0 L484.3,289.7 L484.8,289.5 L485.3,289.3 L485.8,289.0 L486.2,288.8 L486.7,288.5 L487.2,288.3 L487.7,288.1 L488.1,287.8 L488.6,287.5 L489.1,287.2 L489.6,286.9 L490.1,286.6 L490.5,286.3 L491.0,286.0 L491.5,285.7 L492.0,285.4 L492.4,285.1 L492.9,284.8 L493.4,284.4 L493.9,284.1 L494.3,283.8 L494.8,283.5 L495.3,283.3 L495.8,283.0 L496.3,282.7 L496.7,282.5 L497.2,282.2 L497.7,282.0 L498.2,281.8 L498.6,281.6 L499.1,281.4 L499.6,281.3 L500.1,281.1 L500.6,280.9 L501.0,280.7 L501.5,280.6 L502.0,280.4 L502.5,280.3 L502.9,280.1 L503.4,279.9 L503.9,279.8 L504.4,279.7 L504.8,279.5 L505.3,279.4 L505.8,279.2 L506.3,279.1 L506.8,279.0 L507.2,278.9 L507.7,278.8 L508.2,278.7 L508.7,278.5 L509.1,278.4 L509.6,278.4 L510.1,278.3 L510.6,278.2 L511.0,278.1 L511.5,278.0 L512.0,278.0 L512.5,277.9 L513.0,277.8 L513.4,277.8 L513.9,277.7 L514.4,277.7 L514.9,277.6 L515.3,277.5 L515.8,277.5 L516.3,277.4 L516.8,277.4 L517.2,277.3 L517.7,277.3 L518.2,277.2 L518.7,277.2 L519.2,277.1 L519.6,277.1 L520.1,277.0 L520.6,277.0 L521.1,276.9 L521.5,276.9 L522.0,276.8 L522.5,276.8 L523.0,276.7 L523.4,276.7 L523.9,276.7 L524.4,276.6 L524.9,276.6 L525.4,276.6 L525.8,276.6 L526.3,276.5 L526.8,276.5 L527.3,276.5 L527.7,276.5 L528.2,276.4 L528.7,276.4 L529.2,276.4 L529.6,276.4 L530.1,276.4 L530.6,276.4 L531.1,276.4 L531.6,276.4 L532.0,276.4 L532.5,276.4 L533.0,276.4 L533.5,276.5 L533.9,276.5 L534.4,276.5 L534.9,276.5 L535.4,276.6 L535.8,276.6 L536.3,276.6 L536.8,276.7 L537.3,276.7 L537.8,276.8 L538.2,276.8 L538.7,276.9 L539.2,276.9 L539.7,277.0 L540.1,277.0 L540.6,277.1 L541.1,277.2 L541.6,277.2 L542.0,277.3 L542.5,277.4 L543.0,277.5 L543.5,277.5 L544.0,277.6 L544.4,277.7 L544.9,277.8 L545.4,277.8 L545.9,277.9 L546.3,278.0 L546.8,278.1 L547.3,278.2 L547.8,278.3 L548.2,278.3 L548.7,278.4 L549.2,278.5 L549.7,278.6 L550.2,278.7 L550.6,278.8 L551.1,278.9 L551.6,279.0 L552.1,279.1 L552.5,279.1 L553.0,279.2 L553.5,279.3 L554.0,279.4 L554.4,279.5 L554.9,279.6 L555.4,279.7 L555.9,279.8 L556.4,279.9 L556.8,279.9 L557.3,280.0 L557.8,280.1 L558.3,280.2 L558.7,280.3 L559.2,280.5 L559.7,280.6 L560.2,280.7 L560.6,280.8 L561.1,280.9 L561.6,281.0 L562.1,281.1 L562.6,281.3 L563.0,281.4 L563.5,281.5 L564.0,281.7 L564.5,281.8 L564.9,281.9 L565.4,282.1 L565.9,282.2 L566.4,282.3 L566.8,282.5 L567.3,282.6 L567.8,282.7 L568.3,282.9 L568.8,283.0 L569.2,283.2 L569.7,283.3 L570.2,283.5 L570.7,283.6 L571.1,283.8 L571.6,283.9 L572.1,284.0 L572.6,284.2 L573.0,284.3 L573.5,284.5 L574.0,284.6 L574.5,284.8 L575.0,284.9 L575.4,285.1 L575.9,285.2 L576.4,285.3 L576.9,285.5 L577.3,285.6 L577.8,285.8 L578.3,285.9 L578.8,286.0 L579.2,286.2 L579.7,286.3 L580.2,286.4 L580.7,286.6 L581.2,286.7 L581.6,286.8 L582.1,287.0 L582.6,287.1 L583.1,287.2 L583.5,287.4 L584.0,287.5 L584.5,287.6 L585.0,287.8 L585.4,287.9 L585.9,288.0 L586.4,288.1 L586.9,288.2 L587.4,288.3 L587.8,288.4 L588.3,288.5 L588.8,288.6 L589.3,288.7 L589.7,288.8 L590.2,289.0 L590.7,289.1 L591.2,289.2 L591.6,289.3 L592.1,289.4 L592.6,289.5 L593.1,289.6 L593.6,289.7 L594.0,289.8 L594.5,289.9 L595.0,290.0 L595.5,290.1 L595.9,290.2 L596.4,290.3 L596.9,290.4 L597.4,290.5 L597.8,290.6 L598.3,290.7 L598.8,290.8 L599.3,290.9 L599.8,291.0 L600.2,291.1 L600.7,291.2 L601.2,291.3 L601.7,291.4 L602.1,291.4 L602.6,291.5 L603.1,291.6 L603.6,291.7 L604.0,291.7 L604.5,291.8 L605.0,291.9 L605.5,292.0 L606.0,292.0 L606.4,292.1 L606.9,292.2 L607.4,292.2 L607.9,292.3 L608.3,292.3 L608.8,292.4 L609.3,292.4 L609.8,292.5 L610.2,292.5 L610.7,292.6 L611.2,292.7 L611.7,292.8 L612.2,292.9 L612.6,293.0 L613.1,293.1 L613.6,293.2 L614.1,293.2 L614.5,293.3 L615.0,293.4 L615.5,293.5 L616.0,293.6 L616.4,293.6 L616.9,293.7 L617.4,293.8 L617.9,293.8 L618.4,293.9 L618.8,293.9 L619.3,294.0 L619.8,294.0 L620.3,294.1 L620.7,294.1 L621.2,294.1 L621.7,294.1 L622.2,294.1 L622.7,294.1 L623.1,294.1 L623.6,294.1 L624.1,294.1 L624.6,294.1 L625.0,294.1 L625.5,294.1 L626.0,294.1 L626.5,294.0 L626.9,294.0 L627.4,294.0 L627.9,294.0 L628.4,293.9 L628.9,293.9 L629.3,293.9 L629.8,293.8 L630.3,293.8 L630.8,293.7 L631.2,293.7 L631.7,293.6 L632.2,293.6 L632.7,293.5 L633.1,293.5 L633.6,293.4 L634.1,293.4 L634.6,293.3 L635.1,293.3 L635.5,293.2 L636.0,293.2 L636.5,293.1 L637.0,293.1 L637.4,293.0 L637.9,293.0 L638.4,292.9 L638.9,292.8 L639.3,292.8 L639.8,292.7 L640.3,292.7 L640.8,292.6 L641.3,292.6 L641.7,292.5 L642.2,292.4 L642.7,292.4 L643.2,292.3 L643.6,292.3 L644.1,292.2 L644.6,292.2 L645.1,292.1 L645.5,292.1 L646.0,292.0 L646.5,291.9 L647.0,291.9 L647.5,291.8 L647.9,291.8 L648.4,291.7 L648.9,291.6 L649.4,291.6 L649.8,291.5 L650.3,291.4 L650.8,291.4 L651.3,291.3 L651.7,291.2 L652.2,291.2 L652.7,291.1 L653.2,291.0 L653.7,291.0 L654.1,290.9 L654.6,290.8 L655.1,290.8 L655.6,290.7 L656.0,290.6 L656.5,290.5 L657.0,290.5 L657.5,290.4 L657.9,290.3 L658.4,290.2 L658.9,290.2 L659.4,290.1 L659.9,290.0 L660.3,289.9 L660.8,289.8 L661.3,289.8 L661.8,289.7 L662.2,289.6 L662.7,289.5 L663.2,289.4 L663.7,289.3 L664.1,289.2 L664.6,289.2 L665.1,289.1 L665.6,289.0 L666.1,288.9 L666.5,288.8 L667.0,288.7 L667.5,288.6 L668.0,288.5 L668.4,288.4 L668.9,288.4 L669.4,288.3 L669.9,288.2 L670.3,288.1 L670.8,288.0 L671.3,287.9 L671.8,287.8 L672.3,287.7 L672.7,287.6 L673.2,287.5 L673.7,287.4 L674.2,287.3 L674.6,287.2 L675.1,287.1 L675.6,287.0 L676.1,286.9 L676.5,286.8 L677.0,286.7 L677.5,286.6" fill="none" stroke="#5a50c0" stroke-width="0.6" stroke-opacity="0.8"/>
<rect x="439.50" y="262.70" width="238.00" height="58.90" fill="none" stroke="#7a7a7a" stroke-width="1.0"/>
<line x1="487.10" y1="321.60" x2="487.10" y2="319.10" stroke="#7a7a7a" stroke-width="0.8"/>
<line x1="534.70" y1="321.60" x2="534.70" y2="319.10" stroke="#7a7a7a" stroke-width="0.8"/>
<line x1="582.30" y1="321.60" x2="582.30" y2="319.10" stroke="#7a7a7a" stroke-width="0.8"/>
<line x1="629.90" y1="321.60" x2="629.90" y2="319.10" stroke="#7a7a7a" stroke-width="0.8"/>
<line x1="439.5" y1="276.4" x2="442.0" y2="276.4" stroke="#7a7a7a" stroke-width="0.8"/>
<line x1="439.5" y1="302.5" x2="442.0" y2="302.5" stroke="#7a7a7a" stroke-width="0.8"/>
<text transform="translate(404.10,257.70) scale(0.9,1)" font-size="15" font-weight="bold" fill="#111">e</text>
<text x="435.00" y="279.90" font-size="9.3" text-anchor="end" fill="#1e1e1e" font-weight="normal" stroke="#1e1e1e" stroke-width="0.18" >1</text>
<text x="435.80" y="306.00" font-size="9.3" text-anchor="end" fill="#1e1e1e" font-weight="normal" stroke="#1e1e1e" stroke-width="0.18" >0</text>
<text x="0" y="0" font-size="9.8" text-anchor="middle" fill="#1e1e1e" stroke="#1e1e1e" stroke-width="0.18" transform="translate(410.60,292.75) rotate(-90)">Bosonic mode</text>
<text x="0" y="0" font-size="9.8" text-anchor="middle" fill="#1e1e1e" stroke="#1e1e1e" stroke-width="0.18" transform="translate(423.20,292.35) rotate(-90)">population</text>
<text x="439.50" y="333.70" font-size="9.3" text-anchor="middle" fill="#1e1e1e" font-weight="normal" stroke="#1e1e1e" stroke-width="0.18" >0</text>
<text x="487.10" y="333.70" font-size="9.3" text-anchor="middle" fill="#1e1e1e" font-weight="normal" stroke="#1e1e1e" stroke-width="0.18" >0.05</text>
<text x="534.70" y="333.70" font-size="9.3" text-anchor="middle" fill="#1e1e1e" font-weight="normal" stroke="#1e1e1e" stroke-width="0.18" >0.1</text>
<text x="582.30" y="333.70" font-size="9.3" text-anchor="middle" fill="#1e1e1e" font-weight="normal" stroke="#1e1e1e" stroke-width="0.18" >0.15</text>
<text x="629.90" y="333.70" font-size="9.3" text-anchor="middle" fill="#1e1e1e" font-weight="normal" stroke="#1e1e1e" stroke-width="0.18" >0.2</text>
<text x="677.50" y="333.70" font-size="9.3" text-anchor="middle" fill="#1e1e1e" font-weight="normal" stroke="#1e1e1e" stroke-width="0.18" >0.25</text>
<text x="558.5" y="347.2" font-size="9.6" text-anchor="middle" fill="#1e1e1e" stroke="#1e1e1e" stroke-width="0.18">Δ<tspan font-style="italic">t</tspan> (μs)</text>
<line x1="486" y1="304" x2="504.3" y2="304" stroke="#4448c4" stroke-width="0.6"/>
<text x="508.80" y="307.60" font-size="8.4" text-anchor="start" fill="#1e1e1e" font-weight="normal" stroke="#1e1e1e" stroke-width="0.18" >Rotating frame</text>
<line x1="486" y1="313" x2="504.3" y2="313" stroke="#d83c4a" stroke-width="0.6"/>
<text x="508.80" y="316.60" font-size="8.4" text-anchor="start" fill="#1e1e1e" font-weight="normal" stroke="#1e1e1e" stroke-width="0.18" >Laboratory frame</text>
<path d="M22.6,195.9 L22.7,198.1 L22.8,200.3 L23.0,202.4 L23.1,204.6 L23.2,206.7 L23.3,208.7 L23.4,210.7 L23.6,212.7 L23.7,214.6 L23.8,216.5 L23.9,218.2 L24.0,219.9 L24.2,221.6 L24.3,223.1 L24.4,224.5 L24.5,225.9 L24.6,227.1 L24.7,228.3 L24.9,229.3 L25.0,230.2 L25.1,231.0 L25.2,231.7 L25.3,232.3 L25.5,232.8 L25.6,233.1 L25.7,233.3 L25.8,233.4 L25.9,233.4 L26.1,233.3 L26.2,233.0 L26.3,232.6 L26.4,232.1 L26.5,231.5 L26.7,230.7 L26.8,229.9 L26.9,228.9 L27.0,227.9 L27.1,226.7 L27.3,225.5 L27.4,224.1 L27.5,222.7 L27.6,221.2 L27.7,219.6 L27.9,217.9 L28.0,216.1 L28.1,214.3 L28.2,212.5 L28.3,210.6 L28.4,208.7 L28.6,206.7 L28.7,204.7 L28.8,202.6 L28.9,200.6 L29.0,198.5 L29.2,196.5 L29.3,194.4 L29.4,192.4 L29.5,190.4 L29.6,188.4 L29.8,186.4 L29.9,184.5 L30.0,182.6 L30.1,180.8 L30.2,179.0 L30.4,177.3 L30.5,175.6 L30.6,174.0 L30.7,172.5 L30.8,171.1 L31.0,169.8 L31.1,168.5 L31.2,167.4 L31.3,166.3 L31.4,165.4 L31.6,164.5 L31.7,163.7 L31.8,163.1 L31.9,162.6 L32.0,162.1 L32.1,161.8 L32.3,161.6 L32.4,161.5 L32.5,161.5 L32.6,161.7 L32.7,161.9 L32.9,162.3 L33.0,162.7 L33.1,163.3 L33.2,164.0 L33.3,164.8 L33.5,165.6 L33.6,166.6 L33.7,167.7 L33.8,168.8 L33.9,170.0 L34.1,171.4 L34.2,172.7 L34.3,174.2 L34.4,175.7 L34.5,177.3 L34.7,178.9 L34.8,180.6 L34.9,182.3 L35.0,184.0 L35.1,185.8 L35.3,187.6 L35.4,189.4 L35.5,191.2 L35.6,193.0 L35.7,194.8 L35.9,196.7 L36.0,198.5 L36.1,200.2 L36.2,202.0 L36.3,203.7 L36.4,205.4 L36.6,207.0 L36.7,208.6 L36.8,210.2 L36.9,211.7 L37.0,213.1 L37.2,214.4 L37.3,215.7 L37.4,216.9 L37.5,218.1 L37.6,219.1 L37.8,220.1 L37.9,221.0 L38.0,221.8 L38.1,222.5 L38.2,223.1 L38.4,223.6 L38.5,224.0 L38.6,224.4 L38.7,224.6 L38.8,224.8 L39.0,224.8 L39.1,224.7 L39.2,224.6 L39.3,224.4 L39.4,224.0 L39.6,223.6 L39.7,223.1 L39.8,222.5 L39.9,221.9 L40.0,221.1 L40.1,220.3 L40.3,219.4 L40.4,218.4 L40.5,217.4 L40.6,216.3 L40.7,215.2 L40.9,214.0 L41.0,212.7 L41.1,211.4 L41.2,210.1 L41.3,208.7 L41.5,207.3 L41.6,205.9 L41.7,204.5 L41.8,203.0 L41.9,201.6 L42.1,200.1 L42.2,198.6 L42.3,197.2 L42.4,195.7 L42.5,194.3 L42.7,192.8 L42.8,191.4 L42.9,190.1 L43.0,188.7 L43.1,187.4 L43.3,186.2 L43.4,184.9 L43.5,183.8 L43.6,182.6 L43.7,181.6 L43.8,180.5 L44.0,179.6 L44.1,178.7 L44.2,177.9 L44.3,177.1 L44.4,176.4 L44.6,175.8 L44.7,175.2 L44.8,174.7 L44.9,174.3 L45.0,174.0 L45.2,173.7 L45.3,173.5 L45.4,173.4 L45.5,173.3 L45.6,173.4 L45.8,173.5 L45.9,173.7 L46.0,173.9 L46.1,174.2 L46.2,174.6 L46.4,175.1 L46.5,175.6 L46.6,176.2 L46.7,176.8 L46.8,177.5 L47.0,178.3 L47.1,179.1 L47.2,179.9 L47.3,180.8 L47.4,181.7 L47.5,182.7 L47.7,183.7 L47.8,184.7 L47.9,185.8 L48.0,186.9 L48.1,187.9 L48.3,189.0 L48.4,190.2 L48.5,191.3 L48.6,192.4 L48.7,193.5 L48.9,194.6 L49.0,195.7 L49.1,196.8 L49.2,197.9 L49.3,198.9 L49.5,200.0 L49.6,201.0 L49.7,201.9 L49.8,202.9 L49.9,203.8 L50.1,204.6 L50.2,205.5 L50.3,206.3 L50.4,207.0 L50.5,207.7 L50.7,208.3 L50.8,208.9 L50.9,209.5 L51.0,209.9 L51.1,210.4 L51.2,210.8 L51.4,211.1 L51.5,211.4 L51.6,211.6 L51.7,211.8 L51.8,211.9 L52.0,211.9 L52.1,211.9 L52.2,211.9 L52.3,211.8 L52.4,211.6 L52.6,211.4 L52.7,211.2 L52.8,210.9 L52.9,210.5 L53.0,210.1 L53.2,209.7 L53.3,209.2 L53.4,208.7 L53.5,208.2 L53.6,207.6 L53.8,207.0 L53.9,206.4 L54.0,205.8 L54.1,205.1 L54.2,204.4 L54.4,203.7 L54.5,203.0 L54.6,202.2 L54.7,201.5 L54.8,200.7 L54.9,200.0 L55.1,199.2 L55.2,198.5 L55.3,197.7 L55.4,197.0 L55.5,196.2 L55.7,195.5 L55.8,194.8 L55.9,194.1 L56.0,193.4 L56.1,192.7 L56.3,192.1 L56.4,191.5 L56.5,190.9 L56.6,190.3 L56.7,189.7 L56.9,189.2 L57.0,188.7 L57.1,188.3 L57.2,187.8 L57.3,187.4 L57.5,187.1 L57.6,186.7 L57.7,186.4 L57.8,186.2 L57.9,185.9 L58.1,185.7 L58.2,185.6 L58.3,185.5 L58.4,185.4 L58.5,185.3 L58.7,185.3 L58.8,185.3 L58.9,185.3 L59.0,185.4 L59.1,185.5 L59.2,185.7 L59.4,185.9 L59.5,186.1 L59.6,186.3 L59.7,186.5 L59.8,186.8 L60.0,187.1 L60.1,187.5 L60.2,187.8 L60.3,188.2 L60.4,188.6 L60.6,189.0 L60.7,189.5 L60.8,189.9 L60.9,190.4 L61.0,190.9 L61.2,191.4 L61.3,191.9 L61.4,192.4 L61.5,192.9 L61.6,193.4 L61.8,193.9 L61.9,194.5 L62.0,195.0 L62.1,195.5 L62.2,196.0 L62.4,196.5 L62.5,197.1 L62.6,197.5 L62.7,198.0 L62.8,198.5 L62.9,199.0 L63.1,199.4 L63.2,199.8 L63.3,200.2 L63.4,200.6 L63.5,201.0 L63.7,201.4 L63.8,201.7 L63.9,202.0 L64.0,202.3 L64.1,202.5 L64.3,202.8 L64.4,203.0 L64.5,203.2 L64.6,203.3 L64.7,203.5 L64.9,203.6 L65.0,203.6 L65.1,203.7 L65.2,203.7 L65.3,203.7 L65.5,203.7 L65.6,203.7 L65.7,203.6 L65.8,203.5 L65.9,203.4 L66.1,203.2 L66.2,203.1 L66.3,202.9 L66.4,202.7 L66.5,202.4 L66.6,202.2 L66.8,201.9 L66.9,201.7 L67.0,201.4 L67.1,201.0 L67.2,200.7 L67.4,200.4 L67.5,200.0 L67.6,199.7 L67.7,199.3 L67.8,199.0 L68.0,198.6 L68.1,198.2 L68.2,197.8 L68.3,197.4 L68.4,197.1 L68.6,196.7 L68.7,196.3 L68.8,195.9 L68.9,195.5 L69.0,195.2 L69.2,194.8 L69.3,194.4 L69.4,194.1 L69.5,193.8 L69.6,193.4 L69.8,193.1 L69.9,192.8 L70.0,192.5 L70.1,192.3 L70.2,192.0 L70.3,191.8 L70.5,191.5 L70.6,191.3 L70.7,191.1 L70.8,191.0 L70.9,190.8 L71.1,190.7 L71.2,190.5 L71.3,190.4 L71.4,190.3 L71.5,190.3 L71.7,190.2 L71.8,190.2 L71.9,190.2 L72.0,190.2 L72.1,190.2 L72.3,190.3 L72.4,190.3 L72.5,190.4 L72.6,190.5 L72.7,190.6 L72.9,190.8 L73.0,190.9 L73.1,191.1 L73.2,191.2 L73.3,191.4 L73.5,191.6 L73.6,191.8 L73.7,192.0 L73.8,192.3 L73.9,192.5 L74.0,192.8 L74.2,193.0 L74.3,193.3 L74.4,193.5 L74.5,193.8 L74.6,194.1 L74.8,194.4 L74.9,194.7 L75.0,195.0 L75.1,195.2 L75.2,195.5 L75.4,195.8 L75.5,196.1 L75.6,196.4 L75.7,196.7 L75.8,196.9 L76.0,197.2 L76.1,197.5 L76.2,197.7 L76.3,198.0 L76.4,198.2 L76.6,198.4 L76.7,198.7 L76.8,198.9 L76.9,199.1 L77.0,199.3 L77.2,199.4 L77.3,199.6 L77.4,199.8 L77.5,199.9 L77.6,200.0 L77.7,200.1 L77.9,200.2 L78.0,200.3 L78.1,200.4 L78.2,200.5 L78.3,200.5 L78.5,200.5 L78.6,200.6 L78.7,200.6 L78.8,200.5 L78.9,200.5 L79.1,200.5 L79.2,200.4 L79.3,200.3 L79.4,200.3 L79.5,200.2 L79.7,200.0 L79.8,199.9 L79.9,199.8 L80.0,199.6 L80.1,199.5 L80.3,199.3 L80.4,199.1 L80.5,198.9 L80.6,198.7 L80.7,198.5 L80.9,198.3 L81.0,198.1 L81.1,197.8 L81.2,197.6 L81.3,197.3 L81.4,197.1 L81.6,196.8 L81.7,196.6 L81.8,196.3 L81.9,196.1 L82.0,195.8 L82.2,195.5 L82.3,195.3 L82.4,195.0 L82.5,194.8 L82.6,194.5 L82.8,194.3 L82.9,194.0 L83.0,193.8 L83.1,193.5 L83.2,193.3 L83.4,193.1 L83.5,192.9 L83.6,192.7 L83.7,192.5 L83.8,192.4 L84.0,192.2 L84.1,192.0 L84.2,191.9 L84.3,191.8 L84.4,191.7 L84.6,191.6 L84.7,191.5 L84.8,191.4 L84.9,191.4 L85.0,191.3 L85.2,191.3 L85.3,191.3 L85.4,191.3 L85.5,191.3 L85.6,191.3 L85.7,191.4 L85.9,191.4 L86.0,191.5 L86.1,191.6 L86.2,191.7 L86.3,191.8 L86.5,192.0 L86.6,192.1 L86.7,192.3 L86.8,192.4 L86.9,192.6 L87.1,192.8 L87.2,193.0 L87.3,193.2 L87.4,193.4 L87.5,193.7 L87.7,193.9 L87.8,194.1 L87.9,194.4 L88.0,194.6 L88.1,194.9 L88.3,195.1 L88.4,195.4 L88.5,195.7 L88.6,195.9 L88.7,196.2 L88.9,196.5 L89.0,196.7 L89.1,197.0 L89.2,197.2 L89.3,197.5 L89.4,197.7 L89.6,198.0 L89.7,198.2 L89.8,198.4 L89.9,198.6 L90.0,198.8 L90.2,199.0 L90.3,199.2 L90.4,199.4 L90.5,199.6 L90.6,199.7 L90.8,199.9 L90.9,200.0 L91.0,200.1 L91.1,200.2 L91.2,200.3 L91.4,200.4 L91.5,200.4 L91.6,200.5 L91.7,200.5 L91.8,200.5 L92.0,200.5 L92.1,200.5 L92.2,200.5 L92.3,200.4 L92.4,200.4 L92.6,200.3 L92.7,200.2 L92.8,200.1 L92.9,200.0 L93.0,199.9 L93.1,199.7 L93.3,199.6 L93.4,199.4 L93.5,199.2 L93.6,199.0 L93.7,198.8 L93.9,198.6 L94.0,198.4 L94.1,198.2 L94.2,198.0 L94.3,197.7 L94.5,197.5 L94.6,197.2 L94.7,197.0 L94.8,196.7 L94.9,196.5 L95.1,196.2 L95.2,195.9 L95.3,195.7 L95.4,195.4 L95.5,195.2 L95.7,194.9 L95.8,194.7 L95.9,194.4 L96.0,194.2 L96.1,193.9 L96.3,193.7 L96.4,193.5 L96.5,193.2 L96.6,193.0 L96.7,192.8 L96.8,192.6 L97.0,192.5 L97.1,192.3 L97.2,192.1 L97.3,192.0 L97.4,191.8 L97.6,191.7 L97.7,191.6 L97.8,191.5 L97.9,191.5 L98.0,191.4 L98.2,191.3 L98.3,191.3 L98.4,191.3 L98.5,191.3 L98.6,191.3 L98.8,191.3 L98.9,191.4 L99.0,191.4 L99.1,191.5 L99.2,191.6 L99.4,191.7 L99.5,191.8 L99.6,191.9 L99.7,192.0 L99.8,192.2 L100.0,192.3 L100.1,192.5 L100.2,192.7 L100.3,192.9 L100.4,193.1 L100.5,193.3 L100.7,193.5 L100.8,193.8 L100.9,194.0 L101.0,194.2 L101.1,194.5 L101.3,194.7 L101.4,195.0 L101.5,195.2 L101.6,195.5 L101.7,195.8 L101.9,196.0 L102.0,196.3 L102.1,196.6 L102.2,196.8 L102.3,197.1 L102.5,197.3 L102.6,197.6 L102.7,197.8 L102.8,198.1 L102.9,198.3 L103.1,198.5 L103.2,198.8 L103.3,199.0 L103.4,199.2 L103.5,199.4 L103.7,199.5 L103.8,199.7 L103.9,199.9 L104.0,200.0 L104.1,200.2 L104.2,200.3 L104.4,200.4 L104.5,200.5 L104.6,200.6 L104.7,200.6 L104.8,200.7 L105.0,200.7 L105.1,200.7 L105.2,200.7 L105.3,200.7 L105.4,200.7 L105.6,200.6 L105.7,200.6 L105.8,200.5 L105.9,200.4 L106.0,200.3 L106.2,200.2 L106.3,200.1 L106.4,199.9 L106.5,199.7 L106.6,199.6 L106.8,199.4 L106.9,199.2 L107.0,199.0 L107.1,198.8 L107.2,198.5 L107.4,198.3 L107.5,198.0 L107.6,197.8 L107.7,197.5 L107.8,197.3 L108.0,197.0 L108.1,196.7 L108.2,196.4 L108.3,196.1 L108.4,195.8 L108.5,195.5 L108.7,195.2 L108.8,195.0 L108.9,194.7 L109.0,194.4 L109.1,194.1 L109.3,193.8 L109.4,193.5 L109.5,193.3 L109.6,193.0 L109.7,192.8 L109.9,192.5 L110.0,192.3 L110.1,192.1 L110.2,191.9 L110.3,191.7 L110.5,191.5 L110.6,191.3 L110.7,191.1 L110.8,191.0 L110.9,190.9 L111.1,190.7 L111.2,190.6 L111.3,190.6 L111.4,190.5 L111.5,190.5 L111.7,190.4 L111.8,190.4 L111.9,190.4 L112.0,190.4 L112.1,190.5 L112.2,190.5 L112.4,190.6 L112.5,190.7 L112.6,190.8 L112.7,190.9 L112.8,191.1 L113.0,191.2 L113.1,191.4 L113.2,191.6 L113.3,191.8 L113.4,192.0 L113.6,192.3 L113.7,192.5 L113.8,192.8 L113.9,193.1 L114.0,193.3 L114.2,193.6 L114.3,193.9 L114.4,194.2 L114.5,194.6 L114.6,194.9 L114.8,195.2 L114.9,195.5 L115.0,195.9 L115.1,196.2 L115.2,196.6 L115.4,196.9 L115.5,197.2 L115.6,197.6 L115.7,197.9 L115.8,198.2 L115.9,198.5 L116.1,198.8 L116.2,199.1 L116.3,199.4 L116.4,199.7 L116.5,200.0 L116.7,200.3 L116.8,200.5 L116.9,200.7 L117.0,201.0 L117.1,201.2 L117.3,201.4 L117.4,201.5 L117.5,201.7 L117.6,201.8 L117.7,201.9 L117.9,202.0 L118.0,202.1 L118.1,202.2 L118.2,202.2 L118.3,202.3 L118.5,202.3 L118.6,202.2 L118.7,202.2 L118.8,202.2 L118.9,202.1 L119.1,202.0 L119.2,201.9 L119.3,201.7 L119.4,201.6 L119.5,201.4 L119.6,201.2 L119.8,201.0 L119.9,200.7 L120.0,200.5 L120.1,200.2 L120.2,199.9 L120.4,199.6 L120.5,199.3 L120.6,199.0 L120.7,198.7 L120.8,198.3 L121.0,198.0 L121.1,197.6 L121.2,197.2 L121.3,196.8 L121.4,196.4 L121.6,196.0 L121.7,195.6 L121.8,195.2 L121.9,194.8 L122.0,194.4 L122.2,194.0 L122.3,193.6 L122.4,193.2 L122.5,192.8 L122.6,192.4 L122.8,192.1 L122.9,191.7 L123.0,191.3 L123.1,191.0 L123.2,190.7 L123.3,190.3 L123.5,190.0 L123.6,189.7 L123.7,189.5 L123.8,189.2 L123.9,189.0 L124.1,188.8 L124.2,188.6 L124.3,188.4 L124.4,188.3 L124.5,188.2 L124.7,188.1 L124.8,188.0 L124.9,187.9 L125.0,187.9 L125.1,187.9 L125.3,187.9 L125.4,188.0 L125.5,188.1 L125.6,188.2 L125.7,188.3 L125.9,188.5 L126.0,188.7 L126.1,188.9 L126.2,189.1 L126.3,189.4 L126.5,189.7 L126.6,190.0 L126.7,190.3 L126.8,190.6 L126.9,191.0 L127.0,191.4 L127.2,191.8 L127.3,192.2 L127.4,192.7 L127.5,193.1 L127.6,193.6 L127.8,194.1 L127.9,194.6 L128.0,195.1 L128.1,195.6 L128.2,196.1 L128.4,196.6 L128.5,197.1 L128.6,197.6 L128.7,198.1 L128.8,198.7 L129.0,199.2 L129.1,199.7 L129.2,200.2 L129.3,200.6 L129.4,201.1 L129.6,201.6 L129.7,202.0 L129.8,202.4 L129.9,202.9 L130.0,203.2 L130.2,203.6 L130.3,204.0 L130.4,204.3 L130.5,204.6 L130.6,204.9 L130.8,205.1 L130.9,205.3 L131.0,205.5 L131.1,205.7 L131.2,205.8 L131.3,205.9 L131.5,205.9 L131.6,206.0 L131.7,206.0 L131.8,205.9 L131.9,205.9 L132.1,205.8 L132.2,205.6 L132.3,205.5 L132.4,205.3 L132.5,205.0 L132.7,204.8 L132.8,204.5 L132.9,204.1 L133.0,203.8 L133.1,203.4 L133.3,203.0 L133.4,202.6 L133.5,202.1 L133.6,201.6 L133.7,201.1 L133.9,200.6 L134.0,200.0 L134.1,199.5 L134.2,198.9 L134.3,198.3 L134.5,197.7 L134.6,197.1 L134.7,196.5 L134.8,195.9 L134.9,195.2 L135.0,194.6 L135.2,194.0 L135.3,193.3 L135.4,192.7 L135.5,192.1 L135.6,191.5 L135.8,190.9 L135.9,190.3 L136.0,189.8 L136.1,189.2 L136.2,188.7 L136.4,188.2 L136.5,187.7 L136.6,187.2 L136.7,186.8 L136.8,186.4 L137.0,186.0 L137.1,185.7 L137.2,185.4 L137.3,185.1 L137.4,184.8 L137.6,184.6 L137.7,184.5 L137.8,184.3 L137.9,184.2 L138.0,184.2 L138.2,184.1 L138.3,184.1 L138.4,184.2 L138.5,184.3 L138.6,184.4 L138.7,184.6 L138.9,184.8 L139.0,185.0 L139.1,185.3 L139.2,185.6 L139.3,186.0 L139.5,186.3 L139.6,186.8 L139.7,187.2 L139.8,187.7 L139.9,188.2 L140.1,188.7 L140.2,189.3 L140.3,189.8 L140.4,190.4 L140.5,191.1 L140.7,191.7 L140.8,192.3 L140.9,193.0 L141.0,193.7 L141.1,194.4 L141.3,195.1 L141.4,195.7 L141.5,196.4 L141.6,197.1 L141.7,197.8 L141.9,198.5 L142.0,199.2 L142.1,199.9 L142.2,200.5 L142.3,201.2 L142.4,201.8 L142.6,202.4 L142.7,203.0 L142.8,203.5 L142.9,204.1 L143.0,204.6 L143.2,205.1 L143.3,205.5 L143.4,205.9 L143.5,206.3 L143.6,206.7 L143.8,207.0 L143.9,207.3 L144.0,207.5 L144.1,207.7 L144.2,207.9 L144.4,208.0 L144.5,208.1 L144.6,208.2 L144.7,208.2 L144.8,208.2 L145.0,208.1 L145.1,208.0 L145.2,207.9 L145.3,207.7 L145.4,207.4 L145.6,207.2 L145.7,206.9 L145.8,206.5 L145.9,206.2 L146.0,205.8 L146.1,205.3 L146.3,204.9 L146.4,204.4 L146.5,203.9 L146.6,203.3 L146.7,202.8 L146.9,202.2 L147.0,201.6 L147.1,200.9 L147.2,200.3 L147.3,199.6 L147.5,199.0 L147.6,198.3 L147.7,197.6 L147.8,196.9 L147.9,196.2 L148.1,195.6 L148.2,194.9 L148.3,194.2 L148.4,193.5 L148.5,192.9 L148.7,192.2 L148.8,191.6 L148.9,190.9 L149.0,190.3 L149.1,189.7 L149.3,189.2 L149.4,188.6 L149.5,188.1 L149.6,187.6 L149.7,187.1 L149.8,186.7 L150.0,186.3 L150.1,185.9 L150.2,185.6 L150.3,185.3 L150.4,185.0 L150.6,184.8 L150.7,184.6 L150.8,184.4 L150.9,184.3 L151.0,184.2 L151.2,184.1 L151.3,184.1 L151.4,184.2 L151.5,184.2 L151.6,184.3 L151.8,184.5 L151.9,184.7 L152.0,184.9 L152.1,185.1 L152.2,185.4 L152.4,185.7 L152.5,186.1 L152.6,186.4 L152.7,186.9 L152.8,187.3 L153.0,187.8 L153.1,188.2 L153.2,188.8 L153.3,189.3 L153.4,189.8 L153.5,190.4 L153.7,191.0 L153.8,191.6 L153.9,192.2 L154.0,192.8 L154.1,193.5 L154.3,194.1 L154.4,194.7 L154.5,195.4 L154.6,196.0 L154.7,196.7 L154.9,197.3 L155.0,197.9 L155.1,198.6 L155.2,199.2 L155.3,199.8 L155.5,200.3 L155.6,200.9 L155.7,201.5 L155.8,202.0 L155.9,202.5 L156.1,203.0 L156.2,203.4 L156.3,203.9 L156.4,204.3 L156.5,204.6 L156.7,205.0 L156.8,205.3 L156.9,205.6 L157.0,205.8 L157.1,206.1 L157.3,206.2 L157.4,206.4 L157.5,206.5 L157.6,206.6 L157.7,206.6 L157.8,206.7 L158.0,206.6 L158.1,206.6 L158.2,206.5 L158.3,206.4 L158.4,206.2 L158.6,206.0 L158.7,205.8 L158.8,205.5 L158.9,205.3 L159.0,204.9 L159.2,204.6 L159.3,204.2 L159.4,203.8 L159.5,203.4 L159.6,203.0 L159.8,202.5 L159.9,202.0 L160.0,201.5 L160.1,201.0 L160.2,200.5 L160.4,200.0 L160.5,199.4 L160.6,198.8 L160.7,198.3 L160.8,197.7 L161.0,197.1 L161.1,196.5 L161.2,196.0 L161.3,195.4 L161.4,194.8 L161.5,194.2 L161.7,193.7 L161.8,193.1 L161.9,192.6 L162.0,192.0 L162.1,191.5 L162.3,191.0 L162.4,190.6 L162.5,190.1 L162.6,189.6 L162.7,189.2 L162.9,188.8 L163.0,188.5 L163.1,188.1 L163.2,187.8 L163.3,187.5 L163.5,187.2 L163.6,187.0 L163.7,186.8 L163.8,186.6 L163.9,186.5 L164.1,186.4 L164.2,186.3 L164.3,186.2 L164.4,186.2 L164.5,186.2 L164.7,186.3 L164.8,186.3 L164.9,186.4 L165.0,186.6 L165.1,186.7 L165.2,186.9 L165.4,187.1 L165.5,187.4 L165.6,187.7 L165.7,188.0 L165.8,188.3 L166.0,188.6 L166.1,189.0 L166.2,189.4 L166.3,189.8 L166.4,190.2 L166.6,190.7 L166.7,191.1 L166.8,191.6 L166.9,192.1 L167.0,192.6 L167.2,193.1 L167.3,193.6 L167.4,194.1 L167.5,194.7 L167.6,195.2 L167.8,195.7 L167.9,196.2 L168.0,196.7 L168.1,197.3 L168.2,197.8 L168.4,198.3 L168.5,198.8 L168.6,199.3 L168.7,199.7 L168.8,200.2 L168.9,200.6 L169.1,201.0 L169.2,201.4 L169.3,201.8 L169.4,202.2 L169.5,202.5 L169.7,202.9 L169.8,203.1 L169.9,203.4 L170.0,203.7 L170.1,203.9 L170.3,204.1 L170.4,204.2 L170.5,204.4 L170.6,204.5 L170.7,204.6 L170.9,204.6 L171.0,204.7 L171.1,204.7 L171.2,204.6 L171.3,204.6 L171.5,204.5 L171.6,204.4 L171.7,204.2 L171.8,204.1 L171.9,203.9 L172.1,203.6 L172.2,203.4 L172.3,203.1 L172.4,202.8 L172.5,202.5 L172.6,202.2 L172.8,201.9 L172.9,201.5 L173.0,201.1 L173.1,200.7 L173.2,200.3 L173.4,199.9 L173.5,199.4 L173.6,199.0 L173.7,198.5 L173.8,198.1 L174.0,197.6 L174.1,197.2 L174.2,196.7 L174.3,196.2 L174.4,195.7 L174.6,195.3 L174.7,194.8 L174.8,194.4 L174.9,193.9 L175.0,193.5 L175.2,193.0 L175.3,192.6 L175.4,192.2 L175.5,191.8 L175.6,191.4 L175.8,191.1 L175.9,190.7 L176.0,190.4 L176.1,190.1 L176.2,189.8 L176.3,189.5 L176.5,189.3 L176.6,189.1 L176.7,188.9 L176.8,188.7 L176.9,188.5 L177.1,188.4 L177.2,188.3 L177.3,188.2 L177.4,188.2 L177.5,188.2 L177.7,188.2 L177.8,188.2 L177.9,188.2 L178.0,188.3 L178.1,188.4 L178.3,188.5 L178.4,188.7 L178.5,188.8 L178.6,189.0 L178.7,189.2 L178.9,189.5 L179.0,189.7 L179.1,190.0 L179.2,190.3 L179.3,190.6 L179.5,190.9 L179.6,191.2 L179.7,191.6 L179.8,191.9 L179.9,192.3 L180.1,192.7 L180.2,193.1 L180.3,193.5 L180.4,193.9 L180.5,194.3 L180.6,194.7 L180.8,195.1 L180.9,195.5 L181.0,195.9 L181.1,196.3 L181.2,196.7 L181.4,197.1 L181.5,197.5 L181.6,197.9 L181.7,198.3 L181.8,198.7 L182.0,199.0 L182.1,199.4 L182.2,199.7 L182.3,200.0 L182.4,200.3 L182.6,200.6 L182.7,200.9 L182.8,201.1 L182.9,201.4 L183.0,201.6 L183.2,201.8 L183.3,201.9 L183.4,202.1 L183.5,202.2 L183.6,202.3 L183.8,202.4 L183.9,202.5 L184.0,202.6 L184.1,202.6 L184.2,202.6 L184.3,202.6 L184.5,202.5 L184.6,202.5 L184.7,202.4 L184.8,202.3 L184.9,202.2 L185.1,202.0 L185.2,201.9 L185.3,201.7 L185.4,201.5 L185.5,201.3 L185.7,201.0 L185.8,200.8 L185.9,200.5 L186.0,200.3 L186.1,200.0 L186.3,199.7 L186.4,199.4 L186.5,199.1 L186.6,198.7 L186.7,198.4 L186.9,198.1 L187.0,197.7 L187.1,197.4 L187.2,197.0 L187.3,196.7 L187.5,196.3 L187.6,196.0 L187.7,195.6 L187.8,195.3 L187.9,195.0 L188.0,194.6 L188.2,194.3 L188.3,194.0 L188.4,193.7 L188.5,193.4 L188.6,193.1 L188.8,192.8 L188.9,192.5 L189.0,192.3 L189.1,192.0 L189.2,191.8 L189.4,191.6 L189.5,191.4 L189.6,191.2" fill="none" stroke="#4448c4" stroke-width="0.75" />
<path d="M22.6,195.9 L22.7,193.7 L22.8,191.5 L23.0,189.4 L23.1,187.2 L23.2,185.1 L23.3,183.1 L23.4,181.1 L23.6,179.1 L23.7,177.2 L23.8,175.3 L23.9,173.6 L24.0,171.9 L24.2,170.2 L24.3,168.7 L24.4,167.3 L24.5,165.9 L24.6,164.7 L24.7,163.5 L24.9,162.5 L25.0,161.6 L25.1,160.8 L25.2,160.1 L25.3,159.5 L25.5,159.0 L25.6,158.7 L25.7,158.5 L25.8,158.4 L25.9,158.4 L26.1,158.5 L26.2,158.8 L26.3,159.2 L26.4,159.7 L26.5,160.3 L26.7,161.1 L26.8,161.9 L26.9,162.9 L27.0,163.9 L27.1,165.1 L27.3,166.3 L27.4,167.7 L27.5,169.1 L27.6,170.6 L27.7,172.2 L27.9,173.9 L28.0,175.7 L28.1,177.5 L28.2,179.3 L28.3,181.2 L28.4,183.1 L28.6,185.1 L28.7,187.1 L28.8,189.2 L28.9,191.2 L29.0,193.3 L29.2,195.3 L29.3,197.4 L29.4,199.4 L29.5,201.4 L29.6,203.4 L29.8,205.4 L29.9,207.3 L30.0,209.2 L30.1,211.0 L30.2,212.8 L30.4,214.5 L30.5,216.2 L30.6,217.8 L30.7,219.3 L30.8,220.7 L31.0,222.0 L31.1,223.3 L31.2,224.4 L31.3,225.5 L31.4,226.4 L31.6,227.3 L31.7,228.1 L31.8,228.7 L31.9,229.2 L32.0,229.7 L32.1,230.0 L32.3,230.2 L32.4,230.3 L32.5,230.3 L32.6,230.1 L32.7,229.9 L32.9,229.5 L33.0,229.1 L33.1,228.5 L33.2,227.8 L33.3,227.0 L33.5,226.2 L33.6,225.2 L33.7,224.1 L33.8,223.0 L33.9,221.8 L34.1,220.4 L34.2,219.1 L34.3,217.6 L34.4,216.1 L34.5,214.5 L34.7,212.9 L34.8,211.2 L34.9,209.5 L35.0,207.8 L35.1,206.0 L35.3,204.2 L35.4,202.4 L35.5,200.6 L35.6,198.8 L35.7,197.0 L35.9,195.1 L36.0,193.3 L36.1,191.6 L36.2,189.8 L36.3,188.1 L36.4,186.4 L36.6,184.8 L36.7,183.2 L36.8,181.6 L36.9,180.1 L37.0,178.7 L37.2,177.4 L37.3,176.1 L37.4,174.9 L37.5,173.7 L37.6,172.7 L37.8,171.7 L37.9,170.8 L38.0,170.0 L38.1,169.3 L38.2,168.7 L38.4,168.2 L38.5,167.8 L38.6,167.4 L38.7,167.2 L38.8,167.0 L39.0,167.0 L39.1,167.1 L39.2,167.2 L39.3,167.4 L39.4,167.8 L39.6,168.2 L39.7,168.7 L39.8,169.3 L39.9,169.9 L40.0,170.7 L40.1,171.5 L40.3,172.4 L40.4,173.4 L40.5,174.4 L40.6,175.5 L40.7,176.6 L40.9,177.8 L41.0,179.1 L41.1,180.4 L41.2,181.7 L41.3,183.1 L41.5,184.5 L41.6,185.9 L41.7,187.3 L41.8,188.8 L41.9,190.2 L42.1,191.7 L42.2,193.2 L42.3,194.6 L42.4,196.1 L42.5,197.5 L42.7,199.0 L42.8,200.4 L42.9,201.7 L43.0,203.1 L43.1,204.4 L43.3,205.6 L43.4,206.9 L43.5,208.0 L43.6,209.2 L43.7,210.2 L43.8,211.3 L44.0,212.2 L44.1,213.1 L44.2,213.9 L44.3,214.7 L44.4,215.4 L44.6,216.0 L44.7,216.6 L44.8,217.1 L44.9,217.5 L45.0,217.8 L45.2,218.1 L45.3,218.3 L45.4,218.4 L45.5,218.5 L45.6,218.4 L45.8,218.3 L45.9,218.1 L46.0,217.9 L46.1,217.6 L46.2,217.2 L46.4,216.7 L46.5,216.2 L46.6,215.6 L46.7,215.0 L46.8,214.3 L47.0,213.5 L47.1,212.7 L47.2,211.9 L47.3,211.0 L47.4,210.1 L47.5,209.1 L47.7,208.1 L47.8,207.1 L47.9,206.0 L48.0,204.9 L48.1,203.9 L48.3,202.8 L48.4,201.6 L48.5,200.5 L48.6,199.4 L48.7,198.3 L48.9,197.2 L49.0,196.1 L49.1,195.0 L49.2,193.9 L49.3,192.9 L49.5,191.8 L49.6,190.8 L49.7,189.9 L49.8,188.9 L49.9,188.0 L50.1,187.2 L50.2,186.3 L50.3,185.5 L50.4,184.8 L50.5,184.1 L50.7,183.5 L50.8,182.9 L50.9,182.3 L51.0,181.9 L51.1,181.4 L51.2,181.0 L51.4,180.7 L51.5,180.4 L51.6,180.2 L51.7,180.0 L51.8,179.9 L52.0,179.9 L52.1,179.9 L52.2,179.9 L52.3,180.0 L52.4,180.2 L52.6,180.4 L52.7,180.6 L52.8,180.9 L52.9,181.3 L53.0,181.7 L53.2,182.1 L53.3,182.6 L53.4,183.1 L53.5,183.6 L53.6,184.2 L53.8,184.8 L53.9,185.4 L54.0,186.0 L54.1,186.7 L54.2,187.4 L54.4,188.1 L54.5,188.8 L54.6,189.6 L54.7,190.3 L54.8,191.1 L54.9,191.8 L55.1,192.6 L55.2,193.3 L55.3,194.1 L55.4,194.8 L55.5,195.6 L55.7,196.3 L55.8,197.0 L55.9,197.7 L56.0,198.4 L56.1,199.1 L56.3,199.7 L56.4,200.3 L56.5,200.9 L56.6,201.5 L56.7,202.1 L56.9,202.6 L57.0,203.1 L57.1,203.5 L57.2,204.0 L57.3,204.4 L57.5,204.7 L57.6,205.1 L57.7,205.4 L57.8,205.6 L57.9,205.9 L58.1,206.1 L58.2,206.2 L58.3,206.3 L58.4,206.4 L58.5,206.5 L58.7,206.5 L58.8,206.5 L58.9,206.5 L59.0,206.4 L59.1,206.3 L59.2,206.1 L59.4,205.9 L59.5,205.7 L59.6,205.5 L59.7,205.3 L59.8,205.0 L60.0,204.7 L60.1,204.3 L60.2,204.0 L60.3,203.6 L60.4,203.2 L60.6,202.8 L60.7,202.3 L60.8,201.9 L60.9,201.4 L61.0,200.9 L61.2,200.4 L61.3,199.9 L61.4,199.4 L61.5,198.9 L61.6,198.4 L61.8,197.9 L61.9,197.3 L62.0,196.8 L62.1,196.3 L62.2,195.8 L62.4,195.3 L62.5,194.7 L62.6,194.3 L62.7,193.8 L62.8,193.3 L62.9,192.8 L63.1,192.4 L63.2,192.0 L63.3,191.6 L63.4,191.2 L63.5,190.8 L63.7,190.4 L63.8,190.1 L63.9,189.8 L64.0,189.5 L64.1,189.3 L64.3,189.0 L64.4,188.8 L64.5,188.6 L64.6,188.5 L64.7,188.3 L64.9,188.2 L65.0,188.2 L65.1,188.1 L65.2,188.1 L65.3,188.1 L65.5,188.1 L65.6,188.1 L65.7,188.2 L65.8,188.3 L65.9,188.4 L66.1,188.6 L66.2,188.7 L66.3,188.9 L66.4,189.1 L66.5,189.4 L66.6,189.6 L66.8,189.9 L66.9,190.1 L67.0,190.4 L67.1,190.8 L67.2,191.1 L67.4,191.4 L67.5,191.8 L67.6,192.1 L67.7,192.5 L67.8,192.8 L68.0,193.2 L68.1,193.6 L68.2,194.0 L68.3,194.4 L68.4,194.7 L68.6,195.1 L68.7,195.5 L68.8,195.9 L68.9,196.3 L69.0,196.6 L69.2,197.0 L69.3,197.4 L69.4,197.7 L69.5,198.0 L69.6,198.4 L69.8,198.7 L69.9,199.0 L70.0,199.3 L70.1,199.5 L70.2,199.8 L70.3,200.0 L70.5,200.3 L70.6,200.5 L70.7,200.7 L70.8,200.8 L70.9,201.0 L71.1,201.1 L71.2,201.3 L71.3,201.4 L71.4,201.5 L71.5,201.5 L71.7,201.6 L71.8,201.6 L71.9,201.6 L72.0,201.6 L72.1,201.6 L72.3,201.5 L72.4,201.5 L72.5,201.4 L72.6,201.3 L72.7,201.2 L72.9,201.0 L73.0,200.9 L73.1,200.7 L73.2,200.6 L73.3,200.4 L73.5,200.2 L73.6,200.0 L73.7,199.8 L73.8,199.5 L73.9,199.3 L74.0,199.0 L74.2,198.8 L74.3,198.5 L74.4,198.3 L74.5,198.0 L74.6,197.7 L74.8,197.4 L74.9,197.1 L75.0,196.8 L75.1,196.6 L75.2,196.3 L75.4,196.0 L75.5,195.7 L75.6,195.4 L75.7,195.1 L75.8,194.9 L76.0,194.6 L76.1,194.3 L76.2,194.1 L76.3,193.8 L76.4,193.6 L76.6,193.4 L76.7,193.1 L76.8,192.9 L76.9,192.7 L77.0,192.5 L77.2,192.4 L77.3,192.2 L77.4,192.0 L77.5,191.9 L77.6,191.8 L77.7,191.7 L77.9,191.6 L78.0,191.5 L78.1,191.4 L78.2,191.3 L78.3,191.3 L78.5,191.3 L78.6,191.2 L78.7,191.2 L78.8,191.3 L78.9,191.3 L79.1,191.3 L79.2,191.4 L79.3,191.5 L79.4,191.5 L79.5,191.6 L79.7,191.8 L79.8,191.9 L79.9,192.0 L80.0,192.2 L80.1,192.3 L80.3,192.5 L80.4,192.7 L80.5,192.9 L80.6,193.1 L80.7,193.3 L80.9,193.5 L81.0,193.7 L81.1,194.0 L81.2,194.2 L81.3,194.5 L81.4,194.7 L81.6,195.0 L81.7,195.2 L81.8,195.5 L81.9,195.7 L82.0,196.0 L82.2,196.3 L82.3,196.5 L82.4,196.8 L82.5,197.0 L82.6,197.3 L82.8,197.5 L82.9,197.8 L83.0,198.0 L83.1,198.3 L83.2,198.5 L83.4,198.7 L83.5,198.9 L83.6,199.1 L83.7,199.3 L83.8,199.4 L84.0,199.6 L84.1,199.8 L84.2,199.9 L84.3,200.0 L84.4,200.1 L84.6,200.2 L84.7,200.3 L84.8,200.4 L84.9,200.4 L85.0,200.5 L85.2,200.5 L85.3,200.5 L85.4,200.5 L85.5,200.5 L85.6,200.5 L85.7,200.4 L85.9,200.4 L86.0,200.3 L86.1,200.2 L86.2,200.1 L86.3,200.0 L86.5,199.8 L86.6,199.7 L86.7,199.5 L86.8,199.4 L86.9,199.2 L87.1,199.0 L87.2,198.8 L87.3,198.6 L87.4,198.4 L87.5,198.1 L87.7,197.9 L87.8,197.7 L87.9,197.4 L88.0,197.2 L88.1,196.9 L88.3,196.7 L88.4,196.4 L88.5,196.1 L88.6,195.9 L88.7,195.6 L88.9,195.3 L89.0,195.1 L89.1,194.8 L89.2,194.6 L89.3,194.3 L89.4,194.1 L89.6,193.8 L89.7,193.6 L89.8,193.4 L89.9,193.2 L90.0,193.0 L90.2,192.8 L90.3,192.6 L90.4,192.4 L90.5,192.2 L90.6,192.1 L90.8,191.9 L90.9,191.8 L91.0,191.7 L91.1,191.6 L91.2,191.5 L91.4,191.4 L91.5,191.4 L91.6,191.3 L91.7,191.3 L91.8,191.3 L92.0,191.3 L92.1,191.3 L92.2,191.3 L92.3,191.4 L92.4,191.4 L92.6,191.5 L92.7,191.6 L92.8,191.7 L92.9,191.8 L93.0,191.9 L93.1,192.1 L93.3,192.2 L93.4,192.4 L93.5,192.6 L93.6,192.8 L93.7,193.0 L93.9,193.2 L94.0,193.4 L94.1,193.6 L94.2,193.8 L94.3,194.1 L94.5,194.3 L94.6,194.6 L94.7,194.8 L94.8,195.1 L94.9,195.3 L95.1,195.6 L95.2,195.9 L95.3,196.1 L95.4,196.4 L95.5,196.6 L95.7,196.9 L95.8,197.1 L95.9,197.4 L96.0,197.6 L96.1,197.9 L96.3,198.1 L96.4,198.3 L96.5,198.6 L96.6,198.8 L96.7,199.0 L96.8,199.2 L97.0,199.3 L97.1,199.5 L97.2,199.7 L97.3,199.8 L97.4,200.0 L97.6,200.1 L97.7,200.2 L97.8,200.3 L97.9,200.3 L98.0,200.4 L98.2,200.5 L98.3,200.5 L98.4,200.5 L98.5,200.5 L98.6,200.5 L98.8,200.5 L98.9,200.4 L99.0,200.4 L99.1,200.3 L99.2,200.2 L99.4,200.1 L99.5,200.0 L99.6,199.9 L99.7,199.8 L99.8,199.6 L100.0,199.5 L100.1,199.3 L100.2,199.1 L100.3,198.9 L100.4,198.7 L100.5,198.5 L100.7,198.3 L100.8,198.0 L100.9,197.8 L101.0,197.6 L101.1,197.3 L101.3,197.1 L101.4,196.8 L101.5,196.6 L101.6,196.3 L101.7,196.0 L101.9,195.8 L102.0,195.5 L102.1,195.2 L102.2,195.0 L102.3,194.7 L102.5,194.5 L102.6,194.2 L102.7,194.0 L102.8,193.7 L102.9,193.5 L103.1,193.3 L103.2,193.0 L103.3,192.8 L103.4,192.6 L103.5,192.4 L103.7,192.3 L103.8,192.1 L103.9,191.9 L104.0,191.8 L104.1,191.6 L104.2,191.5 L104.4,191.4 L104.5,191.3 L104.6,191.2 L104.7,191.2 L104.8,191.1 L105.0,191.1 L105.1,191.1 L105.2,191.1 L105.3,191.1 L105.4,191.1 L105.6,191.2 L105.7,191.2 L105.8,191.3 L105.9,191.4 L106.0,191.5 L106.2,191.6 L106.3,191.7 L106.4,191.9 L106.5,192.1 L106.6,192.2 L106.8,192.4 L106.9,192.6 L107.0,192.8 L107.1,193.0 L107.2,193.3 L107.4,193.5 L107.5,193.8 L107.6,194.0 L107.7,194.3 L107.8,194.5 L108.0,194.8 L108.1,195.1 L108.2,195.4 L108.3,195.7 L108.4,196.0 L108.5,196.3 L108.7,196.6 L108.8,196.8 L108.9,197.1 L109.0,197.4 L109.1,197.7 L109.3,198.0 L109.4,198.3 L109.5,198.5 L109.6,198.8 L109.7,199.0 L109.9,199.3 L110.0,199.5 L110.1,199.7 L110.2,199.9 L110.3,200.1 L110.5,200.3 L110.6,200.5 L110.7,200.7 L110.8,200.8 L110.9,200.9 L111.1,201.1 L111.2,201.2 L111.3,201.2 L111.4,201.3 L111.5,201.3 L111.7,201.4 L111.8,201.4 L111.9,201.4 L112.0,201.4 L112.1,201.3 L112.2,201.3 L112.4,201.2 L112.5,201.1 L112.6,201.0 L112.7,200.9 L112.8,200.7 L113.0,200.6 L113.1,200.4 L113.2,200.2 L113.3,200.0 L113.4,199.8 L113.6,199.5 L113.7,199.3 L113.8,199.0 L113.9,198.7 L114.0,198.5 L114.2,198.2 L114.3,197.9 L114.4,197.6 L114.5,197.2 L114.6,196.9 L114.8,196.6 L114.9,196.3 L115.0,195.9 L115.1,195.6 L115.2,195.2 L115.4,194.9 L115.5,194.6 L115.6,194.2 L115.7,193.9 L115.8,193.6 L115.9,193.3 L116.1,193.0 L116.2,192.7 L116.3,192.4 L116.4,192.1 L116.5,191.8 L116.7,191.5 L116.8,191.3 L116.9,191.1 L117.0,190.8 L117.1,190.6 L117.3,190.4 L117.4,190.3 L117.5,190.1 L117.6,190.0 L117.7,189.9 L117.9,189.8 L118.0,189.7 L118.1,189.6 L118.2,189.6 L118.3,189.5 L118.5,189.5 L118.6,189.6 L118.7,189.6 L118.8,189.6 L118.9,189.7 L119.1,189.8 L119.2,189.9 L119.3,190.1 L119.4,190.2 L119.5,190.4 L119.6,190.6 L119.8,190.8 L119.9,191.1 L120.0,191.3 L120.1,191.6 L120.2,191.9 L120.4,192.2 L120.5,192.5 L120.6,192.8 L120.7,193.1 L120.8,193.5 L121.0,193.8 L121.1,194.2 L121.2,194.6 L121.3,195.0 L121.4,195.4 L121.6,195.8 L121.7,196.2 L121.8,196.6 L121.9,197.0 L122.0,197.4 L122.2,197.8 L122.3,198.2 L122.4,198.6 L122.5,199.0 L122.6,199.4 L122.8,199.7 L122.9,200.1 L123.0,200.5 L123.1,200.8 L123.2,201.1 L123.3,201.5 L123.5,201.8 L123.6,202.1 L123.7,202.3 L123.8,202.6 L123.9,202.8 L124.1,203.0 L124.2,203.2 L124.3,203.4 L124.4,203.5 L124.5,203.6 L124.7,203.7 L124.8,203.8 L124.9,203.9 L125.0,203.9 L125.1,203.9 L125.3,203.9 L125.4,203.8 L125.5,203.7 L125.6,203.6 L125.7,203.5 L125.9,203.3 L126.0,203.1 L126.1,202.9 L126.2,202.7 L126.3,202.4 L126.5,202.1 L126.6,201.8 L126.7,201.5 L126.8,201.2 L126.9,200.8 L127.0,200.4 L127.2,200.0 L127.3,199.6 L127.4,199.1 L127.5,198.7 L127.6,198.2 L127.8,197.7 L127.9,197.2 L128.0,196.7 L128.1,196.2 L128.2,195.7 L128.4,195.2 L128.5,194.7 L128.6,194.2 L128.7,193.7 L128.8,193.1 L129.0,192.6 L129.1,192.1 L129.2,191.6 L129.3,191.2 L129.4,190.7 L129.6,190.2 L129.7,189.8 L129.8,189.4 L129.9,188.9 L130.0,188.6 L130.2,188.2 L130.3,187.8 L130.4,187.5 L130.5,187.2 L130.6,186.9 L130.8,186.7 L130.9,186.5 L131.0,186.3 L131.1,186.1 L131.2,186.0 L131.3,185.9 L131.5,185.9 L131.6,185.8 L131.7,185.8 L131.8,185.9 L131.9,185.9 L132.1,186.0 L132.2,186.2 L132.3,186.3 L132.4,186.5 L132.5,186.8 L132.7,187.0 L132.8,187.3 L132.9,187.7 L133.0,188.0 L133.1,188.4 L133.3,188.8 L133.4,189.2 L133.5,189.7 L133.6,190.2 L133.7,190.7 L133.9,191.2 L134.0,191.8 L134.1,192.3 L134.2,192.9 L134.3,193.5 L134.5,194.1 L134.6,194.7 L134.7,195.3 L134.8,195.9 L134.9,196.6 L135.0,197.2 L135.2,197.8 L135.3,198.5 L135.4,199.1 L135.5,199.7 L135.6,200.3 L135.8,200.9 L135.9,201.5 L136.0,202.0 L136.1,202.6 L136.2,203.1 L136.4,203.6 L136.5,204.1 L136.6,204.6 L136.7,205.0 L136.8,205.4 L137.0,205.8 L137.1,206.1 L137.2,206.4 L137.3,206.7 L137.4,207.0 L137.6,207.2 L137.7,207.3 L137.8,207.5 L137.9,207.6 L138.0,207.6 L138.2,207.7 L138.3,207.7 L138.4,207.6 L138.5,207.5 L138.6,207.4 L138.7,207.2 L138.9,207.0 L139.0,206.8 L139.1,206.5 L139.2,206.2 L139.3,205.8 L139.5,205.5 L139.6,205.0 L139.7,204.6 L139.8,204.1 L139.9,203.6 L140.1,203.1 L140.2,202.5 L140.3,202.0 L140.4,201.4 L140.5,200.7 L140.7,200.1 L140.8,199.5 L140.9,198.8 L141.0,198.1 L141.1,197.4 L141.3,196.7 L141.4,196.1 L141.5,195.4 L141.6,194.7 L141.7,194.0 L141.9,193.3 L142.0,192.6 L142.1,191.9 L142.2,191.3 L142.3,190.6 L142.4,190.0 L142.6,189.4 L142.7,188.8 L142.8,188.3 L142.9,187.7 L143.0,187.2 L143.2,186.7 L143.3,186.3 L143.4,185.9 L143.5,185.5 L143.6,185.1 L143.8,184.8 L143.9,184.5 L144.0,184.3 L144.1,184.1 L144.2,183.9 L144.4,183.8 L144.5,183.7 L144.6,183.6 L144.7,183.6 L144.8,183.6 L145.0,183.7 L145.1,183.8 L145.2,183.9 L145.3,184.1 L145.4,184.4 L145.6,184.6 L145.7,184.9 L145.8,185.3 L145.9,185.6 L146.0,186.0 L146.1,186.5 L146.3,186.9 L146.4,187.4 L146.5,187.9 L146.6,188.5 L146.7,189.0 L146.9,189.6 L147.0,190.2 L147.1,190.9 L147.2,191.5 L147.3,192.2 L147.5,192.8 L147.6,193.5 L147.7,194.2 L147.8,194.9 L147.9,195.6 L148.1,196.2 L148.2,196.9 L148.3,197.6 L148.4,198.3 L148.5,198.9 L148.7,199.6 L148.8,200.2 L148.9,200.9 L149.0,201.5 L149.1,202.1 L149.3,202.6 L149.4,203.2 L149.5,203.7 L149.6,204.2 L149.7,204.7 L149.8,205.1 L150.0,205.5 L150.1,205.9 L150.2,206.2 L150.3,206.5 L150.4,206.8 L150.6,207.0 L150.7,207.2 L150.8,207.4 L150.9,207.5 L151.0,207.6 L151.2,207.7 L151.3,207.7 L151.4,207.6 L151.5,207.6 L151.6,207.5 L151.8,207.3 L151.9,207.1 L152.0,206.9 L152.1,206.7 L152.2,206.4 L152.4,206.1 L152.5,205.7 L152.6,205.4 L152.7,204.9 L152.8,204.5 L153.0,204.0 L153.1,203.6 L153.2,203.0 L153.3,202.5 L153.4,202.0 L153.5,201.4 L153.7,200.8 L153.8,200.2 L153.9,199.6 L154.0,199.0 L154.1,198.3 L154.3,197.7 L154.4,197.1 L154.5,196.4 L154.6,195.8 L154.7,195.1 L154.9,194.5 L155.0,193.9 L155.1,193.2 L155.2,192.6 L155.3,192.0 L155.5,191.5 L155.6,190.9 L155.7,190.3 L155.8,189.8 L155.9,189.3 L156.1,188.8 L156.2,188.4 L156.3,187.9 L156.4,187.5 L156.5,187.2 L156.7,186.8 L156.8,186.5 L156.9,186.2 L157.0,186.0 L157.1,185.7 L157.3,185.6 L157.4,185.4 L157.5,185.3 L157.6,185.2 L157.7,185.2 L157.8,185.1 L158.0,185.2 L158.1,185.2 L158.2,185.3 L158.3,185.4 L158.4,185.6 L158.6,185.8 L158.7,186.0 L158.8,186.3 L158.9,186.5 L159.0,186.9 L159.2,187.2 L159.3,187.6 L159.4,188.0 L159.5,188.4 L159.6,188.8 L159.8,189.3 L159.9,189.8 L160.0,190.3 L160.1,190.8 L160.2,191.3 L160.4,191.8 L160.5,192.4 L160.6,193.0 L160.7,193.5 L160.8,194.1 L161.0,194.7 L161.1,195.3 L161.2,195.8 L161.3,196.4 L161.4,197.0 L161.5,197.6 L161.7,198.1 L161.8,198.7 L161.9,199.2 L162.0,199.8 L162.1,200.3 L162.3,200.8 L162.4,201.2 L162.5,201.7 L162.6,202.2 L162.7,202.6 L162.9,203.0 L163.0,203.3 L163.1,203.7 L163.2,204.0 L163.3,204.3 L163.5,204.6 L163.6,204.8 L163.7,205.0 L163.8,205.2 L163.9,205.3 L164.1,205.4 L164.2,205.5 L164.3,205.6 L164.4,205.6 L164.5,205.6 L164.7,205.5 L164.8,205.5 L164.9,205.4 L165.0,205.2 L165.1,205.1 L165.2,204.9 L165.4,204.7 L165.5,204.4 L165.6,204.1 L165.7,203.8 L165.8,203.5 L166.0,203.2 L166.1,202.8 L166.2,202.4 L166.3,202.0 L166.4,201.6 L166.6,201.1 L166.7,200.7 L166.8,200.2 L166.9,199.7 L167.0,199.2 L167.2,198.7 L167.3,198.2 L167.4,197.7 L167.5,197.1 L167.6,196.6 L167.8,196.1 L167.9,195.6 L168.0,195.1 L168.1,194.5 L168.2,194.0 L168.4,193.5 L168.5,193.0 L168.6,192.5 L168.7,192.1 L168.8,191.6 L168.9,191.2 L169.1,190.8 L169.2,190.4 L169.3,190.0 L169.4,189.6 L169.5,189.3 L169.7,188.9 L169.8,188.7 L169.9,188.4 L170.0,188.1 L170.1,187.9 L170.3,187.7 L170.4,187.6 L170.5,187.4 L170.6,187.3 L170.7,187.2 L170.9,187.2 L171.0,187.1 L171.1,187.1 L171.2,187.2 L171.3,187.2 L171.5,187.3 L171.6,187.4 L171.7,187.6 L171.8,187.7 L171.9,187.9 L172.1,188.2 L172.2,188.4 L172.3,188.7 L172.4,189.0 L172.5,189.3 L172.6,189.6 L172.8,189.9 L172.9,190.3 L173.0,190.7 L173.1,191.1 L173.2,191.5 L173.4,191.9 L173.5,192.4 L173.6,192.8 L173.7,193.3 L173.8,193.7 L174.0,194.2 L174.1,194.6 L174.2,195.1 L174.3,195.6 L174.4,196.1 L174.6,196.5 L174.7,197.0 L174.8,197.4 L174.9,197.9 L175.0,198.3 L175.2,198.8 L175.3,199.2 L175.4,199.6 L175.5,200.0 L175.6,200.4 L175.8,200.7 L175.9,201.1 L176.0,201.4 L176.1,201.7 L176.2,202.0 L176.3,202.3 L176.5,202.5 L176.6,202.7 L176.7,202.9 L176.8,203.1 L176.9,203.3 L177.1,203.4 L177.2,203.5 L177.3,203.6 L177.4,203.6 L177.5,203.6 L177.7,203.6 L177.8,203.6 L177.9,203.6 L178.0,203.5 L178.1,203.4 L178.3,203.3 L178.4,203.1 L178.5,203.0 L178.6,202.8 L178.7,202.6 L178.9,202.3 L179.0,202.1 L179.1,201.8 L179.2,201.5 L179.3,201.2 L179.5,200.9 L179.6,200.6 L179.7,200.2 L179.8,199.9 L179.9,199.5 L180.1,199.1 L180.2,198.7 L180.3,198.3 L180.4,197.9 L180.5,197.5 L180.6,197.1 L180.8,196.7 L180.9,196.3 L181.0,195.9 L181.1,195.5 L181.2,195.1 L181.4,194.7 L181.5,194.3 L181.6,193.9 L181.7,193.5 L181.8,193.1 L182.0,192.8 L182.1,192.4 L182.2,192.1 L182.3,191.8 L182.4,191.5 L182.6,191.2 L182.7,190.9 L182.8,190.7 L182.9,190.4 L183.0,190.2 L183.2,190.0 L183.3,189.9 L183.4,189.7 L183.5,189.6 L183.6,189.5 L183.8,189.4 L183.9,189.3 L184.0,189.2 L184.1,189.2 L184.2,189.2 L184.3,189.2 L184.5,189.3 L184.6,189.3 L184.7,189.4 L184.8,189.5 L184.9,189.6 L185.1,189.8 L185.2,189.9 L185.3,190.1 L185.4,190.3 L185.5,190.5 L185.7,190.8 L185.8,191.0 L185.9,191.3 L186.0,191.5 L186.1,191.8 L186.3,192.1 L186.4,192.4 L186.5,192.7 L186.6,193.1 L186.7,193.4 L186.9,193.7 L187.0,194.1 L187.1,194.4 L187.2,194.8 L187.3,195.1 L187.5,195.5 L187.6,195.8 L187.7,196.2 L187.8,196.5 L187.9,196.8 L188.0,197.2 L188.2,197.5 L188.3,197.8 L188.4,198.1 L188.5,198.4 L188.6,198.7 L188.8,199.0 L188.9,199.3 L189.0,199.5 L189.1,199.8 L189.2,200.0 L189.4,200.2 L189.5,200.4 L189.6,200.6" fill="none" stroke="#d83c4a" stroke-width="0.75" />
<rect x="22.60" y="157.50" width="167.00" height="78.00" fill="none" stroke="#7a7a7a" stroke-width="1.0"/>
<line x1="56.00" y1="235.50" x2="56.00" y2="233.00" stroke="#7a7a7a" stroke-width="0.8"/>
<line x1="89.40" y1="235.50" x2="89.40" y2="233.00" stroke="#7a7a7a" stroke-width="0.8"/>
<line x1="122.80" y1="235.50" x2="122.80" y2="233.00" stroke="#7a7a7a" stroke-width="0.8"/>
<line x1="156.20" y1="235.50" x2="156.20" y2="233.00" stroke="#7a7a7a" stroke-width="0.8"/>
<line x1="22.60" y1="177.00" x2="25.10" y2="177.00" stroke="#7a7a7a" stroke-width="0.8"/>
<line x1="22.60" y1="196.50" x2="25.10" y2="196.50" stroke="#7a7a7a" stroke-width="0.8"/>
<line x1="22.60" y1="216.00" x2="25.10" y2="216.00" stroke="#7a7a7a" stroke-width="0.8"/>
<text x="19.40" y="161.20" font-size="9.3" text-anchor="end" fill="#1e1e1e" font-weight="normal" stroke="#1e1e1e" stroke-width="0.18" >1</text>
<text x="19.80" y="237.60" font-size="9.3" text-anchor="end" fill="#1e1e1e" font-weight="normal" stroke="#1e1e1e" stroke-width="0.18" >0</text>
<text x="0" y="0" font-size="9.8" text-anchor="middle" fill="#1e1e1e" stroke="#1e1e1e" stroke-width="0.18" transform="translate(7.30,196.45) rotate(-90)">Qubit population</text>
<text x="106.00" y="149.30" font-size="9.75" text-anchor="middle" fill="#1e1e1e" font-weight="normal" stroke="#1e1e1e" stroke-width="0.18" >Master equation simulation</text>
<line x1="117.3" y1="162.8" x2="135.6" y2="162.8" stroke="#4448c4" stroke-width="0.6"/>
<text x="139.6" y="165.5" font-size="8.6" fill="#1e1e1e"><tspan font-family="Liberation Serif" font-style="italic">φ</tspan><tspan font-size="5.6" dy="1.6">1</tspan><tspan dy="-1.6"> = </tspan><tspan font-family="Liberation Serif" font-style="italic">π</tspan> / 2</text>
<line x1="117.3" y1="173.7" x2="135.6" y2="173.7" stroke="#d83c4a" stroke-width="0.6"/>
<text x="139.6" y="176.8" font-size="8.6" fill="#1e1e1e"><tspan font-family="Liberation Serif" font-style="italic">φ</tspan><tspan font-size="5.6" dy="1.6">1</tspan><tspan dy="-1.6"> = 3</tspan><tspan font-family="Liberation Serif" font-style="italic">π</tspan> / 2</text>
<text transform="translate(180.30,231.80) scale(0.9,1)" font-size="15" font-weight="bold" fill="#111">f</text>
<path d="M203.5,197.7 L205.0,187.6 L206.5,175.0 L208.0,169.7 L209.5,172.4 L211.0,188.8 L212.5,207.5 L214.0,213.9 L215.5,207.0 L217.0,196.0 L218.5,190.5 L220.0,188.3 L221.5,196.0 L223.0,206.0 L224.5,202.7 L226.0,195.3 L227.5,192.5 L229.0,200.6 L230.5,201.9 L232.0,199.6 L233.5,195.6 L235.0,194.1 L236.5,202.5 L238.0,200.2 L239.5,199.8 L241.0,192.8 L242.5,197.2 L244.0,199.5 L245.5,201.4 L247.0,197.1 L248.5,192.7 L250.0,196.1 L251.5,200.7 L253.0,201.4 L254.5,196.0 L256.0,193.9 L257.5,197.1 L259.0,200.0 L260.5,199.1 L262.0,196.9 L263.5,198.1 L265.0,199.8 L266.5,201.1 L268.0,198.5 L269.5,197.8 L271.0,197.0 L272.5,197.2 L274.0,201.4 L275.5,199.5 L277.0,197.0 L278.5,199.1 L280.0,200.2 L281.5,201.4 L283.0,200.6 L284.5,198.2 L286.0,196.1 L287.5,199.1 L289.0,201.7 L290.5,198.0 L292.0,197.3 L293.5,198.3 L295.0,201.6 L296.5,202.0 L298.0,199.7 L299.5,196.8 L301.0,199.1 L302.5,200.9 L304.0,200.5 L305.5,200.1 L307.0,196.9 L308.5,196.7 L310.0,203.7 L311.5,201.0 L313.0,198.4 L314.5,191.8 L316.0,198.2 L317.5,200.6 L319.0,199.4 L320.5,192.1 L322.0,199.2 L323.5,198.7 L325.0,203.9 L326.5,203.6 L328.0,195.1 L329.5,195.6 L331.0,196.8 L332.5,204.1 L334.0,199.5 L335.5,195.8 L337.0,195.2 L338.5,197.5 L340.0,199.6 L341.5,197.3 L343.0,195.8 L344.5,196.3 L346.0,202.2 L347.5,198.9 L349.0,192.7 L350.5,192.5 L352.0,195.3 L353.5,200.5 L355.0,203.7 L356.5,197.4 L358.0,191.3 L359.5,194.8 L361.0,202.4 L362.5,202.3 L364.0,196.8 L365.5,199.1 L367.0,197.0 L368.5,202.3" fill="none" stroke="#d8545a" stroke-width="0.6" />
<path d="M203.5,195.5V199.9M205.0,185.4V189.8M206.5,172.8V177.2M208.0,167.5V171.9M209.5,170.2V174.6M211.0,186.6V191.0M212.5,205.3V209.7M214.0,211.7V216.1M215.5,204.8V209.2M217.0,193.8V198.2M218.5,188.3V192.7M220.0,186.1V190.5M221.5,193.8V198.2M223.0,203.8V208.2M224.5,200.5V204.9M226.0,193.1V197.5M227.5,190.3V194.7M229.0,198.4V202.8M230.5,199.7V204.1M232.0,197.4V201.8M233.5,193.4V197.8M235.0,191.9V196.3M236.5,200.3V204.7M238.0,198.0V202.4M239.5,197.6V202.0M241.0,190.6V195.0M242.5,195.0V199.4M244.0,197.3V201.7M245.5,199.2V203.6M247.0,194.9V199.3M248.5,190.5V194.9M250.0,193.9V198.3M251.5,198.5V202.9M253.0,199.2V203.6M254.5,193.8V198.2M256.0,191.7V196.1M257.5,194.9V199.3M259.0,197.8V202.2M260.5,196.9V201.3M262.0,194.7V199.1M263.5,195.9V200.3M265.0,197.6V202.0M266.5,198.9V203.3M268.0,196.3V200.7M269.5,195.6V200.0M271.0,194.8V199.2M272.5,195.0V199.4M274.0,199.2V203.6M275.5,197.3V201.7M277.0,194.8V199.2M278.5,196.9V201.3M280.0,198.0V202.4M281.5,199.2V203.6M283.0,198.4V202.8M284.5,196.0V200.4M286.0,193.9V198.3M287.5,196.9V201.3M289.0,199.5V203.9M290.5,195.8V200.2M292.0,195.1V199.5M293.5,196.1V200.5M295.0,199.4V203.8M296.5,199.8V204.2M298.0,197.5V201.9M299.5,194.6V199.0M301.0,196.9V201.3M302.5,198.7V203.1M304.0,198.3V202.7M305.5,197.9V202.3M307.0,194.7V199.1M308.5,194.5V198.9M310.0,201.5V205.9M311.5,198.8V203.2M313.0,196.2V200.6M314.5,189.6V194.0M316.0,196.0V200.4M317.5,198.4V202.8M319.0,197.2V201.6M320.5,189.9V194.3M322.0,197.0V201.4M323.5,196.5V200.9M325.0,201.7V206.1M326.5,201.4V205.8M328.0,192.9V197.3M329.5,193.4V197.8M331.0,194.6V199.0M332.5,201.9V206.3M334.0,197.3V201.7M335.5,193.6V198.0M337.0,193.0V197.4M338.5,195.3V199.7M340.0,197.4V201.8M341.5,195.1V199.5M343.0,193.6V198.0M344.5,194.1V198.5M346.0,200.0V204.4M347.5,196.7V201.1M349.0,190.5V194.9M350.5,190.3V194.7M352.0,193.1V197.5M353.5,198.3V202.7M355.0,201.5V205.9M356.5,195.2V199.6M358.0,189.1V193.5M359.5,192.6V197.0M361.0,200.2V204.6M362.5,200.1V204.5M364.0,194.6V199.0M365.5,196.9V201.3M367.0,194.8V199.2M368.5,200.1V204.5" stroke="#d8545a" stroke-width="0.6" fill="none"/>
<g fill="#b01a20"><circle cx="203.5" cy="197.7" r="1.05"/><circle cx="205.0" cy="187.6" r="1.05"/><circle cx="206.5" cy="175.0" r="1.05"/><circle cx="208.0" cy="169.7" r="1.05"/><circle cx="209.5" cy="172.4" r="1.05"/><circle cx="211.0" cy="188.8" r="1.05"/><circle cx="212.5" cy="207.5" r="1.05"/><circle cx="214.0" cy="213.9" r="1.05"/><circle cx="215.5" cy="207.0" r="1.05"/><circle cx="217.0" cy="196.0" r="1.05"/><circle cx="218.5" cy="190.5" r="1.05"/><circle cx="220.0" cy="188.3" r="1.05"/><circle cx="221.5" cy="196.0" r="1.05"/><circle cx="223.0" cy="206.0" r="1.05"/><circle cx="224.5" cy="202.7" r="1.05"/><circle cx="226.0" cy="195.3" r="1.05"/><circle cx="227.5" cy="192.5" r="1.05"/><circle cx="229.0" cy="200.6" r="1.05"/><circle cx="230.5" cy="201.9" r="1.05"/><circle cx="232.0" cy="199.6" r="1.05"/><circle cx="233.5" cy="195.6" r="1.05"/><circle cx="235.0" cy="194.1" r="1.05"/><circle cx="236.5" cy="202.5" r="1.05"/><circle cx="238.0" cy="200.2" r="1.05"/><circle cx="239.5" cy="199.8" r="1.05"/><circle cx="241.0" cy="192.8" r="1.05"/><circle cx="242.5" cy="197.2" r="1.05"/><circle cx="244.0" cy="199.5" r="1.05"/><circle cx="245.5" cy="201.4" r="1.05"/><circle cx="247.0" cy="197.1" r="1.05"/><circle cx="248.5" cy="192.7" r="1.05"/><circle cx="250.0" cy="196.1" r="1.05"/><circle cx="251.5" cy="200.7" r="1.05"/><circle cx="253.0" cy="201.4" r="1.05"/><circle cx="254.5" cy="196.0" r="1.05"/><circle cx="256.0" cy="193.9" r="1.05"/><circle cx="257.5" cy="197.1" r="1.05"/><circle cx="259.0" cy="200.0" r="1.05"/><circle cx="260.5" cy="199.1" r="1.05"/><circle cx="262.0" cy="196.9" r="1.05"/><circle cx="263.5" cy="198.1" r="1.05"/><circle cx="265.0" cy="199.8" r="1.05"/><circle cx="266.5" cy="201.1" r="1.05"/><circle cx="268.0" cy="198.5" r="1.05"/><circle cx="269.5" cy="197.8" r="1.05"/><circle cx="271.0" cy="197.0" r="1.05"/><circle cx="272.5" cy="197.2" r="1.05"/><circle cx="274.0" cy="201.4" r="1.05"/><circle cx="275.5" cy="199.5" r="1.05"/><circle cx="277.0" cy="197.0" r="1.05"/><circle cx="278.5" cy="199.1" r="1.05"/><circle cx="280.0" cy="200.2" r="1.05"/><circle cx="281.5" cy="201.4" r="1.05"/><circle cx="283.0" cy="200.6" r="1.05"/><circle cx="284.5" cy="198.2" r="1.05"/><circle cx="286.0" cy="196.1" r="1.05"/><circle cx="287.5" cy="199.1" r="1.05"/><circle cx="289.0" cy="201.7" r="1.05"/><circle cx="290.5" cy="198.0" r="1.05"/><circle cx="292.0" cy="197.3" r="1.05"/><circle cx="293.5" cy="198.3" r="1.05"/><circle cx="295.0" cy="201.6" r="1.05"/><circle cx="296.5" cy="202.0" r="1.05"/><circle cx="298.0" cy="199.7" r="1.05"/><circle cx="299.5" cy="196.8" r="1.05"/><circle cx="301.0" cy="199.1" r="1.05"/><circle cx="302.5" cy="200.9" r="1.05"/><circle cx="304.0" cy="200.5" r="1.05"/><circle cx="305.5" cy="200.1" r="1.05"/><circle cx="307.0" cy="196.9" r="1.05"/><circle cx="308.5" cy="196.7" r="1.05"/><circle cx="310.0" cy="203.7" r="1.05"/><circle cx="311.5" cy="201.0" r="1.05"/><circle cx="313.0" cy="198.4" r="1.05"/><circle cx="314.5" cy="191.8" r="1.05"/><circle cx="316.0" cy="198.2" r="1.05"/><circle cx="317.5" cy="200.6" r="1.05"/><circle cx="319.0" cy="199.4" r="1.05"/><circle cx="320.5" cy="192.1" r="1.05"/><circle cx="322.0" cy="199.2" r="1.05"/><circle cx="323.5" cy="198.7" r="1.05"/><circle cx="325.0" cy="203.9" r="1.05"/><circle cx="326.5" cy="203.6" r="1.05"/><circle cx="328.0" cy="195.1" r="1.05"/><circle cx="329.5" cy="195.6" r="1.05"/><circle cx="331.0" cy="196.8" r="1.05"/><circle cx="332.5" cy="204.1" r="1.05"/><circle cx="334.0" cy="199.5" r="1.05"/><circle cx="335.5" cy="195.8" r="1.05"/><circle cx="337.0" cy="195.2" r="1.05"/><circle cx="338.5" cy="197.5" r="1.05"/><circle cx="340.0" cy="199.6" r="1.05"/><circle cx="341.5" cy="197.3" r="1.05"/><circle cx="343.0" cy="195.8" r="1.05"/><circle cx="344.5" cy="196.3" r="1.05"/><circle cx="346.0" cy="202.2" r="1.05"/><circle cx="347.5" cy="198.9" r="1.05"/><circle cx="349.0" cy="192.7" r="1.05"/><circle cx="350.5" cy="192.5" r="1.05"/><circle cx="352.0" cy="195.3" r="1.05"/><circle cx="353.5" cy="200.5" r="1.05"/><circle cx="355.0" cy="203.7" r="1.05"/><circle cx="356.5" cy="197.4" r="1.05"/><circle cx="358.0" cy="191.3" r="1.05"/><circle cx="359.5" cy="194.8" r="1.05"/><circle cx="361.0" cy="202.4" r="1.05"/><circle cx="362.5" cy="202.3" r="1.05"/><circle cx="364.0" cy="196.8" r="1.05"/><circle cx="365.5" cy="199.1" r="1.05"/><circle cx="367.0" cy="197.0" r="1.05"/><circle cx="368.5" cy="202.3" r="1.05"/></g>
<path d="M203.5,197.7 L205.0,212.0 L206.5,226.0 L208.0,229.0 L209.5,226.0 L211.0,212.5 L212.5,192.6 L214.0,178.5 L215.5,179.4 L217.0,191.0 L218.5,207.4 L220.0,215.3 L221.5,202.0 L223.0,186.2 L224.5,189.1 L226.0,201.5 L227.5,202.9 L229.0,200.6 L230.5,193.5 L232.0,198.6 L233.5,200.9 L235.0,206.0 L236.5,201.0 L238.0,198.1 L239.5,199.8 L241.0,204.3 L242.5,198.8 L244.0,198.3 L245.5,195.4 L247.0,198.8 L248.5,202.1 L250.0,200.7 L251.5,198.8 L253.0,199.0 L254.5,201.3 L256.0,201.2 L257.5,201.5 L259.0,198.4 L260.5,200.4 L262.0,200.0 L263.5,198.5 L265.0,199.8 L266.5,201.3 L268.0,199.9 L269.5,201.1 L271.0,202.8 L272.5,200.7 L274.0,199.3 L275.5,199.0 L277.0,201.7 L278.5,202.0 L280.0,199.1 L281.5,197.4 L283.0,200.1 L284.5,203.0 L286.0,202.4 L287.5,200.2 L289.0,199.3 L290.5,203.3 L292.0,202.3 L293.5,202.7 L295.0,201.7 L296.5,198.8 L298.0,200.9 L299.5,203.4 L301.0,203.3 L302.5,199.4 L304.0,199.0 L305.5,201.1 L307.0,201.3 L308.5,203.1 L310.0,197.2 L311.5,194.6 L313.0,201.7 L314.5,200.8 L316.0,198.8 L317.5,196.6 L319.0,195.6 L320.5,205.2 L322.0,201.4 L323.5,200.8 L325.0,197.0 L326.5,201.2 L328.0,205.8 L329.5,205.2 L331.0,199.5 L332.5,195.2 L334.0,201.2 L335.5,202.9 L337.0,205.4 L338.5,198.2 L340.0,195.9 L341.5,198.9 L343.0,209.5 L344.5,202.1 L346.0,198.2 L347.5,196.1 L349.0,201.6 L350.5,205.9 L352.0,203.7 L353.5,199.1 L355.0,192.6 L356.5,201.0 L358.0,202.1 L359.5,202.4 L361.0,193.9 L362.5,194.4 L364.0,201.4 L365.5,207.5 L367.0,202.2 L368.5,197.1" fill="none" stroke="#5a5ee6" stroke-width="0.6" />
<path d="M203.5,195.5V199.9M205.0,209.8V214.2M206.5,223.8V228.2M208.0,226.8V231.2M209.5,223.8V228.2M211.0,210.3V214.7M212.5,190.4V194.8M214.0,176.3V180.7M215.5,177.2V181.6M217.0,188.8V193.2M218.5,205.2V209.6M220.0,213.1V217.5M221.5,199.8V204.2M223.0,184.0V188.4M224.5,186.9V191.3M226.0,199.3V203.7M227.5,200.7V205.1M229.0,198.4V202.8M230.5,191.3V195.7M232.0,196.4V200.8M233.5,198.7V203.1M235.0,203.8V208.2M236.5,198.8V203.2M238.0,195.9V200.3M239.5,197.6V202.0M241.0,202.1V206.5M242.5,196.6V201.0M244.0,196.1V200.5M245.5,193.2V197.6M247.0,196.6V201.0M248.5,199.9V204.3M250.0,198.5V202.9M251.5,196.6V201.0M253.0,196.8V201.2M254.5,199.1V203.5M256.0,199.0V203.4M257.5,199.3V203.7M259.0,196.2V200.6M260.5,198.2V202.6M262.0,197.8V202.2M263.5,196.3V200.7M265.0,197.6V202.0M266.5,199.1V203.5M268.0,197.7V202.1M269.5,198.9V203.3M271.0,200.6V205.0M272.5,198.5V202.9M274.0,197.1V201.5M275.5,196.8V201.2M277.0,199.5V203.9M278.5,199.8V204.2M280.0,196.9V201.3M281.5,195.2V199.6M283.0,197.9V202.3M284.5,200.8V205.2M286.0,200.2V204.6M287.5,198.0V202.4M289.0,197.1V201.5M290.5,201.1V205.5M292.0,200.1V204.5M293.5,200.5V204.9M295.0,199.5V203.9M296.5,196.6V201.0M298.0,198.7V203.1M299.5,201.2V205.6M301.0,201.1V205.5M302.5,197.2V201.6M304.0,196.8V201.2M305.5,198.9V203.3M307.0,199.1V203.5M308.5,200.9V205.3M310.0,195.0V199.4M311.5,192.4V196.8M313.0,199.5V203.9M314.5,198.6V203.0M316.0,196.6V201.0M317.5,194.4V198.8M319.0,193.4V197.8M320.5,203.0V207.4M322.0,199.2V203.6M323.5,198.6V203.0M325.0,194.8V199.2M326.5,199.0V203.4M328.0,203.6V208.0M329.5,203.0V207.4M331.0,197.3V201.7M332.5,193.0V197.4M334.0,199.0V203.4M335.5,200.7V205.1M337.0,203.2V207.6M338.5,196.0V200.4M340.0,193.7V198.1M341.5,196.7V201.1M343.0,207.3V211.7M344.5,199.9V204.3M346.0,196.0V200.4M347.5,193.9V198.3M349.0,199.4V203.8M350.5,203.7V208.1M352.0,201.5V205.9M353.5,196.9V201.3M355.0,190.4V194.8M356.5,198.8V203.2M358.0,199.9V204.3M359.5,200.2V204.6M361.0,191.7V196.1M362.5,192.2V196.6M364.0,199.2V203.6M365.5,205.3V209.7M367.0,200.0V204.4M368.5,194.9V199.3" stroke="#5a5ee6" stroke-width="0.6" fill="none"/>
<g fill="#1212c0"><circle cx="203.5" cy="197.7" r="1.05"/><circle cx="205.0" cy="212.0" r="1.05"/><circle cx="206.5" cy="226.0" r="1.05"/><circle cx="208.0" cy="229.0" r="1.05"/><circle cx="209.5" cy="226.0" r="1.05"/><circle cx="211.0" cy="212.5" r="1.05"/><circle cx="212.5" cy="192.6" r="1.05"/><circle cx="214.0" cy="178.5" r="1.05"/><circle cx="215.5" cy="179.4" r="1.05"/><circle cx="217.0" cy="191.0" r="1.05"/><circle cx="218.5" cy="207.4" r="1.05"/><circle cx="220.0" cy="215.3" r="1.05"/><circle cx="221.5" cy="202.0" r="1.05"/><circle cx="223.0" cy="186.2" r="1.05"/><circle cx="224.5" cy="189.1" r="1.05"/><circle cx="226.0" cy="201.5" r="1.05"/><circle cx="227.5" cy="202.9" r="1.05"/><circle cx="229.0" cy="200.6" r="1.05"/><circle cx="230.5" cy="193.5" r="1.05"/><circle cx="232.0" cy="198.6" r="1.05"/><circle cx="233.5" cy="200.9" r="1.05"/><circle cx="235.0" cy="206.0" r="1.05"/><circle cx="236.5" cy="201.0" r="1.05"/><circle cx="238.0" cy="198.1" r="1.05"/><circle cx="239.5" cy="199.8" r="1.05"/><circle cx="241.0" cy="204.3" r="1.05"/><circle cx="242.5" cy="198.8" r="1.05"/><circle cx="244.0" cy="198.3" r="1.05"/><circle cx="245.5" cy="195.4" r="1.05"/><circle cx="247.0" cy="198.8" r="1.05"/><circle cx="248.5" cy="202.1" r="1.05"/><circle cx="250.0" cy="200.7" r="1.05"/><circle cx="251.5" cy="198.8" r="1.05"/><circle cx="253.0" cy="199.0" r="1.05"/><circle cx="254.5" cy="201.3" r="1.05"/><circle cx="256.0" cy="201.2" r="1.05"/><circle cx="257.5" cy="201.5" r="1.05"/><circle cx="259.0" cy="198.4" r="1.05"/><circle cx="260.5" cy="200.4" r="1.05"/><circle cx="262.0" cy="200.0" r="1.05"/><circle cx="263.5" cy="198.5" r="1.05"/><circle cx="265.0" cy="199.8" r="1.05"/><circle cx="266.5" cy="201.3" r="1.05"/><circle cx="268.0" cy="199.9" r="1.05"/><circle cx="269.5" cy="201.1" r="1.05"/><circle cx="271.0" cy="202.8" r="1.05"/><circle cx="272.5" cy="200.7" r="1.05"/><circle cx="274.0" cy="199.3" r="1.05"/><circle cx="275.5" cy="199.0" r="1.05"/><circle cx="277.0" cy="201.7" r="1.05"/><circle cx="278.5" cy="202.0" r="1.05"/><circle cx="280.0" cy="199.1" r="1.05"/><circle cx="281.5" cy="197.4" r="1.05"/><circle cx="283.0" cy="200.1" r="1.05"/><circle cx="284.5" cy="203.0" r="1.05"/><circle cx="286.0" cy="202.4" r="1.05"/><circle cx="287.5" cy="200.2" r="1.05"/><circle cx="289.0" cy="199.3" r="1.05"/><circle cx="290.5" cy="203.3" r="1.05"/><circle cx="292.0" cy="202.3" r="1.05"/><circle cx="293.5" cy="202.7" r="1.05"/><circle cx="295.0" cy="201.7" r="1.05"/><circle cx="296.5" cy="198.8" r="1.05"/><circle cx="298.0" cy="200.9" r="1.05"/><circle cx="299.5" cy="203.4" r="1.05"/><circle cx="301.0" cy="203.3" r="1.05"/><circle cx="302.5" cy="199.4" r="1.05"/><circle cx="304.0" cy="199.0" r="1.05"/><circle cx="305.5" cy="201.1" r="1.05"/><circle cx="307.0" cy="201.3" r="1.05"/><circle cx="308.5" cy="203.1" r="1.05"/><circle cx="310.0" cy="197.2" r="1.05"/><circle cx="311.5" cy="194.6" r="1.05"/><circle cx="313.0" cy="201.7" r="1.05"/><circle cx="314.5" cy="200.8" r="1.05"/><circle cx="316.0" cy="198.8" r="1.05"/><circle cx="317.5" cy="196.6" r="1.05"/><circle cx="319.0" cy="195.6" r="1.05"/><circle cx="320.5" cy="205.2" r="1.05"/><circle cx="322.0" cy="201.4" r="1.05"/><circle cx="323.5" cy="200.8" r="1.05"/><circle cx="325.0" cy="197.0" r="1.05"/><circle cx="326.5" cy="201.2" r="1.05"/><circle cx="328.0" cy="205.8" r="1.05"/><circle cx="329.5" cy="205.2" r="1.05"/><circle cx="331.0" cy="199.5" r="1.05"/><circle cx="332.5" cy="195.2" r="1.05"/><circle cx="334.0" cy="201.2" r="1.05"/><circle cx="335.5" cy="202.9" r="1.05"/><circle cx="337.0" cy="205.4" r="1.05"/><circle cx="338.5" cy="198.2" r="1.05"/><circle cx="340.0" cy="195.9" r="1.05"/><circle cx="341.5" cy="198.9" r="1.05"/><circle cx="343.0" cy="209.5" r="1.05"/><circle cx="344.5" cy="202.1" r="1.05"/><circle cx="346.0" cy="198.2" r="1.05"/><circle cx="347.5" cy="196.1" r="1.05"/><circle cx="349.0" cy="201.6" r="1.05"/><circle cx="350.5" cy="205.9" r="1.05"/><circle cx="352.0" cy="203.7" r="1.05"/><circle cx="353.5" cy="199.1" r="1.05"/><circle cx="355.0" cy="192.6" r="1.05"/><circle cx="356.5" cy="201.0" r="1.05"/><circle cx="358.0" cy="202.1" r="1.05"/><circle cx="359.5" cy="202.4" r="1.05"/><circle cx="361.0" cy="193.9" r="1.05"/><circle cx="362.5" cy="194.4" r="1.05"/><circle cx="364.0" cy="201.4" r="1.05"/><circle cx="365.5" cy="207.5" r="1.05"/><circle cx="367.0" cy="202.2" r="1.05"/><circle cx="368.5" cy="197.1" r="1.05"/></g>
<rect x="203.00" y="157.50" width="166.60" height="78.00" fill="none" stroke="#7a7a7a" stroke-width="1.0"/>
<line x1="236.32" y1="235.50" x2="236.32" y2="233.00" stroke="#7a7a7a" stroke-width="0.8"/>
<line x1="269.64" y1="235.50" x2="269.64" y2="233.00" stroke="#7a7a7a" stroke-width="0.8"/>
<line x1="302.96" y1="235.50" x2="302.96" y2="233.00" stroke="#7a7a7a" stroke-width="0.8"/>
<line x1="336.28" y1="235.50" x2="336.28" y2="233.00" stroke="#7a7a7a" stroke-width="0.8"/>
<line x1="203.00" y1="177.00" x2="205.50" y2="177.00" stroke="#7a7a7a" stroke-width="0.8"/>
<line x1="203.00" y1="196.50" x2="205.50" y2="196.50" stroke="#7a7a7a" stroke-width="0.8"/>
<line x1="203.00" y1="216.00" x2="205.50" y2="216.00" stroke="#7a7a7a" stroke-width="0.8"/>
<text x="286.20" y="149.30" font-size="9.65" text-anchor="middle" fill="#1e1e1e" font-weight="normal" stroke="#1e1e1e" stroke-width="0.18" >Quantum simulation</text>
<line x1="305" y1="164.6" x2="314.4" y2="164.6" stroke="#1212c0" stroke-width="0.7"/>
<line x1="305.6" y1="163.1" x2="305.6" y2="166.1" stroke="#1212c0" stroke-width="0.6"/>
<line x1="313.79999999999995" y1="163.1" x2="313.79999999999995" y2="166.1" stroke="#1212c0" stroke-width="0.6"/>
<g fill="#1212c0"><circle cx="305.6" cy="164.6" r="1.15"/><circle cx="313.8" cy="164.6" r="1.15"/></g>
<line x1="305" y1="175.3" x2="314.4" y2="175.3" stroke="#b01a20" stroke-width="0.7"/>
<line x1="305.6" y1="173.8" x2="305.6" y2="176.8" stroke="#b01a20" stroke-width="0.6"/>
<line x1="313.79999999999995" y1="173.8" x2="313.79999999999995" y2="176.8" stroke="#b01a20" stroke-width="0.6"/>
<g fill="#b01a20"><circle cx="305.6" cy="175.3" r="1.15"/><circle cx="313.8" cy="175.3" r="1.15"/></g>
<text x="317.3" y="168.0" font-size="8.6" fill="#1e1e1e">Δ<tspan font-family="Liberation Serif" font-style="italic">φ</tspan> ~ <tspan font-family="Liberation Serif" font-style="italic">π</tspan> / 2</text>
<text x="317.3" y="178.7" font-size="8.6" fill="#1e1e1e">Δ<tspan font-family="Liberation Serif" font-style="italic">φ</tspan> ~ 3<tspan font-family="Liberation Serif" font-style="italic">π</tspan> / 2</text>
<text transform="translate(358.40,229.00) scale(0.9,1)" font-size="15" font-weight="bold" fill="#111">g</text>
<path d="M22.5,290.0 L22.7,289.3 L22.8,288.7 L23.0,288.0 L23.2,287.4 L23.3,286.8 L23.5,286.2 L23.7,285.6 L23.8,285.1 L24.0,284.5 L24.2,284.0 L24.3,283.6 L24.5,283.1 L24.7,282.7 L24.8,282.3 L25.0,282.0 L25.2,281.6 L25.3,281.3 L25.5,281.0 L25.7,280.7 L25.8,280.3 L26.0,280.0 L26.2,279.7 L26.3,279.4 L26.5,279.1 L26.7,278.9 L26.9,278.6 L27.0,278.4 L27.2,278.2 L27.4,278.1 L27.5,277.9 L27.7,277.8 L27.9,277.7 L28.0,277.7 L28.2,277.7 L28.4,277.7 L28.5,277.8 L28.7,277.9 L28.9,278.1 L29.0,278.2 L29.2,278.4 L29.4,278.6 L29.5,278.9 L29.7,279.1 L29.9,279.3 L30.0,279.6 L30.2,279.9 L30.4,280.1 L30.5,280.4 L30.7,280.6 L30.9,280.8 L31.0,281.0 L31.2,281.3 L31.4,281.5 L31.5,281.8 L31.7,282.0 L31.9,282.3 L32.0,282.6 L32.2,282.9 L32.4,283.2 L32.5,283.6 L32.7,283.9 L32.9,284.2 L33.0,284.5 L33.2,284.8 L33.4,285.2 L33.5,285.5 L33.7,285.8 L33.9,286.1 L34.0,286.3 L34.2,286.6 L34.4,286.9 L34.6,287.1 L34.7,287.3 L34.9,287.5 L35.1,287.7 L35.2,287.9 L35.4,288.0 L35.6,288.1 L35.7,288.2 L35.9,288.2 L36.1,288.2 L36.2,288.2 L36.4,288.1 L36.6,288.0 L36.7,287.9 L36.9,287.7 L37.1,287.6 L37.2,287.4 L37.4,287.1 L37.6,286.9 L37.7,286.7 L37.9,286.4 L38.1,286.2 L38.2,285.9 L38.4,285.6 L38.6,285.4 L38.7,285.1 L38.9,284.8 L39.1,284.6 L39.2,284.3 L39.4,284.1 L39.6,283.9 L39.7,283.7 L39.9,283.4 L40.1,283.2 L40.2,282.9 L40.4,282.6 L40.6,282.3 L40.7,282.0 L40.9,281.7 L41.1,281.5 L41.2,281.2 L41.4,281.0 L41.6,280.7 L41.7,280.5 L41.9,280.4 L42.1,280.2 L42.2,280.1 L42.4,280.0 L42.6,280.0 L42.8,280.0 L42.9,280.1 L43.1,280.2 L43.3,280.3 L43.4,280.5 L43.6,280.7 L43.8,280.9 L43.9,281.1 L44.1,281.3 L44.3,281.6 L44.4,281.8 L44.6,282.1 L44.8,282.3 L44.9,282.5 L45.1,282.7 L45.3,282.9 L45.4,283.1 L45.6,283.3 L45.8,283.4 L45.9,283.5 L46.1,283.5 L46.3,283.6 L46.4,283.6 L46.6,283.7 L46.8,283.7 L46.9,283.7 L47.1,283.8 L47.3,283.8 L47.4,283.8 L47.6,283.9 L47.8,283.9 L47.9,283.9 L48.1,283.9 L48.3,284.0 L48.4,284.0 L48.6,284.0 L48.8,284.0 L48.9,284.0 L49.1,284.0 L49.3,284.0 L49.4,283.9 L49.6,283.8 L49.8,283.8 L49.9,283.6 L50.1,283.5 L50.3,283.4 L50.5,283.3 L50.6,283.1 L50.8,283.0 L51.0,282.8 L51.1,282.6 L51.3,282.5 L51.5,282.3 L51.6,282.2 L51.8,282.0 L52.0,281.9 L52.1,281.8 L52.3,281.7 L52.5,281.6 L52.6,281.6 L52.8,281.5 L53.0,281.5 L53.1,281.5 L53.3,281.5 L53.5,281.6 L53.6,281.6 L53.8,281.7 L54.0,281.7 L54.1,281.8 L54.3,281.9 L54.5,282.0 L54.6,282.0 L54.8,282.1 L55.0,282.2 L55.1,282.3 L55.3,282.4 L55.5,282.5 L55.6,282.6 L55.8,282.7 L56.0,282.8 L56.1,282.8 L56.3,282.9 L56.5,282.9 L56.6,283.0 L56.8,283.0 L57.0,283.0 L57.1,283.0 L57.3,283.0 L57.5,283.0 L57.6,283.0 L57.8,282.9 L58.0,282.9 L58.1,282.9 L58.3,282.8 L58.5,282.8 L58.7,282.8 L58.8,282.7 L59.0,282.7 L59.2,282.6 L59.3,282.6 L59.5,282.5 L59.7,282.5 L59.8,282.5 L60.0,282.4 L60.2,282.4 L60.3,282.3 L60.5,282.3 L60.7,282.2 L60.8,282.2 L61.0,282.2 L61.2,282.1 L61.3,282.1 L61.5,282.1 L61.7,282.0 L61.8,282.0 L62.0,282.0 L62.2,282.0 L62.3,282.0 L62.5,282.0 L62.7,282.0 L62.8,281.9 L63.0,281.9 L63.2,281.9 L63.3,281.9 L63.5,281.9 L63.7,281.9 L63.8,281.9 L64.0,281.9 L64.2,281.9 L64.3,281.8 L64.5,281.8 L64.7,281.8 L64.8,281.8 L65.0,281.8 L65.2,281.8 L65.3,281.8 L65.5,281.8 L65.7,281.8 L65.8,281.8 L66.0,281.7 L66.2,281.7 L66.4,281.7 L66.5,281.7 L66.7,281.7 L66.9,281.7 L67.0,281.7 L67.2,281.7 L67.4,281.7 L67.5,281.7 L67.7,281.7 L67.9,281.7 L68.0,281.7 L68.2,281.6 L68.4,281.6 L68.5,281.6 L68.7,281.6 L68.9,281.6 L69.0,281.6 L69.2,281.6 L69.4,281.6 L69.5,281.6 L69.7,281.6 L69.9,281.6 L70.0,281.6 L70.2,281.6 L70.4,281.6 L70.5,281.6 L70.7,281.6 L70.9,281.6 L71.0,281.6 L71.2,281.5 L71.4,281.5 L71.5,281.5 L71.7,281.5 L71.9,281.5 L72.0,281.5 L72.2,281.5 L72.4,281.5 L72.5,281.5 L72.7,281.5 L72.9,281.5 L73.0,281.5 L73.2,281.5 L73.4,281.5 L73.5,281.5 L73.7,281.5 L73.9,281.5 L74.0,281.5 L74.2,281.5 L74.4,281.5 L74.6,281.5 L74.7,281.5 L74.9,281.5 L75.1,281.5 L75.2,281.5 L75.4,281.5 L75.6,281.5 L75.7,281.5 L75.9,281.5 L76.1,281.5 L76.2,281.5 L76.4,281.5 L76.6,281.5 L76.7,281.5 L76.9,281.5 L77.1,281.5 L77.2,281.5 L77.4,281.5 L77.6,281.5 L77.7,281.5 L77.9,281.5 L78.1,281.5 L78.2,281.5 L78.4,281.5 L78.6,281.5 L78.7,281.5 L78.9,281.5 L79.1,281.5 L79.2,281.5 L79.4,281.5 L79.6,281.5 L79.7,281.5 L79.9,281.5 L80.1,281.5 L80.2,281.5 L80.4,281.5 L80.6,281.5 L80.7,281.5 L80.9,281.5 L81.1,281.5 L81.2,281.5 L81.4,281.5 L81.6,281.5 L81.7,281.5 L81.9,281.5 L82.1,281.5 L82.3,281.5 L82.4,281.5 L82.6,281.5 L82.8,281.5 L82.9,281.5 L83.1,281.5 L83.3,281.5 L83.4,281.5 L83.6,281.5 L83.8,281.5 L83.9,281.6 L84.1,281.6 L84.3,281.6 L84.4,281.6 L84.6,281.6 L84.8,281.6 L84.9,281.6 L85.1,281.6 L85.3,281.6 L85.4,281.6 L85.6,281.6 L85.8,281.6 L85.9,281.6 L86.1,281.6 L86.3,281.6 L86.4,281.6 L86.6,281.6 L86.8,281.6 L86.9,281.6 L87.1,281.6 L87.3,281.6 L87.4,281.6 L87.6,281.6 L87.8,281.6 L87.9,281.6 L88.1,281.6 L88.3,281.6 L88.4,281.6 L88.6,281.6 L88.8,281.6 L88.9,281.6 L89.1,281.6 L89.3,281.6 L89.4,281.6 L89.6,281.6 L89.8,281.6 L89.9,281.6 L90.1,281.6 L90.3,281.6 L90.5,281.6 L90.6,281.6 L90.8,281.6 L91.0,281.6 L91.1,281.6 L91.3,281.6 L91.5,281.7 L91.6,281.7 L91.8,281.7 L92.0,281.7 L92.1,281.7 L92.3,281.7 L92.5,281.7 L92.6,281.7 L92.8,281.7 L93.0,281.7 L93.1,281.7 L93.3,281.7 L93.5,281.7 L93.6,281.7 L93.8,281.7 L94.0,281.7 L94.1,281.7 L94.3,281.7 L94.5,281.7 L94.6,281.7 L94.8,281.7 L95.0,281.7 L95.1,281.7 L95.3,281.7 L95.5,281.7 L95.6,281.7 L95.8,281.7 L96.0,281.7 L96.1,281.7 L96.3,281.7 L96.5,281.7 L96.6,281.7 L96.8,281.7 L97.0,281.7 L97.1,281.7 L97.3,281.8 L97.5,281.8 L97.6,281.8 L97.8,281.8 L98.0,281.8 L98.2,281.8 L98.3,281.8 L98.5,281.8 L98.7,281.8 L98.8,281.8 L99.0,281.8 L99.2,281.8 L99.3,281.8 L99.5,281.8 L99.7,281.8 L99.8,281.8 L100.0,281.8 L100.2,281.8 L100.3,281.8 L100.5,281.8 L100.7,281.8 L100.8,281.8 L101.0,281.8 L101.2,281.8 L101.3,281.8 L101.5,281.8 L101.7,281.8 L101.8,281.8 L102.0,281.8 L102.2,281.9 L102.3,281.9 L102.5,281.9 L102.7,281.9 L102.8,281.9 L103.0,281.9 L103.2,281.9 L103.3,281.9 L103.5,281.9 L103.7,281.9 L103.8,281.9 L104.0,281.9 L104.2,281.9 L104.3,281.9 L104.5,281.9 L104.7,281.9 L104.8,282.0 L105.0,282.0 L105.2,282.0 L105.3,282.0 L105.5,282.0 L105.7,282.0 L105.8,282.0 L106.0,282.0 L106.2,282.0 L106.4,282.0 L106.5,282.0 L106.7,282.0 L106.9,282.0 L107.0,282.1 L107.2,282.1 L107.4,282.1 L107.5,282.1 L107.7,282.1 L107.9,282.1 L108.0,282.1 L108.2,282.1 L108.4,282.1 L108.5,282.1 L108.7,282.1 L108.9,282.1 L109.0,282.1 L109.2,282.2 L109.4,282.2 L109.5,282.2 L109.7,282.2 L109.9,282.2 L110.0,282.2 L110.2,282.2 L110.4,282.2 L110.5,282.2 L110.7,282.2 L110.9,282.2 L111.0,282.2 L111.2,282.3 L111.4,282.3 L111.5,282.3 L111.7,282.3 L111.9,282.3 L112.0,282.3 L112.2,282.3 L112.4,282.3 L112.5,282.3 L112.7,282.3 L112.9,282.3 L113.0,282.3 L113.2,282.3 L113.4,282.3 L113.5,282.4 L113.7,282.4 L113.9,282.4 L114.0,282.4 L114.2,282.4 L114.4,282.4 L114.6,282.4 L114.7,282.4 L114.9,282.4 L115.1,282.4 L115.2,282.4 L115.4,282.4 L115.6,282.4 L115.7,282.4 L115.9,282.4 L116.1,282.4 L116.2,282.4 L116.4,282.4 L116.6,282.5 L116.7,282.5 L116.9,282.5 L117.1,282.5 L117.2,282.5 L117.4,282.5 L117.6,282.5 L117.7,282.5 L117.9,282.5 L118.1,282.5 L118.2,282.5 L118.4,282.5 L118.6,282.5 L118.7,282.5 L118.9,282.5 L119.1,282.5 L119.2,282.5 L119.4,282.5 L119.6,282.5 L119.7,282.5 L119.9,282.5 L120.1,282.5 L120.2,282.5 L120.4,282.5 L120.6,282.5 L120.7,282.5 L120.9,282.5 L121.1,282.5 L121.2,282.5 L121.4,282.5 L121.6,282.5 L121.7,282.6 L121.9,282.6 L122.1,282.6 L122.3,282.6 L122.4,282.6 L122.6,282.6 L122.8,282.6 L122.9,282.6 L123.1,282.6 L123.3,282.6 L123.4,282.6 L123.6,282.7 L123.8,282.7 L123.9,282.7 L124.1,282.7 L124.3,282.7 L124.4,282.7 L124.6,282.7 L124.8,282.7 L124.9,282.7 L125.1,282.6 L125.3,282.6 L125.4,282.6 L125.6,282.6 L125.8,282.6 L125.9,282.6 L126.1,282.6 L126.3,282.5 L126.4,282.5 L126.6,282.5 L126.8,282.5 L126.9,282.5 L127.1,282.4 L127.3,282.4 L127.4,282.4 L127.6,282.4 L127.8,282.3 L127.9,282.3 L128.1,282.3 L128.3,282.2 L128.4,282.2 L128.6,282.2 L128.8,282.2 L128.9,282.2 L129.1,282.1 L129.3,282.1 L129.4,282.1 L129.6,282.1 L129.8,282.1 L129.9,282.1 L130.1,282.1 L130.3,282.1 L130.5,282.1 L130.6,282.1 L130.8,282.1 L131.0,282.1 L131.1,282.1 L131.3,282.1 L131.5,282.1 L131.6,282.1 L131.8,282.2 L132.0,282.2 L132.1,282.2 L132.3,282.3 L132.5,282.3 L132.6,282.3 L132.8,282.4 L133.0,282.4 L133.1,282.5 L133.3,282.5 L133.5,282.5 L133.6,282.6 L133.8,282.6 L134.0,282.7 L134.1,282.7 L134.3,282.8 L134.5,282.8 L134.6,282.9 L134.8,282.9 L135.0,283.0 L135.1,283.0 L135.3,283.0 L135.5,283.1 L135.6,283.1 L135.8,283.1 L136.0,283.2 L136.1,283.2 L136.3,283.2 L136.5,283.2 L136.6,283.2 L136.8,283.2 L137.0,283.2 L137.1,283.2 L137.3,283.2 L137.5,283.2 L137.6,283.2 L137.8,283.1 L138.0,283.1 L138.2,283.1 L138.3,283.0 L138.5,283.0 L138.7,283.0 L138.8,282.9 L139.0,282.9 L139.2,282.8 L139.3,282.7 L139.5,282.7 L139.7,282.6 L139.8,282.5 L140.0,282.5 L140.2,282.4 L140.3,282.3 L140.5,282.3 L140.7,282.2 L140.8,282.1 L141.0,282.1 L141.2,282.0 L141.3,281.9 L141.5,281.9 L141.7,281.8 L141.8,281.7 L142.0,281.7 L142.2,281.7 L142.3,281.6 L142.5,281.6 L142.7,281.5 L142.8,281.5 L143.0,281.5 L143.2,281.5 L143.3,281.5 L143.5,281.5 L143.7,281.5 L143.8,281.5 L144.0,281.5 L144.2,281.5 L144.3,281.6 L144.5,281.6 L144.7,281.6 L144.8,281.7 L145.0,281.7 L145.2,281.8 L145.3,281.9 L145.5,281.9 L145.7,282.0 L145.8,282.1 L146.0,282.2 L146.2,282.3 L146.4,282.3 L146.5,282.4 L146.7,282.5 L146.9,282.6 L147.0,282.7 L147.2,282.8 L147.4,282.9 L147.5,283.0 L147.7,283.1 L147.9,283.1 L148.0,283.2 L148.2,283.3 L148.4,283.4 L148.5,283.4 L148.7,283.5 L148.9,283.6 L149.0,283.6 L149.2,283.7 L149.4,283.7 L149.5,283.7 L149.7,283.7 L149.9,283.8 L150.0,283.8 L150.2,283.7 L150.4,283.7 L150.5,283.7 L150.7,283.7 L150.9,283.6 L151.0,283.6 L151.2,283.5 L151.4,283.5 L151.5,283.4 L151.7,283.3 L151.9,283.2 L152.0,283.2 L152.2,283.1 L152.4,283.0 L152.5,282.9 L152.7,282.8 L152.9,282.7 L153.0,282.6 L153.2,282.5 L153.4,282.4 L153.5,282.3 L153.7,282.2 L153.9,282.1 L154.1,282.0 L154.2,281.9 L154.4,281.8 L154.6,281.7 L154.7,281.6 L154.9,281.5 L155.1,281.5 L155.2,281.4 L155.4,281.3 L155.6,281.3 L155.7,281.2 L155.9,281.2 L156.1,281.2 L156.2,281.1 L156.4,281.1 L156.6,281.1 L156.7,281.1 L156.9,281.1 L157.1,281.2 L157.2,281.2 L157.4,281.2 L157.6,281.3 L157.7,281.3 L157.9,281.4 L158.1,281.4 L158.2,281.5 L158.4,281.6 L158.6,281.7 L158.7,281.7 L158.9,281.8 L159.1,281.9 L159.2,282.0 L159.4,282.1 L159.6,282.2 L159.7,282.3 L159.9,282.4 L160.1,282.5 L160.2,282.6 L160.4,282.7 L160.6,282.8 L160.7,282.9 L160.9,283.0 L161.1,283.1 L161.2,283.2 L161.4,283.2 L161.6,283.3 L161.7,283.4 L161.9,283.5 L162.1,283.5 L162.3,283.6 L162.4,283.6 L162.6,283.6 L162.8,283.7 L162.9,283.7 L163.1,283.7 L163.3,283.7 L163.4,283.7 L163.6,283.7 L163.8,283.6 L163.9,283.6 L164.1,283.6 L164.3,283.5 L164.4,283.5 L164.6,283.4 L164.8,283.3 L164.9,283.3 L165.1,283.2 L165.3,283.1 L165.4,283.0 L165.6,282.9 L165.8,282.8 L165.9,282.7 L166.1,282.6 L166.3,282.5 L166.4,282.4 L166.6,282.3 L166.8,282.2 L166.9,282.1 L167.1,282.0 L167.3,281.9 L167.4,281.8 L167.6,281.7 L167.8,281.6 L167.9,281.5 L168.1,281.5 L168.3,281.4 L168.4,281.3 L168.6,281.3 L168.8,281.2 L168.9,281.1 L169.1,281.1 L169.3,281.1 L169.4,281.0 L169.6,281.0 L169.8,281.0 L170.0,281.0 L170.1,281.0 L170.3,281.0 L170.5,281.1 L170.6,281.1 L170.8,281.1 L171.0,281.2 L171.1,281.2 L171.3,281.3 L171.5,281.3 L171.6,281.4 L171.8,281.5 L172.0,281.6 L172.1,281.7 L172.3,281.7 L172.5,281.8 L172.6,281.9 L172.8,282.0 L173.0,282.1 L173.1,282.2 L173.3,282.3 L173.5,282.4 L173.6,282.5 L173.8,282.6 L174.0,282.7 L174.1,282.8 L174.3,282.9 L174.5,283.0 L174.6,283.1 L174.8,283.2 L175.0,283.2 L175.1,283.3 L175.3,283.3 L175.5,283.4 L175.6,283.4 L175.8,283.5 L176.0,283.5 L176.1,283.5 L176.3,283.5 L176.5,283.5 L176.6,283.5 L176.8,283.5 L177.0,283.5 L177.1,283.5 L177.3,283.4 L177.5,283.4 L177.6,283.3 L177.8,283.3 L178.0,283.2 L178.2,283.1 L178.3,283.1 L178.5,283.0 L178.7,282.9 L178.8,282.8 L179.0,282.7 L179.2,282.6 L179.3,282.5 L179.5,282.4 L179.7,282.3 L179.8,282.2 L180.0,282.1 L180.2,282.0 L180.3,281.9 L180.5,281.8 L180.7,281.7 L180.8,281.6 L181.0,281.5 L181.2,281.4 L181.3,281.3 L181.5,281.2 L181.7,281.2 L181.8,281.1 L182.0,281.0 L182.2,281.0 L182.3,280.9 L182.5,280.9 L182.7,280.9 L182.8,280.9 L183.0,280.8 L183.2,280.8 L183.3,280.8 L183.5,280.8 L183.7,280.9 L183.8,280.9 L184.0,280.9 L184.2,281.0 L184.3,281.0 L184.5,281.1 L184.7,281.1 L184.8,281.2 L185.0,281.3 L185.2,281.3 L185.3,281.4 L185.5,281.5 L185.7,281.6 L185.9,281.7 L186.0,281.8 L186.2,281.9 L186.4,282.0 L186.5,282.1 L186.7,282.2 L186.9,282.3 L187.0,282.4 L187.2,282.5 L187.4,282.6 L187.5,282.7 L187.7,282.7 L187.9,282.8 L188.0,282.9 L188.2,283.0 L188.4,283.0 L188.5,283.1 L188.7,283.1 L188.9,283.2 L189.0,283.2 L189.2,283.3 L189.4,283.3 L189.5,283.3 L189.7,283.3" fill="none" stroke="#4448c4" stroke-width="0.8" />
<path d="M22.5,289.6 L22.7,290.2 L22.8,290.8 L23.0,291.6 L23.2,292.3 L23.3,292.9 L23.5,293.5 L23.7,294.0 L23.8,294.3 L24.0,294.6 L24.2,294.9 L24.3,295.1 L24.5,295.4 L24.7,295.8 L24.8,296.2 L25.0,296.7 L25.2,297.3 L25.3,297.9 L25.5,298.6 L25.7,299.2 L25.8,299.7 L26.0,300.1 L26.2,300.5 L26.3,300.7 L26.5,300.9 L26.7,301.1 L26.9,301.3 L27.0,301.5 L27.2,301.8 L27.4,302.0 L27.5,302.3 L27.7,302.5 L27.9,302.6 L28.0,302.7 L28.2,302.6 L28.4,302.4 L28.5,302.1 L28.7,301.8 L28.9,301.3 L29.0,300.9 L29.2,300.6 L29.4,300.3 L29.5,300.1 L29.7,300.0 L29.9,299.9 L30.0,299.9 L30.2,299.8 L30.4,299.6 L30.5,299.4 L30.7,299.0 L30.9,298.6 L31.0,298.1 L31.2,297.5 L31.4,297.0 L31.5,296.5 L31.7,296.0 L31.9,295.7 L32.0,295.4 L32.2,295.2 L32.4,294.9 L32.5,294.7 L32.7,294.3 L32.9,293.9 L33.0,293.4 L33.2,292.8 L33.4,292.3 L33.5,291.8 L33.7,291.3 L33.9,291.0 L34.0,290.8 L34.2,290.7 L34.4,290.8 L34.6,290.9 L34.7,291.1 L34.9,291.2 L35.1,291.4 L35.2,291.5 L35.4,291.5 L35.6,291.6 L35.7,291.6 L35.9,291.7 L36.1,291.9 L36.2,292.2 L36.4,292.6 L36.6,293.1 L36.7,293.6 L36.9,294.2 L37.1,294.7 L37.2,295.2 L37.4,295.5 L37.6,295.7 L37.7,295.9 L37.9,295.9 L38.1,295.9 L38.2,296.0 L38.4,296.1 L38.6,296.3 L38.7,296.6 L38.9,296.9 L39.1,297.3 L39.2,297.8 L39.4,298.1 L39.6,298.4 L39.7,298.6 L39.9,298.7 L40.1,298.8 L40.2,298.7 L40.4,298.6 L40.6,298.6 L40.7,298.6 L40.9,298.7 L41.1,298.8 L41.2,299.0 L41.4,299.2 L41.6,299.3 L41.7,299.4 L41.9,299.3 L42.1,299.1 L42.2,298.8 L42.4,298.4 L42.6,298.0 L42.8,297.5 L42.9,297.1 L43.1,296.8 L43.3,296.5 L43.4,296.3 L43.6,296.2 L43.8,296.2 L43.9,296.1 L44.1,296.0 L44.3,295.9 L44.4,295.7 L44.6,295.4 L44.8,295.2 L44.9,294.9 L45.1,294.7 L45.3,294.6 L45.4,294.6 L45.6,294.6 L45.8,294.8 L45.9,295.0 L46.1,295.2 L46.3,295.4 L46.4,295.6 L46.6,295.6 L46.8,295.6 L46.9,295.5 L47.1,295.3 L47.3,295.2 L47.4,295.0 L47.6,294.9 L47.8,294.9 L47.9,295.0 L48.1,295.2 L48.3,295.4 L48.4,295.6 L48.6,295.8 L48.8,295.9 L48.9,295.9 L49.1,295.9 L49.3,295.7 L49.4,295.4 L49.6,295.2 L49.8,294.9 L49.9,294.8 L50.1,294.7 L50.3,294.7 L50.5,294.7 L50.6,294.8 L50.8,294.9 L51.0,294.9 L51.1,294.9 L51.3,294.7 L51.5,294.5 L51.6,294.2 L51.8,293.9 L52.0,293.6 L52.1,293.4 L52.3,293.2 L52.5,293.2 L52.6,293.2 L52.8,293.4 L53.0,293.6 L53.1,293.8 L53.3,293.9 L53.5,294.0 L53.6,294.0 L53.8,294.0 L54.0,293.9 L54.1,293.8 L54.3,293.7 L54.5,293.7 L54.6,293.8 L54.8,294.0 L55.0,294.2 L55.1,294.5 L55.3,294.9 L55.5,295.2 L55.6,295.4 L55.8,295.5 L56.0,295.6 L56.1,295.5 L56.3,295.4 L56.5,295.3 L56.6,295.1 L56.8,295.1 L57.0,295.1 L57.1,295.1 L57.3,295.3 L57.5,295.5 L57.6,295.6 L57.8,295.8 L58.0,295.9 L58.1,295.8 L58.3,295.7 L58.5,295.5 L58.7,295.3 L58.8,295.1 L59.0,294.9 L59.2,294.8 L59.3,294.8 L59.5,294.8 L59.7,294.9 L59.8,295.1 L60.0,295.3 L60.2,295.4 L60.3,295.4 L60.5,295.4 L60.7,295.2 L60.8,295.0 L61.0,294.8 L61.2,294.6 L61.3,294.4 L61.5,294.4 L61.7,294.4 L61.8,294.5 L62.0,294.7 L62.2,294.9 L62.3,295.1 L62.5,295.2 L62.7,295.2 L62.8,295.2 L63.0,295.1 L63.2,294.9 L63.3,294.7 L63.5,294.5 L63.7,294.4 L63.8,294.4 L64.0,294.4 L64.2,294.5 L64.3,294.7 L64.5,294.9 L64.7,295.1 L64.8,295.2 L65.0,295.2 L65.2,295.2 L65.3,295.0 L65.5,294.8 L65.7,294.6 L65.8,294.5 L66.0,294.4 L66.2,294.4 L66.4,294.4 L66.5,294.6 L66.7,294.8 L66.9,295.0 L67.0,295.1 L67.2,295.2 L67.4,295.2 L67.5,295.2 L67.7,295.0 L67.9,294.8 L68.0,294.6 L68.2,294.4 L68.4,294.4 L68.5,294.4 L68.7,294.5 L68.9,294.6 L69.0,294.8 L69.2,295.0 L69.4,295.2 L69.5,295.2 L69.7,295.2 L69.9,295.1 L70.0,294.9 L70.2,294.7 L70.4,294.5 L70.5,294.4 L70.7,294.4 L70.9,294.4 L71.0,294.5 L71.2,294.7 L71.4,294.9 L71.5,295.1 L71.7,295.2 L71.9,295.2 L72.0,295.2 L72.2,295.1 L72.4,294.9 L72.5,294.7 L72.7,294.5 L72.9,294.4 L73.0,294.4 L73.2,294.4 L73.4,294.5 L73.5,294.7 L73.7,294.9 L73.9,295.1 L74.0,295.2 L74.2,295.2 L74.4,295.2 L74.6,295.0 L74.7,294.8 L74.9,294.6 L75.1,294.5 L75.2,294.4 L75.4,294.4 L75.6,294.4 L75.7,294.6 L75.9,294.8 L76.1,295.0 L76.2,295.1 L76.4,295.2 L76.6,295.2 L76.7,295.1 L76.9,295.0 L77.1,294.8 L77.2,294.6 L77.4,294.4 L77.6,294.4 L77.7,294.4 L77.9,294.5 L78.1,294.6 L78.2,294.8 L78.4,295.0 L78.6,295.2 L78.7,295.2 L78.9,295.2 L79.1,295.1 L79.2,294.9 L79.4,294.7 L79.6,294.5 L79.7,294.4 L79.9,294.4 L80.1,294.4 L80.2,294.5 L80.4,294.7 L80.6,294.9 L80.7,295.1 L80.9,295.2 L81.1,295.2 L81.2,295.2 L81.4,295.1 L81.6,294.9 L81.7,294.7 L81.9,294.5 L82.1,294.4 L82.3,294.4 L82.4,294.4 L82.6,294.6 L82.8,294.7 L82.9,294.9 L83.1,295.1 L83.3,295.2 L83.4,295.2 L83.6,295.2 L83.8,295.0 L83.9,294.8 L84.1,294.6 L84.3,294.5 L84.4,294.4 L84.6,294.4 L84.8,294.4 L84.9,294.6 L85.1,294.8 L85.3,295.0 L85.4,295.2 L85.6,295.2 L85.8,295.2 L85.9,295.1 L86.1,295.0 L86.3,294.8 L86.4,294.6 L86.6,294.4 L86.8,294.4 L86.9,294.4 L87.1,294.5 L87.3,294.6 L87.4,294.8 L87.6,295.0 L87.8,295.2 L87.9,295.2 L88.1,295.2 L88.3,295.1 L88.4,294.9 L88.6,294.7 L88.8,294.5 L88.9,294.4 L89.1,294.4 L89.3,294.4 L89.4,294.5 L89.6,294.7 L89.8,294.9 L89.9,295.1 L90.1,295.2 L90.3,295.2 L90.5,295.2 L90.6,295.1 L90.8,294.9 L91.0,294.7 L91.1,294.5 L91.3,294.4 L91.5,294.4 L91.6,294.4 L91.8,294.6 L92.0,294.7 L92.1,295.0 L92.3,295.1 L92.5,295.2 L92.6,295.2 L92.8,295.2 L93.0,295.0 L93.1,294.8 L93.3,294.6 L93.5,294.5 L93.6,294.4 L93.8,294.4 L94.0,294.4 L94.1,294.6 L94.3,294.8 L94.5,295.0 L94.6,295.2 L94.8,295.2 L95.0,295.2 L95.1,295.1 L95.3,295.0 L95.5,294.8 L95.6,294.6 L95.8,294.4 L96.0,294.4 L96.1,294.4 L96.3,294.5 L96.5,294.7 L96.6,294.9 L96.8,295.0 L97.0,295.2 L97.1,295.2 L97.3,295.2 L97.5,295.1 L97.6,294.9 L97.8,294.7 L98.0,294.5 L98.2,294.4 L98.3,294.4 L98.5,294.4 L98.7,294.5 L98.8,294.7 L99.0,294.9 L99.2,295.1 L99.3,295.2 L99.5,295.2 L99.7,295.2 L99.8,295.1 L100.0,294.9 L100.2,294.7 L100.3,294.5 L100.5,294.4 L100.7,294.4 L100.8,294.4 L101.0,294.6 L101.2,294.8 L101.3,295.0 L101.5,295.1 L101.7,295.2 L101.8,295.2 L102.0,295.2 L102.2,295.0 L102.3,294.8 L102.5,294.6 L102.7,294.5 L102.8,294.4 L103.0,294.4 L103.2,294.4 L103.3,294.6 L103.5,294.8 L103.7,295.0 L103.8,295.2 L104.0,295.2 L104.2,295.2 L104.3,295.1 L104.5,295.0 L104.7,294.8 L104.8,294.6 L105.0,294.4 L105.2,294.4 L105.3,294.4 L105.5,294.5 L105.7,294.7 L105.8,294.9 L106.0,295.1 L106.2,295.2 L106.4,295.2 L106.5,295.2 L106.7,295.1 L106.9,294.9 L107.0,294.7 L107.2,294.5 L107.4,294.4 L107.5,294.4 L107.7,294.4 L107.9,294.5 L108.0,294.7 L108.2,294.9 L108.4,295.1 L108.5,295.2 L108.7,295.2 L108.9,295.2 L109.0,295.1 L109.2,294.9 L109.4,294.7 L109.5,294.5 L109.7,294.4 L109.9,294.4 L110.0,294.4 L110.2,294.6 L110.4,294.8 L110.5,295.0 L110.7,295.1 L110.9,295.2 L111.0,295.2 L111.2,295.2 L111.4,295.0 L111.5,294.8 L111.7,294.6 L111.9,294.5 L112.0,294.4 L112.2,294.4 L112.4,294.5 L112.5,294.6 L112.7,294.8 L112.9,295.0 L113.0,295.2 L113.2,295.2 L113.4,295.2 L113.5,295.1 L113.7,295.0 L113.9,294.8 L114.0,294.6 L114.2,294.4 L114.4,294.4 L114.6,294.4 L114.7,294.5 L114.9,294.7 L115.1,294.9 L115.2,295.1 L115.4,295.2 L115.6,295.2 L115.7,295.2 L115.9,295.1 L116.1,294.9 L116.2,294.7 L116.4,294.5 L116.6,294.4 L116.7,294.4 L116.9,294.4 L117.1,294.5 L117.2,294.7 L117.4,294.9 L117.6,295.1 L117.7,295.2 L117.9,295.2 L118.1,295.2 L118.2,295.1 L118.4,294.9 L118.6,294.7 L118.7,294.5 L118.9,294.4 L119.1,294.4 L119.2,294.4 L119.4,294.6 L119.6,294.8 L119.7,295.0 L119.9,295.1 L120.1,295.2 L120.2,295.2 L120.4,295.2 L120.6,295.0 L120.7,294.8 L120.9,294.6 L121.1,294.4 L121.2,294.3 L121.4,294.3 L121.6,294.4 L121.7,294.6 L121.9,294.8 L122.1,294.9 L122.3,295.1 L122.4,295.2 L122.6,295.1 L122.8,295.0 L122.9,294.8 L123.1,294.6 L123.3,294.4 L123.4,294.3 L123.6,294.2 L123.8,294.2 L123.9,294.3 L124.1,294.5 L124.3,294.7 L124.4,294.9 L124.6,295.0 L124.8,295.1 L124.9,295.1 L125.1,295.0 L125.3,294.8 L125.4,294.6 L125.6,294.4 L125.8,294.3 L125.9,294.3 L126.1,294.3 L126.3,294.5 L126.4,294.7 L126.6,294.9 L126.8,295.1 L126.9,295.3 L127.1,295.3 L127.3,295.3 L127.4,295.2 L127.6,295.0 L127.8,294.8 L127.9,294.7 L128.1,294.6 L128.3,294.6 L128.4,294.7 L128.6,294.9 L128.8,295.1 L128.9,295.3 L129.1,295.5 L129.3,295.6 L129.4,295.6 L129.6,295.5 L129.8,295.4 L129.9,295.2 L130.1,295.0 L130.3,294.9 L130.5,294.8 L130.6,294.8 L130.8,294.9 L131.0,295.0 L131.1,295.2 L131.3,295.4 L131.5,295.5 L131.6,295.6 L131.8,295.5 L132.0,295.4 L132.1,295.2 L132.3,295.0 L132.5,294.7 L132.6,294.6 L132.8,294.5 L133.0,294.5 L133.1,294.5 L133.3,294.7 L133.5,294.8 L133.6,295.0 L133.8,295.1 L134.0,295.1 L134.1,295.0 L134.3,294.8 L134.5,294.6 L134.6,294.3 L134.8,294.1 L135.0,294.0 L135.1,293.9 L135.3,293.9 L135.5,294.0 L135.6,294.2 L135.8,294.3 L136.0,294.5 L136.1,294.6 L136.3,294.6 L136.5,294.5 L136.6,294.4 L136.8,294.2 L137.0,294.0 L137.1,293.8 L137.3,293.7 L137.5,293.7 L137.6,293.8 L137.8,294.0 L138.0,294.2 L138.2,294.4 L138.3,294.6 L138.5,294.8 L138.7,294.8 L138.8,294.8 L139.0,294.7 L139.2,294.5 L139.3,294.4 L139.5,294.3 L139.7,294.2 L139.8,294.3 L140.0,294.5 L140.2,294.7 L140.3,295.0 L140.5,295.2 L140.7,295.4 L140.8,295.6 L141.0,295.6 L141.2,295.6 L141.3,295.5 L141.5,295.3 L141.7,295.2 L141.8,295.1 L142.0,295.1 L142.2,295.2 L142.3,295.3 L142.5,295.5 L142.7,295.8 L142.8,296.0 L143.0,296.1 L143.2,296.2 L143.3,296.1 L143.5,296.0 L143.7,295.8 L143.8,295.6 L144.0,295.4 L144.2,295.3 L144.3,295.2 L144.5,295.2 L144.7,295.3 L144.8,295.5 L145.0,295.6 L145.2,295.7 L145.3,295.8 L145.5,295.7 L145.7,295.6 L145.8,295.4 L146.0,295.1 L146.2,294.8 L146.4,294.6 L146.5,294.4 L146.7,294.3 L146.9,294.3 L147.0,294.4 L147.2,294.5 L147.4,294.6 L147.5,294.7 L147.7,294.7 L147.9,294.6 L148.0,294.4 L148.2,294.2 L148.4,293.9 L148.5,293.7 L148.7,293.5 L148.9,293.3 L149.0,293.3 L149.2,293.4 L149.4,293.5 L149.5,293.7 L149.7,293.9 L149.9,294.0 L150.0,294.0 L150.2,294.0 L150.4,293.9 L150.5,293.8 L150.7,293.6 L150.9,293.5 L151.0,293.4 L151.2,293.4 L151.4,293.5 L151.5,293.6 L151.7,293.9 L151.9,294.2 L152.0,294.4 L152.2,294.6 L152.4,294.8 L152.5,294.8 L152.7,294.8 L152.9,294.7 L153.0,294.6 L153.2,294.5 L153.4,294.5 L153.5,294.5 L153.7,294.7 L153.9,294.9 L154.1,295.2 L154.2,295.5 L154.4,295.7 L154.6,295.9 L154.7,296.0 L154.9,296.0 L155.1,295.9 L155.2,295.8 L155.4,295.6 L155.6,295.5 L155.7,295.5 L155.9,295.5 L156.1,295.6 L156.2,295.8 L156.4,296.0 L156.6,296.2 L156.7,296.3 L156.9,296.4 L157.1,296.4 L157.2,296.3 L157.4,296.1 L157.6,295.9 L157.7,295.6 L157.9,295.4 L158.1,295.3 L158.2,295.2 L158.4,295.3 L158.6,295.3 L158.7,295.5 L158.9,295.6 L159.1,295.6 L159.2,295.6 L159.4,295.5 L159.6,295.3 L159.7,295.0 L159.9,294.7 L160.1,294.4 L160.2,294.2 L160.4,294.1 L160.6,294.0 L160.7,294.0 L160.9,294.1 L161.1,294.3 L161.2,294.4 L161.4,294.4 L161.6,294.4 L161.7,294.3 L161.9,294.1 L162.1,293.9 L162.3,293.6 L162.4,293.4 L162.6,293.2 L162.8,293.2 L162.9,293.2 L163.1,293.4 L163.3,293.5 L163.4,293.8 L163.6,293.9 L163.8,294.1 L163.9,294.1 L164.1,294.1 L164.3,294.0 L164.4,293.8 L164.6,293.7 L164.8,293.6 L164.9,293.5 L165.1,293.6 L165.3,293.8 L165.4,294.0 L165.6,294.3 L165.8,294.6 L165.9,294.8 L166.1,295.0 L166.3,295.1 L166.4,295.1 L166.6,295.0 L166.8,294.9 L166.9,294.8 L167.1,294.7 L167.3,294.8 L167.4,294.9 L167.6,295.1 L167.8,295.3 L167.9,295.6 L168.1,295.9 L168.3,296.1 L168.4,296.2 L168.6,296.2 L168.8,296.1 L168.9,296.0 L169.1,295.8 L169.3,295.7 L169.4,295.6 L169.6,295.5 L169.8,295.6 L170.0,295.7 L170.1,295.9 L170.3,296.1 L170.5,296.2 L170.6,296.3 L170.8,296.3 L171.0,296.2 L171.1,296.1 L171.3,295.8 L171.5,295.6 L171.6,295.3 L171.8,295.1 L172.0,295.0 L172.1,295.0 L172.3,295.1 L172.5,295.2 L172.6,295.3 L172.8,295.4 L173.0,295.4 L173.1,295.3 L173.3,295.1 L173.5,294.9 L173.6,294.6 L173.8,294.3 L174.0,294.0 L174.1,293.9 L174.3,293.8 L174.5,293.8 L174.6,293.9 L174.8,294.0 L175.0,294.1 L175.1,294.2 L175.3,294.2 L175.5,294.2 L175.6,294.0 L175.8,293.8 L176.0,293.6 L176.1,293.4 L176.3,293.2 L176.5,293.2 L176.6,293.2 L176.8,293.3 L177.0,293.5 L177.1,293.7 L177.3,293.9 L177.5,294.1 L177.6,294.2 L177.8,294.2 L178.0,294.2 L178.2,294.1 L178.3,293.9 L178.5,293.8 L178.7,293.8 L178.8,293.8 L179.0,293.9 L179.2,294.1 L179.3,294.4 L179.5,294.7 L179.7,295.0 L179.8,295.2 L180.0,295.3 L180.2,295.4 L180.3,295.3 L180.5,295.2 L180.7,295.1 L180.8,295.0 L181.0,295.0 L181.2,295.1 L181.3,295.2 L181.5,295.4 L181.7,295.7 L181.8,295.9 L182.0,296.1 L182.2,296.3 L182.3,296.4 L182.5,296.3 L182.7,296.2 L182.8,296.0 L183.0,295.8 L183.2,295.7 L183.3,295.6 L183.5,295.5 L183.7,295.6 L183.8,295.8 L184.0,295.9 L184.2,296.1 L184.3,296.2 L184.5,296.2 L184.7,296.1 L184.8,296.0 L185.0,295.7 L185.2,295.5 L185.3,295.2 L185.5,295.0 L185.7,294.8 L185.9,294.7 L186.0,294.8 L186.2,294.8 L186.4,294.9 L186.5,295.0 L186.7,295.1 L186.9,295.0 L187.0,294.9 L187.2,294.7 L187.4,294.4 L187.5,294.2 L187.7,293.9 L187.9,293.7 L188.0,293.6 L188.2,293.5 L188.4,293.6 L188.5,293.7 L188.7,293.9 L188.9,294.0 L189.0,294.1 L189.2,294.1 L189.4,294.0 L189.5,293.9 L189.7,293.7" fill="none" stroke="#d83c4a" stroke-width="0.8" />
<rect x="22.50" y="251.70" width="167.20" height="78.30" fill="none" stroke="#7a7a7a" stroke-width="1.0"/>
<line x1="55.94" y1="330.00" x2="55.94" y2="327.50" stroke="#7a7a7a" stroke-width="0.8"/>
<line x1="89.38" y1="330.00" x2="89.38" y2="327.50" stroke="#7a7a7a" stroke-width="0.8"/>
<line x1="122.82" y1="330.00" x2="122.82" y2="327.50" stroke="#7a7a7a" stroke-width="0.8"/>
<line x1="156.26" y1="330.00" x2="156.26" y2="327.50" stroke="#7a7a7a" stroke-width="0.8"/>
<line x1="22.50" y1="271.27" x2="25.00" y2="271.27" stroke="#7a7a7a" stroke-width="0.8"/>
<line x1="22.50" y1="290.85" x2="25.00" y2="290.85" stroke="#7a7a7a" stroke-width="0.8"/>
<line x1="22.50" y1="310.43" x2="25.00" y2="310.43" stroke="#7a7a7a" stroke-width="0.8"/>
<text x="19.40" y="255.40" font-size="9.3" text-anchor="end" fill="#1e1e1e" font-weight="normal" stroke="#1e1e1e" stroke-width="0.18" >1</text>
<text x="19.80" y="333.80" font-size="9.3" text-anchor="end" fill="#1e1e1e" font-weight="normal" stroke="#1e1e1e" stroke-width="0.18" >0</text>
<text x="0" y="0" font-size="9.8" text-anchor="middle" fill="#1e1e1e" stroke="#1e1e1e" stroke-width="0.18" transform="translate(7.30,290.85) rotate(-90)">Qubit population</text>
<text x="22.50" y="341.80" font-size="9.3" text-anchor="middle" fill="#1e1e1e" font-weight="normal" stroke="#1e1e1e" stroke-width="0.18" >0</text>
<text x="89.40" y="341.80" font-size="9.3" text-anchor="middle" fill="#1e1e1e" font-weight="normal" stroke="#1e1e1e" stroke-width="0.18" >0.1</text>
<text x="156.30" y="341.80" font-size="9.3" text-anchor="middle" fill="#1e1e1e" font-weight="normal" stroke="#1e1e1e" stroke-width="0.18" >0.2</text>
<text x="105.8" y="355.4" font-size="9.6" text-anchor="middle" fill="#1e1e1e" stroke="#1e1e1e" stroke-width="0.18">Δ<tspan font-style="italic">t</tspan> (μs)</text>
<line x1="117.2" y1="308.3" x2="135.6" y2="308.3" stroke="#4448c4" stroke-width="0.6"/>
<text x="139.4" y="310.6" font-size="8.6" fill="#1e1e1e"><tspan font-family="Liberation Serif" font-style="italic">φ</tspan><tspan font-size="5.6" dy="1.6">1</tspan><tspan dy="-1.6"> = 0</tspan></text>
<line x1="117.2" y1="319.2" x2="135.6" y2="319.2" stroke="#d83c4a" stroke-width="0.6"/>
<text x="139.4" y="321.0" font-size="8.6" fill="#1e1e1e"><tspan font-family="Liberation Serif" font-style="italic">φ</tspan><tspan font-size="5.6" dy="1.6">1</tspan><tspan dy="-1.6"> = </tspan><tspan font-family="Liberation Serif" font-style="italic">π</tspan></text>
<text transform="translate(177.20,266.20) scale(0.9,1)" font-size="15" font-weight="bold" fill="#111">h</text>
<path d="M203.3,289.0 L204.8,285.0 L206.3,276.9 L207.8,266.2 L209.3,258.7 L210.8,254.4 L212.3,256.2 L213.8,270.2 L215.3,280.8 L216.8,279.8 L218.3,272.7 L219.8,265.4 L221.3,263.1 L222.8,271.4 L224.3,275.2 L225.8,268.7 L227.3,264.6 L228.8,264.2 L230.3,267.5 L231.8,271.7 L233.3,270.1 L234.8,274.8 L236.3,268.3 L237.8,267.7 L239.3,270.8 L240.8,273.0 L242.3,270.2 L243.8,272.3 L245.3,269.3 L246.8,268.0 L248.3,273.0 L249.8,273.3 L251.3,273.2 L252.8,269.5 L254.3,268.1 L255.8,268.1 L257.3,269.9 L258.8,271.4 L260.3,271.3 L261.8,267.6 L263.3,270.7 L264.8,270.3 L266.3,270.5 L267.8,270.3 L269.3,269.9 L270.8,271.4 L272.3,270.5 L273.8,270.7 L275.3,269.0 L276.8,271.1 L278.3,270.1 L279.8,266.3 L281.3,271.2 L282.8,269.8 L284.3,272.1 L285.8,270.0 L287.3,270.1 L288.8,270.7 L290.3,270.3 L291.8,269.5 L293.3,267.0 L294.8,273.9 L296.3,267.5 L297.8,269.9 L299.3,271.9 L300.8,271.5 L302.3,272.0 L303.8,272.6 L305.3,273.8 L306.8,272.2 L308.3,277.5 L309.8,270.5 L311.3,273.2 L312.8,272.5 L314.3,272.6 L315.8,274.5 L317.3,277.1 L318.8,273.2 L320.3,273.4 L321.8,276.2 L323.3,275.8 L324.8,278.3 L326.3,276.3 L327.8,274.5 L329.3,273.1 L330.8,273.7 L332.3,272.5 L333.8,269.8 L335.3,271.9 L336.8,271.2 L338.3,270.7 L339.8,270.0 L341.3,273.8 L342.8,271.6 L344.3,271.9 L345.8,268.8 L347.3,267.9 L348.8,269.2 L350.3,270.1 L351.8,268.9 L353.3,269.1 L354.8,271.2 L356.3,269.9 L357.8,267.4 L359.3,268.4 L360.8,267.9 L362.3,269.4 L363.8,266.8 L365.3,268.6 L366.8,270.2 L368.3,268.9" fill="none" stroke="#5a5ee6" stroke-width="0.6" />
<path d="M203.3,286.8V291.2M204.8,282.8V287.2M206.3,274.7V279.1M207.8,264.0V268.4M209.3,256.5V260.9M210.8,252.2V256.6M212.3,254.0V258.4M213.8,268.0V272.4M215.3,278.6V283.0M216.8,277.6V282.0M218.3,270.5V274.9M219.8,263.2V267.6M221.3,260.9V265.3M222.8,269.2V273.6M224.3,273.0V277.4M225.8,266.5V270.9M227.3,262.4V266.8M228.8,262.0V266.4M230.3,265.3V269.7M231.8,269.5V273.9M233.3,267.9V272.3M234.8,272.6V277.0M236.3,266.1V270.5M237.8,265.5V269.9M239.3,268.6V273.0M240.8,270.8V275.2M242.3,268.0V272.4M243.8,270.1V274.5M245.3,267.1V271.5M246.8,265.8V270.2M248.3,270.8V275.2M249.8,271.1V275.5M251.3,271.0V275.4M252.8,267.3V271.7M254.3,265.9V270.3M255.8,265.9V270.3M257.3,267.7V272.1M258.8,269.2V273.6M260.3,269.1V273.5M261.8,265.4V269.8M263.3,268.5V272.9M264.8,268.1V272.5M266.3,268.3V272.7M267.8,268.1V272.5M269.3,267.7V272.1M270.8,269.2V273.6M272.3,268.3V272.7M273.8,268.5V272.9M275.3,266.8V271.2M276.8,268.9V273.3M278.3,267.9V272.3M279.8,264.1V268.5M281.3,269.0V273.4M282.8,267.6V272.0M284.3,269.9V274.3M285.8,267.8V272.2M287.3,267.9V272.3M288.8,268.5V272.9M290.3,268.1V272.5M291.8,267.3V271.7M293.3,264.8V269.2M294.8,271.7V276.1M296.3,265.3V269.7M297.8,267.7V272.1M299.3,269.7V274.1M300.8,269.3V273.7M302.3,269.8V274.2M303.8,270.4V274.8M305.3,271.6V276.0M306.8,270.0V274.4M308.3,275.3V279.7M309.8,268.3V272.7M311.3,271.0V275.4M312.8,270.3V274.7M314.3,270.4V274.8M315.8,272.3V276.7M317.3,274.9V279.3M318.8,271.0V275.4M320.3,271.2V275.6M321.8,274.0V278.4M323.3,273.6V278.0M324.8,276.1V280.5M326.3,274.1V278.5M327.8,272.3V276.7M329.3,270.9V275.3M330.8,271.5V275.9M332.3,270.3V274.7M333.8,267.6V272.0M335.3,269.7V274.1M336.8,269.0V273.4M338.3,268.5V272.9M339.8,267.8V272.2M341.3,271.6V276.0M342.8,269.4V273.8M344.3,269.7V274.1M345.8,266.6V271.0M347.3,265.7V270.1M348.8,267.0V271.4M350.3,267.9V272.3M351.8,266.7V271.1M353.3,266.9V271.3M354.8,269.0V273.4M356.3,267.7V272.1M357.8,265.2V269.6M359.3,266.2V270.6M360.8,265.7V270.1M362.3,267.2V271.6M363.8,264.6V269.0M365.3,266.4V270.8M366.8,268.0V272.4M368.3,266.7V271.1" stroke="#5a5ee6" stroke-width="0.6" fill="none"/>
<g fill="#1212c0"><circle cx="203.3" cy="289.0" r="1.1"/><circle cx="204.8" cy="285.0" r="1.1"/><circle cx="206.3" cy="276.9" r="1.1"/><circle cx="207.8" cy="266.2" r="1.1"/><circle cx="209.3" cy="258.7" r="1.1"/><circle cx="210.8" cy="254.4" r="1.1"/><circle cx="212.3" cy="256.2" r="1.1"/><circle cx="213.8" cy="270.2" r="1.1"/><circle cx="215.3" cy="280.8" r="1.1"/><circle cx="216.8" cy="279.8" r="1.1"/><circle cx="218.3" cy="272.7" r="1.1"/><circle cx="219.8" cy="265.4" r="1.1"/><circle cx="221.3" cy="263.1" r="1.1"/><circle cx="222.8" cy="271.4" r="1.1"/><circle cx="224.3" cy="275.2" r="1.1"/><circle cx="225.8" cy="268.7" r="1.1"/><circle cx="227.3" cy="264.6" r="1.1"/><circle cx="228.8" cy="264.2" r="1.1"/><circle cx="230.3" cy="267.5" r="1.1"/><circle cx="231.8" cy="271.7" r="1.1"/><circle cx="233.3" cy="270.1" r="1.1"/><circle cx="234.8" cy="274.8" r="1.1"/><circle cx="236.3" cy="268.3" r="1.1"/><circle cx="237.8" cy="267.7" r="1.1"/><circle cx="239.3" cy="270.8" r="1.1"/><circle cx="240.8" cy="273.0" r="1.1"/><circle cx="242.3" cy="270.2" r="1.1"/><circle cx="243.8" cy="272.3" r="1.1"/><circle cx="245.3" cy="269.3" r="1.1"/><circle cx="246.8" cy="268.0" r="1.1"/><circle cx="248.3" cy="273.0" r="1.1"/><circle cx="249.8" cy="273.3" r="1.1"/><circle cx="251.3" cy="273.2" r="1.1"/><circle cx="252.8" cy="269.5" r="1.1"/><circle cx="254.3" cy="268.1" r="1.1"/><circle cx="255.8" cy="268.1" r="1.1"/><circle cx="257.3" cy="269.9" r="1.1"/><circle cx="258.8" cy="271.4" r="1.1"/><circle cx="260.3" cy="271.3" r="1.1"/><circle cx="261.8" cy="267.6" r="1.1"/><circle cx="263.3" cy="270.7" r="1.1"/><circle cx="264.8" cy="270.3" r="1.1"/><circle cx="266.3" cy="270.5" r="1.1"/><circle cx="267.8" cy="270.3" r="1.1"/><circle cx="269.3" cy="269.9" r="1.1"/><circle cx="270.8" cy="271.4" r="1.1"/><circle cx="272.3" cy="270.5" r="1.1"/><circle cx="273.8" cy="270.7" r="1.1"/><circle cx="275.3" cy="269.0" r="1.1"/><circle cx="276.8" cy="271.1" r="1.1"/><circle cx="278.3" cy="270.1" r="1.1"/><circle cx="279.8" cy="266.3" r="1.1"/><circle cx="281.3" cy="271.2" r="1.1"/><circle cx="282.8" cy="269.8" r="1.1"/><circle cx="284.3" cy="272.1" r="1.1"/><circle cx="285.8" cy="270.0" r="1.1"/><circle cx="287.3" cy="270.1" r="1.1"/><circle cx="288.8" cy="270.7" r="1.1"/><circle cx="290.3" cy="270.3" r="1.1"/><circle cx="291.8" cy="269.5" r="1.1"/><circle cx="293.3" cy="267.0" r="1.1"/><circle cx="294.8" cy="273.9" r="1.1"/><circle cx="296.3" cy="267.5" r="1.1"/><circle cx="297.8" cy="269.9" r="1.1"/><circle cx="299.3" cy="271.9" r="1.1"/><circle cx="300.8" cy="271.5" r="1.1"/><circle cx="302.3" cy="272.0" r="1.1"/><circle cx="303.8" cy="272.6" r="1.1"/><circle cx="305.3" cy="273.8" r="1.1"/><circle cx="306.8" cy="272.2" r="1.1"/><circle cx="308.3" cy="277.5" r="1.1"/><circle cx="309.8" cy="270.5" r="1.1"/><circle cx="311.3" cy="273.2" r="1.1"/><circle cx="312.8" cy="272.5" r="1.1"/><circle cx="314.3" cy="272.6" r="1.1"/><circle cx="315.8" cy="274.5" r="1.1"/><circle cx="317.3" cy="277.1" r="1.1"/><circle cx="318.8" cy="273.2" r="1.1"/><circle cx="320.3" cy="273.4" r="1.1"/><circle cx="321.8" cy="276.2" r="1.1"/><circle cx="323.3" cy="275.8" r="1.1"/><circle cx="324.8" cy="278.3" r="1.1"/><circle cx="326.3" cy="276.3" r="1.1"/><circle cx="327.8" cy="274.5" r="1.1"/><circle cx="329.3" cy="273.1" r="1.1"/><circle cx="330.8" cy="273.7" r="1.1"/><circle cx="332.3" cy="272.5" r="1.1"/><circle cx="333.8" cy="269.8" r="1.1"/><circle cx="335.3" cy="271.9" r="1.1"/><circle cx="336.8" cy="271.2" r="1.1"/><circle cx="338.3" cy="270.7" r="1.1"/><circle cx="339.8" cy="270.0" r="1.1"/><circle cx="341.3" cy="273.8" r="1.1"/><circle cx="342.8" cy="271.6" r="1.1"/><circle cx="344.3" cy="271.9" r="1.1"/><circle cx="345.8" cy="268.8" r="1.1"/><circle cx="347.3" cy="267.9" r="1.1"/><circle cx="348.8" cy="269.2" r="1.1"/><circle cx="350.3" cy="270.1" r="1.1"/><circle cx="351.8" cy="268.9" r="1.1"/><circle cx="353.3" cy="269.1" r="1.1"/><circle cx="354.8" cy="271.2" r="1.1"/><circle cx="356.3" cy="269.9" r="1.1"/><circle cx="357.8" cy="267.4" r="1.1"/><circle cx="359.3" cy="268.4" r="1.1"/><circle cx="360.8" cy="267.9" r="1.1"/><circle cx="362.3" cy="269.4" r="1.1"/><circle cx="363.8" cy="266.8" r="1.1"/><circle cx="365.3" cy="268.6" r="1.1"/><circle cx="366.8" cy="270.2" r="1.1"/><circle cx="368.3" cy="268.9" r="1.1"/></g>
<path d="M203.3,294.1 L204.8,297.0 L206.3,306.8 L207.8,319.3 L209.3,324.9 L210.8,326.7 L212.3,319.3 L213.8,309.5 L215.3,297.9 L216.8,294.6 L218.3,302.9 L219.8,312.4 L221.3,309.7 L222.8,303.1 L224.3,300.8 L225.8,307.3 L227.3,311.2 L228.8,311.9 L230.3,313.1 L231.8,314.9 L233.3,313.8 L234.8,317.1 L236.3,315.1 L237.8,315.0 L239.3,314.2 L240.8,309.8 L242.3,314.0 L243.8,313.5 L245.3,311.4 L246.8,313.5 L248.3,313.2 L249.8,311.5 L251.3,312.2 L252.8,311.9 L254.3,312.8 L255.8,311.6 L257.3,313.4 L258.8,308.8 L260.3,311.9 L261.8,309.2 L263.3,311.5 L264.8,313.4 L266.3,312.4 L267.8,312.2 L269.3,312.5 L270.8,315.4 L272.3,310.3 L273.8,314.1 L275.3,309.5 L276.8,311.5 L278.3,312.7 L279.8,310.8 L281.3,312.8 L282.8,313.8 L284.3,310.2 L285.8,312.3 L287.3,311.7 L288.8,308.7 L290.3,311.9 L291.8,310.7 L293.3,314.9 L294.8,310.9 L296.3,316.0 L297.8,311.7 L299.3,316.0 L300.8,312.9 L302.3,312.5 L303.8,313.6 L305.3,314.6 L306.8,316.4 L308.3,317.0 L309.8,311.9 L311.3,308.6 L312.8,305.0 L314.3,310.0 L315.8,314.4 L317.3,315.9 L318.8,316.1 L320.3,313.3 L321.8,309.3 L323.3,307.5 L324.8,309.2 L326.3,308.5 L327.8,317.3 L329.3,315.0 L330.8,315.5 L332.3,310.3 L333.8,307.0 L335.3,305.2 L336.8,308.1 L338.3,314.2 L339.8,315.2 L341.3,321.0 L342.8,312.1 L344.3,308.3 L345.8,307.4 L347.3,308.1 L348.8,308.3 L350.3,314.4 L351.8,315.5 L353.3,310.4 L354.8,311.5 L356.3,308.4 L357.8,311.0 L359.3,312.9 L360.8,314.1 L362.3,314.1 L363.8,311.5 L365.3,313.9 L366.8,311.1 L368.3,312.7" fill="none" stroke="#d8545a" stroke-width="0.6" />
<path d="M203.3,291.9V296.3M204.8,294.8V299.2M206.3,304.6V309.0M207.8,317.1V321.5M209.3,322.7V327.1M210.8,324.5V328.9M212.3,317.1V321.5M213.8,307.3V311.7M215.3,295.7V300.1M216.8,292.4V296.8M218.3,300.7V305.1M219.8,310.2V314.6M221.3,307.5V311.9M222.8,300.9V305.3M224.3,298.6V303.0M225.8,305.1V309.5M227.3,309.0V313.4M228.8,309.7V314.1M230.3,310.9V315.3M231.8,312.7V317.1M233.3,311.6V316.0M234.8,314.9V319.3M236.3,312.9V317.3M237.8,312.8V317.2M239.3,312.0V316.4M240.8,307.6V312.0M242.3,311.8V316.2M243.8,311.3V315.7M245.3,309.2V313.6M246.8,311.3V315.7M248.3,311.0V315.4M249.8,309.3V313.7M251.3,310.0V314.4M252.8,309.7V314.1M254.3,310.6V315.0M255.8,309.4V313.8M257.3,311.2V315.6M258.8,306.6V311.0M260.3,309.7V314.1M261.8,307.0V311.4M263.3,309.3V313.7M264.8,311.2V315.6M266.3,310.2V314.6M267.8,310.0V314.4M269.3,310.3V314.7M270.8,313.2V317.6M272.3,308.1V312.5M273.8,311.9V316.3M275.3,307.3V311.7M276.8,309.3V313.7M278.3,310.5V314.9M279.8,308.6V313.0M281.3,310.6V315.0M282.8,311.6V316.0M284.3,308.0V312.4M285.8,310.1V314.5M287.3,309.5V313.9M288.8,306.5V310.9M290.3,309.7V314.1M291.8,308.5V312.9M293.3,312.7V317.1M294.8,308.7V313.1M296.3,313.8V318.2M297.8,309.5V313.9M299.3,313.8V318.2M300.8,310.7V315.1M302.3,310.3V314.7M303.8,311.4V315.8M305.3,312.4V316.8M306.8,314.2V318.6M308.3,314.8V319.2M309.8,309.7V314.1M311.3,306.4V310.8M312.8,302.8V307.2M314.3,307.8V312.2M315.8,312.2V316.6M317.3,313.7V318.1M318.8,313.9V318.3M320.3,311.1V315.5M321.8,307.1V311.5M323.3,305.3V309.7M324.8,307.0V311.4M326.3,306.3V310.7M327.8,315.1V319.5M329.3,312.8V317.2M330.8,313.3V317.7M332.3,308.1V312.5M333.8,304.8V309.2M335.3,303.0V307.4M336.8,305.9V310.3M338.3,312.0V316.4M339.8,313.0V317.4M341.3,318.8V323.2M342.8,309.9V314.3M344.3,306.1V310.5M345.8,305.2V309.6M347.3,305.9V310.3M348.8,306.1V310.5M350.3,312.2V316.6M351.8,313.3V317.7M353.3,308.2V312.6M354.8,309.3V313.7M356.3,306.2V310.6M357.8,308.8V313.2M359.3,310.7V315.1M360.8,311.9V316.3M362.3,311.9V316.3M363.8,309.3V313.7M365.3,311.7V316.1M366.8,308.9V313.3M368.3,310.5V314.9" stroke="#d8545a" stroke-width="0.6" fill="none"/>
<g fill="#b01a20"><circle cx="203.3" cy="294.1" r="1.1"/><circle cx="204.8" cy="297.0" r="1.1"/><circle cx="206.3" cy="306.8" r="1.1"/><circle cx="207.8" cy="319.3" r="1.1"/><circle cx="209.3" cy="324.9" r="1.1"/><circle cx="210.8" cy="326.7" r="1.1"/><circle cx="212.3" cy="319.3" r="1.1"/><circle cx="213.8" cy="309.5" r="1.1"/><circle cx="215.3" cy="297.9" r="1.1"/><circle cx="216.8" cy="294.6" r="1.1"/><circle cx="218.3" cy="302.9" r="1.1"/><circle cx="219.8" cy="312.4" r="1.1"/><circle cx="221.3" cy="309.7" r="1.1"/><circle cx="222.8" cy="303.1" r="1.1"/><circle cx="224.3" cy="300.8" r="1.1"/><circle cx="225.8" cy="307.3" r="1.1"/><circle cx="227.3" cy="311.2" r="1.1"/><circle cx="228.8" cy="311.9" r="1.1"/><circle cx="230.3" cy="313.1" r="1.1"/><circle cx="231.8" cy="314.9" r="1.1"/><circle cx="233.3" cy="313.8" r="1.1"/><circle cx="234.8" cy="317.1" r="1.1"/><circle cx="236.3" cy="315.1" r="1.1"/><circle cx="237.8" cy="315.0" r="1.1"/><circle cx="239.3" cy="314.2" r="1.1"/><circle cx="240.8" cy="309.8" r="1.1"/><circle cx="242.3" cy="314.0" r="1.1"/><circle cx="243.8" cy="313.5" r="1.1"/><circle cx="245.3" cy="311.4" r="1.1"/><circle cx="246.8" cy="313.5" r="1.1"/><circle cx="248.3" cy="313.2" r="1.1"/><circle cx="249.8" cy="311.5" r="1.1"/><circle cx="251.3" cy="312.2" r="1.1"/><circle cx="252.8" cy="311.9" r="1.1"/><circle cx="254.3" cy="312.8" r="1.1"/><circle cx="255.8" cy="311.6" r="1.1"/><circle cx="257.3" cy="313.4" r="1.1"/><circle cx="258.8" cy="308.8" r="1.1"/><circle cx="260.3" cy="311.9" r="1.1"/><circle cx="261.8" cy="309.2" r="1.1"/><circle cx="263.3" cy="311.5" r="1.1"/><circle cx="264.8" cy="313.4" r="1.1"/><circle cx="266.3" cy="312.4" r="1.1"/><circle cx="267.8" cy="312.2" r="1.1"/><circle cx="269.3" cy="312.5" r="1.1"/><circle cx="270.8" cy="315.4" r="1.1"/><circle cx="272.3" cy="310.3" r="1.1"/><circle cx="273.8" cy="314.1" r="1.1"/><circle cx="275.3" cy="309.5" r="1.1"/><circle cx="276.8" cy="311.5" r="1.1"/><circle cx="278.3" cy="312.7" r="1.1"/><circle cx="279.8" cy="310.8" r="1.1"/><circle cx="281.3" cy="312.8" r="1.1"/><circle cx="282.8" cy="313.8" r="1.1"/><circle cx="284.3" cy="310.2" r="1.1"/><circle cx="285.8" cy="312.3" r="1.1"/><circle cx="287.3" cy="311.7" r="1.1"/><circle cx="288.8" cy="308.7" r="1.1"/><circle cx="290.3" cy="311.9" r="1.1"/><circle cx="291.8" cy="310.7" r="1.1"/><circle cx="293.3" cy="314.9" r="1.1"/><circle cx="294.8" cy="310.9" r="1.1"/><circle cx="296.3" cy="316.0" r="1.1"/><circle cx="297.8" cy="311.7" r="1.1"/><circle cx="299.3" cy="316.0" r="1.1"/><circle cx="300.8" cy="312.9" r="1.1"/><circle cx="302.3" cy="312.5" r="1.1"/><circle cx="303.8" cy="313.6" r="1.1"/><circle cx="305.3" cy="314.6" r="1.1"/><circle cx="306.8" cy="316.4" r="1.1"/><circle cx="308.3" cy="317.0" r="1.1"/><circle cx="309.8" cy="311.9" r="1.1"/><circle cx="311.3" cy="308.6" r="1.1"/><circle cx="312.8" cy="305.0" r="1.1"/><circle cx="314.3" cy="310.0" r="1.1"/><circle cx="315.8" cy="314.4" r="1.1"/><circle cx="317.3" cy="315.9" r="1.1"/><circle cx="318.8" cy="316.1" r="1.1"/><circle cx="320.3" cy="313.3" r="1.1"/><circle cx="321.8" cy="309.3" r="1.1"/><circle cx="323.3" cy="307.5" r="1.1"/><circle cx="324.8" cy="309.2" r="1.1"/><circle cx="326.3" cy="308.5" r="1.1"/><circle cx="327.8" cy="317.3" r="1.1"/><circle cx="329.3" cy="315.0" r="1.1"/><circle cx="330.8" cy="315.5" r="1.1"/><circle cx="332.3" cy="310.3" r="1.1"/><circle cx="333.8" cy="307.0" r="1.1"/><circle cx="335.3" cy="305.2" r="1.1"/><circle cx="336.8" cy="308.1" r="1.1"/><circle cx="338.3" cy="314.2" r="1.1"/><circle cx="339.8" cy="315.2" r="1.1"/><circle cx="341.3" cy="321.0" r="1.1"/><circle cx="342.8" cy="312.1" r="1.1"/><circle cx="344.3" cy="308.3" r="1.1"/><circle cx="345.8" cy="307.4" r="1.1"/><circle cx="347.3" cy="308.1" r="1.1"/><circle cx="348.8" cy="308.3" r="1.1"/><circle cx="350.3" cy="314.4" r="1.1"/><circle cx="351.8" cy="315.5" r="1.1"/><circle cx="353.3" cy="310.4" r="1.1"/><circle cx="354.8" cy="311.5" r="1.1"/><circle cx="356.3" cy="308.4" r="1.1"/><circle cx="357.8" cy="311.0" r="1.1"/><circle cx="359.3" cy="312.9" r="1.1"/><circle cx="360.8" cy="314.1" r="1.1"/><circle cx="362.3" cy="314.1" r="1.1"/><circle cx="363.8" cy="311.5" r="1.1"/><circle cx="365.3" cy="313.9" r="1.1"/><circle cx="366.8" cy="311.1" r="1.1"/><circle cx="368.3" cy="312.7" r="1.1"/></g>
<rect x="202.80" y="251.70" width="167.30" height="78.30" fill="none" stroke="#7a7a7a" stroke-width="1.0"/>
<line x1="236.26" y1="330.00" x2="236.26" y2="327.50" stroke="#7a7a7a" stroke-width="0.8"/>
<line x1="269.72" y1="330.00" x2="269.72" y2="327.50" stroke="#7a7a7a" stroke-width="0.8"/>
<line x1="303.18" y1="330.00" x2="303.18" y2="327.50" stroke="#7a7a7a" stroke-width="0.8"/>
<line x1="336.64" y1="330.00" x2="336.64" y2="327.50" stroke="#7a7a7a" stroke-width="0.8"/>
<line x1="202.80" y1="271.27" x2="205.30" y2="271.27" stroke="#7a7a7a" stroke-width="0.8"/>
<line x1="202.80" y1="290.85" x2="205.30" y2="290.85" stroke="#7a7a7a" stroke-width="0.8"/>
<line x1="202.80" y1="310.43" x2="205.30" y2="310.43" stroke="#7a7a7a" stroke-width="0.8"/>
<text x="202.80" y="341.80" font-size="9.3" text-anchor="middle" fill="#1e1e1e" font-weight="normal" stroke="#1e1e1e" stroke-width="0.18" >0</text>
<text x="269.70" y="341.80" font-size="9.3" text-anchor="middle" fill="#1e1e1e" font-weight="normal" stroke="#1e1e1e" stroke-width="0.18" >0.1</text>
<text x="336.60" y="341.80" font-size="9.3" text-anchor="middle" fill="#1e1e1e" font-weight="normal" stroke="#1e1e1e" stroke-width="0.18" >0.2</text>
<text x="286.2" y="355.4" font-size="9.6" text-anchor="middle" fill="#1e1e1e" stroke="#1e1e1e" stroke-width="0.18">Δ<tspan font-style="italic">t</tspan> (μs)</text>
<line x1="320.0" y1="284.9" x2="329.0" y2="284.9" stroke="#1212c0" stroke-width="0.7"/>
<line x1="320.6" y1="283.4" x2="320.6" y2="286.4" stroke="#1212c0" stroke-width="0.6"/>
<line x1="328.4" y1="283.4" x2="328.4" y2="286.4" stroke="#1212c0" stroke-width="0.6"/>
<g fill="#1212c0"><circle cx="320.6" cy="284.9" r="1.15"/><circle cx="328.4" cy="284.9" r="1.15"/></g>
<line x1="320.0" y1="296.1" x2="329.0" y2="296.1" stroke="#b01a20" stroke-width="0.7"/>
<line x1="320.6" y1="294.6" x2="320.6" y2="297.6" stroke="#b01a20" stroke-width="0.6"/>
<line x1="328.4" y1="294.6" x2="328.4" y2="297.6" stroke="#b01a20" stroke-width="0.6"/>
<g fill="#b01a20"><circle cx="320.6" cy="296.1" r="1.15"/><circle cx="328.4" cy="296.1" r="1.15"/></g>
<text x="333.2" y="288.2" font-size="8.6" fill="#1e1e1e">Δ<tspan font-family="Liberation Serif" font-style="italic">φ</tspan> ~ 0</text>
<text x="333.2" y="299.4" font-size="8.6" fill="#1e1e1e">Δ<tspan font-family="Liberation Serif" font-style="italic">φ</tspan> ~ <tspan font-family="Liberation Serif" font-style="italic">π</tspan></text>
<text transform="translate(362.80,266.00) scale(0.9,1)" font-size="15" font-weight="bold" fill="#111">i</text>
</svg></body></html>
